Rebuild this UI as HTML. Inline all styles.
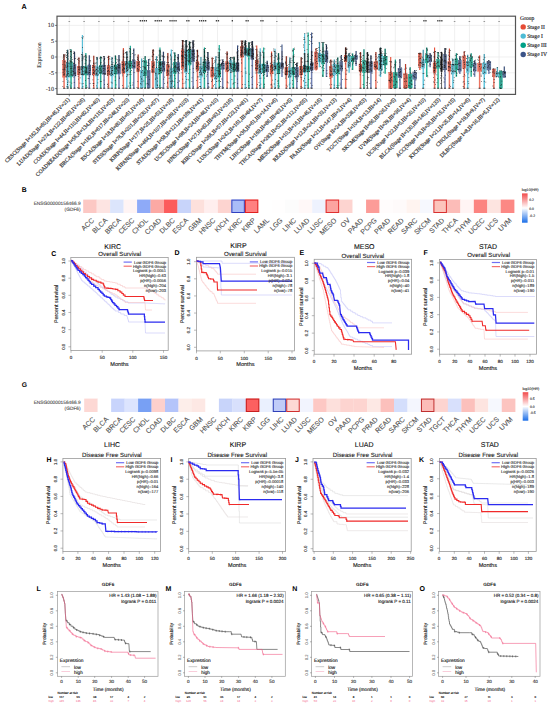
<!DOCTYPE html>
<html><head><meta charset="utf-8"><style>
html,body{margin:0;padding:0;background:#fff;width:550px;height:706px;overflow:hidden}
svg{display:block}
text{text-rendering:geometricPrecision}
</style></head><body>
<svg width="550" height="706" viewBox="0 0 550 706">
<rect x="0" y="0" width="550" height="706" fill="#fff"/>
<text x="21.6" y="8.8" font-size="7.2" text-anchor="start" fill="#000" font-family="'Liberation Sans', sans-serif" font-weight="bold">A</text>
<path d="M57 25.4H515.5M57 41.2H515.5M57 57H515.5M57 72.8H515.5M57 88.6H515.5M69.3 16.2V94.4M84.12 16.2V94.4M98.94 16.2V94.4M113.76 16.2V94.4M128.58 16.2V94.4M143.4 16.2V94.4M158.22 16.2V94.4M173.04 16.2V94.4M187.86 16.2V94.4M202.68 16.2V94.4M217.5 16.2V94.4M232.32 16.2V94.4M247.14 16.2V94.4M261.96 16.2V94.4M276.78 16.2V94.4M291.6 16.2V94.4M306.42 16.2V94.4M321.24 16.2V94.4M336.06 16.2V94.4M350.88 16.2V94.4M365.7 16.2V94.4M380.52 16.2V94.4M395.34 16.2V94.4M410.16 16.2V94.4M424.98 16.2V94.4M439.8 16.2V94.4M454.62 16.2V94.4M469.44 16.2V94.4M484.26 16.2V94.4M499.08 16.2V94.4" stroke="#e6e6e6" stroke-width="0.6" fill="none"/>
<line x1="64.09" y1="77.1" x2="64.09" y2="88.3" stroke="#EC7462" stroke-width="1.5"/>
<line x1="64.09" y1="54.2" x2="64.09" y2="60.7" stroke="#E64B35" stroke-width="1.1"/>
<rect x="62.61" y="60.7" width="2.95" height="16.4" fill="#E64B35" stroke="#E64B35" stroke-width="0.4" fill-opacity="0.78"/>
<line x1="67.56" y1="77.1" x2="67.56" y2="88.3" stroke="#62C6DE" stroke-width="1.5"/>
<line x1="67.56" y1="49.8" x2="67.56" y2="62.9" stroke="#4DBBD5" stroke-width="1.1"/>
<rect x="66.09" y="62.9" width="2.95" height="14.2" fill="#4DBBD5" stroke="#4DBBD5" stroke-width="0.4" fill-opacity="0.78"/>
<line x1="71.04" y1="77" x2="71.04" y2="88.3" stroke="#26B096" stroke-width="1.5"/>
<line x1="71.04" y1="49.3" x2="71.04" y2="61.8" stroke="#00A087" stroke-width="1.1"/>
<rect x="69.56" y="61.8" width="2.95" height="15.2" fill="#00A087" stroke="#00A087" stroke-width="0.4" fill-opacity="0.78"/>
<line x1="74.51" y1="76" x2="74.51" y2="88.3" stroke="#7080B2" stroke-width="1.5"/>
<line x1="74.51" y1="51.5" x2="74.51" y2="64.5" stroke="#3C5488" stroke-width="1.1"/>
<rect x="73.04" y="64.5" width="2.95" height="11.5" fill="#3C5488" stroke="#3C5488" stroke-width="0.4" fill-opacity="0.78"/>
<line x1="78.91" y1="74.9" x2="78.91" y2="88.3" stroke="#EC7462" stroke-width="1.5"/>
<line x1="78.91" y1="57.4" x2="78.91" y2="66.2" stroke="#E64B35" stroke-width="1.1"/>
<rect x="77.43" y="66.2" width="2.95" height="8.7" fill="#E64B35" stroke="#E64B35" stroke-width="0.4" fill-opacity="0.78"/>
<line x1="82.38" y1="74.9" x2="82.38" y2="88.3" stroke="#62C6DE" stroke-width="1.5"/>
<line x1="82.38" y1="35.1" x2="82.38" y2="66.2" stroke="#4DBBD5" stroke-width="1.1"/>
<rect x="80.91" y="66.2" width="2.95" height="8.7" fill="#4DBBD5" stroke="#4DBBD5" stroke-width="0.4" fill-opacity="0.78"/>
<line x1="85.86" y1="74.9" x2="85.86" y2="88.3" stroke="#26B096" stroke-width="1.5"/>
<line x1="85.86" y1="53.1" x2="85.86" y2="66.7" stroke="#00A087" stroke-width="1.1"/>
<rect x="84.38" y="66.7" width="2.95" height="8.2" fill="#00A087" stroke="#00A087" stroke-width="0.4" fill-opacity="0.78"/>
<line x1="89.33" y1="75" x2="89.33" y2="88.3" stroke="#7080B2" stroke-width="1.5"/>
<line x1="89.33" y1="55.3" x2="89.33" y2="65" stroke="#3C5488" stroke-width="1.1"/>
<rect x="87.86" y="65" width="2.95" height="10" fill="#3C5488" stroke="#3C5488" stroke-width="0.4" fill-opacity="0.78"/>
<line x1="93.73" y1="74.9" x2="93.73" y2="88.3" stroke="#EC7462" stroke-width="1.5"/>
<line x1="93.73" y1="55.8" x2="93.73" y2="65.6" stroke="#E64B35" stroke-width="1.1"/>
<rect x="92.25" y="65.6" width="2.95" height="9.3" fill="#E64B35" stroke="#E64B35" stroke-width="0.4" fill-opacity="0.78"/>
<line x1="97.2" y1="76" x2="97.2" y2="88.3" stroke="#62C6DE" stroke-width="1.5"/>
<line x1="97.2" y1="56.9" x2="97.2" y2="66.7" stroke="#4DBBD5" stroke-width="1.1"/>
<rect x="95.73" y="66.7" width="2.95" height="9.3" fill="#4DBBD5" stroke="#4DBBD5" stroke-width="0.4" fill-opacity="0.78"/>
<line x1="100.68" y1="73.8" x2="100.68" y2="88.3" stroke="#26B096" stroke-width="1.5"/>
<line x1="100.68" y1="56.4" x2="100.68" y2="65.6" stroke="#00A087" stroke-width="1.1"/>
<rect x="99.2" y="65.6" width="2.95" height="8.2" fill="#00A087" stroke="#00A087" stroke-width="0.4" fill-opacity="0.78"/>
<line x1="104.15" y1="74.4" x2="104.15" y2="88.3" stroke="#7080B2" stroke-width="1.5"/>
<line x1="104.15" y1="56.4" x2="104.15" y2="65" stroke="#3C5488" stroke-width="1.1"/>
<rect x="102.68" y="65" width="2.95" height="9.4" fill="#3C5488" stroke="#3C5488" stroke-width="0.4" fill-opacity="0.78"/>
<line x1="108.55" y1="74.9" x2="108.55" y2="88.3" stroke="#EC7462" stroke-width="1.5"/>
<line x1="108.55" y1="55.8" x2="108.55" y2="65.6" stroke="#E64B35" stroke-width="1.1"/>
<rect x="107.07" y="65.6" width="2.95" height="9.3" fill="#E64B35" stroke="#E64B35" stroke-width="0.4" fill-opacity="0.78"/>
<line x1="112.02" y1="76" x2="112.02" y2="88.3" stroke="#62C6DE" stroke-width="1.5"/>
<line x1="112.02" y1="57" x2="112.02" y2="66.2" stroke="#4DBBD5" stroke-width="1.1"/>
<rect x="110.55" y="66.2" width="2.95" height="9.8" fill="#4DBBD5" stroke="#4DBBD5" stroke-width="0.4" fill-opacity="0.78"/>
<line x1="115.5" y1="74" x2="115.5" y2="88.3" stroke="#26B096" stroke-width="1.5"/>
<line x1="115.5" y1="55.6" x2="115.5" y2="65" stroke="#00A087" stroke-width="1.1"/>
<rect x="114.02" y="65" width="2.95" height="9" fill="#00A087" stroke="#00A087" stroke-width="0.4" fill-opacity="0.78"/>
<line x1="118.97" y1="74" x2="118.97" y2="88.3" stroke="#7080B2" stroke-width="1.5"/>
<line x1="118.97" y1="55" x2="118.97" y2="64" stroke="#3C5488" stroke-width="1.1"/>
<rect x="117.5" y="64" width="2.95" height="10" fill="#3C5488" stroke="#3C5488" stroke-width="0.4" fill-opacity="0.78"/>
<line x1="123.37" y1="73.6" x2="123.37" y2="88.3" stroke="#EC7462" stroke-width="1.5"/>
<line x1="123.37" y1="48" x2="123.37" y2="61.6" stroke="#E64B35" stroke-width="1.1"/>
<rect x="121.89" y="61.6" width="2.95" height="12" fill="#E64B35" stroke="#E64B35" stroke-width="0.4" fill-opacity="0.78"/>
<line x1="126.84" y1="72.5" x2="126.84" y2="88.3" stroke="#62C6DE" stroke-width="1.5"/>
<line x1="126.84" y1="51.3" x2="126.84" y2="61.6" stroke="#4DBBD5" stroke-width="1.1"/>
<rect x="125.37" y="61.6" width="2.95" height="10.9" fill="#4DBBD5" stroke="#4DBBD5" stroke-width="0.4" fill-opacity="0.78"/>
<line x1="130.32" y1="68.2" x2="130.32" y2="88.3" stroke="#26B096" stroke-width="1.5"/>
<line x1="130.32" y1="45.8" x2="130.32" y2="61" stroke="#00A087" stroke-width="1.1"/>
<rect x="128.84" y="61" width="2.95" height="7.2" fill="#00A087" stroke="#00A087" stroke-width="0.4" fill-opacity="0.78"/>
<line x1="133.79" y1="68.2" x2="133.79" y2="88.3" stroke="#7080B2" stroke-width="1.5"/>
<line x1="133.79" y1="48.5" x2="133.79" y2="60.5" stroke="#3C5488" stroke-width="1.1"/>
<rect x="132.32" y="60.5" width="2.95" height="7.7" fill="#3C5488" stroke="#3C5488" stroke-width="0.4" fill-opacity="0.78"/>
<line x1="138.19" y1="71.4" x2="138.19" y2="88.3" stroke="#EC7462" stroke-width="1.5"/>
<line x1="138.19" y1="54.5" x2="138.19" y2="61.6" stroke="#E64B35" stroke-width="1.1"/>
<rect x="136.71" y="61.6" width="2.95" height="9.8" fill="#E64B35" stroke="#E64B35" stroke-width="0.4" fill-opacity="0.78"/>
<line x1="141.66" y1="87.8" x2="141.66" y2="88.3" stroke="#62C6DE" stroke-width="1.5"/>
<line x1="141.66" y1="58.4" x2="141.66" y2="70.3" stroke="#4DBBD5" stroke-width="1.1"/>
<rect x="140.19" y="70.3" width="2.95" height="17.5" fill="#4DBBD5" stroke="#4DBBD5" stroke-width="0.4" fill-opacity="0.78"/>
<line x1="145.14" y1="75.8" x2="145.14" y2="88.3" stroke="#26B096" stroke-width="1.5"/>
<line x1="145.14" y1="56.2" x2="145.14" y2="60.5" stroke="#00A087" stroke-width="1.1"/>
<rect x="143.66" y="60.5" width="2.95" height="15.3" fill="#00A087" stroke="#00A087" stroke-width="0.4" fill-opacity="0.78"/>
<line x1="148.61" y1="87.8" x2="148.61" y2="88.3" stroke="#7080B2" stroke-width="1.5"/>
<line x1="148.61" y1="58.9" x2="148.61" y2="70.3" stroke="#3C5488" stroke-width="1.1"/>
<rect x="147.14" y="70.3" width="2.95" height="17.5" fill="#3C5488" stroke="#3C5488" stroke-width="0.4" fill-opacity="0.78"/>
<line x1="153.01" y1="72.5" x2="153.01" y2="88.3" stroke="#EC7462" stroke-width="1.5"/>
<line x1="153.01" y1="49.6" x2="153.01" y2="61.6" stroke="#E64B35" stroke-width="1.1"/>
<rect x="151.53" y="61.6" width="2.95" height="10.9" fill="#E64B35" stroke="#E64B35" stroke-width="0.4" fill-opacity="0.78"/>
<line x1="156.48" y1="87.8" x2="156.48" y2="88.3" stroke="#62C6DE" stroke-width="1.5"/>
<line x1="156.48" y1="56.2" x2="156.48" y2="68.2" stroke="#4DBBD5" stroke-width="1.1"/>
<rect x="155.01" y="68.2" width="2.95" height="19.6" fill="#4DBBD5" stroke="#4DBBD5" stroke-width="0.4" fill-opacity="0.78"/>
<line x1="159.96" y1="73.6" x2="159.96" y2="88.3" stroke="#26B096" stroke-width="1.5"/>
<line x1="159.96" y1="47.4" x2="159.96" y2="61.6" stroke="#00A087" stroke-width="1.1"/>
<rect x="158.48" y="61.6" width="2.95" height="12" fill="#00A087" stroke="#00A087" stroke-width="0.4" fill-opacity="0.78"/>
<line x1="163.43" y1="71.4" x2="163.43" y2="88.3" stroke="#7080B2" stroke-width="1.5"/>
<line x1="163.43" y1="51.8" x2="163.43" y2="61.6" stroke="#3C5488" stroke-width="1.1"/>
<rect x="161.96" y="61.6" width="2.95" height="9.8" fill="#3C5488" stroke="#3C5488" stroke-width="0.4" fill-opacity="0.78"/>
<line x1="167.83" y1="75.8" x2="167.83" y2="88.3" stroke="#EC7462" stroke-width="1.5"/>
<line x1="167.83" y1="52.9" x2="167.83" y2="64.9" stroke="#E64B35" stroke-width="1.1"/>
<rect x="166.35" y="64.9" width="2.95" height="10.9" fill="#E64B35" stroke="#E64B35" stroke-width="0.4" fill-opacity="0.78"/>
<line x1="171.3" y1="87.8" x2="171.3" y2="88.3" stroke="#62C6DE" stroke-width="1.5"/>
<line x1="171.3" y1="49.6" x2="171.3" y2="68.2" stroke="#4DBBD5" stroke-width="1.1"/>
<rect x="169.83" y="68.2" width="2.95" height="19.6" fill="#4DBBD5" stroke="#4DBBD5" stroke-width="0.4" fill-opacity="0.78"/>
<line x1="174.78" y1="73.6" x2="174.78" y2="88.3" stroke="#26B096" stroke-width="1.5"/>
<line x1="174.78" y1="52.4" x2="174.78" y2="62.7" stroke="#00A087" stroke-width="1.1"/>
<rect x="173.3" y="62.7" width="2.95" height="10.9" fill="#00A087" stroke="#00A087" stroke-width="0.4" fill-opacity="0.78"/>
<line x1="178.25" y1="71.4" x2="178.25" y2="88.3" stroke="#7080B2" stroke-width="1.5"/>
<line x1="178.25" y1="54" x2="178.25" y2="62.7" stroke="#3C5488" stroke-width="1.1"/>
<rect x="176.78" y="62.7" width="2.95" height="8.7" fill="#3C5488" stroke="#3C5488" stroke-width="0.4" fill-opacity="0.78"/>
<line x1="182.65" y1="68.3" x2="182.65" y2="88.3" stroke="#EC7462" stroke-width="1.5"/>
<line x1="182.65" y1="40" x2="182.65" y2="49.8" stroke="#E64B35" stroke-width="1.1"/>
<rect x="181.17" y="49.8" width="2.95" height="18.5" fill="#E64B35" stroke="#E64B35" stroke-width="0.4" fill-opacity="0.78"/>
<line x1="186.12" y1="72.7" x2="186.12" y2="88.3" stroke="#62C6DE" stroke-width="1.5"/>
<line x1="186.12" y1="40" x2="186.12" y2="49.8" stroke="#4DBBD5" stroke-width="1.1"/>
<rect x="184.65" y="49.8" width="2.95" height="22.9" fill="#4DBBD5" stroke="#4DBBD5" stroke-width="0.4" fill-opacity="0.78"/>
<line x1="189.6" y1="65" x2="189.6" y2="88.3" stroke="#26B096" stroke-width="1.5"/>
<line x1="189.6" y1="41.6" x2="189.6" y2="49.8" stroke="#00A087" stroke-width="1.1"/>
<rect x="188.12" y="49.8" width="2.95" height="15.2" fill="#00A087" stroke="#00A087" stroke-width="0.4" fill-opacity="0.78"/>
<line x1="193.07" y1="61.8" x2="193.07" y2="88.3" stroke="#7080B2" stroke-width="1.5"/>
<line x1="193.07" y1="40.5" x2="193.07" y2="49.8" stroke="#3C5488" stroke-width="1.1"/>
<rect x="191.6" y="49.8" width="2.95" height="12" fill="#3C5488" stroke="#3C5488" stroke-width="0.4" fill-opacity="0.78"/>
<line x1="197.47" y1="70.5" x2="197.47" y2="88.3" stroke="#EC7462" stroke-width="1.5"/>
<line x1="197.47" y1="49.8" x2="197.47" y2="61.8" stroke="#E64B35" stroke-width="1.1"/>
<rect x="195.99" y="61.8" width="2.95" height="8.7" fill="#E64B35" stroke="#E64B35" stroke-width="0.4" fill-opacity="0.78"/>
<line x1="200.94" y1="77.1" x2="200.94" y2="88.3" stroke="#62C6DE" stroke-width="1.5"/>
<line x1="200.94" y1="56.9" x2="200.94" y2="66.2" stroke="#4DBBD5" stroke-width="1.1"/>
<rect x="199.47" y="66.2" width="2.95" height="10.9" fill="#4DBBD5" stroke="#4DBBD5" stroke-width="0.4" fill-opacity="0.78"/>
<line x1="204.42" y1="72.7" x2="204.42" y2="88.3" stroke="#26B096" stroke-width="1.5"/>
<line x1="204.42" y1="47.6" x2="204.42" y2="61.8" stroke="#00A087" stroke-width="1.1"/>
<rect x="202.94" y="61.8" width="2.95" height="10.9" fill="#00A087" stroke="#00A087" stroke-width="0.4" fill-opacity="0.78"/>
<line x1="207.89" y1="70.5" x2="207.89" y2="88.3" stroke="#7080B2" stroke-width="1.5"/>
<line x1="207.89" y1="52" x2="207.89" y2="61.8" stroke="#3C5488" stroke-width="1.1"/>
<rect x="206.42" y="61.8" width="2.95" height="8.7" fill="#3C5488" stroke="#3C5488" stroke-width="0.4" fill-opacity="0.78"/>
<line x1="212.29" y1="77.1" x2="212.29" y2="88.3" stroke="#EC7462" stroke-width="1.5"/>
<line x1="212.29" y1="57.4" x2="212.29" y2="67.3" stroke="#E64B35" stroke-width="1.1"/>
<rect x="210.81" y="67.3" width="2.95" height="9.8" fill="#E64B35" stroke="#E64B35" stroke-width="0.4" fill-opacity="0.78"/>
<line x1="215.76" y1="79.2" x2="215.76" y2="88.3" stroke="#62C6DE" stroke-width="1.5"/>
<line x1="215.76" y1="56.3" x2="215.76" y2="67.3" stroke="#4DBBD5" stroke-width="1.1"/>
<rect x="214.29" y="67.3" width="2.95" height="11.9" fill="#4DBBD5" stroke="#4DBBD5" stroke-width="0.4" fill-opacity="0.78"/>
<line x1="219.24" y1="77.1" x2="219.24" y2="88.3" stroke="#26B096" stroke-width="1.5"/>
<line x1="219.24" y1="44.9" x2="219.24" y2="64" stroke="#00A087" stroke-width="1.1"/>
<rect x="217.76" y="64" width="2.95" height="13.1" fill="#00A087" stroke="#00A087" stroke-width="0.4" fill-opacity="0.78"/>
<line x1="222.71" y1="69.4" x2="222.71" y2="88.3" stroke="#7080B2" stroke-width="1.5"/>
<line x1="222.71" y1="59.6" x2="222.71" y2="62.9" stroke="#3C5488" stroke-width="1.1"/>
<rect x="221.24" y="62.9" width="2.95" height="6.5" fill="#3C5488" stroke="#3C5488" stroke-width="0.4" fill-opacity="0.78"/>
<line x1="227.11" y1="71.6" x2="227.11" y2="88.3" stroke="#EC7462" stroke-width="1.5"/>
<line x1="227.11" y1="51.4" x2="227.11" y2="61.8" stroke="#E64B35" stroke-width="1.1"/>
<rect x="225.63" y="61.8" width="2.95" height="9.8" fill="#E64B35" stroke="#E64B35" stroke-width="0.4" fill-opacity="0.78"/>
<line x1="230.58" y1="70.5" x2="230.58" y2="88.3" stroke="#62C6DE" stroke-width="1.5"/>
<line x1="230.58" y1="56.9" x2="230.58" y2="60.7" stroke="#4DBBD5" stroke-width="1.1"/>
<rect x="229.11" y="60.7" width="2.95" height="9.8" fill="#4DBBD5" stroke="#4DBBD5" stroke-width="0.4" fill-opacity="0.78"/>
<line x1="234.06" y1="71.6" x2="234.06" y2="88.3" stroke="#26B096" stroke-width="1.5"/>
<line x1="234.06" y1="56.9" x2="234.06" y2="62.9" stroke="#00A087" stroke-width="1.1"/>
<rect x="232.58" y="62.9" width="2.95" height="8.7" fill="#00A087" stroke="#00A087" stroke-width="0.4" fill-opacity="0.78"/>
<line x1="237.53" y1="71.6" x2="237.53" y2="88.3" stroke="#7080B2" stroke-width="1.5"/>
<line x1="237.53" y1="45.4" x2="237.53" y2="62.9" stroke="#3C5488" stroke-width="1.1"/>
<rect x="236.06" y="62.9" width="2.95" height="8.7" fill="#3C5488" stroke="#3C5488" stroke-width="0.4" fill-opacity="0.78"/>
<line x1="241.93" y1="57.4" x2="241.93" y2="88.3" stroke="#EC7462" stroke-width="1.5"/>
<line x1="241.93" y1="40.5" x2="241.93" y2="46.5" stroke="#E64B35" stroke-width="1.1"/>
<rect x="240.45" y="46.5" width="2.95" height="10.9" fill="#E64B35" stroke="#E64B35" stroke-width="0.4" fill-opacity="0.78"/>
<line x1="245.4" y1="55.3" x2="245.4" y2="88.3" stroke="#62C6DE" stroke-width="1.5"/>
<line x1="245.4" y1="40.5" x2="245.4" y2="47.6" stroke="#4DBBD5" stroke-width="1.1"/>
<rect x="243.93" y="47.6" width="2.95" height="7.7" fill="#4DBBD5" stroke="#4DBBD5" stroke-width="0.4" fill-opacity="0.78"/>
<line x1="248.88" y1="56.3" x2="248.88" y2="88.3" stroke="#26B096" stroke-width="1.5"/>
<line x1="248.88" y1="42.2" x2="248.88" y2="48.7" stroke="#00A087" stroke-width="1.1"/>
<rect x="247.4" y="48.7" width="2.95" height="7.6" fill="#00A087" stroke="#00A087" stroke-width="0.4" fill-opacity="0.78"/>
<line x1="252.35" y1="59.6" x2="252.35" y2="88.3" stroke="#7080B2" stroke-width="1.5"/>
<line x1="252.35" y1="41.1" x2="252.35" y2="48.7" stroke="#3C5488" stroke-width="1.1"/>
<rect x="250.88" y="48.7" width="2.95" height="10.9" fill="#3C5488" stroke="#3C5488" stroke-width="0.4" fill-opacity="0.78"/>
<line x1="256.75" y1="70.5" x2="256.75" y2="88.3" stroke="#EC7462" stroke-width="1.5"/>
<line x1="256.75" y1="45.4" x2="256.75" y2="60.7" stroke="#E64B35" stroke-width="1.1"/>
<rect x="255.27" y="60.7" width="2.95" height="9.8" fill="#E64B35" stroke="#E64B35" stroke-width="0.4" fill-opacity="0.78"/>
<line x1="260.22" y1="73.8" x2="260.22" y2="88.3" stroke="#62C6DE" stroke-width="1.5"/>
<line x1="260.22" y1="48.2" x2="260.22" y2="64" stroke="#4DBBD5" stroke-width="1.1"/>
<rect x="258.75" y="64" width="2.95" height="9.8" fill="#4DBBD5" stroke="#4DBBD5" stroke-width="0.4" fill-opacity="0.78"/>
<line x1="263.7" y1="72.7" x2="263.7" y2="88.3" stroke="#26B096" stroke-width="1.5"/>
<line x1="263.7" y1="47.6" x2="263.7" y2="64" stroke="#00A087" stroke-width="1.1"/>
<rect x="262.22" y="64" width="2.95" height="8.7" fill="#00A087" stroke="#00A087" stroke-width="0.4" fill-opacity="0.78"/>
<line x1="267.17" y1="71.6" x2="267.17" y2="77" stroke="#7080B2" stroke-width="1.5"/>
<line x1="267.17" y1="60.7" x2="267.17" y2="65" stroke="#3C5488" stroke-width="1.1"/>
<rect x="265.7" y="65" width="2.95" height="6.6" fill="#3C5488" stroke="#3C5488" stroke-width="0.4" fill-opacity="0.78"/>
<line x1="271.57" y1="73.8" x2="271.57" y2="88.3" stroke="#EC7462" stroke-width="1.5"/>
<line x1="271.57" y1="51.4" x2="271.57" y2="65" stroke="#E64B35" stroke-width="1.1"/>
<rect x="270.09" y="65" width="2.95" height="8.8" fill="#E64B35" stroke="#E64B35" stroke-width="0.4" fill-opacity="0.78"/>
<line x1="275.04" y1="70.5" x2="275.04" y2="88.3" stroke="#62C6DE" stroke-width="1.5"/>
<line x1="275.04" y1="48.7" x2="275.04" y2="62.9" stroke="#4DBBD5" stroke-width="1.1"/>
<rect x="273.57" y="62.9" width="2.95" height="7.6" fill="#4DBBD5" stroke="#4DBBD5" stroke-width="0.4" fill-opacity="0.78"/>
<line x1="278.52" y1="73.8" x2="278.52" y2="88.3" stroke="#26B096" stroke-width="1.5"/>
<line x1="278.52" y1="53.1" x2="278.52" y2="62.9" stroke="#00A087" stroke-width="1.1"/>
<rect x="277.04" y="62.9" width="2.95" height="10.9" fill="#00A087" stroke="#00A087" stroke-width="0.4" fill-opacity="0.78"/>
<line x1="281.99" y1="68.3" x2="281.99" y2="77" stroke="#7080B2" stroke-width="1.5"/>
<line x1="281.99" y1="44.4" x2="281.99" y2="62.9" stroke="#3C5488" stroke-width="1.1"/>
<rect x="280.52" y="62.9" width="2.95" height="5.4" fill="#3C5488" stroke="#3C5488" stroke-width="0.4" fill-opacity="0.78"/>
<line x1="286.39" y1="74.9" x2="286.39" y2="88.3" stroke="#EC7462" stroke-width="1.5"/>
<line x1="286.39" y1="56.3" x2="286.39" y2="67.3" stroke="#E64B35" stroke-width="1.1"/>
<rect x="284.91" y="67.3" width="2.95" height="7.6" fill="#E64B35" stroke="#E64B35" stroke-width="0.4" fill-opacity="0.78"/>
<line x1="289.86" y1="77.1" x2="289.86" y2="88.3" stroke="#62C6DE" stroke-width="1.5"/>
<line x1="289.86" y1="57.4" x2="289.86" y2="68.3" stroke="#4DBBD5" stroke-width="1.1"/>
<rect x="288.39" y="68.3" width="2.95" height="8.8" fill="#4DBBD5" stroke="#4DBBD5" stroke-width="0.4" fill-opacity="0.78"/>
<line x1="293.34" y1="74.9" x2="293.34" y2="88.3" stroke="#26B096" stroke-width="1.5"/>
<line x1="293.34" y1="48.2" x2="293.34" y2="67.3" stroke="#00A087" stroke-width="1.1"/>
<rect x="291.86" y="67.3" width="2.95" height="7.6" fill="#00A087" stroke="#00A087" stroke-width="0.4" fill-opacity="0.78"/>
<line x1="296.81" y1="77.1" x2="296.81" y2="88.3" stroke="#7080B2" stroke-width="1.5"/>
<line x1="296.81" y1="62.9" x2="296.81" y2="67.3" stroke="#3C5488" stroke-width="1.1"/>
<rect x="295.34" y="67.3" width="2.95" height="9.8" fill="#3C5488" stroke="#3C5488" stroke-width="0.4" fill-opacity="0.78"/>
<line x1="301.21" y1="74.9" x2="301.21" y2="88.3" stroke="#EC7462" stroke-width="1.5"/>
<line x1="301.21" y1="57.4" x2="301.21" y2="66.2" stroke="#E64B35" stroke-width="1.1"/>
<rect x="299.73" y="66.2" width="2.95" height="8.7" fill="#E64B35" stroke="#E64B35" stroke-width="0.4" fill-opacity="0.78"/>
<line x1="304.68" y1="72.7" x2="304.68" y2="88.3" stroke="#62C6DE" stroke-width="1.5"/>
<line x1="304.68" y1="33.4" x2="304.68" y2="65" stroke="#4DBBD5" stroke-width="1.1"/>
<rect x="303.21" y="65" width="2.95" height="7.7" fill="#4DBBD5" stroke="#4DBBD5" stroke-width="0.4" fill-opacity="0.78"/>
<line x1="308.16" y1="71.6" x2="308.16" y2="88.3" stroke="#26B096" stroke-width="1.5"/>
<line x1="308.16" y1="32.4" x2="308.16" y2="66.2" stroke="#00A087" stroke-width="1.1"/>
<rect x="306.68" y="66.2" width="2.95" height="5.4" fill="#00A087" stroke="#00A087" stroke-width="0.4" fill-opacity="0.78"/>
<line x1="311.63" y1="70.5" x2="311.63" y2="88.3" stroke="#7080B2" stroke-width="1.5"/>
<line x1="311.63" y1="32.4" x2="311.63" y2="62.9" stroke="#3C5488" stroke-width="1.1"/>
<rect x="310.16" y="62.9" width="2.95" height="7.6" fill="#3C5488" stroke="#3C5488" stroke-width="0.4" fill-opacity="0.78"/>
<line x1="316.03" y1="69.4" x2="316.03" y2="70.5" stroke="#EC7462" stroke-width="1.5"/>
<line x1="316.03" y1="48.2" x2="316.03" y2="52" stroke="#E64B35" stroke-width="1.1"/>
<rect x="314.55" y="52" width="2.95" height="17.4" fill="#E64B35" stroke="#E64B35" stroke-width="0.4" fill-opacity="0.78"/>
<line x1="319.5" y1="61.8" x2="319.5" y2="67.3" stroke="#62C6DE" stroke-width="1.5"/>
<line x1="319.5" y1="42.2" x2="319.5" y2="53.1" stroke="#4DBBD5" stroke-width="1.1"/>
<rect x="318.03" y="53.1" width="2.95" height="8.7" fill="#4DBBD5" stroke="#4DBBD5" stroke-width="0.4" fill-opacity="0.78"/>
<line x1="322.98" y1="64" x2="322.98" y2="77" stroke="#26B096" stroke-width="1.5"/>
<line x1="322.98" y1="42.2" x2="322.98" y2="54.2" stroke="#00A087" stroke-width="1.1"/>
<rect x="321.5" y="54.2" width="2.95" height="9.8" fill="#00A087" stroke="#00A087" stroke-width="0.4" fill-opacity="0.78"/>
<line x1="326.45" y1="61.8" x2="326.45" y2="77" stroke="#7080B2" stroke-width="1.5"/>
<line x1="326.45" y1="44.4" x2="326.45" y2="50.9" stroke="#3C5488" stroke-width="1.1"/>
<rect x="324.98" y="50.9" width="2.95" height="10.9" fill="#3C5488" stroke="#3C5488" stroke-width="0.4" fill-opacity="0.78"/>
<line x1="330.85" y1="77.1" x2="330.85" y2="88.3" stroke="#EC7462" stroke-width="1.5"/>
<line x1="330.85" y1="59.6" x2="330.85" y2="66.2" stroke="#E64B35" stroke-width="1.1"/>
<rect x="329.37" y="66.2" width="2.95" height="10.9" fill="#E64B35" stroke="#E64B35" stroke-width="0.4" fill-opacity="0.78"/>
<line x1="334.32" y1="74.9" x2="334.32" y2="88.3" stroke="#62C6DE" stroke-width="1.5"/>
<line x1="334.32" y1="59.6" x2="334.32" y2="64" stroke="#4DBBD5" stroke-width="1.1"/>
<rect x="332.85" y="64" width="2.95" height="10.9" fill="#4DBBD5" stroke="#4DBBD5" stroke-width="0.4" fill-opacity="0.78"/>
<line x1="337.8" y1="73.8" x2="337.8" y2="88.3" stroke="#26B096" stroke-width="1.5"/>
<line x1="337.8" y1="57.4" x2="337.8" y2="65" stroke="#00A087" stroke-width="1.1"/>
<rect x="336.32" y="65" width="2.95" height="8.8" fill="#00A087" stroke="#00A087" stroke-width="0.4" fill-opacity="0.78"/>
<line x1="341.27" y1="70.5" x2="341.27" y2="88.3" stroke="#7080B2" stroke-width="1.5"/>
<line x1="341.27" y1="55.3" x2="341.27" y2="61.8" stroke="#3C5488" stroke-width="1.1"/>
<rect x="339.8" y="61.8" width="2.95" height="8.7" fill="#3C5488" stroke="#3C5488" stroke-width="0.4" fill-opacity="0.78"/>
<line x1="345.67" y1="61.8" x2="345.67" y2="88.3" stroke="#EC7462" stroke-width="1.5"/>
<line x1="345.67" y1="47.6" x2="345.67" y2="55.3" stroke="#E64B35" stroke-width="1.1"/>
<rect x="344.19" y="55.3" width="2.95" height="6.5" fill="#E64B35" stroke="#E64B35" stroke-width="0.4" fill-opacity="0.78"/>
<line x1="349.14" y1="67.3" x2="349.14" y2="72.7" stroke="#62C6DE" stroke-width="1.5"/>
<line x1="349.14" y1="53.1" x2="349.14" y2="55.3" stroke="#4DBBD5" stroke-width="1.1"/>
<rect x="347.67" y="55.3" width="2.95" height="12" fill="#4DBBD5" stroke="#4DBBD5" stroke-width="0.4" fill-opacity="0.78"/>
<line x1="352.62" y1="61.8" x2="352.62" y2="70" stroke="#26B096" stroke-width="1.5"/>
<line x1="352.62" y1="53.6" x2="352.62" y2="56.3" stroke="#00A087" stroke-width="1.1"/>
<rect x="351.14" y="56.3" width="2.95" height="5.5" fill="#00A087" stroke="#00A087" stroke-width="0.4" fill-opacity="0.78"/>
<line x1="356.09" y1="59.6" x2="356.09" y2="66" stroke="#7080B2" stroke-width="1.5"/>
<line x1="356.09" y1="50.9" x2="356.09" y2="55.3" stroke="#3C5488" stroke-width="1.1"/>
<rect x="354.62" y="55.3" width="2.95" height="4.3" fill="#3C5488" stroke="#3C5488" stroke-width="0.4" fill-opacity="0.78"/>
<line x1="360.49" y1="71.6" x2="360.49" y2="88.3" stroke="#EC7462" stroke-width="1.5"/>
<line x1="360.49" y1="52" x2="360.49" y2="64" stroke="#E64B35" stroke-width="1.1"/>
<rect x="359.01" y="64" width="2.95" height="7.6" fill="#E64B35" stroke="#E64B35" stroke-width="0.4" fill-opacity="0.78"/>
<line x1="363.96" y1="72.7" x2="363.96" y2="88.3" stroke="#26B096" stroke-width="1.5"/>
<line x1="363.96" y1="49.3" x2="363.96" y2="60.7" stroke="#00A087" stroke-width="1.1"/>
<rect x="362.49" y="60.7" width="2.95" height="12" fill="#00A087" stroke="#00A087" stroke-width="0.4" fill-opacity="0.78"/>
<line x1="367.44" y1="52" x2="367.44" y2="88.3" stroke="#555" stroke-width="0.9"/>
<rect x="366.44" y="60.7" width="2" height="12" fill="#1a1a1a" stroke="none" stroke-width="1" opacity="0.8"/>
<line x1="370.91" y1="72.7" x2="370.91" y2="88.3" stroke="#7080B2" stroke-width="1.5"/>
<line x1="370.91" y1="55.3" x2="370.91" y2="61.8" stroke="#3C5488" stroke-width="1.1"/>
<rect x="369.44" y="61.8" width="2.95" height="10.9" fill="#3C5488" stroke="#3C5488" stroke-width="0.4" fill-opacity="0.78"/>
<line x1="375.89" y1="69.4" x2="375.89" y2="88.3" stroke="#EC7462" stroke-width="1.5"/>
<line x1="375.89" y1="52" x2="375.89" y2="61.8" stroke="#E64B35" stroke-width="1.1"/>
<rect x="373.92" y="61.8" width="3.94" height="7.6" fill="#E64B35" stroke="#E64B35" stroke-width="0.4" fill-opacity="0.78"/>
<line x1="380.52" y1="70.5" x2="380.52" y2="77" stroke="#62C6DE" stroke-width="1.5"/>
<line x1="380.52" y1="47.6" x2="380.52" y2="54.2" stroke="#4DBBD5" stroke-width="1.1"/>
<rect x="378.55" y="54.2" width="3.94" height="16.3" fill="#4DBBD5" stroke="#4DBBD5" stroke-width="0.4" fill-opacity="0.78"/>
<line x1="385.15" y1="65" x2="385.15" y2="73.8" stroke="#26B096" stroke-width="1.5"/>
<line x1="385.15" y1="48.7" x2="385.15" y2="56.3" stroke="#00A087" stroke-width="1.1"/>
<rect x="383.18" y="56.3" width="3.94" height="8.7" fill="#00A087" stroke="#00A087" stroke-width="0.4" fill-opacity="0.78"/>
<line x1="390.71" y1="88.3" x2="390.71" y2="88.3" stroke="#EC7462" stroke-width="1.5"/>
<line x1="390.71" y1="56.9" x2="390.71" y2="72.7" stroke="#E64B35" stroke-width="1.1"/>
<rect x="388.74" y="72.7" width="3.94" height="15.6" fill="#E64B35" stroke="#E64B35" stroke-width="0.4" fill-opacity="0.78"/>
<line x1="395.34" y1="88" x2="395.34" y2="88.3" stroke="#26B096" stroke-width="1.5"/>
<line x1="395.34" y1="59.6" x2="395.34" y2="72.7" stroke="#00A087" stroke-width="1.1"/>
<rect x="393.37" y="72.7" width="3.94" height="15.3" fill="#00A087" stroke="#00A087" stroke-width="0.4" fill-opacity="0.78"/>
<line x1="399.97" y1="77.6" x2="399.97" y2="88.3" stroke="#7080B2" stroke-width="1.5"/>
<line x1="399.97" y1="59" x2="399.97" y2="68.3" stroke="#3C5488" stroke-width="1.1"/>
<rect x="398" y="68.3" width="3.94" height="9.3" fill="#3C5488" stroke="#3C5488" stroke-width="0.4" fill-opacity="0.78"/>
<line x1="405.53" y1="88" x2="405.53" y2="88.3" stroke="#EC7462" stroke-width="1.5"/>
<line x1="405.53" y1="64" x2="405.53" y2="73.8" stroke="#E64B35" stroke-width="1.1"/>
<rect x="403.56" y="73.8" width="3.94" height="14.2" fill="#E64B35" stroke="#E64B35" stroke-width="0.4" fill-opacity="0.78"/>
<line x1="410.16" y1="88" x2="410.16" y2="88.3" stroke="#26B096" stroke-width="1.5"/>
<line x1="410.16" y1="67.3" x2="410.16" y2="74.3" stroke="#00A087" stroke-width="1.1"/>
<rect x="408.19" y="74.3" width="3.94" height="13.7" fill="#00A087" stroke="#00A087" stroke-width="0.4" fill-opacity="0.78"/>
<line x1="414.79" y1="79.2" x2="414.79" y2="88.3" stroke="#7080B2" stroke-width="1.5"/>
<line x1="414.79" y1="70" x2="414.79" y2="72.7" stroke="#3C5488" stroke-width="1.1"/>
<rect x="412.82" y="72.7" width="3.94" height="6.5" fill="#3C5488" stroke="#3C5488" stroke-width="0.4" fill-opacity="0.78"/>
<line x1="419.77" y1="66.2" x2="419.77" y2="70" stroke="#EC7462" stroke-width="1.5"/>
<line x1="419.77" y1="53.1" x2="419.77" y2="53.6" stroke="#E64B35" stroke-width="1.1"/>
<rect x="418.29" y="53.6" width="2.95" height="12.6" fill="#E64B35" stroke="#E64B35" stroke-width="0.4" fill-opacity="0.78"/>
<line x1="423.24" y1="68.3" x2="423.24" y2="88.3" stroke="#62C6DE" stroke-width="1.5"/>
<line x1="423.24" y1="49.8" x2="423.24" y2="59.6" stroke="#4DBBD5" stroke-width="1.1"/>
<rect x="421.77" y="59.6" width="2.95" height="8.7" fill="#4DBBD5" stroke="#4DBBD5" stroke-width="0.4" fill-opacity="0.78"/>
<line x1="426.72" y1="62.9" x2="426.72" y2="77" stroke="#26B096" stroke-width="1.5"/>
<line x1="426.72" y1="47.6" x2="426.72" y2="55.3" stroke="#00A087" stroke-width="1.1"/>
<rect x="425.24" y="55.3" width="2.95" height="7.6" fill="#00A087" stroke="#00A087" stroke-width="0.4" fill-opacity="0.78"/>
<line x1="430.19" y1="61.8" x2="430.19" y2="67.3" stroke="#7080B2" stroke-width="1.5"/>
<line x1="430.19" y1="53.1" x2="430.19" y2="55.3" stroke="#3C5488" stroke-width="1.1"/>
<rect x="428.72" y="55.3" width="2.95" height="6.5" fill="#3C5488" stroke="#3C5488" stroke-width="0.4" fill-opacity="0.78"/>
<line x1="434.59" y1="72.7" x2="434.59" y2="88.3" stroke="#EC7462" stroke-width="1.5"/>
<line x1="434.59" y1="47.6" x2="434.59" y2="62.9" stroke="#E64B35" stroke-width="1.1"/>
<rect x="433.11" y="62.9" width="2.95" height="9.8" fill="#E64B35" stroke="#E64B35" stroke-width="0.4" fill-opacity="0.78"/>
<line x1="438.06" y1="68.3" x2="438.06" y2="88.3" stroke="#26B096" stroke-width="1.5"/>
<line x1="438.06" y1="52" x2="438.06" y2="59.6" stroke="#00A087" stroke-width="1.1"/>
<rect x="436.59" y="59.6" width="2.95" height="8.7" fill="#00A087" stroke="#00A087" stroke-width="0.4" fill-opacity="0.78"/>
<line x1="441.54" y1="52" x2="441.54" y2="88.3" stroke="#555" stroke-width="0.9"/>
<rect x="440.54" y="58" width="2" height="14" fill="#1a1a1a" stroke="none" stroke-width="1" opacity="0.8"/>
<line x1="445.01" y1="69.9" x2="445.01" y2="88.3" stroke="#7080B2" stroke-width="1.5"/>
<line x1="445.01" y1="48.5" x2="445.01" y2="54.7" stroke="#3C5488" stroke-width="1.1"/>
<rect x="443.54" y="54.7" width="2.95" height="15.2" fill="#3C5488" stroke="#3C5488" stroke-width="0.4" fill-opacity="0.78"/>
<line x1="449.41" y1="71.2" x2="449.41" y2="88.3" stroke="#EC7462" stroke-width="1.5"/>
<line x1="449.41" y1="48.5" x2="449.41" y2="61.6" stroke="#E64B35" stroke-width="1.1"/>
<rect x="447.93" y="61.6" width="2.95" height="9.6" fill="#E64B35" stroke="#E64B35" stroke-width="0.4" fill-opacity="0.78"/>
<line x1="452.88" y1="74" x2="452.88" y2="88.3" stroke="#62C6DE" stroke-width="1.5"/>
<line x1="452.88" y1="58.8" x2="452.88" y2="64.3" stroke="#4DBBD5" stroke-width="1.1"/>
<rect x="451.41" y="64.3" width="2.95" height="9.7" fill="#4DBBD5" stroke="#4DBBD5" stroke-width="0.4" fill-opacity="0.78"/>
<line x1="456.36" y1="69.9" x2="456.36" y2="76.8" stroke="#26B096" stroke-width="1.5"/>
<line x1="456.36" y1="53.3" x2="456.36" y2="58.8" stroke="#00A087" stroke-width="1.1"/>
<rect x="454.88" y="58.8" width="2.95" height="11.1" fill="#00A087" stroke="#00A087" stroke-width="0.4" fill-opacity="0.78"/>
<line x1="459.83" y1="71.2" x2="459.83" y2="74" stroke="#7080B2" stroke-width="1.5"/>
<line x1="459.83" y1="56" x2="459.83" y2="60.2" stroke="#3C5488" stroke-width="1.1"/>
<rect x="458.36" y="60.2" width="2.95" height="11" fill="#3C5488" stroke="#3C5488" stroke-width="0.4" fill-opacity="0.78"/>
<line x1="464.23" y1="68.5" x2="464.23" y2="88.3" stroke="#EC7462" stroke-width="1.5"/>
<line x1="464.23" y1="51.2" x2="464.23" y2="56" stroke="#E64B35" stroke-width="1.1"/>
<rect x="462.75" y="56" width="2.95" height="12.5" fill="#E64B35" stroke="#E64B35" stroke-width="0.4" fill-opacity="0.78"/>
<line x1="467.7" y1="72.6" x2="467.7" y2="88.3" stroke="#62C6DE" stroke-width="1.5"/>
<line x1="467.7" y1="54.7" x2="467.7" y2="61.6" stroke="#4DBBD5" stroke-width="1.1"/>
<rect x="466.23" y="61.6" width="2.95" height="11" fill="#4DBBD5" stroke="#4DBBD5" stroke-width="0.4" fill-opacity="0.78"/>
<line x1="471.18" y1="67.1" x2="471.18" y2="76.8" stroke="#26B096" stroke-width="1.5"/>
<line x1="471.18" y1="53.3" x2="471.18" y2="57.4" stroke="#00A087" stroke-width="1.1"/>
<rect x="469.7" y="57.4" width="2.95" height="9.7" fill="#00A087" stroke="#00A087" stroke-width="0.4" fill-opacity="0.78"/>
<line x1="474.65" y1="71.2" x2="474.65" y2="76.8" stroke="#7080B2" stroke-width="1.5"/>
<line x1="474.65" y1="60.2" x2="474.65" y2="63" stroke="#3C5488" stroke-width="1.1"/>
<rect x="473.18" y="63" width="2.95" height="8.2" fill="#3C5488" stroke="#3C5488" stroke-width="0.4" fill-opacity="0.78"/>
<line x1="479.63" y1="71.2" x2="479.63" y2="88.3" stroke="#EC7462" stroke-width="1.5"/>
<line x1="479.63" y1="55.4" x2="479.63" y2="63.7" stroke="#E64B35" stroke-width="1.1"/>
<rect x="477.66" y="63.7" width="3.94" height="7.5" fill="#E64B35" stroke="#E64B35" stroke-width="0.4" fill-opacity="0.78"/>
<line x1="484.26" y1="74" x2="484.26" y2="88.3" stroke="#62C6DE" stroke-width="1.5"/>
<line x1="484.26" y1="54" x2="484.26" y2="63" stroke="#4DBBD5" stroke-width="1.1"/>
<rect x="482.29" y="63" width="3.94" height="11" fill="#4DBBD5" stroke="#4DBBD5" stroke-width="0.4" fill-opacity="0.78"/>
<line x1="488.89" y1="69.9" x2="488.89" y2="74" stroke="#7080B2" stroke-width="1.5"/>
<line x1="488.89" y1="60.2" x2="488.89" y2="61.6" stroke="#3C5488" stroke-width="1.1"/>
<rect x="486.92" y="61.6" width="3.94" height="8.3" fill="#3C5488" stroke="#3C5488" stroke-width="0.4" fill-opacity="0.78"/>
<line x1="493.87" y1="76.8" x2="493.87" y2="88.3" stroke="#EC7462" stroke-width="1.5"/>
<line x1="493.87" y1="68.5" x2="493.87" y2="69.2" stroke="#E64B35" stroke-width="1.1"/>
<rect x="492.39" y="69.2" width="2.95" height="7.6" fill="#E64B35" stroke="#E64B35" stroke-width="0.4" fill-opacity="0.78"/>
<line x1="497.34" y1="76.8" x2="497.34" y2="77" stroke="#62C6DE" stroke-width="1.5"/>
<line x1="497.34" y1="67.1" x2="497.34" y2="72.6" stroke="#4DBBD5" stroke-width="1.1"/>
<rect x="495.87" y="72.6" width="2.95" height="4.2" fill="#4DBBD5" stroke="#4DBBD5" stroke-width="0.4" fill-opacity="0.78"/>
<line x1="500.82" y1="88.5" x2="500.82" y2="88.3" stroke="#26B096" stroke-width="1.5"/>
<line x1="500.82" y1="70.6" x2="500.82" y2="71.2" stroke="#00A087" stroke-width="1.1"/>
<rect x="499.34" y="71.2" width="2.95" height="17.3" fill="#00A087" stroke="#00A087" stroke-width="0.4" fill-opacity="0.78"/>
<line x1="504.29" y1="77.5" x2="504.29" y2="77.5" stroke="#7080B2" stroke-width="1.5"/>
<line x1="504.29" y1="66.4" x2="504.29" y2="71.2" stroke="#3C5488" stroke-width="1.1"/>
<rect x="502.82" y="71.2" width="2.95" height="6.3" fill="#3C5488" stroke="#3C5488" stroke-width="0.4" fill-opacity="0.78"/>
<rect x="63.34" y="54.2" width="1.5" height="21.26" fill="#111" opacity="0.4"/>
<rect x="66.81" y="50.9" width="1.5" height="24.78" fill="#111" opacity="0.6"/>
<rect x="70.29" y="49.8" width="1.5" height="25.68" fill="#111" opacity="0.4"/>
<rect x="73.76" y="52.5" width="1.5" height="22.35" fill="#111" opacity="0.3"/>
<rect x="78.16" y="57.4" width="1.5" height="16.63" fill="#111" opacity="0.3"/>
<rect x="81.63" y="54.2" width="1.5" height="19.83" fill="#111" opacity="0.55"/>
<rect x="85.11" y="54.7" width="1.5" height="19.38" fill="#111" opacity="0.4"/>
<rect x="88.58" y="55.3" width="1.5" height="18.7" fill="#111" opacity="0.2"/>
<rect x="92.98" y="55.8" width="1.5" height="18.17" fill="#111" opacity="0.3"/>
<rect x="96.45" y="56.9" width="1.5" height="18.17" fill="#111" opacity="0.3"/>
<rect x="99.93" y="56.4" width="1.5" height="16.58" fill="#111" opacity="0.3"/>
<rect x="103.4" y="56.4" width="1.5" height="17.06" fill="#111" opacity="0.3"/>
<rect x="107.8" y="55.8" width="1.5" height="18.17" fill="#111" opacity="0.3"/>
<rect x="111.27" y="57" width="1.5" height="18.02" fill="#111" opacity="0.3"/>
<rect x="114.75" y="55.6" width="1.5" height="17.5" fill="#111" opacity="0.3"/>
<rect x="118.22" y="55" width="1.5" height="18" fill="#111" opacity="0.3"/>
<rect x="122.62" y="49.6" width="1.5" height="22.8" fill="#111" opacity="0.4"/>
<rect x="126.09" y="51.3" width="1.5" height="20.11" fill="#111" opacity="0.55"/>
<rect x="129.57" y="49" width="1.5" height="18.48" fill="#111" opacity="0.4"/>
<rect x="133.04" y="48.5" width="1.5" height="18.93" fill="#111" opacity="0.2"/>
<rect x="137.44" y="54.5" width="1.5" height="15.92" fill="#111" opacity="0.3"/>
<rect x="140.91" y="58.4" width="1.5" height="27.65" fill="#111" opacity="0.15"/>
<rect x="144.39" y="56.2" width="1.5" height="18.07" fill="#111" opacity="0.3"/>
<rect x="147.86" y="58.9" width="1.5" height="27.15" fill="#111" opacity="0.15"/>
<rect x="152.26" y="49.6" width="1.5" height="21.81" fill="#111" opacity="0.4"/>
<rect x="155.73" y="56.2" width="1.5" height="29.64" fill="#111" opacity="0.2"/>
<rect x="159.21" y="49.6" width="1.5" height="22.8" fill="#111" opacity="0.55"/>
<rect x="162.68" y="51.8" width="1.5" height="18.62" fill="#111" opacity="0.3"/>
<rect x="167.08" y="52.9" width="1.5" height="21.81" fill="#111" opacity="0.3"/>
<rect x="170.55" y="56.2" width="1.5" height="29.64" fill="#111" opacity="0.4"/>
<rect x="174.03" y="52.4" width="1.5" height="20.11" fill="#111" opacity="0.4"/>
<rect x="177.5" y="54" width="1.5" height="16.53" fill="#111" opacity="0.3"/>
<rect x="181.9" y="40" width="1.5" height="26.45" fill="#111" opacity="0.6"/>
<rect x="185.37" y="40" width="1.5" height="30.41" fill="#111" opacity="0.8"/>
<rect x="188.85" y="41.6" width="1.5" height="21.88" fill="#111" opacity="0.55"/>
<rect x="192.32" y="40.5" width="1.5" height="20.1" fill="#111" opacity="0.55"/>
<rect x="196.72" y="49.8" width="1.5" height="19.83" fill="#111" opacity="0.45"/>
<rect x="200.19" y="56.9" width="1.5" height="19.11" fill="#111" opacity="0.2"/>
<rect x="203.67" y="49.8" width="1.5" height="21.81" fill="#111" opacity="0.55"/>
<rect x="207.14" y="52" width="1.5" height="17.63" fill="#111" opacity="0.45"/>
<rect x="211.54" y="57.4" width="1.5" height="18.72" fill="#111" opacity="0.3"/>
<rect x="215.01" y="56.3" width="1.5" height="21.71" fill="#111" opacity="0.2"/>
<rect x="218.49" y="52" width="1.5" height="23.79" fill="#111" opacity="0.55"/>
<rect x="221.96" y="59.6" width="1.5" height="9.15" fill="#111" opacity="0.2"/>
<rect x="226.36" y="51.4" width="1.5" height="19.22" fill="#111" opacity="0.4"/>
<rect x="229.83" y="56.9" width="1.5" height="12.62" fill="#111" opacity="0.3"/>
<rect x="233.31" y="56.9" width="1.5" height="13.83" fill="#111" opacity="0.55"/>
<rect x="236.78" y="50.9" width="1.5" height="19.83" fill="#111" opacity="0.6"/>
<rect x="241.18" y="40.5" width="1.5" height="15.81" fill="#111" opacity="0.6"/>
<rect x="244.65" y="40.5" width="1.5" height="14.03" fill="#111" opacity="0.8"/>
<rect x="248.13" y="42.2" width="1.5" height="13.34" fill="#111" opacity="0.55"/>
<rect x="251.6" y="41.1" width="1.5" height="17.41" fill="#111" opacity="0.6"/>
<rect x="256" y="48.7" width="1.5" height="20.82" fill="#111" opacity="0.45"/>
<rect x="259.47" y="52" width="1.5" height="20.82" fill="#111" opacity="0.45"/>
<rect x="262.95" y="52" width="1.5" height="19.83" fill="#111" opacity="0.45"/>
<rect x="266.42" y="60.7" width="1.5" height="10.24" fill="#111" opacity="0.2"/>
<rect x="270.82" y="53" width="1.5" height="19.92" fill="#111" opacity="0.35"/>
<rect x="274.29" y="50.9" width="1.5" height="18.84" fill="#111" opacity="0.4"/>
<rect x="277.77" y="53.1" width="1.5" height="19.61" fill="#111" opacity="0.4"/>
<rect x="281.24" y="50.9" width="1.5" height="16.86" fill="#111" opacity="0.3"/>
<rect x="285.64" y="56.3" width="1.5" height="17.84" fill="#111" opacity="0.4"/>
<rect x="289.11" y="57.4" width="1.5" height="18.82" fill="#111" opacity="0.3"/>
<rect x="292.59" y="55.3" width="1.5" height="18.84" fill="#111" opacity="0.4"/>
<rect x="296.06" y="62.9" width="1.5" height="13.22" fill="#111" opacity="0.3"/>
<rect x="300.46" y="57.4" width="1.5" height="16.63" fill="#111" opacity="0.4"/>
<rect x="303.93" y="53" width="1.5" height="18.93" fill="#111" opacity="0.7"/>
<rect x="307.41" y="54.2" width="1.5" height="16.86" fill="#111" opacity="0.45"/>
<rect x="310.88" y="50.9" width="1.5" height="18.84" fill="#111" opacity="0.55"/>
<rect x="315.28" y="48.2" width="1.5" height="19.46" fill="#111" opacity="0.2"/>
<rect x="318.75" y="42.2" width="1.5" height="18.73" fill="#111" opacity="0.2"/>
<rect x="322.23" y="42.2" width="1.5" height="20.82" fill="#111" opacity="0.45"/>
<rect x="325.7" y="44.4" width="1.5" height="16.31" fill="#111" opacity="0.3"/>
<rect x="330.1" y="59.6" width="1.5" height="16.41" fill="#111" opacity="0.3"/>
<rect x="333.57" y="59.6" width="1.5" height="14.21" fill="#111" opacity="0.2"/>
<rect x="337.05" y="57.4" width="1.5" height="15.52" fill="#111" opacity="0.3"/>
<rect x="340.52" y="55.3" width="1.5" height="14.33" fill="#111" opacity="0.2"/>
<rect x="344.92" y="47.6" width="1.5" height="13.55" fill="#111" opacity="0.7"/>
<rect x="348.39" y="53.1" width="1.5" height="13" fill="#111" opacity="0.2"/>
<rect x="351.87" y="53.6" width="1.5" height="7.65" fill="#111" opacity="0.2"/>
<rect x="355.34" y="50.9" width="1.5" height="8.27" fill="#111" opacity="0.15"/>
<rect x="359.74" y="52" width="1.5" height="18.84" fill="#111" opacity="0.4"/>
<rect x="363.21" y="49.3" width="1.5" height="22.2" fill="#111" opacity="0.2"/>
<rect x="366.69" y="52" width="1.5" height="19.5" fill="#111" opacity="0.8"/>
<rect x="370.16" y="55.3" width="1.5" height="16.31" fill="#111" opacity="0.3"/>
<rect x="375.14" y="52" width="1.5" height="16.64" fill="#111" opacity="0.3"/>
<rect x="379.77" y="47.6" width="1.5" height="21.27" fill="#111" opacity="0.85"/>
<rect x="384.4" y="48.7" width="1.5" height="15.43" fill="#111" opacity="0.3"/>
<rect x="389.96" y="60.7" width="1.5" height="26.04" fill="#111" opacity="0.3"/>
<rect x="394.59" y="60.7" width="1.5" height="25.77" fill="#111" opacity="0.3"/>
<rect x="399.22" y="59" width="1.5" height="17.67" fill="#111" opacity="0.2"/>
<rect x="404.78" y="64" width="1.5" height="22.58" fill="#111" opacity="0.2"/>
<rect x="409.41" y="67.3" width="1.5" height="19.33" fill="#111" opacity="0.2"/>
<rect x="414.04" y="70" width="1.5" height="8.55" fill="#111" opacity="0.15"/>
<rect x="419.02" y="53.1" width="1.5" height="11.84" fill="#111" opacity="0.2"/>
<rect x="422.49" y="49.8" width="1.5" height="17.63" fill="#111" opacity="0.2"/>
<rect x="425.97" y="47.6" width="1.5" height="14.54" fill="#111" opacity="0.2"/>
<rect x="429.44" y="53.1" width="1.5" height="8.05" fill="#111" opacity="0.15"/>
<rect x="433.84" y="50.9" width="1.5" height="20.82" fill="#111" opacity="0.45"/>
<rect x="437.31" y="52" width="1.5" height="15.43" fill="#111" opacity="0.2"/>
<rect x="440.79" y="52" width="1.5" height="18.6" fill="#111" opacity="0.8"/>
<rect x="444.26" y="48.5" width="1.5" height="19.88" fill="#111" opacity="0.45"/>
<rect x="448.66" y="49.6" width="1.5" height="20.64" fill="#111" opacity="0.25"/>
<rect x="452.13" y="58.8" width="1.5" height="14.23" fill="#111" opacity="0.2"/>
<rect x="455.61" y="53.3" width="1.5" height="15.49" fill="#111" opacity="0.2"/>
<rect x="459.08" y="56" width="1.5" height="14.1" fill="#111" opacity="0.15"/>
<rect x="463.48" y="51.2" width="1.5" height="16.05" fill="#111" opacity="0.2"/>
<rect x="466.95" y="54.7" width="1.5" height="16.8" fill="#111" opacity="0.2"/>
<rect x="470.43" y="53.3" width="1.5" height="12.83" fill="#111" opacity="0.15"/>
<rect x="473.9" y="60.2" width="1.5" height="10.18" fill="#111" opacity="0.15"/>
<rect x="478.88" y="55.4" width="1.5" height="15.05" fill="#111" opacity="0.15"/>
<rect x="483.51" y="54" width="1.5" height="18.9" fill="#111" opacity="0.15"/>
<rect x="488.14" y="60.2" width="1.5" height="8.87" fill="#111" opacity="0.15"/>
<rect x="493.12" y="68.5" width="1.5" height="7.54" fill="#111" opacity="0.15"/>
<rect x="496.59" y="67.1" width="1.5" height="9.28" fill="#111" opacity="0.15"/>
<rect x="500.07" y="70.6" width="1.5" height="16.17" fill="#111" opacity="0.15"/>
<rect x="503.54" y="66.4" width="1.5" height="10.47" fill="#111" opacity="0.15"/>
<path d="M64.8 69.5h.8v.8h-.8zM63.9 68.6h.8v.8h-.8zM64.0 68.7h.8v.8h-.8zM63.2 54.4h.8v.8h-.8zM64.2 73.6h.8v.8h-.8zM64.9 76.4h.8v.8h-.8zM62.8 57.8h.8v.8h-.8zM62.5 69.0h.8v.8h-.8zM62.4 64.3h.8v.8h-.8zM64.6 67.5h.8v.8h-.8zM63.7 70.8h.8v.8h-.8zM63.1 56.8h.8v.8h-.8zM64.6 87.9h.8v.8h-.8zM63.0 55.8h.8v.8h-.8zM64.4 61.5h.8v.8h-.8zM63.4 74.2h.8v.8h-.8zM62.4 86.2h.8v.8h-.8zM63.6 75.2h.8v.8h-.8zM62.6 81.2h.8v.8h-.8zM63.1 58.9h.8v.8h-.8zM64.9 65.8h.8v.8h-.8zM63.0 54.6h.8v.8h-.8zM64.5 61.3h.8v.8h-.8zM63.5 69.5h.8v.8h-.8zM62.7 72.3h.8v.8h-.8zM63.5 54.6h.8v.8h-.8zM64.9 64.7h.8v.8h-.8zM64.7 55.8h.8v.8h-.8zM64.6 66.8h.8v.8h-.8zM65.0 54.5h.8v.8h-.8zM64.4 64.5h.8v.8h-.8zM63.1 87.7h2v1.1h-2zM66.0 66.7h.8v.8h-.8zM66.5 70.8h.8v.8h-.8zM67.0 54.3h.8v.8h-.8zM67.4 82.1h.8v.8h-.8zM66.2 78.7h.8v.8h-.8zM66.5 85.9h.8v.8h-.8zM68.3 73.0h.8v.8h-.8zM68.2 76.0h.8v.8h-.8zM66.1 54.9h.8v.8h-.8zM66.5 76.2h.8v.8h-.8zM68.0 52.8h.8v.8h-.8zM66.3 66.7h.8v.8h-.8zM66.4 50.3h.8v.8h-.8zM67.5 74.6h.8v.8h-.8zM66.4 75.5h.8v.8h-.8zM67.0 66.3h.8v.8h-.8zM66.8 65.0h.8v.8h-.8zM66.8 64.4h.8v.8h-.8zM67.6 87.7h.8v.8h-.8zM66.2 57.1h.8v.8h-.8zM68.3 62.8h.8v.8h-.8zM65.9 62.0h.8v.8h-.8zM67.8 55.7h.8v.8h-.8zM66.0 76.7h.8v.8h-.8zM68.2 73.0h.8v.8h-.8zM67.9 58.6h.8v.8h-.8zM67.7 80.6h.8v.8h-.8zM66.9 86.5h.8v.8h-.8zM67.4 60.7h.8v.8h-.8zM67.4 54.4h.8v.8h-.8zM67.5 50.5h.8v.8h-.8zM67.8 86.6h.8v.8h-.8zM67.4 72.9h.8v.8h-.8zM66.1 74.4h.8v.8h-.8zM67.4 49.8h.8v.8h-.8zM67.7 65.8h.8v.8h-.8zM68.3 71.2h.8v.8h-.8zM66.6 62.7h.8v.8h-.8zM66.3 52.1h.8v.8h-.8zM67.0 84.1h.8v.8h-.8zM67.6 80.4h.8v.8h-.8zM66.6 87.7h2v1.1h-2zM71.5 67.9h.8v.8h-.8zM70.3 86.5h.8v.8h-.8zM69.7 66.2h.8v.8h-.8zM71.6 74.1h.8v.8h-.8zM70.0 60.8h.8v.8h-.8zM70.0 68.2h.8v.8h-.8zM71.0 67.7h.8v.8h-.8zM71.5 66.2h.8v.8h-.8zM69.5 81.7h.8v.8h-.8zM69.4 74.7h.8v.8h-.8zM70.1 56.0h.8v.8h-.8zM69.7 49.1h.8v.8h-.8zM71.5 61.8h.8v.8h-.8zM69.4 63.5h.8v.8h-.8zM71.0 54.5h.8v.8h-.8zM71.9 59.0h.8v.8h-.8zM70.6 51.4h.8v.8h-.8zM70.6 61.6h.8v.8h-.8zM70.0 51.1h.8v.8h-.8zM70.7 72.0h.8v.8h-.8zM70.4 58.4h.8v.8h-.8zM69.5 60.2h.8v.8h-.8zM69.7 84.8h.8v.8h-.8zM71.7 70.9h.8v.8h-.8zM71.6 70.0h.8v.8h-.8zM70.5 60.7h.8v.8h-.8zM71.2 51.5h.8v.8h-.8zM71.2 56.9h.8v.8h-.8zM71.9 75.1h.8v.8h-.8zM71.4 82.7h.8v.8h-.8zM71.6 75.2h.8v.8h-.8zM70.0 87.7h2v1.1h-2zM74.0 65.1h.8v.8h-.8zM74.1 72.9h.8v.8h-.8zM73.0 73.4h.8v.8h-.8zM73.7 53.3h.8v.8h-.8zM73.2 52.9h.8v.8h-.8zM75.0 72.4h.8v.8h-.8zM74.1 63.4h.8v.8h-.8zM73.4 76.7h.8v.8h-.8zM74.7 67.4h.8v.8h-.8zM75.0 57.9h.8v.8h-.8zM73.8 67.7h.8v.8h-.8zM73.3 62.8h.8v.8h-.8zM74.2 87.5h.8v.8h-.8zM74.2 66.4h.8v.8h-.8zM72.9 71.1h.8v.8h-.8zM73.8 81.9h.8v.8h-.8zM74.1 58.4h.8v.8h-.8zM74.2 52.0h.8v.8h-.8zM75.2 75.1h.8v.8h-.8zM73.1 69.5h.8v.8h-.8zM75.2 73.5h.8v.8h-.8zM73.3 67.7h.8v.8h-.8zM73.1 63.1h.8v.8h-.8zM73.3 51.4h.8v.8h-.8zM73.6 72.0h.8v.8h-.8zM73.1 71.2h.8v.8h-.8zM73.5 87.7h2v1.1h-2zM68.5 20.9h1.6v.55h-1.6zM78.5 58.1h.8v.8h-.8zM78.6 67.5h.8v.8h-.8zM78.3 69.1h.8v.8h-.8zM77.7 67.2h.8v.8h-.8zM78.6 62.6h.8v.8h-.8zM79.5 82.7h.8v.8h-.8zM79.3 72.2h.8v.8h-.8zM78.0 78.7h.8v.8h-.8zM79.8 77.4h.8v.8h-.8zM77.8 76.3h.8v.8h-.8zM77.4 59.3h.8v.8h-.8zM79.3 60.7h.8v.8h-.8zM79.0 69.3h.8v.8h-.8zM79.0 67.5h.8v.8h-.8zM77.5 87.5h.8v.8h-.8zM78.5 72.4h.8v.8h-.8zM77.4 58.7h.8v.8h-.8zM78.6 66.1h.8v.8h-.8zM77.6 70.7h.8v.8h-.8zM79.4 67.6h.8v.8h-.8zM77.4 86.9h.8v.8h-.8zM78.4 74.1h.8v.8h-.8zM78.4 59.9h.8v.8h-.8zM78.8 69.5h.8v.8h-.8zM79.4 71.9h.8v.8h-.8zM79.1 69.7h.8v.8h-.8zM77.9 87.7h2v1.1h-2zM81.1 67.5h.8v.8h-.8zM83.0 65.9h.8v.8h-.8zM82.9 56.6h.8v.8h-.8zM82.2 47.3h.8v.8h-.8zM82.8 74.3h.8v.8h-.8zM82.6 73.7h.8v.8h-.8zM81.7 60.0h.8v.8h-.8zM82.5 86.3h.8v.8h-.8zM81.7 58.5h.8v.8h-.8zM81.6 36.9h.8v.8h-.8zM81.6 65.9h.8v.8h-.8zM81.3 54.1h.8v.8h-.8zM81.6 83.4h.8v.8h-.8zM82.1 52.4h.8v.8h-.8zM82.4 74.5h.8v.8h-.8zM83.3 58.4h.8v.8h-.8zM82.6 71.2h.8v.8h-.8zM80.8 69.3h.8v.8h-.8zM80.9 69.1h.8v.8h-.8zM82.1 73.7h.8v.8h-.8zM82.2 74.2h.8v.8h-.8zM82.8 83.0h.8v.8h-.8zM82.7 71.0h.8v.8h-.8zM81.1 73.9h.8v.8h-.8zM82.0 67.3h.8v.8h-.8zM83.2 36.5h.8v.8h-.8zM82.2 70.4h.8v.8h-.8zM82.4 68.3h.8v.8h-.8zM82.6 68.3h.8v.8h-.8zM81.3 65.9h.8v.8h-.8zM82.7 67.2h.8v.8h-.8zM82.6 73.6h.8v.8h-.8zM83.2 74.4h.8v.8h-.8zM81.8 73.7h.8v.8h-.8zM81.3 74.3h.8v.8h-.8zM82.6 74.0h.8v.8h-.8zM82.8 74.3h.8v.8h-.8zM82.3 38.3h.8v.8h-.8zM80.8 67.6h.8v.8h-.8zM81.4 87.7h2v1.1h-2zM85.3 67.3h.8v.8h-.8zM84.8 58.9h.8v.8h-.8zM86.2 69.7h.8v.8h-.8zM86.7 74.5h.8v.8h-.8zM84.4 55.9h.8v.8h-.8zM85.8 85.0h.8v.8h-.8zM85.9 68.5h.8v.8h-.8zM85.8 71.2h.8v.8h-.8zM84.8 55.3h.8v.8h-.8zM86.5 86.8h.8v.8h-.8zM84.8 66.8h.8v.8h-.8zM84.4 71.4h.8v.8h-.8zM84.4 66.9h.8v.8h-.8zM85.8 60.2h.8v.8h-.8zM84.7 70.2h.8v.8h-.8zM86.4 72.4h.8v.8h-.8zM86.3 67.3h.8v.8h-.8zM84.7 63.2h.8v.8h-.8zM86.3 68.4h.8v.8h-.8zM86.8 71.7h.8v.8h-.8zM86.1 70.8h.8v.8h-.8zM85.1 80.2h.8v.8h-.8zM84.3 73.5h.8v.8h-.8zM85.4 70.9h.8v.8h-.8zM86.2 56.8h.8v.8h-.8zM85.9 68.0h.8v.8h-.8zM86.1 68.8h.8v.8h-.8zM84.5 56.5h.8v.8h-.8zM85.1 72.3h.8v.8h-.8zM85.6 72.1h.8v.8h-.8zM86.6 87.1h.8v.8h-.8zM84.9 87.7h2v1.1h-2zM88.4 72.6h.8v.8h-.8zM90.1 68.6h.8v.8h-.8zM88.6 77.9h.8v.8h-.8zM88.7 68.2h.8v.8h-.8zM89.1 66.5h.8v.8h-.8zM89.8 60.1h.8v.8h-.8zM89.6 66.4h.8v.8h-.8zM87.7 78.3h.8v.8h-.8zM89.1 70.0h.8v.8h-.8zM89.7 83.3h.8v.8h-.8zM89.7 70.1h.8v.8h-.8zM89.6 65.4h.8v.8h-.8zM89.3 75.7h.8v.8h-.8zM89.3 72.1h.8v.8h-.8zM89.6 66.8h.8v.8h-.8zM88.7 72.2h.8v.8h-.8zM89.4 74.3h.8v.8h-.8zM89.5 70.0h.8v.8h-.8zM88.7 63.8h.8v.8h-.8zM89.9 61.4h.8v.8h-.8zM88.3 87.7h2v1.1h-2zM83.3 20.9h1.6v.55h-1.6zM94.4 63.6h.8v.8h-.8zM93.4 83.1h.8v.8h-.8zM93.1 63.3h.8v.8h-.8zM94.0 66.6h.8v.8h-.8zM92.4 79.5h.8v.8h-.8zM92.8 69.2h.8v.8h-.8zM92.8 75.3h.8v.8h-.8zM94.1 71.2h.8v.8h-.8zM93.2 65.8h.8v.8h-.8zM92.1 73.7h.8v.8h-.8zM92.6 66.9h.8v.8h-.8zM93.6 71.9h.8v.8h-.8zM92.7 66.9h.8v.8h-.8zM92.8 72.2h.8v.8h-.8zM93.3 72.8h.8v.8h-.8zM94.4 73.5h.8v.8h-.8zM94.5 70.3h.8v.8h-.8zM92.1 67.3h.8v.8h-.8zM93.0 85.2h.8v.8h-.8zM92.7 70.0h.8v.8h-.8zM92.6 83.3h.8v.8h-.8zM93.0 69.6h.8v.8h-.8zM93.6 62.4h.8v.8h-.8zM92.9 66.7h.8v.8h-.8zM93.4 73.3h.8v.8h-.8zM92.7 65.1h.8v.8h-.8zM92.7 87.7h2v1.1h-2zM97.5 67.7h.8v.8h-.8zM97.7 73.9h.8v.8h-.8zM96.2 57.3h.8v.8h-.8zM96.7 57.5h.8v.8h-.8zM97.0 75.2h.8v.8h-.8zM97.6 79.3h.8v.8h-.8zM95.7 74.8h.8v.8h-.8zM96.9 58.5h.8v.8h-.8zM97.7 67.8h.8v.8h-.8zM95.7 69.2h.8v.8h-.8zM97.4 70.6h.8v.8h-.8zM95.8 72.7h.8v.8h-.8zM98.0 70.6h.8v.8h-.8zM95.5 62.9h.8v.8h-.8zM96.1 72.9h.8v.8h-.8zM95.5 70.6h.8v.8h-.8zM96.0 85.4h.8v.8h-.8zM96.5 59.3h.8v.8h-.8zM96.4 69.1h.8v.8h-.8zM96.2 72.5h.8v.8h-.8zM96.3 73.1h.8v.8h-.8zM97.4 82.5h.8v.8h-.8zM95.7 74.0h.8v.8h-.8zM97.3 67.2h.8v.8h-.8zM96.5 58.3h.8v.8h-.8zM95.7 62.3h.8v.8h-.8zM96.2 87.7h2v1.1h-2zM99.3 66.5h.8v.8h-.8zM101.4 65.8h.8v.8h-.8zM100.7 69.4h.8v.8h-.8zM100.0 63.6h.8v.8h-.8zM99.0 68.6h.8v.8h-.8zM101.6 70.9h.8v.8h-.8zM100.6 62.1h.8v.8h-.8zM99.9 67.9h.8v.8h-.8zM100.0 57.0h.8v.8h-.8zM101.1 71.7h.8v.8h-.8zM101.0 57.5h.8v.8h-.8zM99.9 81.3h.8v.8h-.8zM100.8 66.4h.8v.8h-.8zM100.9 80.9h.8v.8h-.8zM101.5 57.8h.8v.8h-.8zM99.2 57.8h.8v.8h-.8zM100.8 69.9h.8v.8h-.8zM99.9 72.8h.8v.8h-.8zM101.5 66.2h.8v.8h-.8zM100.4 72.6h.8v.8h-.8zM99.7 69.8h.8v.8h-.8zM101.1 87.8h.8v.8h-.8zM101.1 57.1h.8v.8h-.8zM99.6 72.6h.8v.8h-.8zM99.4 72.0h.8v.8h-.8zM99.0 65.8h.8v.8h-.8zM99.7 87.7h2v1.1h-2zM104.9 73.9h.8v.8h-.8zM104.2 58.6h.8v.8h-.8zM104.0 59.3h.8v.8h-.8zM103.0 56.1h.8v.8h-.8zM103.5 65.9h.8v.8h-.8zM103.8 66.2h.8v.8h-.8zM103.3 69.9h.8v.8h-.8zM104.2 56.3h.8v.8h-.8zM104.0 73.6h.8v.8h-.8zM104.1 68.5h.8v.8h-.8zM104.4 62.5h.8v.8h-.8zM104.7 73.9h.8v.8h-.8zM103.6 79.7h.8v.8h-.8zM103.8 73.1h.8v.8h-.8zM104.8 68.7h.8v.8h-.8zM104.4 65.1h.8v.8h-.8zM104.0 84.2h.8v.8h-.8zM104.0 58.6h.8v.8h-.8zM103.6 65.8h.8v.8h-.8zM102.6 68.3h.8v.8h-.8zM103.1 60.5h.8v.8h-.8zM103.1 68.3h.8v.8h-.8zM105.0 73.2h.8v.8h-.8zM103.5 63.5h.8v.8h-.8zM104.4 57.9h.8v.8h-.8zM102.7 73.1h.8v.8h-.8zM103.2 87.7h2v1.1h-2zM98.1 20.9h1.6v.55h-1.6zM108.2 56.6h.8v.8h-.8zM107.5 74.5h.8v.8h-.8zM107.0 68.2h.8v.8h-.8zM107.9 85.4h.8v.8h-.8zM106.9 70.6h.8v.8h-.8zM107.6 73.6h.8v.8h-.8zM109.4 73.9h.8v.8h-.8zM107.6 67.1h.8v.8h-.8zM107.3 86.5h.8v.8h-.8zM108.1 58.9h.8v.8h-.8zM109.5 73.4h.8v.8h-.8zM107.3 71.1h.8v.8h-.8zM107.1 75.2h.8v.8h-.8zM109.2 58.5h.8v.8h-.8zM107.2 84.1h.8v.8h-.8zM108.0 64.6h.8v.8h-.8zM107.6 67.3h.8v.8h-.8zM107.3 57.3h.8v.8h-.8zM108.9 71.4h.8v.8h-.8zM109.2 71.4h.8v.8h-.8zM107.6 67.3h.8v.8h-.8zM107.6 83.4h.8v.8h-.8zM109.4 56.3h.8v.8h-.8zM108.2 70.1h.8v.8h-.8zM107.6 70.8h.8v.8h-.8zM107.1 72.7h.8v.8h-.8zM107.5 87.7h2v1.1h-2zM110.9 73.2h.8v.8h-.8zM110.8 71.2h.8v.8h-.8zM110.4 87.7h.8v.8h-.8zM111.3 73.2h.8v.8h-.8zM110.8 81.7h.8v.8h-.8zM111.2 72.1h.8v.8h-.8zM111.7 63.8h.8v.8h-.8zM112.1 74.1h.8v.8h-.8zM110.8 75.1h.8v.8h-.8zM111.9 58.1h.8v.8h-.8zM112.3 70.1h.8v.8h-.8zM110.9 63.9h.8v.8h-.8zM111.8 68.0h.8v.8h-.8zM111.9 66.1h.8v.8h-.8zM112.6 61.9h.8v.8h-.8zM110.3 67.3h.8v.8h-.8zM111.5 70.1h.8v.8h-.8zM110.5 73.6h.8v.8h-.8zM111.7 82.6h.8v.8h-.8zM110.7 58.8h.8v.8h-.8zM111.1 66.2h.8v.8h-.8zM111.0 61.4h.8v.8h-.8zM112.5 66.7h.8v.8h-.8zM110.7 68.3h.8v.8h-.8zM112.4 64.2h.8v.8h-.8zM111.3 69.8h.8v.8h-.8zM111.0 87.7h2v1.1h-2zM113.9 73.3h.8v.8h-.8zM116.4 71.5h.8v.8h-.8zM115.7 68.7h.8v.8h-.8zM116.1 66.8h.8v.8h-.8zM114.6 68.1h.8v.8h-.8zM113.9 65.3h.8v.8h-.8zM115.7 84.5h.8v.8h-.8zM115.2 66.9h.8v.8h-.8zM116.2 68.8h.8v.8h-.8zM116.4 67.6h.8v.8h-.8zM114.8 55.6h.8v.8h-.8zM114.7 55.8h.8v.8h-.8zM115.3 63.3h.8v.8h-.8zM114.8 80.2h.8v.8h-.8zM115.8 58.8h.8v.8h-.8zM114.3 67.7h.8v.8h-.8zM114.3 66.1h.8v.8h-.8zM114.6 68.8h.8v.8h-.8zM115.6 73.5h.8v.8h-.8zM114.8 76.5h.8v.8h-.8zM114.7 70.8h.8v.8h-.8zM114.3 64.8h.8v.8h-.8zM116.2 68.1h.8v.8h-.8zM114.7 57.7h.8v.8h-.8zM114.7 73.0h.8v.8h-.8zM116.2 62.0h.8v.8h-.8zM114.5 87.7h2v1.1h-2zM118.3 66.8h.8v.8h-.8zM118.1 72.4h.8v.8h-.8zM117.4 59.3h.8v.8h-.8zM117.4 66.0h.8v.8h-.8zM117.3 69.6h.8v.8h-.8zM118.7 67.8h.8v.8h-.8zM117.9 70.7h.8v.8h-.8zM117.6 60.6h.8v.8h-.8zM119.1 66.4h.8v.8h-.8zM119.5 67.5h.8v.8h-.8zM118.2 66.5h.8v.8h-.8zM117.3 64.0h.8v.8h-.8zM119.4 59.7h.8v.8h-.8zM119.0 77.9h.8v.8h-.8zM119.1 76.7h.8v.8h-.8zM119.6 63.2h.8v.8h-.8zM117.5 69.9h.8v.8h-.8zM117.4 67.5h.8v.8h-.8zM118.6 66.9h.8v.8h-.8zM118.3 65.2h.8v.8h-.8zM119.0 65.3h.8v.8h-.8zM118.2 64.5h.8v.8h-.8zM118.8 65.1h.8v.8h-.8zM119.1 59.6h.8v.8h-.8zM118.2 67.5h.8v.8h-.8zM117.4 67.6h.8v.8h-.8zM118.0 87.7h2v1.1h-2zM113.0 20.9h1.6v.55h-1.6zM122.9 68.2h.8v.8h-.8zM121.7 64.2h.8v.8h-.8zM123.1 71.9h.8v.8h-.8zM122.1 69.2h.8v.8h-.8zM124.2 68.6h.8v.8h-.8zM124.1 68.1h.8v.8h-.8zM123.3 56.1h.8v.8h-.8zM122.4 66.2h.8v.8h-.8zM122.7 59.6h.8v.8h-.8zM122.0 73.8h.8v.8h-.8zM122.6 64.9h.8v.8h-.8zM122.1 75.4h.8v.8h-.8zM122.3 69.4h.8v.8h-.8zM122.7 67.7h.8v.8h-.8zM123.4 67.1h.8v.8h-.8zM123.1 68.7h.8v.8h-.8zM122.5 60.8h.8v.8h-.8zM122.5 71.8h.8v.8h-.8zM123.5 57.1h.8v.8h-.8zM122.1 85.3h.8v.8h-.8zM123.1 54.3h.8v.8h-.8zM123.6 64.6h.8v.8h-.8zM122.3 64.0h.8v.8h-.8zM123.0 63.3h.8v.8h-.8zM121.8 62.0h.8v.8h-.8zM121.9 69.7h.8v.8h-.8zM122.9 70.5h.8v.8h-.8zM124.0 71.6h.8v.8h-.8zM123.0 64.2h.8v.8h-.8zM123.5 52.9h.8v.8h-.8zM122.5 69.8h.8v.8h-.8zM122.4 87.7h2v1.1h-2zM127.4 69.5h.8v.8h-.8zM126.2 56.7h.8v.8h-.8zM127.3 57.3h.8v.8h-.8zM126.1 52.2h.8v.8h-.8zM125.6 53.3h.8v.8h-.8zM127.6 67.6h.8v.8h-.8zM126.9 74.2h.8v.8h-.8zM126.2 68.1h.8v.8h-.8zM125.2 87.7h.8v.8h-.8zM125.2 52.1h.8v.8h-.8zM127.8 69.2h.8v.8h-.8zM125.2 64.8h.8v.8h-.8zM126.1 66.5h.8v.8h-.8zM127.3 69.9h.8v.8h-.8zM126.8 65.5h.8v.8h-.8zM126.1 61.0h.8v.8h-.8zM127.2 56.5h.8v.8h-.8zM125.4 63.1h.8v.8h-.8zM126.4 76.1h.8v.8h-.8zM125.2 64.7h.8v.8h-.8zM126.8 62.8h.8v.8h-.8zM126.4 63.7h.8v.8h-.8zM125.2 64.0h.8v.8h-.8zM125.9 70.9h.8v.8h-.8zM126.4 63.2h.8v.8h-.8zM127.4 75.3h.8v.8h-.8zM127.3 65.7h.8v.8h-.8zM126.6 61.8h.8v.8h-.8zM125.8 57.3h.8v.8h-.8zM127.8 85.8h.8v.8h-.8zM127.0 70.3h.8v.8h-.8zM125.6 61.5h.8v.8h-.8zM126.1 62.0h.8v.8h-.8zM126.5 54.1h.8v.8h-.8zM127.7 63.5h.8v.8h-.8zM127.3 66.9h.8v.8h-.8zM126.2 58.5h.8v.8h-.8zM127.2 59.4h.8v.8h-.8zM127.6 73.7h.8v.8h-.8zM125.8 87.7h2v1.1h-2zM129.3 65.7h.8v.8h-.8zM130.1 68.3h.8v.8h-.8zM129.6 63.4h.8v.8h-.8zM129.6 57.7h.8v.8h-.8zM129.3 50.8h.8v.8h-.8zM128.8 74.3h.8v.8h-.8zM129.2 65.9h.8v.8h-.8zM130.4 53.7h.8v.8h-.8zM129.0 61.4h.8v.8h-.8zM128.6 63.7h.8v.8h-.8zM129.4 63.5h.8v.8h-.8zM129.1 67.5h.8v.8h-.8zM130.6 74.2h.8v.8h-.8zM129.7 67.7h.8v.8h-.8zM129.7 72.2h.8v.8h-.8zM129.3 48.1h.8v.8h-.8zM129.4 59.8h.8v.8h-.8zM131.2 63.2h.8v.8h-.8zM129.6 65.2h.8v.8h-.8zM130.2 48.6h.8v.8h-.8zM130.3 85.0h.8v.8h-.8zM128.9 64.7h.8v.8h-.8zM129.8 55.9h.8v.8h-.8zM129.6 51.8h.8v.8h-.8zM130.1 64.9h.8v.8h-.8zM130.3 60.8h.8v.8h-.8zM130.2 64.9h.8v.8h-.8zM129.8 70.9h.8v.8h-.8zM129.4 82.6h.8v.8h-.8zM129.7 60.4h.8v.8h-.8zM131.2 70.3h.8v.8h-.8zM129.3 87.7h2v1.1h-2zM134.3 61.9h.8v.8h-.8zM134.3 59.4h.8v.8h-.8zM134.7 54.2h.8v.8h-.8zM134.0 66.8h.8v.8h-.8zM133.3 66.3h.8v.8h-.8zM132.6 66.8h.8v.8h-.8zM132.3 65.1h.8v.8h-.8zM133.4 66.2h.8v.8h-.8zM134.3 66.3h.8v.8h-.8zM134.5 54.7h.8v.8h-.8zM133.0 49.9h.8v.8h-.8zM133.0 60.4h.8v.8h-.8zM132.4 84.6h.8v.8h-.8zM134.3 63.1h.8v.8h-.8zM132.3 58.9h.8v.8h-.8zM133.7 72.0h.8v.8h-.8zM132.6 82.4h.8v.8h-.8zM132.1 53.3h.8v.8h-.8zM133.7 62.5h.8v.8h-.8zM133.9 64.7h.8v.8h-.8zM132.8 87.7h2v1.1h-2zM127.8 20.9h1.6v.55h-1.6zM138.3 62.5h.8v.8h-.8zM136.8 62.5h.8v.8h-.8zM137.4 81.3h.8v.8h-.8zM138.3 70.9h.8v.8h-.8zM137.3 56.7h.8v.8h-.8zM138.1 62.6h.8v.8h-.8zM137.5 69.2h.8v.8h-.8zM139.0 66.2h.8v.8h-.8zM137.1 68.1h.8v.8h-.8zM138.8 64.0h.8v.8h-.8zM138.3 69.6h.8v.8h-.8zM137.5 70.4h.8v.8h-.8zM137.7 58.4h.8v.8h-.8zM137.2 65.3h.8v.8h-.8zM137.2 70.6h.8v.8h-.8zM137.1 58.9h.8v.8h-.8zM138.8 62.5h.8v.8h-.8zM137.4 65.3h.8v.8h-.8zM138.0 60.1h.8v.8h-.8zM138.8 62.2h.8v.8h-.8zM137.5 64.8h.8v.8h-.8zM137.4 58.9h.8v.8h-.8zM136.5 87.0h.8v.8h-.8zM137.4 57.4h.8v.8h-.8zM138.2 64.3h.8v.8h-.8zM139.1 61.0h.8v.8h-.8zM137.2 87.7h2v1.1h-2zM142.1 87.6h.8v.8h-.8zM142.6 66.3h.8v.8h-.8zM141.0 78.0h.8v.8h-.8zM142.6 60.6h.8v.8h-.8zM140.3 76.4h.8v.8h-.8zM140.2 82.9h.8v.8h-.8zM141.6 81.3h.8v.8h-.8zM142.1 61.0h.8v.8h-.8zM140.3 67.2h.8v.8h-.8zM142.2 70.2h.8v.8h-.8zM140.0 87.8h.8v.8h-.8zM141.4 79.3h.8v.8h-.8zM140.7 83.7h.8v.8h-.8zM141.4 72.1h.8v.8h-.8zM141.3 71.4h.8v.8h-.8zM140.7 87.7h2v1.1h-2zM144.1 72.0h.8v.8h-.8zM144.0 60.9h.8v.8h-.8zM144.6 68.6h.8v.8h-.8zM145.7 76.7h.8v.8h-.8zM144.8 74.9h.8v.8h-.8zM145.7 69.5h.8v.8h-.8zM143.4 80.6h.8v.8h-.8zM145.4 72.6h.8v.8h-.8zM144.8 56.5h.8v.8h-.8zM144.2 61.8h.8v.8h-.8zM145.7 83.4h.8v.8h-.8zM143.6 66.5h.8v.8h-.8zM145.9 61.8h.8v.8h-.8zM145.1 67.6h.8v.8h-.8zM144.9 87.2h.8v.8h-.8zM144.5 73.9h.8v.8h-.8zM144.1 71.4h.8v.8h-.8zM144.7 66.7h.8v.8h-.8zM144.6 66.7h.8v.8h-.8zM143.6 72.9h.8v.8h-.8zM144.5 68.5h.8v.8h-.8zM144.4 61.6h.8v.8h-.8zM144.0 67.5h.8v.8h-.8zM143.4 57.9h.8v.8h-.8zM143.4 74.9h.8v.8h-.8zM144.4 74.8h.8v.8h-.8zM144.1 87.7h2v1.1h-2zM147.7 76.4h.8v.8h-.8zM147.7 65.2h.8v.8h-.8zM148.9 78.9h.8v.8h-.8zM147.6 71.5h.8v.8h-.8zM148.0 83.8h.8v.8h-.8zM147.6 87.6h.8v.8h-.8zM149.5 59.5h.8v.8h-.8zM147.7 62.2h.8v.8h-.8zM148.6 67.5h.8v.8h-.8zM147.0 83.3h.8v.8h-.8zM149.3 64.8h.8v.8h-.8zM149.4 58.8h.8v.8h-.8zM146.9 65.1h.8v.8h-.8zM148.7 63.3h.8v.8h-.8zM147.1 87.9h.8v.8h-.8zM147.6 87.7h2v1.1h-2zM139.7 20.1h1.3v1.3h-1.3zM141.7 20.1h1.3v1.3h-1.3zM143.7 20.1h1.3v1.3h-1.3zM145.7 20.1h1.3v1.3h-1.3zM153.3 54.5h.8v.8h-.8zM152.4 66.1h.8v.8h-.8zM153.2 64.7h.8v.8h-.8zM153.5 62.5h.8v.8h-.8zM151.6 55.8h.8v.8h-.8zM153.8 64.6h.8v.8h-.8zM151.8 71.3h.8v.8h-.8zM153.5 67.0h.8v.8h-.8zM152.5 70.7h.8v.8h-.8zM152.3 65.9h.8v.8h-.8zM152.6 60.3h.8v.8h-.8zM153.3 53.9h.8v.8h-.8zM151.7 69.3h.8v.8h-.8zM152.2 63.4h.8v.8h-.8zM152.9 65.0h.8v.8h-.8zM152.8 65.4h.8v.8h-.8zM152.8 53.5h.8v.8h-.8zM152.2 71.9h.8v.8h-.8zM152.0 52.0h.8v.8h-.8zM152.0 56.1h.8v.8h-.8zM152.3 70.2h.8v.8h-.8zM152.9 54.4h.8v.8h-.8zM153.7 71.8h.8v.8h-.8zM151.9 66.5h.8v.8h-.8zM152.1 50.4h.8v.8h-.8zM153.1 49.6h.8v.8h-.8zM152.2 67.2h.8v.8h-.8zM153.3 71.6h.8v.8h-.8zM153.4 50.4h.8v.8h-.8zM152.7 63.4h.8v.8h-.8zM153.3 50.6h.8v.8h-.8zM152.0 87.7h2v1.1h-2zM157.2 85.4h.8v.8h-.8zM157.3 60.2h.8v.8h-.8zM157.0 59.3h.8v.8h-.8zM155.4 59.0h.8v.8h-.8zM155.4 78.3h.8v.8h-.8zM155.1 72.8h.8v.8h-.8zM155.5 73.1h.8v.8h-.8zM157.1 77.8h.8v.8h-.8zM157.0 84.6h.8v.8h-.8zM156.7 62.3h.8v.8h-.8zM157.2 80.7h.8v.8h-.8zM154.9 58.9h.8v.8h-.8zM156.8 87.6h.8v.8h-.8zM155.7 76.7h.8v.8h-.8zM156.1 67.1h.8v.8h-.8zM155.4 74.6h.8v.8h-.8zM157.3 87.5h.8v.8h-.8zM157.2 56.7h.8v.8h-.8zM155.1 78.9h.8v.8h-.8zM157.1 87.6h.8v.8h-.8zM155.5 87.7h2v1.1h-2zM158.4 69.2h.8v.8h-.8zM160.8 68.1h.8v.8h-.8zM160.3 59.1h.8v.8h-.8zM159.6 62.1h.8v.8h-.8zM159.2 67.5h.8v.8h-.8zM160.1 63.6h.8v.8h-.8zM158.4 67.0h.8v.8h-.8zM160.8 67.9h.8v.8h-.8zM159.0 62.8h.8v.8h-.8zM160.7 69.6h.8v.8h-.8zM160.7 87.2h.8v.8h-.8zM158.3 86.9h.8v.8h-.8zM160.1 68.3h.8v.8h-.8zM160.7 55.7h.8v.8h-.8zM160.8 67.4h.8v.8h-.8zM160.5 62.5h.8v.8h-.8zM158.3 73.6h.8v.8h-.8zM159.6 56.8h.8v.8h-.8zM160.4 70.3h.8v.8h-.8zM160.3 62.0h.8v.8h-.8zM159.3 85.5h.8v.8h-.8zM158.3 65.4h.8v.8h-.8zM159.8 50.7h.8v.8h-.8zM160.0 65.2h.8v.8h-.8zM160.6 64.0h.8v.8h-.8zM158.9 63.0h.8v.8h-.8zM159.1 70.6h.8v.8h-.8zM158.9 69.1h.8v.8h-.8zM160.6 64.3h.8v.8h-.8zM159.0 64.0h.8v.8h-.8zM160.0 69.9h.8v.8h-.8zM158.4 54.7h.8v.8h-.8zM158.8 50.5h.8v.8h-.8zM159.2 73.1h.8v.8h-.8zM160.9 72.1h.8v.8h-.8zM160.3 62.8h.8v.8h-.8zM160.3 51.8h.8v.8h-.8zM159.8 64.6h.8v.8h-.8zM160.4 53.8h.8v.8h-.8zM159.0 87.7h2v1.1h-2zM162.7 66.1h.8v.8h-.8zM162.1 70.2h.8v.8h-.8zM164.3 69.8h.8v.8h-.8zM164.2 76.8h.8v.8h-.8zM164.2 68.2h.8v.8h-.8zM163.5 62.5h.8v.8h-.8zM164.2 83.3h.8v.8h-.8zM162.0 64.8h.8v.8h-.8zM161.9 70.4h.8v.8h-.8zM161.8 64.6h.8v.8h-.8zM162.0 63.0h.8v.8h-.8zM163.2 66.5h.8v.8h-.8zM164.2 56.6h.8v.8h-.8zM161.9 63.4h.8v.8h-.8zM164.2 68.7h.8v.8h-.8zM162.6 62.8h.8v.8h-.8zM163.8 64.1h.8v.8h-.8zM163.3 78.8h.8v.8h-.8zM162.2 56.0h.8v.8h-.8zM161.8 87.5h.8v.8h-.8zM161.8 55.3h.8v.8h-.8zM163.7 62.9h.8v.8h-.8zM162.3 61.4h.8v.8h-.8zM163.4 56.3h.8v.8h-.8zM161.7 63.0h.8v.8h-.8zM162.4 61.6h.8v.8h-.8zM162.4 87.7h2v1.1h-2zM154.6 20.1h1.3v1.3h-1.3zM156.6 20.1h1.3v1.3h-1.3zM158.6 20.1h1.3v1.3h-1.3zM160.6 20.1h1.3v1.3h-1.3zM167.4 56.9h.8v.8h-.8zM167.0 56.3h.8v.8h-.8zM167.2 82.7h.8v.8h-.8zM167.0 69.5h.8v.8h-.8zM168.6 78.3h.8v.8h-.8zM166.5 86.4h.8v.8h-.8zM166.9 75.2h.8v.8h-.8zM166.7 72.4h.8v.8h-.8zM168.6 66.2h.8v.8h-.8zM167.9 65.6h.8v.8h-.8zM167.4 70.6h.8v.8h-.8zM167.1 81.8h.8v.8h-.8zM166.8 69.9h.8v.8h-.8zM167.3 71.4h.8v.8h-.8zM167.4 69.9h.8v.8h-.8zM166.8 64.1h.8v.8h-.8zM168.2 65.4h.8v.8h-.8zM168.2 73.5h.8v.8h-.8zM167.4 74.3h.8v.8h-.8zM168.6 70.6h.8v.8h-.8zM166.9 69.8h.8v.8h-.8zM167.0 58.5h.8v.8h-.8zM168.3 66.8h.8v.8h-.8zM168.5 64.2h.8v.8h-.8zM168.0 62.1h.8v.8h-.8zM166.6 62.1h.8v.8h-.8zM166.8 87.7h2v1.1h-2zM170.2 54.8h.8v.8h-.8zM170.9 87.4h.8v.8h-.8zM171.2 83.3h.8v.8h-.8zM171.3 87.9h.8v.8h-.8zM169.9 80.9h.8v.8h-.8zM170.4 87.8h.8v.8h-.8zM171.6 81.4h.8v.8h-.8zM169.9 87.7h.8v.8h-.8zM171.9 50.3h.8v.8h-.8zM171.9 63.8h.8v.8h-.8zM171.3 86.3h.8v.8h-.8zM170.5 75.3h.8v.8h-.8zM171.7 71.0h.8v.8h-.8zM171.6 80.6h.8v.8h-.8zM170.4 58.8h.8v.8h-.8zM171.3 71.5h.8v.8h-.8zM170.5 66.7h.8v.8h-.8zM170.3 87.9h.8v.8h-.8zM172.1 87.7h.8v.8h-.8zM170.3 55.4h.8v.8h-.8zM169.7 77.4h.8v.8h-.8zM170.8 87.7h.8v.8h-.8zM170.1 53.8h.8v.8h-.8zM170.4 72.5h.8v.8h-.8zM170.5 68.8h.8v.8h-.8zM171.3 86.4h.8v.8h-.8zM170.2 75.8h.8v.8h-.8zM169.9 86.6h.8v.8h-.8zM171.6 81.2h.8v.8h-.8zM172.1 80.4h.8v.8h-.8zM171.0 87.5h.8v.8h-.8zM170.3 87.7h2v1.1h-2zM173.6 81.0h.8v.8h-.8zM173.4 52.6h.8v.8h-.8zM175.0 65.3h.8v.8h-.8zM175.1 55.3h.8v.8h-.8zM174.3 59.3h.8v.8h-.8zM174.3 63.5h.8v.8h-.8zM173.2 86.3h.8v.8h-.8zM174.9 65.2h.8v.8h-.8zM174.2 63.7h.8v.8h-.8zM174.1 70.4h.8v.8h-.8zM174.7 59.0h.8v.8h-.8zM173.4 70.0h.8v.8h-.8zM173.1 67.5h.8v.8h-.8zM174.3 66.6h.8v.8h-.8zM175.3 72.7h.8v.8h-.8zM173.9 68.7h.8v.8h-.8zM173.9 75.0h.8v.8h-.8zM174.4 71.7h.8v.8h-.8zM175.4 66.6h.8v.8h-.8zM174.9 70.9h.8v.8h-.8zM174.2 66.3h.8v.8h-.8zM174.7 65.7h.8v.8h-.8zM175.1 65.6h.8v.8h-.8zM175.4 67.5h.8v.8h-.8zM175.4 66.4h.8v.8h-.8zM174.1 84.7h.8v.8h-.8zM173.8 59.6h.8v.8h-.8zM174.8 61.8h.8v.8h-.8zM174.8 56.5h.8v.8h-.8zM174.5 70.7h.8v.8h-.8zM174.9 78.2h.8v.8h-.8zM173.8 87.7h2v1.1h-2zM178.6 65.9h.8v.8h-.8zM177.1 67.6h.8v.8h-.8zM177.0 70.9h.8v.8h-.8zM178.1 72.0h.8v.8h-.8zM177.6 60.9h.8v.8h-.8zM178.5 68.5h.8v.8h-.8zM177.2 58.6h.8v.8h-.8zM178.0 58.5h.8v.8h-.8zM178.6 73.3h.8v.8h-.8zM179.0 68.6h.8v.8h-.8zM177.9 67.2h.8v.8h-.8zM178.2 63.8h.8v.8h-.8zM177.3 82.2h.8v.8h-.8zM176.9 57.3h.8v.8h-.8zM177.9 57.6h.8v.8h-.8zM179.1 80.6h.8v.8h-.8zM176.7 68.9h.8v.8h-.8zM178.4 68.3h.8v.8h-.8zM177.3 56.9h.8v.8h-.8zM176.6 67.0h.8v.8h-.8zM176.9 68.0h.8v.8h-.8zM179.0 69.9h.8v.8h-.8zM176.8 63.8h.8v.8h-.8zM178.5 69.2h.8v.8h-.8zM178.4 66.6h.8v.8h-.8zM178.8 69.4h.8v.8h-.8zM177.3 87.7h2v1.1h-2zM169.4 20.1h1.3v1.3h-1.3zM171.4 20.1h1.3v1.3h-1.3zM173.4 20.1h1.3v1.3h-1.3zM175.4 20.1h1.3v1.3h-1.3zM182.8 62.4h.8v.8h-.8zM181.5 65.7h.8v.8h-.8zM182.1 55.2h.8v.8h-.8zM182.5 45.2h.8v.8h-.8zM181.5 72.4h.8v.8h-.8zM183.5 41.1h.8v.8h-.8zM182.1 57.5h.8v.8h-.8zM182.7 48.6h.8v.8h-.8zM182.8 56.0h.8v.8h-.8zM183.2 65.7h.8v.8h-.8zM181.5 56.1h.8v.8h-.8zM182.8 40.1h.8v.8h-.8zM182.4 65.0h.8v.8h-.8zM181.0 51.2h.8v.8h-.8zM182.5 67.6h.8v.8h-.8zM181.2 69.2h.8v.8h-.8zM181.4 62.3h.8v.8h-.8zM182.8 61.7h.8v.8h-.8zM181.7 58.0h.8v.8h-.8zM181.9 56.0h.8v.8h-.8zM181.6 54.8h.8v.8h-.8zM182.5 55.1h.8v.8h-.8zM183.2 51.5h.8v.8h-.8zM181.7 58.9h.8v.8h-.8zM182.6 83.0h.8v.8h-.8zM182.2 46.4h.8v.8h-.8zM182.3 56.6h.8v.8h-.8zM182.3 59.2h.8v.8h-.8zM181.5 48.3h.8v.8h-.8zM181.0 55.0h.8v.8h-.8zM181.7 45.7h.8v.8h-.8zM183.1 65.5h.8v.8h-.8zM182.9 46.4h.8v.8h-.8zM182.4 56.8h.8v.8h-.8zM183.4 87.7h.8v.8h-.8zM181.6 40.3h.8v.8h-.8zM182.3 78.8h.8v.8h-.8zM182.3 65.3h.8v.8h-.8zM183.6 69.4h.8v.8h-.8zM182.0 52.1h.8v.8h-.8zM182.4 40.7h.8v.8h-.8zM181.6 87.7h2v1.1h-2zM186.4 79.1h.8v.8h-.8zM184.9 62.7h.8v.8h-.8zM186.2 70.0h.8v.8h-.8zM185.8 59.6h.8v.8h-.8zM186.1 62.6h.8v.8h-.8zM186.1 54.4h.8v.8h-.8zM186.4 51.1h.8v.8h-.8zM185.9 71.3h.8v.8h-.8zM185.1 64.0h.8v.8h-.8zM186.4 46.7h.8v.8h-.8zM186.5 50.2h.8v.8h-.8zM184.5 54.0h.8v.8h-.8zM186.9 60.2h.8v.8h-.8zM186.6 55.3h.8v.8h-.8zM186.0 63.9h.8v.8h-.8zM185.9 73.0h.8v.8h-.8zM185.1 68.3h.8v.8h-.8zM185.7 41.4h.8v.8h-.8zM185.1 76.0h.8v.8h-.8zM184.6 82.8h.8v.8h-.8zM185.2 54.8h.8v.8h-.8zM187.0 46.5h.8v.8h-.8zM185.4 45.8h.8v.8h-.8zM184.5 44.4h.8v.8h-.8zM185.8 58.2h.8v.8h-.8zM187.0 50.0h.8v.8h-.8zM184.8 57.0h.8v.8h-.8zM184.9 70.3h.8v.8h-.8zM186.4 60.8h.8v.8h-.8zM184.9 54.9h.8v.8h-.8zM186.7 40.4h.8v.8h-.8zM185.6 53.7h.8v.8h-.8zM186.4 45.7h.8v.8h-.8zM184.5 46.7h.8v.8h-.8zM184.8 41.0h.8v.8h-.8zM186.7 50.1h.8v.8h-.8zM184.5 51.4h.8v.8h-.8zM186.8 45.5h.8v.8h-.8zM185.2 52.0h.8v.8h-.8zM184.9 52.0h.8v.8h-.8zM184.8 41.2h.8v.8h-.8zM184.8 58.0h.8v.8h-.8zM185.4 61.0h.8v.8h-.8zM186.0 50.3h.8v.8h-.8zM184.4 57.1h.8v.8h-.8zM185.4 81.5h.8v.8h-.8zM184.7 70.9h.8v.8h-.8zM185.4 65.6h.8v.8h-.8zM184.5 48.5h.8v.8h-.8zM186.4 56.1h.8v.8h-.8zM186.9 46.5h.8v.8h-.8zM186.7 58.4h.8v.8h-.8zM185.1 87.7h2v1.1h-2zM190.5 42.1h.8v.8h-.8zM188.8 48.3h.8v.8h-.8zM190.3 49.1h.8v.8h-.8zM190.5 62.9h.8v.8h-.8zM190.4 46.6h.8v.8h-.8zM189.4 55.5h.8v.8h-.8zM188.0 61.3h.8v.8h-.8zM188.7 43.5h.8v.8h-.8zM189.1 42.8h.8v.8h-.8zM188.6 87.6h.8v.8h-.8zM188.4 59.9h.8v.8h-.8zM189.3 42.8h.8v.8h-.8zM187.9 49.4h.8v.8h-.8zM188.6 54.4h.8v.8h-.8zM188.0 79.5h.8v.8h-.8zM189.1 43.1h.8v.8h-.8zM190.4 48.2h.8v.8h-.8zM188.9 54.2h.8v.8h-.8zM189.1 60.7h.8v.8h-.8zM189.9 42.4h.8v.8h-.8zM189.5 69.3h.8v.8h-.8zM189.0 49.9h.8v.8h-.8zM189.4 60.5h.8v.8h-.8zM188.0 49.1h.8v.8h-.8zM189.1 49.9h.8v.8h-.8zM189.3 46.8h.8v.8h-.8zM188.2 73.3h.8v.8h-.8zM188.5 41.4h.8v.8h-.8zM188.0 51.9h.8v.8h-.8zM189.5 51.3h.8v.8h-.8zM188.2 44.0h.8v.8h-.8zM190.2 47.2h.8v.8h-.8zM190.2 58.2h.8v.8h-.8zM188.6 49.2h.8v.8h-.8zM189.1 46.4h.8v.8h-.8zM188.6 56.6h.8v.8h-.8zM189.2 45.4h.8v.8h-.8zM189.5 51.4h.8v.8h-.8zM190.0 49.3h.8v.8h-.8zM188.6 87.7h2v1.1h-2zM192.7 54.9h.8v.8h-.8zM193.8 43.8h.8v.8h-.8zM192.6 54.2h.8v.8h-.8zM191.5 61.4h.8v.8h-.8zM193.1 50.4h.8v.8h-.8zM192.5 51.2h.8v.8h-.8zM192.5 47.2h.8v.8h-.8zM193.7 53.8h.8v.8h-.8zM193.7 49.5h.8v.8h-.8zM191.7 51.0h.8v.8h-.8zM191.5 81.3h.8v.8h-.8zM192.5 42.1h.8v.8h-.8zM193.8 40.6h.8v.8h-.8zM193.4 51.1h.8v.8h-.8zM193.1 49.8h.8v.8h-.8zM193.4 60.2h.8v.8h-.8zM192.9 49.9h.8v.8h-.8zM193.8 53.0h.8v.8h-.8zM191.5 57.1h.8v.8h-.8zM193.0 86.5h.8v.8h-.8zM193.7 58.1h.8v.8h-.8zM192.7 40.5h.8v.8h-.8zM193.9 56.0h.8v.8h-.8zM192.8 68.0h.8v.8h-.8zM193.3 51.4h.8v.8h-.8zM192.5 43.2h.8v.8h-.8zM192.6 46.9h.8v.8h-.8zM191.8 50.5h.8v.8h-.8zM193.1 44.7h.8v.8h-.8zM191.8 53.8h.8v.8h-.8zM191.7 77.4h.8v.8h-.8zM193.0 45.7h.8v.8h-.8zM193.7 45.8h.8v.8h-.8zM193.1 72.2h.8v.8h-.8zM192.3 54.3h.8v.8h-.8zM192.3 43.4h.8v.8h-.8zM193.1 47.5h.8v.8h-.8zM193.1 43.7h.8v.8h-.8zM191.6 53.2h.8v.8h-.8zM192.1 87.7h2v1.1h-2zM186.2 20.1h1.3v1.3h-1.3zM188.2 20.1h1.3v1.3h-1.3zM196.5 60.5h.8v.8h-.8zM196.1 62.4h.8v.8h-.8zM196.0 60.1h.8v.8h-.8zM196.3 68.0h.8v.8h-.8zM197.0 76.4h.8v.8h-.8zM196.9 63.9h.8v.8h-.8zM195.8 67.7h.8v.8h-.8zM196.6 59.0h.8v.8h-.8zM195.9 62.4h.8v.8h-.8zM195.8 56.6h.8v.8h-.8zM196.6 66.6h.8v.8h-.8zM196.7 65.1h.8v.8h-.8zM198.2 76.5h.8v.8h-.8zM196.1 80.3h.8v.8h-.8zM197.2 50.5h.8v.8h-.8zM196.8 62.2h.8v.8h-.8zM197.3 70.0h.8v.8h-.8zM197.8 87.1h.8v.8h-.8zM197.8 55.1h.8v.8h-.8zM197.1 51.3h.8v.8h-.8zM197.6 65.9h.8v.8h-.8zM197.8 56.2h.8v.8h-.8zM196.1 50.5h.8v.8h-.8zM198.3 62.8h.8v.8h-.8zM197.0 65.2h.8v.8h-.8zM197.8 63.8h.8v.8h-.8zM197.9 68.8h.8v.8h-.8zM196.0 66.2h.8v.8h-.8zM196.4 71.3h.8v.8h-.8zM197.5 56.5h.8v.8h-.8zM196.3 65.9h.8v.8h-.8zM197.5 63.6h.8v.8h-.8zM196.3 62.6h.8v.8h-.8zM196.5 87.7h2v1.1h-2zM199.2 72.1h.8v.8h-.8zM200.2 86.1h.8v.8h-.8zM201.8 74.8h.8v.8h-.8zM201.4 74.0h.8v.8h-.8zM199.5 79.0h.8v.8h-.8zM201.6 68.3h.8v.8h-.8zM199.6 82.0h.8v.8h-.8zM200.9 68.4h.8v.8h-.8zM200.4 63.7h.8v.8h-.8zM200.2 70.9h.8v.8h-.8zM201.1 73.3h.8v.8h-.8zM199.6 72.0h.8v.8h-.8zM200.2 70.0h.8v.8h-.8zM200.3 66.7h.8v.8h-.8zM199.3 86.1h.8v.8h-.8zM200.0 69.8h.8v.8h-.8zM201.4 72.2h.8v.8h-.8zM199.5 67.7h.8v.8h-.8zM199.8 74.1h.8v.8h-.8zM199.4 63.9h.8v.8h-.8zM199.9 87.7h2v1.1h-2zM204.7 64.8h.8v.8h-.8zM203.9 51.5h.8v.8h-.8zM204.8 66.5h.8v.8h-.8zM205.1 70.2h.8v.8h-.8zM205.2 60.8h.8v.8h-.8zM203.2 72.2h.8v.8h-.8zM203.5 48.9h.8v.8h-.8zM204.5 70.5h.8v.8h-.8zM205.0 71.2h.8v.8h-.8zM203.4 62.0h.8v.8h-.8zM205.2 66.0h.8v.8h-.8zM202.9 70.3h.8v.8h-.8zM203.6 69.4h.8v.8h-.8zM202.8 62.1h.8v.8h-.8zM203.8 67.4h.8v.8h-.8zM202.7 64.6h.8v.8h-.8zM204.0 52.0h.8v.8h-.8zM202.8 64.3h.8v.8h-.8zM203.0 64.6h.8v.8h-.8zM202.7 66.6h.8v.8h-.8zM203.9 77.9h.8v.8h-.8zM203.0 61.7h.8v.8h-.8zM204.0 55.1h.8v.8h-.8zM204.0 69.6h.8v.8h-.8zM205.1 59.1h.8v.8h-.8zM203.9 56.8h.8v.8h-.8zM204.1 67.7h.8v.8h-.8zM202.8 59.4h.8v.8h-.8zM204.3 56.0h.8v.8h-.8zM204.0 73.1h.8v.8h-.8zM203.1 71.7h.8v.8h-.8zM204.7 63.0h.8v.8h-.8zM203.5 69.4h.8v.8h-.8zM203.3 72.4h.8v.8h-.8zM204.8 59.7h.8v.8h-.8zM204.6 62.3h.8v.8h-.8zM205.2 48.1h.8v.8h-.8zM204.0 61.8h.8v.8h-.8zM205.0 62.5h.8v.8h-.8zM203.4 87.7h2v1.1h-2zM207.3 72.3h.8v.8h-.8zM206.5 67.2h.8v.8h-.8zM207.4 65.0h.8v.8h-.8zM208.7 66.6h.8v.8h-.8zM208.4 86.3h.8v.8h-.8zM207.4 63.5h.8v.8h-.8zM207.1 57.5h.8v.8h-.8zM206.2 75.7h.8v.8h-.8zM208.1 63.2h.8v.8h-.8zM206.8 52.0h.8v.8h-.8zM208.5 68.2h.8v.8h-.8zM208.7 62.3h.8v.8h-.8zM207.4 82.9h.8v.8h-.8zM207.5 59.1h.8v.8h-.8zM207.9 66.0h.8v.8h-.8zM206.6 67.0h.8v.8h-.8zM206.8 73.9h.8v.8h-.8zM208.6 87.0h.8v.8h-.8zM208.3 59.9h.8v.8h-.8zM208.1 62.0h.8v.8h-.8zM206.3 59.8h.8v.8h-.8zM207.5 67.8h.8v.8h-.8zM207.4 87.7h.8v.8h-.8zM208.0 58.1h.8v.8h-.8zM206.3 67.0h.8v.8h-.8zM208.3 83.0h.8v.8h-.8zM207.4 63.2h.8v.8h-.8zM206.5 57.0h.8v.8h-.8zM206.8 64.9h.8v.8h-.8zM207.3 63.3h.8v.8h-.8zM208.0 60.5h.8v.8h-.8zM207.8 68.9h.8v.8h-.8zM207.1 57.6h.8v.8h-.8zM206.9 87.7h2v1.1h-2zM199.0 20.1h1.3v1.3h-1.3zM201.0 20.1h1.3v1.3h-1.3zM203.0 20.1h1.3v1.3h-1.3zM205.0 20.1h1.3v1.3h-1.3zM212.3 67.6h.8v.8h-.8zM213.0 73.6h.8v.8h-.8zM212.7 63.0h.8v.8h-.8zM213.2 85.8h.8v.8h-.8zM212.2 67.0h.8v.8h-.8zM212.2 65.5h.8v.8h-.8zM212.8 66.9h.8v.8h-.8zM212.1 66.8h.8v.8h-.8zM213.2 85.3h.8v.8h-.8zM211.6 75.7h.8v.8h-.8zM211.5 70.1h.8v.8h-.8zM211.3 81.1h.8v.8h-.8zM211.4 58.0h.8v.8h-.8zM212.1 68.1h.8v.8h-.8zM211.5 74.8h.8v.8h-.8zM212.0 78.9h.8v.8h-.8zM211.4 67.0h.8v.8h-.8zM211.9 80.0h.8v.8h-.8zM212.0 69.5h.8v.8h-.8zM211.3 70.3h.8v.8h-.8zM212.4 64.6h.8v.8h-.8zM212.5 75.4h.8v.8h-.8zM212.5 68.2h.8v.8h-.8zM212.6 66.8h.8v.8h-.8zM212.2 72.5h.8v.8h-.8zM213.1 58.3h.8v.8h-.8zM211.3 87.7h2v1.1h-2zM216.6 70.1h.8v.8h-.8zM215.8 67.7h.8v.8h-.8zM214.8 69.5h.8v.8h-.8zM215.8 59.4h.8v.8h-.8zM216.4 87.8h.8v.8h-.8zM216.2 81.1h.8v.8h-.8zM214.2 73.8h.8v.8h-.8zM214.4 78.2h.8v.8h-.8zM214.0 61.7h.8v.8h-.8zM216.4 56.6h.8v.8h-.8zM215.2 61.4h.8v.8h-.8zM214.1 75.2h.8v.8h-.8zM215.8 77.9h.8v.8h-.8zM215.9 75.5h.8v.8h-.8zM215.6 76.1h.8v.8h-.8zM214.8 73.2h.8v.8h-.8zM215.0 77.5h.8v.8h-.8zM214.5 59.9h.8v.8h-.8zM216.0 78.4h.8v.8h-.8zM214.2 84.2h.8v.8h-.8zM214.8 87.7h2v1.1h-2zM219.1 64.2h.8v.8h-.8zM218.3 62.8h.8v.8h-.8zM217.9 66.5h.8v.8h-.8zM218.6 70.1h.8v.8h-.8zM218.3 76.1h.8v.8h-.8zM217.8 54.7h.8v.8h-.8zM219.8 71.6h.8v.8h-.8zM218.1 72.8h.8v.8h-.8zM219.4 60.4h.8v.8h-.8zM220.1 65.6h.8v.8h-.8zM218.9 87.0h.8v.8h-.8zM219.9 68.4h.8v.8h-.8zM217.6 67.5h.8v.8h-.8zM217.7 80.7h.8v.8h-.8zM218.7 66.3h.8v.8h-.8zM217.8 57.1h.8v.8h-.8zM218.7 64.3h.8v.8h-.8zM219.7 49.5h.8v.8h-.8zM219.6 68.8h.8v.8h-.8zM218.9 70.9h.8v.8h-.8zM219.4 62.6h.8v.8h-.8zM218.8 66.2h.8v.8h-.8zM217.7 70.8h.8v.8h-.8zM217.6 52.5h.8v.8h-.8zM219.8 75.9h.8v.8h-.8zM220.1 81.1h.8v.8h-.8zM220.0 73.1h.8v.8h-.8zM217.8 63.7h.8v.8h-.8zM219.1 74.1h.8v.8h-.8zM219.2 65.1h.8v.8h-.8zM219.1 65.4h.8v.8h-.8zM219.7 59.8h.8v.8h-.8zM217.9 67.6h.8v.8h-.8zM219.8 64.0h.8v.8h-.8zM218.8 59.9h.8v.8h-.8zM219.7 86.1h.8v.8h-.8zM218.4 48.6h.8v.8h-.8zM218.8 73.6h.8v.8h-.8zM218.7 79.9h.8v.8h-.8zM218.2 87.7h2v1.1h-2zM223.0 87.3h.8v.8h-.8zM221.7 86.5h.8v.8h-.8zM222.8 59.4h.8v.8h-.8zM221.4 78.6h.8v.8h-.8zM222.2 62.9h.8v.8h-.8zM223.2 65.2h.8v.8h-.8zM222.2 62.0h.8v.8h-.8zM223.1 62.9h.8v.8h-.8zM221.4 65.2h.8v.8h-.8zM221.3 62.9h.8v.8h-.8zM221.3 65.3h.8v.8h-.8zM223.3 61.2h.8v.8h-.8zM221.7 63.5h.8v.8h-.8zM222.7 61.1h.8v.8h-.8zM221.5 59.4h.8v.8h-.8zM223.5 68.0h.8v.8h-.8zM221.1 64.2h.8v.8h-.8zM223.5 65.2h.8v.8h-.8zM221.0 63.8h.8v.8h-.8zM223.3 67.7h.8v.8h-.8zM221.7 87.7h2v1.1h-2zM215.8 20.1h1.3v1.3h-1.3zM217.8 20.1h1.3v1.3h-1.3zM226.9 61.6h.8v.8h-.8zM227.8 67.4h.8v.8h-.8zM227.0 53.9h.8v.8h-.8zM226.1 68.8h.8v.8h-.8zM227.7 82.5h.8v.8h-.8zM226.9 70.8h.8v.8h-.8zM226.2 67.7h.8v.8h-.8zM227.0 61.8h.8v.8h-.8zM227.4 62.4h.8v.8h-.8zM226.1 68.8h.8v.8h-.8zM227.6 70.5h.8v.8h-.8zM227.0 61.2h.8v.8h-.8zM226.9 81.6h.8v.8h-.8zM226.9 65.1h.8v.8h-.8zM227.7 67.7h.8v.8h-.8zM225.5 53.3h.8v.8h-.8zM227.6 65.7h.8v.8h-.8zM227.0 66.5h.8v.8h-.8zM226.9 68.0h.8v.8h-.8zM225.7 63.7h.8v.8h-.8zM227.9 70.1h.8v.8h-.8zM226.8 67.0h.8v.8h-.8zM227.5 63.1h.8v.8h-.8zM226.1 63.6h.8v.8h-.8zM225.6 63.3h.8v.8h-.8zM227.1 63.1h.8v.8h-.8zM226.7 57.5h.8v.8h-.8zM226.6 54.1h.8v.8h-.8zM227.3 53.2h.8v.8h-.8zM227.0 71.0h.8v.8h-.8zM226.1 68.9h.8v.8h-.8zM226.1 87.7h2v1.1h-2zM230.8 64.5h.8v.8h-.8zM231.4 57.2h.8v.8h-.8zM231.5 78.9h.8v.8h-.8zM229.1 58.0h.8v.8h-.8zM230.8 66.1h.8v.8h-.8zM230.0 59.5h.8v.8h-.8zM230.5 58.8h.8v.8h-.8zM230.3 66.8h.8v.8h-.8zM230.7 66.9h.8v.8h-.8zM230.1 69.8h.8v.8h-.8zM229.8 65.3h.8v.8h-.8zM229.3 69.0h.8v.8h-.8zM230.2 57.1h.8v.8h-.8zM231.1 71.7h.8v.8h-.8zM231.3 69.9h.8v.8h-.8zM230.1 66.5h.8v.8h-.8zM230.0 63.8h.8v.8h-.8zM230.3 72.1h.8v.8h-.8zM231.0 65.7h.8v.8h-.8zM231.4 63.5h.8v.8h-.8zM230.3 63.0h.8v.8h-.8zM230.6 70.9h.8v.8h-.8zM229.3 63.1h.8v.8h-.8zM230.0 64.6h.8v.8h-.8zM230.5 57.5h.8v.8h-.8zM231.0 68.1h.8v.8h-.8zM229.6 87.7h2v1.1h-2zM233.8 71.0h.8v.8h-.8zM234.2 64.7h.8v.8h-.8zM233.0 68.4h.8v.8h-.8zM234.6 75.6h.8v.8h-.8zM233.9 66.0h.8v.8h-.8zM233.8 67.3h.8v.8h-.8zM232.6 83.6h.8v.8h-.8zM232.5 71.5h.8v.8h-.8zM232.4 58.2h.8v.8h-.8zM234.6 66.8h.8v.8h-.8zM232.4 63.9h.8v.8h-.8zM233.6 65.2h.8v.8h-.8zM234.6 82.0h.8v.8h-.8zM234.1 70.4h.8v.8h-.8zM233.6 65.7h.8v.8h-.8zM233.6 70.5h.8v.8h-.8zM234.5 66.8h.8v.8h-.8zM232.6 67.6h.8v.8h-.8zM233.7 64.1h.8v.8h-.8zM234.2 57.9h.8v.8h-.8zM235.0 69.0h.8v.8h-.8zM233.5 71.2h.8v.8h-.8zM232.6 64.0h.8v.8h-.8zM232.4 57.1h.8v.8h-.8zM232.8 67.2h.8v.8h-.8zM233.5 69.2h.8v.8h-.8zM235.0 68.4h.8v.8h-.8zM233.8 59.2h.8v.8h-.8zM234.4 61.5h.8v.8h-.8zM232.6 69.3h.8v.8h-.8zM232.8 66.9h.8v.8h-.8zM234.8 65.0h.8v.8h-.8zM234.8 69.6h.8v.8h-.8zM233.6 69.2h.8v.8h-.8zM234.1 63.6h.8v.8h-.8zM233.2 82.7h.8v.8h-.8zM233.4 65.6h.8v.8h-.8zM233.6 56.5h.8v.8h-.8zM234.3 63.8h.8v.8h-.8zM233.1 87.7h2v1.1h-2zM236.5 66.0h.8v.8h-.8zM237.6 66.2h.8v.8h-.8zM237.3 69.3h.8v.8h-.8zM236.5 66.8h.8v.8h-.8zM237.1 70.7h.8v.8h-.8zM237.5 47.7h.8v.8h-.8zM236.1 64.4h.8v.8h-.8zM238.4 70.4h.8v.8h-.8zM237.8 62.6h.8v.8h-.8zM237.8 45.8h.8v.8h-.8zM237.9 64.5h.8v.8h-.8zM237.2 49.1h.8v.8h-.8zM237.2 55.6h.8v.8h-.8zM236.3 63.1h.8v.8h-.8zM237.0 67.7h.8v.8h-.8zM237.5 54.9h.8v.8h-.8zM237.2 69.8h.8v.8h-.8zM238.0 87.7h.8v.8h-.8zM237.3 57.1h.8v.8h-.8zM237.6 63.4h.8v.8h-.8zM237.3 67.8h.8v.8h-.8zM236.4 52.5h.8v.8h-.8zM238.2 68.6h.8v.8h-.8zM237.0 65.2h.8v.8h-.8zM237.8 68.0h.8v.8h-.8zM237.7 59.2h.8v.8h-.8zM237.0 78.7h.8v.8h-.8zM238.0 50.5h.8v.8h-.8zM237.2 67.3h.8v.8h-.8zM236.5 62.6h.8v.8h-.8zM236.2 70.8h.8v.8h-.8zM237.9 87.4h.8v.8h-.8zM238.1 62.7h.8v.8h-.8zM238.3 65.1h.8v.8h-.8zM238.0 59.4h.8v.8h-.8zM236.1 66.9h.8v.8h-.8zM238.0 66.8h.8v.8h-.8zM236.2 68.3h.8v.8h-.8zM237.3 63.0h.8v.8h-.8zM236.9 68.7h.8v.8h-.8zM237.3 83.3h.8v.8h-.8zM236.5 87.7h2v1.1h-2zM231.7 20.1h1.3v1.3h-1.3zM241.0 62.6h.8v.8h-.8zM242.7 52.6h.8v.8h-.8zM242.7 40.4h.8v.8h-.8zM242.2 48.3h.8v.8h-.8zM241.7 45.2h.8v.8h-.8zM241.4 51.2h.8v.8h-.8zM240.6 52.4h.8v.8h-.8zM240.3 47.4h.8v.8h-.8zM241.3 54.1h.8v.8h-.8zM241.9 75.8h.8v.8h-.8zM241.1 55.9h.8v.8h-.8zM242.7 41.6h.8v.8h-.8zM242.1 41.2h.8v.8h-.8zM241.2 50.3h.8v.8h-.8zM240.6 50.0h.8v.8h-.8zM242.3 47.1h.8v.8h-.8zM241.3 53.9h.8v.8h-.8zM242.1 84.2h.8v.8h-.8zM242.7 45.6h.8v.8h-.8zM240.4 52.6h.8v.8h-.8zM241.9 49.7h.8v.8h-.8zM240.4 54.3h.8v.8h-.8zM242.4 51.4h.8v.8h-.8zM242.0 41.0h.8v.8h-.8zM241.3 52.8h.8v.8h-.8zM240.9 70.9h.8v.8h-.8zM241.1 56.5h.8v.8h-.8zM242.0 51.9h.8v.8h-.8zM241.1 59.5h.8v.8h-.8zM242.0 43.1h.8v.8h-.8zM240.3 40.7h.8v.8h-.8zM240.7 49.4h.8v.8h-.8zM240.3 47.3h.8v.8h-.8zM240.6 54.4h.8v.8h-.8zM240.4 54.0h.8v.8h-.8zM241.0 51.4h.8v.8h-.8zM241.6 43.1h.8v.8h-.8zM242.4 46.4h.8v.8h-.8zM240.5 55.1h.8v.8h-.8zM240.6 52.0h.8v.8h-.8zM242.7 56.3h.8v.8h-.8zM240.9 87.7h2v1.1h-2zM245.6 72.9h.8v.8h-.8zM244.1 43.5h.8v.8h-.8zM245.5 43.2h.8v.8h-.8zM244.0 49.5h.8v.8h-.8zM244.4 43.5h.8v.8h-.8zM244.4 43.8h.8v.8h-.8zM243.8 47.2h.8v.8h-.8zM246.0 54.6h.8v.8h-.8zM245.1 54.4h.8v.8h-.8zM244.8 40.8h.8v.8h-.8zM245.4 43.0h.8v.8h-.8zM244.2 52.2h.8v.8h-.8zM245.1 50.5h.8v.8h-.8zM245.6 49.1h.8v.8h-.8zM246.3 50.9h.8v.8h-.8zM245.7 45.3h.8v.8h-.8zM244.7 67.7h.8v.8h-.8zM244.9 40.3h.8v.8h-.8zM245.6 51.5h.8v.8h-.8zM245.5 71.6h.8v.8h-.8zM246.1 52.3h.8v.8h-.8zM245.0 43.6h.8v.8h-.8zM244.2 48.6h.8v.8h-.8zM243.8 43.8h.8v.8h-.8zM245.4 46.0h.8v.8h-.8zM244.2 54.5h.8v.8h-.8zM244.1 50.7h.8v.8h-.8zM244.1 48.6h.8v.8h-.8zM245.4 52.2h.8v.8h-.8zM244.8 54.5h.8v.8h-.8zM245.4 54.3h.8v.8h-.8zM245.6 53.0h.8v.8h-.8zM245.6 47.7h.8v.8h-.8zM244.0 44.4h.8v.8h-.8zM245.8 41.3h.8v.8h-.8zM243.9 44.6h.8v.8h-.8zM244.0 52.8h.8v.8h-.8zM245.9 50.4h.8v.8h-.8zM243.9 41.7h.8v.8h-.8zM245.5 46.1h.8v.8h-.8zM243.7 53.0h.8v.8h-.8zM246.2 49.7h.8v.8h-.8zM245.6 48.4h.8v.8h-.8zM243.9 42.0h.8v.8h-.8zM246.1 86.9h.8v.8h-.8zM245.6 47.9h.8v.8h-.8zM245.7 46.0h.8v.8h-.8zM244.9 54.7h.8v.8h-.8zM245.8 52.1h.8v.8h-.8zM244.4 54.4h.8v.8h-.8zM244.6 83.9h.8v.8h-.8zM245.3 51.8h.8v.8h-.8zM244.4 87.7h2v1.1h-2zM249.1 73.8h.8v.8h-.8zM248.9 42.9h.8v.8h-.8zM247.9 49.9h.8v.8h-.8zM248.6 53.9h.8v.8h-.8zM249.2 48.7h.8v.8h-.8zM249.2 47.2h.8v.8h-.8zM248.4 50.4h.8v.8h-.8zM247.7 54.6h.8v.8h-.8zM247.3 51.7h.8v.8h-.8zM248.8 52.9h.8v.8h-.8zM248.6 48.8h.8v.8h-.8zM247.7 50.6h.8v.8h-.8zM248.1 52.0h.8v.8h-.8zM247.9 53.4h.8v.8h-.8zM249.1 43.5h.8v.8h-.8zM249.1 52.8h.8v.8h-.8zM249.6 45.3h.8v.8h-.8zM248.1 81.3h.8v.8h-.8zM247.5 53.1h.8v.8h-.8zM248.9 49.0h.8v.8h-.8zM249.3 55.3h.8v.8h-.8zM248.0 50.9h.8v.8h-.8zM249.5 49.1h.8v.8h-.8zM249.8 48.4h.8v.8h-.8zM248.4 54.2h.8v.8h-.8zM248.4 58.5h.8v.8h-.8zM249.6 42.0h.8v.8h-.8zM247.4 53.5h.8v.8h-.8zM249.2 49.0h.8v.8h-.8zM248.6 85.2h.8v.8h-.8zM248.5 54.2h.8v.8h-.8zM248.7 45.9h.8v.8h-.8zM247.4 49.4h.8v.8h-.8zM249.7 50.5h.8v.8h-.8zM247.5 54.1h.8v.8h-.8zM247.7 55.3h.8v.8h-.8zM248.2 52.7h.8v.8h-.8zM249.0 49.4h.8v.8h-.8zM249.3 52.9h.8v.8h-.8zM247.9 87.7h2v1.1h-2zM251.6 52.9h.8v.8h-.8zM251.1 77.0h.8v.8h-.8zM252.0 48.5h.8v.8h-.8zM252.0 49.8h.8v.8h-.8zM252.2 50.6h.8v.8h-.8zM250.8 56.0h.8v.8h-.8zM251.1 44.1h.8v.8h-.8zM250.9 55.1h.8v.8h-.8zM251.7 65.5h.8v.8h-.8zM253.2 53.3h.8v.8h-.8zM252.1 50.2h.8v.8h-.8zM251.2 41.8h.8v.8h-.8zM250.7 42.5h.8v.8h-.8zM252.8 47.3h.8v.8h-.8zM251.4 65.3h.8v.8h-.8zM252.3 45.4h.8v.8h-.8zM251.3 50.8h.8v.8h-.8zM252.2 48.9h.8v.8h-.8zM253.2 57.9h.8v.8h-.8zM252.3 58.8h.8v.8h-.8zM251.6 52.5h.8v.8h-.8zM251.3 49.0h.8v.8h-.8zM251.9 53.2h.8v.8h-.8zM253.0 58.4h.8v.8h-.8zM251.6 57.0h.8v.8h-.8zM251.6 46.6h.8v.8h-.8zM251.1 43.4h.8v.8h-.8zM252.5 49.5h.8v.8h-.8zM252.8 53.7h.8v.8h-.8zM252.6 58.2h.8v.8h-.8zM252.5 46.3h.8v.8h-.8zM252.4 76.3h.8v.8h-.8zM253.1 54.1h.8v.8h-.8zM252.0 50.4h.8v.8h-.8zM252.3 56.1h.8v.8h-.8zM252.3 50.6h.8v.8h-.8zM251.9 55.7h.8v.8h-.8zM253.2 55.8h.8v.8h-.8zM252.3 55.0h.8v.8h-.8zM252.0 44.5h.8v.8h-.8zM251.8 84.2h.8v.8h-.8zM251.4 87.7h2v1.1h-2zM245.5 20.1h1.3v1.3h-1.3zM247.5 20.1h1.3v1.3h-1.3zM257.2 55.2h.8v.8h-.8zM255.6 71.4h.8v.8h-.8zM257.5 68.3h.8v.8h-.8zM257.4 65.1h.8v.8h-.8zM257.4 54.0h.8v.8h-.8zM257.6 71.7h.8v.8h-.8zM257.0 66.3h.8v.8h-.8zM257.4 63.3h.8v.8h-.8zM255.3 59.9h.8v.8h-.8zM257.6 56.3h.8v.8h-.8zM255.3 49.3h.8v.8h-.8zM256.5 62.8h.8v.8h-.8zM255.2 61.8h.8v.8h-.8zM255.3 57.5h.8v.8h-.8zM256.0 69.9h.8v.8h-.8zM255.1 68.2h.8v.8h-.8zM257.0 83.9h.8v.8h-.8zM257.5 65.1h.8v.8h-.8zM256.7 61.1h.8v.8h-.8zM255.5 72.8h.8v.8h-.8zM256.5 68.0h.8v.8h-.8zM255.5 45.8h.8v.8h-.8zM255.3 67.4h.8v.8h-.8zM256.1 63.4h.8v.8h-.8zM255.2 62.0h.8v.8h-.8zM256.7 59.6h.8v.8h-.8zM256.7 72.4h.8v.8h-.8zM256.6 68.6h.8v.8h-.8zM257.6 59.0h.8v.8h-.8zM255.2 64.6h.8v.8h-.8zM256.9 62.5h.8v.8h-.8zM257.4 60.4h.8v.8h-.8zM256.4 62.9h.8v.8h-.8zM255.7 87.7h2v1.1h-2zM260.4 71.2h.8v.8h-.8zM258.8 69.7h.8v.8h-.8zM259.2 64.5h.8v.8h-.8zM260.2 68.9h.8v.8h-.8zM259.4 78.3h.8v.8h-.8zM259.5 70.8h.8v.8h-.8zM259.6 65.5h.8v.8h-.8zM260.7 54.7h.8v.8h-.8zM259.2 69.3h.8v.8h-.8zM258.7 70.7h.8v.8h-.8zM259.3 66.1h.8v.8h-.8zM260.0 65.5h.8v.8h-.8zM259.2 65.9h.8v.8h-.8zM260.3 71.8h.8v.8h-.8zM259.0 75.3h.8v.8h-.8zM260.7 68.6h.8v.8h-.8zM258.5 61.4h.8v.8h-.8zM259.6 66.9h.8v.8h-.8zM258.8 67.0h.8v.8h-.8zM259.3 76.5h.8v.8h-.8zM258.8 71.9h.8v.8h-.8zM259.1 65.8h.8v.8h-.8zM260.5 83.8h.8v.8h-.8zM261.1 73.2h.8v.8h-.8zM258.6 51.4h.8v.8h-.8zM260.8 68.4h.8v.8h-.8zM259.1 85.2h.8v.8h-.8zM258.6 82.3h.8v.8h-.8zM260.6 73.0h.8v.8h-.8zM258.6 58.3h.8v.8h-.8zM260.5 77.7h.8v.8h-.8zM259.9 68.4h.8v.8h-.8zM259.5 85.5h.8v.8h-.8zM259.2 87.7h2v1.1h-2zM262.9 75.0h.8v.8h-.8zM263.0 64.0h.8v.8h-.8zM264.1 72.0h.8v.8h-.8zM262.7 64.1h.8v.8h-.8zM262.2 52.0h.8v.8h-.8zM262.3 68.6h.8v.8h-.8zM263.9 68.4h.8v.8h-.8zM262.6 72.2h.8v.8h-.8zM264.4 48.5h.8v.8h-.8zM264.1 65.1h.8v.8h-.8zM264.3 74.3h.8v.8h-.8zM264.1 77.8h.8v.8h-.8zM263.0 56.5h.8v.8h-.8zM264.0 70.7h.8v.8h-.8zM263.5 73.4h.8v.8h-.8zM262.0 50.8h.8v.8h-.8zM263.9 84.5h.8v.8h-.8zM264.1 67.4h.8v.8h-.8zM263.8 69.9h.8v.8h-.8zM263.6 71.9h.8v.8h-.8zM263.1 75.3h.8v.8h-.8zM264.0 67.9h.8v.8h-.8zM264.2 86.5h.8v.8h-.8zM263.9 83.7h.8v.8h-.8zM263.3 67.1h.8v.8h-.8zM263.0 71.4h.8v.8h-.8zM263.4 64.3h.8v.8h-.8zM263.7 71.8h.8v.8h-.8zM262.1 65.0h.8v.8h-.8zM263.3 57.2h.8v.8h-.8zM264.4 67.2h.8v.8h-.8zM264.1 65.6h.8v.8h-.8zM263.1 66.5h.8v.8h-.8zM262.7 87.7h2v1.1h-2zM265.7 69.6h.8v.8h-.8zM266.4 69.3h.8v.8h-.8zM267.1 61.8h.8v.8h-.8zM266.9 66.7h.8v.8h-.8zM265.5 62.3h.8v.8h-.8zM266.2 70.3h.8v.8h-.8zM266.1 68.7h.8v.8h-.8zM267.1 65.1h.8v.8h-.8zM267.0 75.4h.8v.8h-.8zM266.2 75.8h.8v.8h-.8zM267.9 71.0h.8v.8h-.8zM266.4 63.0h.8v.8h-.8zM266.1 66.8h.8v.8h-.8zM267.1 63.1h.8v.8h-.8zM266.0 71.2h.8v.8h-.8zM267.9 67.0h.8v.8h-.8zM265.9 69.9h.8v.8h-.8zM266.2 69.9h.8v.8h-.8zM267.2 62.9h.8v.8h-.8zM268.1 67.0h.8v.8h-.8zM260.3 20.1h1.3v1.3h-1.3zM262.3 20.1h1.3v1.3h-1.3zM272.5 67.1h.8v.8h-.8zM271.1 70.7h.8v.8h-.8zM270.6 56.3h.8v.8h-.8zM271.7 66.6h.8v.8h-.8zM271.2 65.6h.8v.8h-.8zM271.6 84.7h.8v.8h-.8zM271.2 53.8h.8v.8h-.8zM269.9 69.2h.8v.8h-.8zM270.8 65.7h.8v.8h-.8zM270.0 66.5h.8v.8h-.8zM272.5 73.0h.8v.8h-.8zM270.4 75.4h.8v.8h-.8zM270.2 73.6h.8v.8h-.8zM272.3 64.1h.8v.8h-.8zM271.8 55.3h.8v.8h-.8zM272.4 86.4h.8v.8h-.8zM271.7 61.7h.8v.8h-.8zM272.3 69.6h.8v.8h-.8zM271.0 64.8h.8v.8h-.8zM271.1 83.7h.8v.8h-.8zM270.4 84.4h.8v.8h-.8zM269.9 62.8h.8v.8h-.8zM272.1 79.7h.8v.8h-.8zM270.6 67.4h.8v.8h-.8zM272.0 70.4h.8v.8h-.8zM270.1 63.4h.8v.8h-.8zM271.9 68.1h.8v.8h-.8zM272.2 64.5h.8v.8h-.8zM270.6 87.7h2v1.1h-2zM275.5 68.1h.8v.8h-.8zM275.6 67.7h.8v.8h-.8zM273.4 50.5h.8v.8h-.8zM273.8 59.9h.8v.8h-.8zM273.8 83.6h.8v.8h-.8zM275.0 67.5h.8v.8h-.8zM273.9 69.4h.8v.8h-.8zM273.6 61.7h.8v.8h-.8zM275.7 56.1h.8v.8h-.8zM273.9 65.6h.8v.8h-.8zM275.7 52.8h.8v.8h-.8zM273.4 69.3h.8v.8h-.8zM274.2 61.8h.8v.8h-.8zM273.5 65.6h.8v.8h-.8zM275.4 55.3h.8v.8h-.8zM273.9 63.7h.8v.8h-.8zM273.4 48.6h.8v.8h-.8zM275.6 65.4h.8v.8h-.8zM275.3 74.4h.8v.8h-.8zM275.1 68.3h.8v.8h-.8zM274.4 66.1h.8v.8h-.8zM275.1 66.7h.8v.8h-.8zM275.5 66.4h.8v.8h-.8zM273.7 51.0h.8v.8h-.8zM274.3 69.7h.8v.8h-.8zM275.2 87.3h.8v.8h-.8zM274.6 68.2h.8v.8h-.8zM275.0 79.0h.8v.8h-.8zM273.8 57.2h.8v.8h-.8zM275.1 65.8h.8v.8h-.8zM274.3 51.2h.8v.8h-.8zM274.0 87.7h2v1.1h-2zM278.1 73.0h.8v.8h-.8zM278.9 73.0h.8v.8h-.8zM277.1 80.7h.8v.8h-.8zM277.9 63.4h.8v.8h-.8zM279.4 67.7h.8v.8h-.8zM277.3 64.3h.8v.8h-.8zM277.9 57.8h.8v.8h-.8zM278.6 67.0h.8v.8h-.8zM278.1 63.0h.8v.8h-.8zM278.0 68.9h.8v.8h-.8zM278.8 62.2h.8v.8h-.8zM277.1 57.7h.8v.8h-.8zM277.8 54.6h.8v.8h-.8zM279.1 65.4h.8v.8h-.8zM276.8 73.1h.8v.8h-.8zM278.3 66.0h.8v.8h-.8zM279.3 58.5h.8v.8h-.8zM278.8 66.5h.8v.8h-.8zM279.2 65.4h.8v.8h-.8zM278.2 63.3h.8v.8h-.8zM279.0 85.8h.8v.8h-.8zM277.6 57.7h.8v.8h-.8zM279.0 67.3h.8v.8h-.8zM278.9 73.2h.8v.8h-.8zM277.9 68.9h.8v.8h-.8zM277.3 85.5h.8v.8h-.8zM277.7 83.2h.8v.8h-.8zM278.6 56.8h.8v.8h-.8zM279.2 69.4h.8v.8h-.8zM277.8 80.4h.8v.8h-.8zM277.0 59.2h.8v.8h-.8zM277.5 87.7h2v1.1h-2zM282.0 64.0h.8v.8h-.8zM280.9 64.1h.8v.8h-.8zM282.6 65.6h.8v.8h-.8zM282.3 56.0h.8v.8h-.8zM282.0 64.8h.8v.8h-.8zM282.7 66.6h.8v.8h-.8zM282.7 68.5h.8v.8h-.8zM281.9 63.2h.8v.8h-.8zM281.9 63.5h.8v.8h-.8zM281.6 65.4h.8v.8h-.8zM282.2 58.4h.8v.8h-.8zM281.5 59.3h.8v.8h-.8zM280.5 46.1h.8v.8h-.8zM280.9 66.2h.8v.8h-.8zM281.6 70.4h.8v.8h-.8zM280.7 67.7h.8v.8h-.8zM281.2 65.9h.8v.8h-.8zM282.7 63.2h.8v.8h-.8zM280.9 65.6h.8v.8h-.8zM282.1 68.8h.8v.8h-.8zM281.1 65.4h.8v.8h-.8zM282.5 71.7h.8v.8h-.8zM282.9 63.8h.8v.8h-.8zM281.0 62.7h.8v.8h-.8zM281.3 65.3h.8v.8h-.8zM281.5 65.1h.8v.8h-.8zM276.0 20.9h1.6v.55h-1.6zM286.2 70.8h.8v.8h-.8zM285.9 72.5h.8v.8h-.8zM285.0 74.1h.8v.8h-.8zM285.8 70.1h.8v.8h-.8zM285.5 73.4h.8v.8h-.8zM285.0 71.5h.8v.8h-.8zM286.1 67.9h.8v.8h-.8zM287.2 65.3h.8v.8h-.8zM286.4 70.4h.8v.8h-.8zM286.0 74.1h.8v.8h-.8zM285.7 75.4h.8v.8h-.8zM286.0 65.1h.8v.8h-.8zM285.8 84.7h.8v.8h-.8zM285.0 61.6h.8v.8h-.8zM287.0 85.8h.8v.8h-.8zM284.8 72.8h.8v.8h-.8zM286.0 69.2h.8v.8h-.8zM285.8 71.1h.8v.8h-.8zM285.4 63.1h.8v.8h-.8zM285.5 68.7h.8v.8h-.8zM286.7 70.7h.8v.8h-.8zM285.4 78.0h.8v.8h-.8zM286.3 67.0h.8v.8h-.8zM286.2 71.4h.8v.8h-.8zM285.5 74.4h.8v.8h-.8zM285.3 67.7h.8v.8h-.8zM285.6 64.0h.8v.8h-.8zM285.3 76.7h.8v.8h-.8zM286.8 70.9h.8v.8h-.8zM286.3 73.8h.8v.8h-.8zM285.2 62.2h.8v.8h-.8zM285.4 87.7h2v1.1h-2zM288.2 76.2h.8v.8h-.8zM288.8 70.6h.8v.8h-.8zM288.5 64.1h.8v.8h-.8zM288.3 66.6h.8v.8h-.8zM290.5 73.2h.8v.8h-.8zM289.2 72.4h.8v.8h-.8zM289.7 75.9h.8v.8h-.8zM290.5 62.1h.8v.8h-.8zM288.9 62.5h.8v.8h-.8zM289.8 76.5h.8v.8h-.8zM289.3 72.5h.8v.8h-.8zM290.5 70.4h.8v.8h-.8zM288.8 75.2h.8v.8h-.8zM289.6 82.8h.8v.8h-.8zM289.6 76.2h.8v.8h-.8zM289.3 71.1h.8v.8h-.8zM288.8 71.8h.8v.8h-.8zM288.2 71.1h.8v.8h-.8zM290.5 58.0h.8v.8h-.8zM289.6 70.3h.8v.8h-.8zM288.9 74.3h.8v.8h-.8zM288.3 77.2h.8v.8h-.8zM288.8 84.4h.8v.8h-.8zM289.5 60.9h.8v.8h-.8zM289.9 72.7h.8v.8h-.8zM289.6 59.8h.8v.8h-.8zM288.9 87.7h2v1.1h-2zM292.9 73.5h.8v.8h-.8zM292.7 86.9h.8v.8h-.8zM293.1 74.3h.8v.8h-.8zM293.2 72.8h.8v.8h-.8zM292.3 71.9h.8v.8h-.8zM293.5 67.0h.8v.8h-.8zM294.2 61.9h.8v.8h-.8zM292.5 49.8h.8v.8h-.8zM293.9 75.9h.8v.8h-.8zM292.2 50.6h.8v.8h-.8zM291.7 60.3h.8v.8h-.8zM293.9 68.3h.8v.8h-.8zM292.7 67.0h.8v.8h-.8zM294.0 73.8h.8v.8h-.8zM294.1 47.8h.8v.8h-.8zM293.6 71.8h.8v.8h-.8zM292.3 67.8h.8v.8h-.8zM292.6 50.2h.8v.8h-.8zM292.0 80.0h.8v.8h-.8zM293.7 54.5h.8v.8h-.8zM293.8 73.2h.8v.8h-.8zM292.8 71.1h.8v.8h-.8zM292.5 73.8h.8v.8h-.8zM294.1 49.0h.8v.8h-.8zM292.0 83.7h.8v.8h-.8zM292.9 56.8h.8v.8h-.8zM293.9 68.1h.8v.8h-.8zM293.6 62.1h.8v.8h-.8zM292.4 71.1h.8v.8h-.8zM293.7 56.0h.8v.8h-.8zM291.8 69.8h.8v.8h-.8zM292.3 87.7h2v1.1h-2zM295.1 69.0h.8v.8h-.8zM297.4 70.6h.8v.8h-.8zM295.3 76.6h.8v.8h-.8zM295.7 64.1h.8v.8h-.8zM295.1 64.1h.8v.8h-.8zM297.0 73.6h.8v.8h-.8zM297.1 79.5h.8v.8h-.8zM295.8 72.0h.8v.8h-.8zM295.8 75.9h.8v.8h-.8zM296.3 75.8h.8v.8h-.8zM296.0 64.9h.8v.8h-.8zM296.1 65.4h.8v.8h-.8zM297.3 77.7h.8v.8h-.8zM296.3 65.6h.8v.8h-.8zM296.9 62.7h.8v.8h-.8zM297.1 81.3h.8v.8h-.8zM297.1 64.7h.8v.8h-.8zM296.5 68.1h.8v.8h-.8zM296.3 63.2h.8v.8h-.8zM297.4 62.6h.8v.8h-.8zM296.9 70.5h.8v.8h-.8zM295.5 69.7h.8v.8h-.8zM297.7 75.6h.8v.8h-.8zM296.9 65.6h.8v.8h-.8zM295.5 78.5h.8v.8h-.8zM296.5 62.6h.8v.8h-.8zM295.8 87.7h2v1.1h-2zM290.8 20.9h1.6v.55h-1.6zM301.1 73.8h.8v.8h-.8zM300.7 66.4h.8v.8h-.8zM301.0 69.9h.8v.8h-.8zM301.7 68.9h.8v.8h-.8zM300.0 67.4h.8v.8h-.8zM300.6 86.1h.8v.8h-.8zM301.8 69.0h.8v.8h-.8zM301.8 87.3h.8v.8h-.8zM302.0 58.0h.8v.8h-.8zM300.4 72.2h.8v.8h-.8zM300.2 71.5h.8v.8h-.8zM301.3 76.9h.8v.8h-.8zM300.2 66.2h.8v.8h-.8zM301.5 72.5h.8v.8h-.8zM300.0 76.7h.8v.8h-.8zM300.0 68.6h.8v.8h-.8zM300.9 57.0h.8v.8h-.8zM300.3 68.5h.8v.8h-.8zM301.4 74.0h.8v.8h-.8zM300.2 74.4h.8v.8h-.8zM301.5 71.3h.8v.8h-.8zM301.4 61.5h.8v.8h-.8zM301.4 74.1h.8v.8h-.8zM301.9 61.8h.8v.8h-.8zM300.7 74.1h.8v.8h-.8zM300.9 78.8h.8v.8h-.8zM301.7 70.6h.8v.8h-.8zM301.4 58.6h.8v.8h-.8zM299.8 69.3h.8v.8h-.8zM301.4 87.8h.8v.8h-.8zM300.3 66.5h.8v.8h-.8zM300.2 87.7h2v1.1h-2zM304.0 65.3h.8v.8h-.8zM303.1 67.8h.8v.8h-.8zM304.4 71.9h.8v.8h-.8zM303.9 68.1h.8v.8h-.8zM304.9 66.0h.8v.8h-.8zM305.5 82.1h.8v.8h-.8zM304.3 50.0h.8v.8h-.8zM303.2 44.6h.8v.8h-.8zM304.7 70.9h.8v.8h-.8zM303.1 71.0h.8v.8h-.8zM303.8 66.0h.8v.8h-.8zM304.8 69.3h.8v.8h-.8zM303.1 80.2h.8v.8h-.8zM303.3 65.3h.8v.8h-.8zM303.4 66.9h.8v.8h-.8zM304.2 77.9h.8v.8h-.8zM304.3 38.7h.8v.8h-.8zM305.4 68.3h.8v.8h-.8zM304.6 66.9h.8v.8h-.8zM304.6 68.4h.8v.8h-.8zM305.6 61.1h.8v.8h-.8zM304.8 84.9h.8v.8h-.8zM303.5 39.1h.8v.8h-.8zM303.0 46.8h.8v.8h-.8zM303.7 37.2h.8v.8h-.8zM305.2 75.3h.8v.8h-.8zM304.0 70.7h.8v.8h-.8zM304.9 69.9h.8v.8h-.8zM303.4 69.8h.8v.8h-.8zM303.4 70.6h.8v.8h-.8zM304.5 65.5h.8v.8h-.8zM305.6 67.4h.8v.8h-.8zM303.0 68.5h.8v.8h-.8zM304.6 65.4h.8v.8h-.8zM303.3 66.0h.8v.8h-.8zM303.7 53.6h.8v.8h-.8zM304.4 66.7h.8v.8h-.8zM303.4 65.6h.8v.8h-.8zM304.7 41.8h.8v.8h-.8zM303.1 65.4h.8v.8h-.8zM303.0 80.7h.8v.8h-.8zM303.5 69.5h.8v.8h-.8zM304.4 33.2h.8v.8h-.8zM305.6 66.1h.8v.8h-.8zM305.0 65.6h.8v.8h-.8zM305.2 69.9h.8v.8h-.8zM303.7 87.7h2v1.1h-2zM306.6 32.8h.8v.8h-.8zM307.1 60.6h.8v.8h-.8zM306.7 84.8h.8v.8h-.8zM307.3 71.4h.8v.8h-.8zM307.8 66.9h.8v.8h-.8zM307.0 71.0h.8v.8h-.8zM308.9 43.9h.8v.8h-.8zM308.4 68.5h.8v.8h-.8zM306.9 68.2h.8v.8h-.8zM307.7 53.2h.8v.8h-.8zM308.4 79.0h.8v.8h-.8zM308.1 67.7h.8v.8h-.8zM309.1 71.2h.8v.8h-.8zM307.1 56.3h.8v.8h-.8zM307.6 61.1h.8v.8h-.8zM307.1 69.3h.8v.8h-.8zM307.8 66.8h.8v.8h-.8zM307.1 60.9h.8v.8h-.8zM306.9 68.1h.8v.8h-.8zM308.2 68.4h.8v.8h-.8zM307.7 66.7h.8v.8h-.8zM308.2 66.8h.8v.8h-.8zM309.0 71.0h.8v.8h-.8zM307.8 35.0h.8v.8h-.8zM306.6 67.3h.8v.8h-.8zM307.2 54.2h.8v.8h-.8zM307.9 71.2h.8v.8h-.8zM308.9 40.3h.8v.8h-.8zM306.7 49.2h.8v.8h-.8zM307.0 65.9h.8v.8h-.8zM307.0 35.8h.8v.8h-.8zM306.9 71.0h.8v.8h-.8zM306.5 68.7h.8v.8h-.8zM307.2 87.7h2v1.1h-2zM310.8 63.0h.8v.8h-.8zM311.1 70.1h.8v.8h-.8zM310.7 65.0h.8v.8h-.8zM311.7 64.9h.8v.8h-.8zM310.0 64.2h.8v.8h-.8zM310.6 41.1h.8v.8h-.8zM311.4 61.6h.8v.8h-.8zM311.9 68.9h.8v.8h-.8zM312.1 64.7h.8v.8h-.8zM312.5 63.8h.8v.8h-.8zM311.7 63.9h.8v.8h-.8zM310.0 82.7h.8v.8h-.8zM311.7 64.1h.8v.8h-.8zM311.7 72.2h.8v.8h-.8zM312.3 32.9h.8v.8h-.8zM312.0 65.3h.8v.8h-.8zM310.1 67.3h.8v.8h-.8zM312.1 36.6h.8v.8h-.8zM311.6 51.8h.8v.8h-.8zM311.8 84.9h.8v.8h-.8zM312.6 62.6h.8v.8h-.8zM311.5 62.8h.8v.8h-.8zM310.5 78.0h.8v.8h-.8zM310.9 63.7h.8v.8h-.8zM312.2 64.5h.8v.8h-.8zM310.4 87.5h.8v.8h-.8zM311.1 37.0h.8v.8h-.8zM312.0 64.9h.8v.8h-.8zM311.9 68.6h.8v.8h-.8zM310.2 34.3h.8v.8h-.8zM310.5 61.2h.8v.8h-.8zM312.2 55.1h.8v.8h-.8zM310.1 64.1h.8v.8h-.8zM311.8 42.9h.8v.8h-.8zM310.6 67.4h.8v.8h-.8zM312.4 67.0h.8v.8h-.8zM310.0 68.5h.8v.8h-.8zM310.1 67.8h.8v.8h-.8zM310.5 59.1h.8v.8h-.8zM310.6 87.7h2v1.1h-2zM305.6 20.9h1.6v.55h-1.6zM316.9 50.3h.8v.8h-.8zM316.6 58.0h.8v.8h-.8zM315.3 67.5h.8v.8h-.8zM316.3 66.1h.8v.8h-.8zM316.9 63.1h.8v.8h-.8zM316.0 61.3h.8v.8h-.8zM315.3 49.3h.8v.8h-.8zM315.2 62.5h.8v.8h-.8zM316.3 48.0h.8v.8h-.8zM316.5 66.7h.8v.8h-.8zM314.9 53.3h.8v.8h-.8zM316.4 68.6h.8v.8h-.8zM315.8 51.8h.8v.8h-.8zM316.5 61.2h.8v.8h-.8zM316.9 48.3h.8v.8h-.8zM314.7 59.8h.8v.8h-.8zM315.0 54.8h.8v.8h-.8zM315.0 56.1h.8v.8h-.8zM316.7 52.8h.8v.8h-.8zM314.6 59.5h.8v.8h-.8zM319.9 61.5h.8v.8h-.8zM319.1 55.2h.8v.8h-.8zM319.3 58.8h.8v.8h-.8zM318.6 42.5h.8v.8h-.8zM318.9 56.9h.8v.8h-.8zM317.9 53.8h.8v.8h-.8zM320.3 58.3h.8v.8h-.8zM319.4 54.4h.8v.8h-.8zM319.9 55.2h.8v.8h-.8zM317.9 55.4h.8v.8h-.8zM319.0 60.7h.8v.8h-.8zM318.5 47.1h.8v.8h-.8zM318.6 57.1h.8v.8h-.8zM318.8 52.9h.8v.8h-.8zM319.2 56.9h.8v.8h-.8zM320.1 66.2h.8v.8h-.8zM320.0 55.3h.8v.8h-.8zM317.9 56.0h.8v.8h-.8zM320.2 49.9h.8v.8h-.8zM319.6 60.0h.8v.8h-.8zM323.4 58.1h.8v.8h-.8zM323.7 63.1h.8v.8h-.8zM322.4 59.1h.8v.8h-.8zM322.3 74.7h.8v.8h-.8zM323.0 56.9h.8v.8h-.8zM322.6 49.3h.8v.8h-.8zM322.5 41.9h.8v.8h-.8zM323.4 50.6h.8v.8h-.8zM323.8 62.9h.8v.8h-.8zM321.8 51.6h.8v.8h-.8zM322.7 55.9h.8v.8h-.8zM323.7 68.2h.8v.8h-.8zM321.3 42.3h.8v.8h-.8zM323.3 70.1h.8v.8h-.8zM321.3 67.5h.8v.8h-.8zM322.3 75.7h.8v.8h-.8zM323.7 41.9h.8v.8h-.8zM323.1 53.5h.8v.8h-.8zM322.6 55.6h.8v.8h-.8zM322.7 70.5h.8v.8h-.8zM321.9 55.2h.8v.8h-.8zM323.8 58.4h.8v.8h-.8zM323.2 56.0h.8v.8h-.8zM322.0 66.7h.8v.8h-.8zM321.5 54.4h.8v.8h-.8zM321.9 56.2h.8v.8h-.8zM322.7 47.6h.8v.8h-.8zM323.7 50.7h.8v.8h-.8zM323.2 65.1h.8v.8h-.8zM321.9 55.0h.8v.8h-.8zM321.9 55.3h.8v.8h-.8zM322.6 51.2h.8v.8h-.8zM322.8 61.1h.8v.8h-.8zM325.3 55.5h.8v.8h-.8zM325.2 61.2h.8v.8h-.8zM326.5 56.8h.8v.8h-.8zM326.0 54.8h.8v.8h-.8zM327.1 62.2h.8v.8h-.8zM325.8 60.5h.8v.8h-.8zM325.3 44.2h.8v.8h-.8zM326.1 46.1h.8v.8h-.8zM326.5 69.9h.8v.8h-.8zM327.3 53.3h.8v.8h-.8zM325.9 50.8h.8v.8h-.8zM325.9 52.7h.8v.8h-.8zM326.1 60.8h.8v.8h-.8zM326.3 56.5h.8v.8h-.8zM325.9 59.3h.8v.8h-.8zM326.6 73.0h.8v.8h-.8zM327.3 58.2h.8v.8h-.8zM325.5 44.3h.8v.8h-.8zM327.1 57.7h.8v.8h-.8zM326.2 48.3h.8v.8h-.8zM326.8 47.6h.8v.8h-.8zM326.4 55.6h.8v.8h-.8zM327.2 56.6h.8v.8h-.8zM326.6 58.5h.8v.8h-.8zM326.4 76.1h.8v.8h-.8zM325.9 55.7h.8v.8h-.8zM320.4 20.9h1.6v.55h-1.6zM331.2 61.4h.8v.8h-.8zM330.5 70.5h.8v.8h-.8zM331.3 64.7h.8v.8h-.8zM329.1 60.8h.8v.8h-.8zM330.5 66.7h.8v.8h-.8zM331.1 71.0h.8v.8h-.8zM330.1 75.3h.8v.8h-.8zM329.5 68.7h.8v.8h-.8zM329.5 67.2h.8v.8h-.8zM331.7 73.7h.8v.8h-.8zM331.7 68.4h.8v.8h-.8zM331.8 74.5h.8v.8h-.8zM331.7 60.8h.8v.8h-.8zM331.7 76.7h.8v.8h-.8zM330.4 60.7h.8v.8h-.8zM330.2 74.2h.8v.8h-.8zM330.0 75.5h.8v.8h-.8zM329.5 73.4h.8v.8h-.8zM329.4 62.1h.8v.8h-.8zM329.3 84.5h.8v.8h-.8zM331.3 83.9h.8v.8h-.8zM330.0 60.3h.8v.8h-.8zM331.6 74.6h.8v.8h-.8zM331.7 73.1h.8v.8h-.8zM329.9 70.6h.8v.8h-.8zM329.6 78.1h.8v.8h-.8zM329.8 87.7h2v1.1h-2zM333.1 74.9h.8v.8h-.8zM333.6 66.2h.8v.8h-.8zM332.8 70.9h.8v.8h-.8zM334.4 64.7h.8v.8h-.8zM332.7 69.6h.8v.8h-.8zM335.0 67.3h.8v.8h-.8zM334.9 66.8h.8v.8h-.8zM333.9 68.9h.8v.8h-.8zM333.9 65.4h.8v.8h-.8zM333.4 63.7h.8v.8h-.8zM334.5 66.4h.8v.8h-.8zM334.2 70.2h.8v.8h-.8zM334.1 63.3h.8v.8h-.8zM332.8 61.6h.8v.8h-.8zM332.7 61.5h.8v.8h-.8zM335.1 61.4h.8v.8h-.8zM335.0 68.7h.8v.8h-.8zM333.8 84.8h.8v.8h-.8zM335.0 71.6h.8v.8h-.8zM334.1 71.3h.8v.8h-.8zM333.3 87.7h2v1.1h-2zM336.8 66.5h.8v.8h-.8zM336.1 73.3h.8v.8h-.8zM338.2 66.4h.8v.8h-.8zM336.4 59.3h.8v.8h-.8zM337.8 62.7h.8v.8h-.8zM336.1 61.5h.8v.8h-.8zM336.5 63.6h.8v.8h-.8zM338.7 73.3h.8v.8h-.8zM336.5 63.4h.8v.8h-.8zM336.6 85.3h.8v.8h-.8zM338.5 85.2h.8v.8h-.8zM336.5 74.7h.8v.8h-.8zM337.0 58.3h.8v.8h-.8zM337.1 63.3h.8v.8h-.8zM338.7 70.7h.8v.8h-.8zM336.7 59.6h.8v.8h-.8zM338.0 70.0h.8v.8h-.8zM337.7 71.1h.8v.8h-.8zM337.2 69.2h.8v.8h-.8zM337.8 69.3h.8v.8h-.8zM337.8 87.5h.8v.8h-.8zM337.2 72.2h.8v.8h-.8zM336.3 87.1h.8v.8h-.8zM337.9 65.0h.8v.8h-.8zM336.9 70.1h.8v.8h-.8zM336.6 65.4h.8v.8h-.8zM336.8 87.7h2v1.1h-2zM339.8 56.4h.8v.8h-.8zM342.0 61.3h.8v.8h-.8zM339.6 82.8h.8v.8h-.8zM341.0 66.5h.8v.8h-.8zM341.2 55.1h.8v.8h-.8zM339.8 68.0h.8v.8h-.8zM342.2 68.1h.8v.8h-.8zM340.3 60.0h.8v.8h-.8zM340.9 58.4h.8v.8h-.8zM340.5 65.3h.8v.8h-.8zM342.1 59.1h.8v.8h-.8zM339.8 84.4h.8v.8h-.8zM341.6 65.7h.8v.8h-.8zM339.6 73.6h.8v.8h-.8zM340.4 87.5h.8v.8h-.8zM340.6 57.4h.8v.8h-.8zM341.9 59.4h.8v.8h-.8zM340.7 65.7h.8v.8h-.8zM342.0 79.3h.8v.8h-.8zM341.6 70.6h.8v.8h-.8zM340.3 87.7h2v1.1h-2zM335.3 20.9h1.6v.55h-1.6zM345.6 58.1h.8v.8h-.8zM345.8 58.7h.8v.8h-.8zM345.0 58.4h.8v.8h-.8zM346.4 56.6h.8v.8h-.8zM346.1 51.4h.8v.8h-.8zM345.0 53.0h.8v.8h-.8zM344.1 57.0h.8v.8h-.8zM344.9 63.5h.8v.8h-.8zM346.4 69.6h.8v.8h-.8zM345.1 55.9h.8v.8h-.8zM346.3 53.3h.8v.8h-.8zM346.6 48.6h.8v.8h-.8zM344.9 57.9h.8v.8h-.8zM346.6 56.2h.8v.8h-.8zM346.6 70.5h.8v.8h-.8zM345.5 47.5h.8v.8h-.8zM345.8 56.7h.8v.8h-.8zM344.0 57.2h.8v.8h-.8zM344.2 56.9h.8v.8h-.8zM344.2 57.5h.8v.8h-.8zM344.9 68.2h.8v.8h-.8zM344.4 60.2h.8v.8h-.8zM346.4 57.3h.8v.8h-.8zM345.5 73.8h.8v.8h-.8zM345.9 60.8h.8v.8h-.8zM344.4 60.4h.8v.8h-.8zM345.4 56.8h.8v.8h-.8zM344.6 58.4h.8v.8h-.8zM346.0 55.6h.8v.8h-.8zM345.7 58.2h.8v.8h-.8zM345.0 56.1h.8v.8h-.8zM345.2 52.8h.8v.8h-.8zM346.5 49.2h.8v.8h-.8zM344.9 53.4h.8v.8h-.8zM345.4 59.5h.8v.8h-.8zM346.0 49.3h.8v.8h-.8zM344.3 58.3h.8v.8h-.8zM344.0 60.7h.8v.8h-.8zM345.7 58.4h.8v.8h-.8zM345.9 52.5h.8v.8h-.8zM345.4 48.4h.8v.8h-.8zM345.3 54.9h.8v.8h-.8zM346.0 73.8h.8v.8h-.8zM345.4 47.5h.8v.8h-.8zM344.7 78.7h.8v.8h-.8zM346.4 79.1h.8v.8h-.8zM344.7 87.7h2v1.1h-2zM348.7 54.0h.8v.8h-.8zM349.7 58.7h.8v.8h-.8zM348.3 66.8h.8v.8h-.8zM348.2 62.2h.8v.8h-.8zM349.7 52.8h.8v.8h-.8zM349.7 65.4h.8v.8h-.8zM347.9 54.4h.8v.8h-.8zM349.4 55.6h.8v.8h-.8zM348.6 53.2h.8v.8h-.8zM349.3 62.9h.8v.8h-.8zM349.7 62.3h.8v.8h-.8zM348.1 65.8h.8v.8h-.8zM349.4 55.9h.8v.8h-.8zM348.6 65.2h.8v.8h-.8zM348.3 64.7h.8v.8h-.8zM348.2 54.9h.8v.8h-.8zM349.0 60.8h.8v.8h-.8zM349.8 54.9h.8v.8h-.8zM349.8 63.6h.8v.8h-.8zM348.0 63.8h.8v.8h-.8zM353.5 58.7h.8v.8h-.8zM352.6 63.3h.8v.8h-.8zM351.6 57.9h.8v.8h-.8zM352.1 64.5h.8v.8h-.8zM351.1 60.6h.8v.8h-.8zM351.5 53.8h.8v.8h-.8zM353.4 57.8h.8v.8h-.8zM352.9 57.7h.8v.8h-.8zM353.5 60.1h.8v.8h-.8zM353.0 61.7h.8v.8h-.8zM352.4 55.3h.8v.8h-.8zM352.4 59.6h.8v.8h-.8zM351.4 60.1h.8v.8h-.8zM353.3 59.4h.8v.8h-.8zM351.6 68.7h.8v.8h-.8zM352.1 58.8h.8v.8h-.8zM353.4 57.9h.8v.8h-.8zM353.3 60.7h.8v.8h-.8zM353.5 60.9h.8v.8h-.8zM353.4 59.1h.8v.8h-.8zM354.8 56.5h.8v.8h-.8zM355.9 62.8h.8v.8h-.8zM355.7 58.8h.8v.8h-.8zM355.3 56.8h.8v.8h-.8zM355.7 63.3h.8v.8h-.8zM354.5 57.6h.8v.8h-.8zM355.4 55.8h.8v.8h-.8zM355.5 55.9h.8v.8h-.8zM356.3 56.0h.8v.8h-.8zM355.5 58.5h.8v.8h-.8zM355.4 58.2h.8v.8h-.8zM354.8 54.9h.8v.8h-.8zM355.5 62.4h.8v.8h-.8zM354.8 55.3h.8v.8h-.8zM355.2 63.2h.8v.8h-.8zM355.6 61.1h.8v.8h-.8zM355.1 54.2h.8v.8h-.8zM355.1 60.5h.8v.8h-.8zM350.1 20.9h1.6v.55h-1.6zM360.2 67.9h.8v.8h-.8zM359.4 69.5h.8v.8h-.8zM361.1 68.7h.8v.8h-.8zM360.0 66.3h.8v.8h-.8zM361.3 67.5h.8v.8h-.8zM361.1 69.9h.8v.8h-.8zM359.1 66.3h.8v.8h-.8zM359.8 70.0h.8v.8h-.8zM359.2 69.9h.8v.8h-.8zM360.1 69.4h.8v.8h-.8zM359.7 68.1h.8v.8h-.8zM360.9 61.1h.8v.8h-.8zM359.5 53.1h.8v.8h-.8zM361.1 59.2h.8v.8h-.8zM359.0 64.1h.8v.8h-.8zM359.6 67.7h.8v.8h-.8zM358.9 70.5h.8v.8h-.8zM360.6 69.5h.8v.8h-.8zM359.9 70.9h.8v.8h-.8zM360.5 56.7h.8v.8h-.8zM360.3 72.2h.8v.8h-.8zM360.4 71.0h.8v.8h-.8zM360.2 64.7h.8v.8h-.8zM361.3 66.3h.8v.8h-.8zM360.5 65.2h.8v.8h-.8zM359.6 70.5h.8v.8h-.8zM361.4 56.6h.8v.8h-.8zM359.7 74.4h.8v.8h-.8zM360.3 67.2h.8v.8h-.8zM360.5 53.4h.8v.8h-.8zM359.5 56.5h.8v.8h-.8zM359.5 87.7h2v1.1h-2zM362.6 67.6h.8v.8h-.8zM364.1 63.9h.8v.8h-.8zM362.6 55.1h.8v.8h-.8zM364.9 61.0h.8v.8h-.8zM362.9 70.4h.8v.8h-.8zM363.3 62.0h.8v.8h-.8zM363.1 55.2h.8v.8h-.8zM364.3 63.6h.8v.8h-.8zM364.5 72.2h.8v.8h-.8zM364.4 60.3h.8v.8h-.8zM363.6 68.3h.8v.8h-.8zM362.3 67.3h.8v.8h-.8zM362.3 58.5h.8v.8h-.8zM362.8 70.4h.8v.8h-.8zM364.9 70.0h.8v.8h-.8zM362.6 75.3h.8v.8h-.8zM363.1 61.7h.8v.8h-.8zM362.7 84.1h.8v.8h-.8zM362.7 66.9h.8v.8h-.8zM363.0 62.6h.8v.8h-.8zM363.0 87.7h2v1.1h-2zM368.3 72.0h.8v.8h-.8zM367.2 65.5h.8v.8h-.8zM368.2 55.2h.8v.8h-.8zM367.2 76.6h.8v.8h-.8zM368.3 77.0h.8v.8h-.8zM366.0 68.4h.8v.8h-.8zM366.3 68.2h.8v.8h-.8zM367.2 78.5h.8v.8h-.8zM367.6 54.3h.8v.8h-.8zM366.6 58.3h.8v.8h-.8zM366.9 67.3h.8v.8h-.8zM367.7 67.1h.8v.8h-.8zM366.0 62.8h.8v.8h-.8zM368.2 62.8h.8v.8h-.8zM367.7 65.7h.8v.8h-.8zM366.3 61.3h.8v.8h-.8zM368.2 54.6h.8v.8h-.8zM367.0 63.9h.8v.8h-.8zM366.0 63.8h.8v.8h-.8zM366.7 69.3h.8v.8h-.8zM366.7 82.0h.8v.8h-.8zM366.0 63.6h.8v.8h-.8zM367.8 66.7h.8v.8h-.8zM368.1 60.7h.8v.8h-.8zM368.0 69.0h.8v.8h-.8zM367.8 62.4h.8v.8h-.8zM365.7 66.3h.8v.8h-.8zM366.3 65.6h.8v.8h-.8zM368.1 71.4h.8v.8h-.8zM366.6 64.1h.8v.8h-.8zM368.3 64.9h.8v.8h-.8zM367.2 64.7h.8v.8h-.8zM367.6 54.5h.8v.8h-.8zM368.1 62.1h.8v.8h-.8zM368.2 68.8h.8v.8h-.8zM367.8 69.4h.8v.8h-.8zM366.1 71.3h.8v.8h-.8zM367.1 72.0h.8v.8h-.8zM367.4 78.6h.8v.8h-.8zM367.7 68.8h.8v.8h-.8zM366.3 58.2h.8v.8h-.8zM367.7 58.5h.8v.8h-.8zM365.7 66.9h.8v.8h-.8zM366.4 82.4h.8v.8h-.8zM367.2 54.3h.8v.8h-.8zM368.3 59.1h.8v.8h-.8zM367.1 56.3h.8v.8h-.8zM368.1 60.7h.8v.8h-.8zM366.2 85.2h.8v.8h-.8zM366.6 53.3h.8v.8h-.8zM365.7 59.7h.8v.8h-.8zM367.6 57.8h.8v.8h-.8zM367.7 64.5h.8v.8h-.8zM367.0 62.3h.8v.8h-.8zM366.1 63.5h.8v.8h-.8zM366.8 61.5h.8v.8h-.8zM366.2 62.0h.8v.8h-.8zM366.4 87.7h2v1.1h-2zM370.0 62.2h.8v.8h-.8zM369.5 69.5h.8v.8h-.8zM371.0 62.9h.8v.8h-.8zM369.4 83.3h.8v.8h-.8zM371.5 63.2h.8v.8h-.8zM371.2 69.7h.8v.8h-.8zM370.3 57.7h.8v.8h-.8zM370.5 68.5h.8v.8h-.8zM371.4 57.7h.8v.8h-.8zM370.3 64.3h.8v.8h-.8zM369.3 71.4h.8v.8h-.8zM370.8 66.1h.8v.8h-.8zM369.5 68.7h.8v.8h-.8zM369.4 64.8h.8v.8h-.8zM371.6 73.3h.8v.8h-.8zM370.8 60.9h.8v.8h-.8zM370.6 66.3h.8v.8h-.8zM370.7 63.3h.8v.8h-.8zM371.6 61.3h.8v.8h-.8zM370.7 56.2h.8v.8h-.8zM371.2 70.8h.8v.8h-.8zM371.5 64.9h.8v.8h-.8zM371.0 62.2h.8v.8h-.8zM371.5 62.7h.8v.8h-.8zM370.6 63.5h.8v.8h-.8zM370.4 65.0h.8v.8h-.8zM369.9 87.7h2v1.1h-2zM364.9 20.9h1.6v.55h-1.6zM375.2 80.2h.8v.8h-.8zM377.0 60.7h.8v.8h-.8zM376.5 67.5h.8v.8h-.8zM376.0 58.7h.8v.8h-.8zM376.5 68.5h.8v.8h-.8zM374.4 65.5h.8v.8h-.8zM374.2 66.2h.8v.8h-.8zM375.9 66.1h.8v.8h-.8zM374.8 69.5h.8v.8h-.8zM376.6 68.3h.8v.8h-.8zM376.2 65.0h.8v.8h-.8zM375.6 56.3h.8v.8h-.8zM374.3 61.9h.8v.8h-.8zM376.8 62.5h.8v.8h-.8zM376.0 61.5h.8v.8h-.8zM375.3 58.9h.8v.8h-.8zM377.0 81.8h.8v.8h-.8zM375.2 54.3h.8v.8h-.8zM375.1 66.2h.8v.8h-.8zM374.3 64.2h.8v.8h-.8zM375.0 66.9h.8v.8h-.8zM375.9 66.1h.8v.8h-.8zM377.1 67.7h.8v.8h-.8zM377.0 57.5h.8v.8h-.8zM374.4 65.3h.8v.8h-.8zM374.7 64.2h.8v.8h-.8zM374.9 87.7h2v1.1h-2zM378.7 56.8h.8v.8h-.8zM381.2 60.9h.8v.8h-.8zM381.6 53.3h.8v.8h-.8zM381.6 64.5h.8v.8h-.8zM378.4 56.0h.8v.8h-.8zM381.5 69.2h.8v.8h-.8zM378.7 53.9h.8v.8h-.8zM380.4 72.2h.8v.8h-.8zM380.6 60.7h.8v.8h-.8zM379.8 70.5h.8v.8h-.8zM380.6 52.4h.8v.8h-.8zM379.2 54.2h.8v.8h-.8zM380.4 68.4h.8v.8h-.8zM381.0 60.0h.8v.8h-.8zM380.6 73.2h.8v.8h-.8zM381.6 57.9h.8v.8h-.8zM381.6 60.7h.8v.8h-.8zM379.1 60.2h.8v.8h-.8zM380.8 66.0h.8v.8h-.8zM379.7 53.5h.8v.8h-.8zM381.6 63.9h.8v.8h-.8zM381.3 52.9h.8v.8h-.8zM379.2 64.2h.8v.8h-.8zM381.2 52.4h.8v.8h-.8zM378.9 59.9h.8v.8h-.8zM380.3 51.9h.8v.8h-.8zM380.0 65.8h.8v.8h-.8zM381.1 69.4h.8v.8h-.8zM379.1 63.0h.8v.8h-.8zM380.7 54.7h.8v.8h-.8zM379.0 48.9h.8v.8h-.8zM381.0 58.4h.8v.8h-.8zM379.8 58.0h.8v.8h-.8zM378.8 74.7h.8v.8h-.8zM380.7 54.6h.8v.8h-.8zM379.3 48.3h.8v.8h-.8zM380.9 70.4h.8v.8h-.8zM379.5 51.5h.8v.8h-.8zM380.3 53.3h.8v.8h-.8zM381.6 51.2h.8v.8h-.8zM380.1 74.4h.8v.8h-.8zM379.8 61.7h.8v.8h-.8zM379.2 50.4h.8v.8h-.8zM380.4 66.0h.8v.8h-.8zM379.9 48.5h.8v.8h-.8zM379.6 56.6h.8v.8h-.8zM378.7 69.3h.8v.8h-.8zM381.5 55.3h.8v.8h-.8zM379.5 67.8h.8v.8h-.8zM380.6 55.4h.8v.8h-.8zM380.2 64.7h.8v.8h-.8zM380.9 64.4h.8v.8h-.8zM381.5 68.7h.8v.8h-.8zM379.6 53.3h.8v.8h-.8zM381.6 60.8h.8v.8h-.8zM381.0 47.9h.8v.8h-.8zM380.6 50.2h.8v.8h-.8zM385.8 68.3h.8v.8h-.8zM386.0 62.7h.8v.8h-.8zM385.1 57.5h.8v.8h-.8zM383.0 58.5h.8v.8h-.8zM384.4 64.6h.8v.8h-.8zM385.1 59.1h.8v.8h-.8zM384.8 57.4h.8v.8h-.8zM383.4 61.9h.8v.8h-.8zM385.6 63.8h.8v.8h-.8zM383.7 52.9h.8v.8h-.8zM385.4 59.8h.8v.8h-.8zM383.3 60.3h.8v.8h-.8zM384.4 66.7h.8v.8h-.8zM384.3 55.5h.8v.8h-.8zM384.7 63.2h.8v.8h-.8zM384.2 57.8h.8v.8h-.8zM386.1 56.5h.8v.8h-.8zM384.1 54.6h.8v.8h-.8zM383.2 64.1h.8v.8h-.8zM385.6 59.1h.8v.8h-.8zM386.4 55.9h.8v.8h-.8zM385.1 55.3h.8v.8h-.8zM383.9 60.3h.8v.8h-.8zM383.3 71.7h.8v.8h-.8zM385.7 53.2h.8v.8h-.8zM383.4 61.0h.8v.8h-.8zM379.7 20.9h1.6v.55h-1.6zM389.8 77.9h.8v.8h-.8zM388.9 80.3h.8v.8h-.8zM391.0 73.5h.8v.8h-.8zM388.5 79.9h.8v.8h-.8zM391.2 71.4h.8v.8h-.8zM391.2 79.5h.8v.8h-.8zM390.2 77.8h.8v.8h-.8zM389.8 79.4h.8v.8h-.8zM390.1 81.5h.8v.8h-.8zM389.3 80.6h.8v.8h-.8zM391.1 77.3h.8v.8h-.8zM389.7 72.3h.8v.8h-.8zM391.3 61.8h.8v.8h-.8zM391.2 87.9h.8v.8h-.8zM388.8 79.8h.8v.8h-.8zM391.4 76.4h.8v.8h-.8zM391.2 66.5h.8v.8h-.8zM389.8 82.3h.8v.8h-.8zM391.6 80.5h.8v.8h-.8zM389.9 86.4h.8v.8h-.8zM390.1 74.8h.8v.8h-.8zM389.6 74.0h.8v.8h-.8zM390.0 87.9h.8v.8h-.8zM389.7 80.0h.8v.8h-.8zM390.7 60.9h.8v.8h-.8zM389.3 60.9h.8v.8h-.8zM389.7 87.7h2v1.1h-2zM396.3 81.1h.8v.8h-.8zM394.9 65.2h.8v.8h-.8zM393.6 66.7h.8v.8h-.8zM395.5 74.1h.8v.8h-.8zM393.4 67.5h.8v.8h-.8zM395.6 72.6h.8v.8h-.8zM395.7 61.8h.8v.8h-.8zM396.5 74.5h.8v.8h-.8zM396.5 82.2h.8v.8h-.8zM394.7 65.2h.8v.8h-.8zM396.0 74.7h.8v.8h-.8zM394.9 84.0h.8v.8h-.8zM393.6 76.3h.8v.8h-.8zM394.5 65.8h.8v.8h-.8zM394.4 87.7h.8v.8h-.8zM394.0 76.6h.8v.8h-.8zM394.8 78.7h.8v.8h-.8zM395.3 63.8h.8v.8h-.8zM395.3 86.8h.8v.8h-.8zM393.9 87.7h.8v.8h-.8zM393.6 84.8h.8v.8h-.8zM393.4 85.3h.8v.8h-.8zM394.0 64.3h.8v.8h-.8zM393.9 87.9h.8v.8h-.8zM393.4 80.8h.8v.8h-.8zM394.3 87.7h.8v.8h-.8zM394.3 87.7h2v1.1h-2zM399.8 72.4h.8v.8h-.8zM399.6 74.4h.8v.8h-.8zM400.9 67.2h.8v.8h-.8zM400.1 71.1h.8v.8h-.8zM398.7 72.1h.8v.8h-.8zM400.0 68.9h.8v.8h-.8zM398.7 87.7h.8v.8h-.8zM398.2 68.7h.8v.8h-.8zM399.1 61.8h.8v.8h-.8zM398.5 74.4h.8v.8h-.8zM401.1 77.5h.8v.8h-.8zM399.6 72.0h.8v.8h-.8zM399.6 76.4h.8v.8h-.8zM400.1 76.0h.8v.8h-.8zM398.9 59.7h.8v.8h-.8zM398.7 72.7h.8v.8h-.8zM399.2 79.4h.8v.8h-.8zM400.3 70.9h.8v.8h-.8zM399.0 75.3h.8v.8h-.8zM399.2 66.4h.8v.8h-.8zM399.0 87.7h2v1.1h-2zM394.5 20.9h1.6v.55h-1.6zM404.2 87.9h.8v.8h-.8zM404.2 85.8h.8v.8h-.8zM406.3 87.7h.8v.8h-.8zM406.5 86.8h.8v.8h-.8zM405.5 73.6h.8v.8h-.8zM406.6 77.6h.8v.8h-.8zM404.2 80.9h.8v.8h-.8zM403.9 68.8h.8v.8h-.8zM403.8 87.7h.8v.8h-.8zM406.2 67.7h.8v.8h-.8zM405.9 81.3h.8v.8h-.8zM403.8 87.6h.8v.8h-.8zM406.2 75.6h.8v.8h-.8zM403.7 78.5h.8v.8h-.8zM404.3 78.5h.8v.8h-.8zM405.9 77.4h.8v.8h-.8zM405.7 80.6h.8v.8h-.8zM406.0 85.0h.8v.8h-.8zM403.6 74.2h.8v.8h-.8zM405.5 87.6h.8v.8h-.8zM404.5 87.7h2v1.1h-2zM409.6 82.9h.8v.8h-.8zM410.7 80.3h.8v.8h-.8zM409.7 77.6h.8v.8h-.8zM409.4 82.3h.8v.8h-.8zM411.3 87.7h.8v.8h-.8zM408.4 85.0h.8v.8h-.8zM411.2 79.7h.8v.8h-.8zM410.8 80.9h.8v.8h-.8zM411.5 83.8h.8v.8h-.8zM409.1 68.7h.8v.8h-.8zM411.5 84.2h.8v.8h-.8zM410.1 72.4h.8v.8h-.8zM410.8 73.0h.8v.8h-.8zM409.4 77.0h.8v.8h-.8zM410.9 87.7h.8v.8h-.8zM411.1 83.6h.8v.8h-.8zM410.1 87.8h.8v.8h-.8zM408.7 85.6h.8v.8h-.8zM409.8 85.7h.8v.8h-.8zM411.3 76.5h.8v.8h-.8zM409.2 87.7h2v1.1h-2zM414.0 71.9h.8v.8h-.8zM412.9 75.6h.8v.8h-.8zM413.9 76.2h.8v.8h-.8zM415.0 71.7h.8v.8h-.8zM414.7 73.9h.8v.8h-.8zM414.3 70.3h.8v.8h-.8zM414.2 76.7h.8v.8h-.8zM415.5 76.9h.8v.8h-.8zM414.7 72.3h.8v.8h-.8zM415.5 79.6h.8v.8h-.8zM412.7 71.5h.8v.8h-.8zM416.0 72.6h.8v.8h-.8zM414.7 85.3h.8v.8h-.8zM416.1 70.0h.8v.8h-.8zM412.7 75.1h.8v.8h-.8zM413.8 87.7h2v1.1h-2zM409.4 20.9h1.6v.55h-1.6zM418.6 64.9h.8v.8h-.8zM420.0 62.3h.8v.8h-.8zM420.3 61.9h.8v.8h-.8zM419.6 58.1h.8v.8h-.8zM418.1 53.0h.8v.8h-.8zM420.3 57.7h.8v.8h-.8zM419.5 52.8h.8v.8h-.8zM419.9 65.4h.8v.8h-.8zM418.4 67.3h.8v.8h-.8zM420.3 52.8h.8v.8h-.8zM419.6 53.1h.8v.8h-.8zM418.8 52.7h.8v.8h-.8zM419.5 54.0h.8v.8h-.8zM418.5 59.4h.8v.8h-.8zM420.7 63.3h.8v.8h-.8zM418.5 53.0h.8v.8h-.8zM418.2 64.4h.8v.8h-.8zM418.6 56.3h.8v.8h-.8zM418.9 62.4h.8v.8h-.8zM419.9 67.0h.8v.8h-.8zM421.7 65.9h.8v.8h-.8zM423.5 72.9h.8v.8h-.8zM422.9 59.4h.8v.8h-.8zM422.1 66.0h.8v.8h-.8zM423.1 63.9h.8v.8h-.8zM421.6 56.4h.8v.8h-.8zM423.5 84.1h.8v.8h-.8zM422.1 61.7h.8v.8h-.8zM422.6 73.3h.8v.8h-.8zM421.8 65.6h.8v.8h-.8zM422.5 65.8h.8v.8h-.8zM422.0 63.7h.8v.8h-.8zM422.1 57.4h.8v.8h-.8zM421.5 62.4h.8v.8h-.8zM423.1 58.7h.8v.8h-.8zM422.5 64.3h.8v.8h-.8zM423.8 64.5h.8v.8h-.8zM422.7 60.5h.8v.8h-.8zM422.9 61.9h.8v.8h-.8zM424.1 79.7h.8v.8h-.8zM422.2 87.7h2v1.1h-2zM427.3 54.8h.8v.8h-.8zM426.8 56.3h.8v.8h-.8zM427.2 50.3h.8v.8h-.8zM425.0 53.5h.8v.8h-.8zM425.6 54.0h.8v.8h-.8zM427.2 49.2h.8v.8h-.8zM425.2 53.6h.8v.8h-.8zM425.6 59.1h.8v.8h-.8zM427.4 62.2h.8v.8h-.8zM427.1 56.2h.8v.8h-.8zM427.5 55.0h.8v.8h-.8zM427.3 55.5h.8v.8h-.8zM426.5 48.0h.8v.8h-.8zM427.4 76.5h.8v.8h-.8zM426.0 54.4h.8v.8h-.8zM427.2 53.8h.8v.8h-.8zM427.0 61.3h.8v.8h-.8zM427.3 75.3h.8v.8h-.8zM426.3 57.5h.8v.8h-.8zM427.3 57.1h.8v.8h-.8zM429.8 64.1h.8v.8h-.8zM430.9 58.4h.8v.8h-.8zM430.6 59.2h.8v.8h-.8zM430.4 57.7h.8v.8h-.8zM429.1 57.1h.8v.8h-.8zM430.7 56.5h.8v.8h-.8zM428.8 53.6h.8v.8h-.8zM430.1 56.8h.8v.8h-.8zM429.3 63.4h.8v.8h-.8zM430.3 54.6h.8v.8h-.8zM428.6 60.9h.8v.8h-.8zM428.6 65.4h.8v.8h-.8zM430.9 60.1h.8v.8h-.8zM430.7 58.9h.8v.8h-.8zM430.8 54.7h.8v.8h-.8zM430.8 55.5h.8v.8h-.8zM431.0 60.6h.8v.8h-.8zM429.0 59.9h.8v.8h-.8zM423.3 20.1h1.3v1.3h-1.3zM425.3 20.1h1.3v1.3h-1.3zM434.5 63.7h.8v.8h-.8zM432.9 66.7h.8v.8h-.8zM433.8 81.9h.8v.8h-.8zM434.2 70.2h.8v.8h-.8zM433.8 62.9h.8v.8h-.8zM433.4 70.7h.8v.8h-.8zM433.4 67.8h.8v.8h-.8zM434.1 63.6h.8v.8h-.8zM434.7 65.1h.8v.8h-.8zM434.2 65.4h.8v.8h-.8zM433.8 72.0h.8v.8h-.8zM434.2 71.8h.8v.8h-.8zM435.5 67.2h.8v.8h-.8zM433.1 52.0h.8v.8h-.8zM433.1 77.0h.8v.8h-.8zM433.8 70.0h.8v.8h-.8zM434.6 61.5h.8v.8h-.8zM433.1 81.5h.8v.8h-.8zM435.0 51.1h.8v.8h-.8zM434.7 79.6h.8v.8h-.8zM434.6 68.1h.8v.8h-.8zM433.4 73.4h.8v.8h-.8zM434.1 56.6h.8v.8h-.8zM435.2 73.4h.8v.8h-.8zM434.6 64.9h.8v.8h-.8zM433.7 70.0h.8v.8h-.8zM433.5 56.4h.8v.8h-.8zM435.0 61.2h.8v.8h-.8zM433.0 66.8h.8v.8h-.8zM434.3 65.3h.8v.8h-.8zM435.0 83.9h.8v.8h-.8zM434.0 67.3h.8v.8h-.8zM432.9 60.8h.8v.8h-.8zM433.6 87.7h2v1.1h-2zM436.4 74.5h.8v.8h-.8zM438.9 55.7h.8v.8h-.8zM438.4 55.2h.8v.8h-.8zM437.2 78.2h.8v.8h-.8zM438.2 58.1h.8v.8h-.8zM438.3 52.8h.8v.8h-.8zM437.6 65.5h.8v.8h-.8zM437.9 61.4h.8v.8h-.8zM437.4 62.0h.8v.8h-.8zM437.5 61.6h.8v.8h-.8zM436.6 82.3h.8v.8h-.8zM436.3 66.2h.8v.8h-.8zM437.0 57.1h.8v.8h-.8zM437.2 61.9h.8v.8h-.8zM436.8 52.2h.8v.8h-.8zM437.9 51.9h.8v.8h-.8zM437.4 62.1h.8v.8h-.8zM438.8 66.1h.8v.8h-.8zM438.6 65.2h.8v.8h-.8zM436.4 63.3h.8v.8h-.8zM437.1 87.7h2v1.1h-2zM440.2 57.0h.8v.8h-.8zM441.2 66.3h.8v.8h-.8zM440.7 63.3h.8v.8h-.8zM440.0 57.0h.8v.8h-.8zM440.8 64.1h.8v.8h-.8zM440.1 63.9h.8v.8h-.8zM442.1 53.4h.8v.8h-.8zM440.3 60.6h.8v.8h-.8zM442.1 56.6h.8v.8h-.8zM440.8 66.5h.8v.8h-.8zM442.1 59.2h.8v.8h-.8zM440.1 64.3h.8v.8h-.8zM442.4 60.3h.8v.8h-.8zM440.0 62.6h.8v.8h-.8zM440.0 64.6h.8v.8h-.8zM441.8 55.2h.8v.8h-.8zM440.7 66.5h.8v.8h-.8zM440.3 57.5h.8v.8h-.8zM440.5 56.4h.8v.8h-.8zM441.2 64.8h.8v.8h-.8zM440.7 56.2h.8v.8h-.8zM440.5 55.9h.8v.8h-.8zM442.1 63.9h.8v.8h-.8zM441.2 80.3h.8v.8h-.8zM439.9 68.1h.8v.8h-.8zM441.3 54.7h.8v.8h-.8zM441.2 73.4h.8v.8h-.8zM441.4 75.6h.8v.8h-.8zM441.5 68.4h.8v.8h-.8zM440.7 59.5h.8v.8h-.8zM442.3 68.8h.8v.8h-.8zM441.0 58.9h.8v.8h-.8zM441.0 72.9h.8v.8h-.8zM440.4 66.6h.8v.8h-.8zM441.2 60.2h.8v.8h-.8zM440.4 69.4h.8v.8h-.8zM439.9 57.2h.8v.8h-.8zM440.8 60.5h.8v.8h-.8zM440.5 68.2h.8v.8h-.8zM440.6 75.0h.8v.8h-.8zM440.3 52.3h.8v.8h-.8zM442.0 66.9h.8v.8h-.8zM441.3 61.6h.8v.8h-.8zM440.1 77.6h.8v.8h-.8zM442.3 63.9h.8v.8h-.8zM440.4 82.9h.8v.8h-.8zM441.0 60.6h.8v.8h-.8zM441.2 51.8h.8v.8h-.8zM441.9 66.3h.8v.8h-.8zM442.2 53.7h.8v.8h-.8zM440.2 61.7h.8v.8h-.8zM441.4 54.5h.8v.8h-.8zM440.5 87.7h2v1.1h-2zM445.3 55.9h.8v.8h-.8zM444.4 53.8h.8v.8h-.8zM445.6 60.8h.8v.8h-.8zM445.4 61.8h.8v.8h-.8zM443.5 60.9h.8v.8h-.8zM444.5 78.7h.8v.8h-.8zM444.2 60.5h.8v.8h-.8zM444.2 59.8h.8v.8h-.8zM445.9 48.6h.8v.8h-.8zM444.5 48.2h.8v.8h-.8zM445.7 48.4h.8v.8h-.8zM444.1 70.8h.8v.8h-.8zM445.2 74.7h.8v.8h-.8zM444.6 48.1h.8v.8h-.8zM443.5 66.8h.8v.8h-.8zM444.9 48.3h.8v.8h-.8zM445.9 68.4h.8v.8h-.8zM444.3 52.4h.8v.8h-.8zM445.3 60.7h.8v.8h-.8zM443.7 81.6h.8v.8h-.8zM445.7 62.4h.8v.8h-.8zM445.1 60.3h.8v.8h-.8zM444.9 51.2h.8v.8h-.8zM444.4 55.7h.8v.8h-.8zM444.3 65.4h.8v.8h-.8zM445.7 68.9h.8v.8h-.8zM444.2 67.3h.8v.8h-.8zM444.7 66.4h.8v.8h-.8zM443.4 77.5h.8v.8h-.8zM443.9 64.9h.8v.8h-.8zM445.1 49.5h.8v.8h-.8zM443.8 65.1h.8v.8h-.8zM443.6 69.0h.8v.8h-.8zM444.0 87.7h2v1.1h-2zM437.2 20.1h1.3v1.3h-1.3zM439.2 20.1h1.3v1.3h-1.3zM441.2 20.1h1.3v1.3h-1.3zM449.8 70.5h.8v.8h-.8zM448.9 66.2h.8v.8h-.8zM448.0 58.8h.8v.8h-.8zM448.1 66.0h.8v.8h-.8zM450.3 67.4h.8v.8h-.8zM448.6 52.3h.8v.8h-.8zM449.3 84.8h.8v.8h-.8zM449.7 62.5h.8v.8h-.8zM448.1 67.5h.8v.8h-.8zM448.0 54.8h.8v.8h-.8zM448.7 63.6h.8v.8h-.8zM448.2 70.3h.8v.8h-.8zM448.3 66.3h.8v.8h-.8zM448.8 66.1h.8v.8h-.8zM447.9 54.8h.8v.8h-.8zM447.9 62.1h.8v.8h-.8zM450.2 86.3h.8v.8h-.8zM449.0 56.1h.8v.8h-.8zM450.0 64.3h.8v.8h-.8zM448.6 70.0h.8v.8h-.8zM449.5 67.3h.8v.8h-.8zM447.9 63.3h.8v.8h-.8zM449.9 49.9h.8v.8h-.8zM448.4 87.7h2v1.1h-2zM451.9 70.9h.8v.8h-.8zM453.8 77.0h.8v.8h-.8zM451.9 71.0h.8v.8h-.8zM453.1 82.2h.8v.8h-.8zM451.9 71.3h.8v.8h-.8zM451.3 70.3h.8v.8h-.8zM451.6 65.8h.8v.8h-.8zM452.6 64.1h.8v.8h-.8zM453.7 71.1h.8v.8h-.8zM453.5 70.3h.8v.8h-.8zM453.4 79.9h.8v.8h-.8zM451.8 68.4h.8v.8h-.8zM452.0 59.8h.8v.8h-.8zM453.3 64.1h.8v.8h-.8zM453.5 65.2h.8v.8h-.8zM451.7 58.5h.8v.8h-.8zM451.8 64.1h.8v.8h-.8zM451.3 73.4h.8v.8h-.8zM452.8 59.6h.8v.8h-.8zM453.6 71.2h.8v.8h-.8zM451.9 87.7h2v1.1h-2zM456.9 69.2h.8v.8h-.8zM454.6 63.8h.8v.8h-.8zM455.5 59.0h.8v.8h-.8zM454.8 59.2h.8v.8h-.8zM455.0 59.0h.8v.8h-.8zM454.9 55.2h.8v.8h-.8zM455.2 70.7h.8v.8h-.8zM455.8 67.7h.8v.8h-.8zM456.9 64.1h.8v.8h-.8zM456.0 75.0h.8v.8h-.8zM456.9 54.1h.8v.8h-.8zM455.5 58.7h.8v.8h-.8zM454.9 71.5h.8v.8h-.8zM456.2 72.5h.8v.8h-.8zM455.5 61.3h.8v.8h-.8zM456.5 72.9h.8v.8h-.8zM457.0 54.3h.8v.8h-.8zM454.8 70.5h.8v.8h-.8zM456.9 53.7h.8v.8h-.8zM455.4 64.1h.8v.8h-.8zM458.1 63.2h.8v.8h-.8zM459.9 69.4h.8v.8h-.8zM458.2 69.1h.8v.8h-.8zM458.2 63.8h.8v.8h-.8zM459.4 68.6h.8v.8h-.8zM460.5 56.4h.8v.8h-.8zM458.6 71.7h.8v.8h-.8zM459.1 62.9h.8v.8h-.8zM460.5 58.8h.8v.8h-.8zM459.8 59.1h.8v.8h-.8zM458.7 61.7h.8v.8h-.8zM459.9 62.7h.8v.8h-.8zM459.6 57.5h.8v.8h-.8zM459.2 58.5h.8v.8h-.8zM459.6 65.5h.8v.8h-.8zM459.4 64.9h.8v.8h-.8zM460.7 56.8h.8v.8h-.8zM459.4 58.2h.8v.8h-.8zM453.8 20.9h1.6v.55h-1.6zM463.3 59.9h.8v.8h-.8zM462.6 56.5h.8v.8h-.8zM463.3 68.3h.8v.8h-.8zM463.4 67.9h.8v.8h-.8zM464.2 61.7h.8v.8h-.8zM462.7 81.7h.8v.8h-.8zM462.8 86.1h.8v.8h-.8zM464.7 55.2h.8v.8h-.8zM464.2 74.2h.8v.8h-.8zM464.1 54.8h.8v.8h-.8zM463.5 81.2h.8v.8h-.8zM462.8 76.2h.8v.8h-.8zM464.6 75.5h.8v.8h-.8zM464.3 83.6h.8v.8h-.8zM463.5 61.9h.8v.8h-.8zM463.7 52.3h.8v.8h-.8zM464.6 51.3h.8v.8h-.8zM464.3 64.1h.8v.8h-.8zM464.1 66.7h.8v.8h-.8zM463.0 56.9h.8v.8h-.8zM463.2 87.7h2v1.1h-2zM466.3 64.4h.8v.8h-.8zM466.2 61.8h.8v.8h-.8zM466.8 62.2h.8v.8h-.8zM467.5 62.9h.8v.8h-.8zM466.6 68.7h.8v.8h-.8zM467.1 56.2h.8v.8h-.8zM468.6 62.2h.8v.8h-.8zM467.6 61.2h.8v.8h-.8zM466.6 62.3h.8v.8h-.8zM466.9 65.3h.8v.8h-.8zM467.0 69.8h.8v.8h-.8zM468.3 83.2h.8v.8h-.8zM467.5 64.9h.8v.8h-.8zM467.8 73.4h.8v.8h-.8zM466.3 58.1h.8v.8h-.8zM468.4 77.3h.8v.8h-.8zM467.4 62.5h.8v.8h-.8zM468.3 64.6h.8v.8h-.8zM467.7 81.2h.8v.8h-.8zM468.0 57.4h.8v.8h-.8zM466.7 87.7h2v1.1h-2zM471.6 57.0h.8v.8h-.8zM470.7 67.1h.8v.8h-.8zM469.6 60.0h.8v.8h-.8zM470.9 71.1h.8v.8h-.8zM471.8 56.1h.8v.8h-.8zM470.7 58.0h.8v.8h-.8zM470.4 66.6h.8v.8h-.8zM469.8 59.4h.8v.8h-.8zM470.1 55.1h.8v.8h-.8zM470.0 54.5h.8v.8h-.8zM471.7 64.5h.8v.8h-.8zM472.0 56.8h.8v.8h-.8zM470.8 58.3h.8v.8h-.8zM470.0 60.4h.8v.8h-.8zM470.8 66.5h.8v.8h-.8zM471.4 64.2h.8v.8h-.8zM470.3 56.1h.8v.8h-.8zM471.4 61.9h.8v.8h-.8zM473.2 70.0h.8v.8h-.8zM473.4 65.8h.8v.8h-.8zM472.9 65.2h.8v.8h-.8zM473.3 61.3h.8v.8h-.8zM474.4 61.0h.8v.8h-.8zM473.2 73.6h.8v.8h-.8zM475.3 63.9h.8v.8h-.8zM474.1 63.2h.8v.8h-.8zM473.0 69.0h.8v.8h-.8zM473.2 65.2h.8v.8h-.8zM475.4 69.9h.8v.8h-.8zM474.6 62.7h.8v.8h-.8zM474.6 67.0h.8v.8h-.8zM473.6 74.0h.8v.8h-.8zM473.9 68.8h.8v.8h-.8zM474.7 67.0h.8v.8h-.8zM475.1 59.8h.8v.8h-.8zM474.7 62.2h.8v.8h-.8zM468.6 20.9h1.6v.55h-1.6zM478.7 57.2h.8v.8h-.8zM480.7 76.2h.8v.8h-.8zM480.9 66.7h.8v.8h-.8zM477.5 59.3h.8v.8h-.8zM479.5 64.3h.8v.8h-.8zM480.7 75.2h.8v.8h-.8zM480.6 73.8h.8v.8h-.8zM478.0 56.4h.8v.8h-.8zM478.5 62.2h.8v.8h-.8zM477.9 60.3h.8v.8h-.8zM478.1 57.4h.8v.8h-.8zM480.6 63.6h.8v.8h-.8zM481.0 70.7h.8v.8h-.8zM481.0 81.0h.8v.8h-.8zM479.1 66.1h.8v.8h-.8zM480.4 68.5h.8v.8h-.8zM478.6 63.7h.8v.8h-.8zM478.8 87.7h.8v.8h-.8zM478.6 87.7h2v1.1h-2zM484.6 72.2h.8v.8h-.8zM483.4 68.1h.8v.8h-.8zM485.4 81.8h.8v.8h-.8zM484.0 66.4h.8v.8h-.8zM483.2 67.1h.8v.8h-.8zM484.1 71.8h.8v.8h-.8zM482.9 59.0h.8v.8h-.8zM484.3 64.6h.8v.8h-.8zM485.0 64.0h.8v.8h-.8zM483.3 73.3h.8v.8h-.8zM483.0 62.5h.8v.8h-.8zM484.0 78.3h.8v.8h-.8zM484.5 68.5h.8v.8h-.8zM484.5 57.0h.8v.8h-.8zM483.8 80.9h.8v.8h-.8zM484.2 64.6h.8v.8h-.8zM485.4 66.7h.8v.8h-.8zM484.4 66.3h.8v.8h-.8zM483.3 87.7h2v1.1h-2zM487.2 61.0h.8v.8h-.8zM487.2 62.7h.8v.8h-.8zM489.7 67.6h.8v.8h-.8zM487.4 67.1h.8v.8h-.8zM487.6 62.3h.8v.8h-.8zM488.5 60.8h.8v.8h-.8zM487.8 70.0h.8v.8h-.8zM488.3 60.0h.8v.8h-.8zM487.7 62.7h.8v.8h-.8zM487.9 65.7h.8v.8h-.8zM489.3 63.9h.8v.8h-.8zM489.7 72.0h.8v.8h-.8zM489.9 61.9h.8v.8h-.8zM489.4 61.8h.8v.8h-.8zM488.2 65.4h.8v.8h-.8zM483.5 20.9h1.6v.55h-1.6zM492.4 72.2h.8v.8h-.8zM493.3 68.7h.8v.8h-.8zM493.7 71.8h.8v.8h-.8zM493.7 79.1h.8v.8h-.8zM492.3 75.8h.8v.8h-.8zM493.6 71.6h.8v.8h-.8zM493.5 70.2h.8v.8h-.8zM493.2 68.8h.8v.8h-.8zM492.5 71.2h.8v.8h-.8zM492.5 85.6h.8v.8h-.8zM493.7 82.1h.8v.8h-.8zM492.7 68.6h.8v.8h-.8zM493.8 73.0h.8v.8h-.8zM492.7 68.3h.8v.8h-.8zM494.7 68.4h.8v.8h-.8zM492.9 87.7h2v1.1h-2zM498.2 76.6h.8v.8h-.8zM495.8 76.6h.8v.8h-.8zM496.1 71.3h.8v.8h-.8zM496.1 76.0h.8v.8h-.8zM496.5 73.7h.8v.8h-.8zM496.8 73.0h.8v.8h-.8zM496.9 66.9h.8v.8h-.8zM495.7 76.6h.8v.8h-.8zM496.0 73.0h.8v.8h-.8zM498.3 76.6h.8v.8h-.8zM496.5 72.3h.8v.8h-.8zM498.0 72.7h.8v.8h-.8zM495.7 76.3h.8v.8h-.8zM501.7 72.6h.8v.8h-.8zM500.0 88.1h.8v.8h-.8zM500.2 88.0h.8v.8h-.8zM501.3 70.5h.8v.8h-.8zM501.5 80.7h.8v.8h-.8zM500.2 76.2h.8v.8h-.8zM500.5 85.2h.8v.8h-.8zM499.6 87.3h.8v.8h-.8zM499.4 70.3h.8v.8h-.8zM501.3 70.4h.8v.8h-.8zM499.3 72.6h.8v.8h-.8zM499.5 73.7h.8v.8h-.8zM501.2 84.2h.8v.8h-.8zM499.8 76.8h.8v.8h-.8zM501.0 70.4h.8v.8h-.8zM499.8 87.7h2v1.1h-2zM504.0 72.2h.8v.8h-.8zM504.8 76.5h.8v.8h-.8zM503.6 71.4h.8v.8h-.8zM503.7 73.0h.8v.8h-.8zM502.8 71.2h.8v.8h-.8zM503.7 72.0h.8v.8h-.8zM504.1 71.7h.8v.8h-.8zM504.4 72.6h.8v.8h-.8zM504.9 72.1h.8v.8h-.8zM503.9 71.7h.8v.8h-.8zM504.9 72.7h.8v.8h-.8zM502.6 73.9h.8v.8h-.8zM505.0 76.3h.8v.8h-.8zM498.3 20.9h1.6v.55h-1.6z" fill="#111" opacity="0.8"/>
<rect x="57" y="16.2" width="458.5" height="78.2" fill="none" stroke="#555555" stroke-width="1.2"/>
<line x1="55" y1="25.4" x2="57" y2="25.4" stroke="#333" stroke-width="0.6"/>
<text x="54" y="27.4" font-size="6.2" text-anchor="end" fill="#333" font-family="'Liberation Serif', serif" stroke="#333" stroke-width="0.1">10</text>
<line x1="55" y1="41.2" x2="57" y2="41.2" stroke="#333" stroke-width="0.6"/>
<text x="54" y="43.2" font-size="6.2" text-anchor="end" fill="#333" font-family="'Liberation Serif', serif" stroke="#333" stroke-width="0.1">5</text>
<line x1="55" y1="57" x2="57" y2="57" stroke="#333" stroke-width="0.6"/>
<text x="54" y="59" font-size="6.2" text-anchor="end" fill="#333" font-family="'Liberation Serif', serif" stroke="#333" stroke-width="0.1">0</text>
<line x1="55" y1="72.8" x2="57" y2="72.8" stroke="#333" stroke-width="0.6"/>
<text x="54" y="74.8" font-size="6.2" text-anchor="end" fill="#333" font-family="'Liberation Serif', serif" stroke="#333" stroke-width="0.1">-5</text>
<line x1="55" y1="88.6" x2="57" y2="88.6" stroke="#333" stroke-width="0.6"/>
<text x="54" y="90.6" font-size="6.2" text-anchor="end" fill="#333" font-family="'Liberation Serif', serif" stroke="#333" stroke-width="0.1">-10</text>
<text x="41.2" y="55" font-size="5.7" text-anchor="middle" fill="#333" font-family="'Liberation Serif', serif" transform="rotate(-90 41.2 55)" stroke="#333" stroke-width="0.1">Expression</text>
<line x1="69.3" y1="94.4" x2="69.3" y2="96.4" stroke="#333" stroke-width="0.6"/>
<text x="70.1" y="100" font-size="5.5" text-anchor="end" fill="#383838" font-family="'Liberation Serif', serif" transform="rotate(-45 70.1 100)" stroke="#383838" stroke-width="0.2">CESC(Stage I=162,II=60,III=45,IV=21)</text>
<line x1="84.12" y1="94.4" x2="84.12" y2="96.4" stroke="#333" stroke-width="0.6"/>
<text x="84.92" y="100" font-size="5.5" text-anchor="end" fill="#383838" font-family="'Liberation Serif', serif" transform="rotate(-45 84.92 100)" stroke="#383838" stroke-width="0.2">LUAD(Stage I=274,II=122,III=83,IV=26)</text>
<line x1="98.94" y1="94.4" x2="98.94" y2="96.4" stroke="#333" stroke-width="0.6"/>
<text x="99.74" y="100" font-size="5.5" text-anchor="end" fill="#383838" font-family="'Liberation Serif', serif" transform="rotate(-45 99.74 100)" stroke="#383838" stroke-width="0.2">COAD(Stage I=44,II=110,III=82,IV=40)</text>
<line x1="113.76" y1="94.4" x2="113.76" y2="96.4" stroke="#333" stroke-width="0.6"/>
<text x="114.56" y="100" font-size="5.5" text-anchor="end" fill="#383838" font-family="'Liberation Serif', serif" transform="rotate(-45 114.56 100)" stroke="#383838" stroke-width="0.2">COADREAD(Stage I=56,II=134,III=115,IV=53)</text>
<line x1="128.58" y1="94.4" x2="128.58" y2="96.4" stroke="#333" stroke-width="0.6"/>
<text x="129.38" y="100" font-size="5.5" text-anchor="end" fill="#383838" font-family="'Liberation Serif', serif" transform="rotate(-45 129.38 100)" stroke="#383838" stroke-width="0.2">BRCA(Stage I=182,II=617,III=248,IV=20)</text>
<line x1="143.4" y1="94.4" x2="143.4" y2="96.4" stroke="#333" stroke-width="0.6"/>
<text x="144.2" y="100" font-size="5.5" text-anchor="end" fill="#383838" font-family="'Liberation Serif', serif" transform="rotate(-45 144.2 100)" stroke="#383838" stroke-width="0.2">ESCA(Stage I=18,II=80,III=61,IV=16)</text>
<line x1="158.22" y1="94.4" x2="158.22" y2="96.4" stroke="#333" stroke-width="0.6"/>
<text x="159.02" y="100" font-size="5.5" text-anchor="end" fill="#383838" font-family="'Liberation Serif', serif" transform="rotate(-45 159.02 100)" stroke="#383838" stroke-width="0.2">STES(Stage I=76,II=201,III=230,IV=57)</text>
<line x1="173.04" y1="94.4" x2="173.04" y2="96.4" stroke="#333" stroke-width="0.6"/>
<text x="173.84" y="100" font-size="5.5" text-anchor="end" fill="#383838" font-family="'Liberation Serif', serif" transform="rotate(-45 173.84 100)" stroke="#383838" stroke-width="0.2">KIRP(Stage I=177,II=25,III=53,IV=16)</text>
<line x1="187.86" y1="94.4" x2="187.86" y2="96.4" stroke="#333" stroke-width="0.6"/>
<text x="188.66" y="100" font-size="5.5" text-anchor="end" fill="#383838" font-family="'Liberation Serif', serif" transform="rotate(-45 188.66 100)" stroke="#383838" stroke-width="0.2">KIPAN(Stage I=464,II=107,III=189,IV=103)</text>
<line x1="202.68" y1="94.4" x2="202.68" y2="96.4" stroke="#333" stroke-width="0.6"/>
<text x="203.48" y="100" font-size="5.5" text-anchor="end" fill="#383838" font-family="'Liberation Serif', serif" transform="rotate(-45 203.48 100)" stroke="#383838" stroke-width="0.2">STAD(Stage I=58,II=121,III=169,IV=41)</text>
<line x1="217.5" y1="94.4" x2="217.5" y2="96.4" stroke="#333" stroke-width="0.6"/>
<text x="218.3" y="100" font-size="5.5" text-anchor="end" fill="#383838" font-family="'Liberation Serif', serif" transform="rotate(-45 218.3 100)" stroke="#383838" stroke-width="0.2">UCEC(Stage I=98,II=24,III=48,IV=10)</text>
<line x1="232.32" y1="94.4" x2="232.32" y2="96.4" stroke="#333" stroke-width="0.6"/>
<text x="233.12" y="100" font-size="5.5" text-anchor="end" fill="#383838" font-family="'Liberation Serif', serif" transform="rotate(-45 233.12 100)" stroke="#383838" stroke-width="0.2">HNSC(Stage I=27,II=82,III=93,IV=316)</text>
<line x1="247.14" y1="94.4" x2="247.14" y2="96.4" stroke="#333" stroke-width="0.6"/>
<text x="247.94" y="100" font-size="5.5" text-anchor="end" fill="#383838" font-family="'Liberation Serif', serif" transform="rotate(-45 247.94 100)" stroke="#383838" stroke-width="0.2">KIRC(Stage I=266,II=57,III=123,IV=81)</text>
<line x1="261.96" y1="94.4" x2="261.96" y2="96.4" stroke="#333" stroke-width="0.6"/>
<text x="262.76" y="100" font-size="5.5" text-anchor="end" fill="#383838" font-family="'Liberation Serif', serif" transform="rotate(-45 262.76 100)" stroke="#383838" stroke-width="0.2">LUSC(Stage I=242,II=161,III=84,IV=7)</text>
<line x1="276.78" y1="94.4" x2="276.78" y2="96.4" stroke="#333" stroke-width="0.6"/>
<text x="277.58" y="100" font-size="5.5" text-anchor="end" fill="#383838" font-family="'Liberation Serif', serif" transform="rotate(-45 277.58 100)" stroke="#383838" stroke-width="0.2">THYM(Stage I=36,II=61,III=14,IV=6)</text>
<line x1="291.6" y1="94.4" x2="291.6" y2="96.4" stroke="#333" stroke-width="0.6"/>
<text x="292.4" y="100" font-size="5.5" text-anchor="end" fill="#383838" font-family="'Liberation Serif', serif" transform="rotate(-45 292.4 100)" stroke="#383838" stroke-width="0.2">LIHC(Stage I=169,II=86,III=83,IV=5)</text>
<line x1="306.42" y1="94.4" x2="306.42" y2="96.4" stroke="#333" stroke-width="0.6"/>
<text x="307.22" y="100" font-size="5.5" text-anchor="end" fill="#383838" font-family="'Liberation Serif', serif" transform="rotate(-45 307.22 100)" stroke="#383838" stroke-width="0.2">THCA(Stage I=283,II=52,III=112,IV=55)</text>
<line x1="321.24" y1="94.4" x2="321.24" y2="96.4" stroke="#333" stroke-width="0.6"/>
<text x="322.04" y="100" font-size="5.5" text-anchor="end" fill="#383838" font-family="'Liberation Serif', serif" transform="rotate(-45 322.04 100)" stroke="#383838" stroke-width="0.2">MESO(Stage I=10,II=16,III=45,IV=16)</text>
<line x1="336.06" y1="94.4" x2="336.06" y2="96.4" stroke="#333" stroke-width="0.6"/>
<text x="336.86" y="100" font-size="5.5" text-anchor="end" fill="#383838" font-family="'Liberation Serif', serif" transform="rotate(-45 336.86 100)" stroke="#383838" stroke-width="0.2">READ(Stage I=12,II=24,III=33,IV=13)</text>
<line x1="350.88" y1="94.4" x2="350.88" y2="96.4" stroke="#333" stroke-width="0.6"/>
<text x="351.68" y="100" font-size="5.5" text-anchor="end" fill="#383838" font-family="'Liberation Serif', serif" transform="rotate(-45 351.68 100)" stroke="#383838" stroke-width="0.2">PAAD(Stage I=21,II=147,III=3,IV=4)</text>
<line x1="365.7" y1="94.4" x2="365.7" y2="96.4" stroke="#333" stroke-width="0.6"/>
<text x="366.5" y="100" font-size="5.5" text-anchor="end" fill="#383838" font-family="'Liberation Serif', serif" transform="rotate(-45 366.5 100)" stroke="#383838" stroke-width="0.2">OV(Stage II=24,III=328,IV=63)</text>
<line x1="380.52" y1="94.4" x2="380.52" y2="96.4" stroke="#333" stroke-width="0.6"/>
<text x="381.32" y="100" font-size="5.5" text-anchor="end" fill="#383838" font-family="'Liberation Serif', serif" transform="rotate(-45 381.32 100)" stroke="#383838" stroke-width="0.2">TGCT(Stage I=104,II=13,III=14)</text>
<line x1="395.34" y1="94.4" x2="395.34" y2="96.4" stroke="#333" stroke-width="0.6"/>
<text x="396.14" y="100" font-size="5.5" text-anchor="end" fill="#383838" font-family="'Liberation Serif', serif" transform="rotate(-45 396.14 100)" stroke="#383838" stroke-width="0.2">SKCM(Stage II=66,III=26,IV=5)</text>
<line x1="410.16" y1="94.4" x2="410.16" y2="96.4" stroke="#333" stroke-width="0.6"/>
<text x="410.96" y="100" font-size="5.5" text-anchor="end" fill="#383838" font-family="'Liberation Serif', serif" transform="rotate(-45 410.96 100)" stroke="#383838" stroke-width="0.2">UVM(Stage II=39,III=36,IV=4)</text>
<line x1="424.98" y1="94.4" x2="424.98" y2="96.4" stroke="#333" stroke-width="0.6"/>
<text x="425.78" y="100" font-size="5.5" text-anchor="end" fill="#383838" font-family="'Liberation Serif', serif" transform="rotate(-45 425.78 100)" stroke="#383838" stroke-width="0.2">UCS(Stage I=22,II=5,III=20,IV=10)</text>
<line x1="439.8" y1="94.4" x2="439.8" y2="96.4" stroke="#333" stroke-width="0.6"/>
<text x="440.6" y="100" font-size="5.5" text-anchor="end" fill="#383838" font-family="'Liberation Serif', serif" transform="rotate(-45 440.6 100)" stroke="#383838" stroke-width="0.2">BLCA(Stage II=130,III=140,IV=133)</text>
<line x1="454.62" y1="94.4" x2="454.62" y2="96.4" stroke="#333" stroke-width="0.6"/>
<text x="455.42" y="100" font-size="5.5" text-anchor="end" fill="#383838" font-family="'Liberation Serif', serif" transform="rotate(-45 455.42 100)" stroke="#383838" stroke-width="0.2">ACC(Stage I=9,II=36,III=15,IV=15)</text>
<line x1="469.44" y1="94.4" x2="469.44" y2="96.4" stroke="#333" stroke-width="0.6"/>
<text x="470.24" y="100" font-size="5.5" text-anchor="end" fill="#383838" font-family="'Liberation Serif', serif" transform="rotate(-45 470.24 100)" stroke="#383838" stroke-width="0.2">KICH(Stage I=21,II=25,III=14,IV=6)</text>
<line x1="484.26" y1="94.4" x2="484.26" y2="96.4" stroke="#333" stroke-width="0.6"/>
<text x="485.06" y="100" font-size="5.5" text-anchor="end" fill="#383838" font-family="'Liberation Serif', serif" transform="rotate(-45 485.06 100)" stroke="#383838" stroke-width="0.2">CHOL(Stage I=19,II=9,IV=7)</text>
<line x1="499.08" y1="94.4" x2="499.08" y2="96.4" stroke="#333" stroke-width="0.6"/>
<text x="499.88" y="100" font-size="5.5" text-anchor="end" fill="#383838" font-family="'Liberation Serif', serif" transform="rotate(-45 499.88 100)" stroke="#383838" stroke-width="0.2">DLBC(Stage I=8,II=16,III=5,IV=12)</text>
<text x="520.1" y="19.6" font-size="5.6" text-anchor="start" fill="#222" font-family="'Liberation Serif', serif" stroke="#222" stroke-width="0.15">Group</text>
<circle cx="523.2" cy="26.9" r="2.7" fill="#E64B35"/>
<text x="527.2" y="28.8" font-size="5.6" text-anchor="start" fill="#222" font-family="'Liberation Serif', serif" stroke="#222" stroke-width="0.15">Stage II</text>
<circle cx="523.2" cy="36.1" r="2.7" fill="#4DBBD5"/>
<text x="527.2" y="38" font-size="5.6" text-anchor="start" fill="#222" font-family="'Liberation Serif', serif" stroke="#222" stroke-width="0.15">Stage I</text>
<circle cx="523.2" cy="45.3" r="2.7" fill="#00A087"/>
<text x="527.2" y="47.2" font-size="5.6" text-anchor="start" fill="#222" font-family="'Liberation Serif', serif" stroke="#222" stroke-width="0.15">Stage III</text>
<circle cx="523.2" cy="54.5" r="2.7" fill="#3C5488"/>
<text x="527.2" y="56.4" font-size="5.6" text-anchor="start" fill="#222" font-family="'Liberation Serif', serif" stroke="#222" stroke-width="0.15">Stage IV</text>
<text x="21.8" y="191.6" font-size="6.8" text-anchor="start" fill="#000" font-family="'Liberation Sans', sans-serif" font-weight="bold">B</text>
<text x="80.6" y="205.3" font-size="4.8" text-anchor="end" fill="#444" font-family="'Liberation Sans', sans-serif" stroke="#444" stroke-width="0.08">ENSG00000156466.9</text>
<text x="80.6" y="210.6" font-size="4.8" text-anchor="end" fill="#444" font-family="'Liberation Sans', sans-serif" stroke="#444" stroke-width="0.08">(GDF6)</text>
<rect x="83.2" y="199.6" width="13.62" height="13.4" fill="#fcc8c4" stroke="none" stroke-width="1"/>
<rect x="96.67" y="199.6" width="13.62" height="13.4" fill="#fde4e2" stroke="none" stroke-width="1"/>
<rect x="110.14" y="199.6" width="13.62" height="13.4" fill="#dce5fc" stroke="none" stroke-width="1"/>
<rect x="123.61" y="199.6" width="13.62" height="13.4" fill="#fff4f4" stroke="none" stroke-width="1"/>
<rect x="137.08" y="199.6" width="13.62" height="13.4" fill="#8eaaf8" stroke="none" stroke-width="1"/>
<rect x="150.55" y="199.6" width="13.62" height="13.4" fill="#fca9a4" stroke="none" stroke-width="1"/>
<rect x="164.02" y="199.6" width="13.62" height="13.4" fill="#fc5c5c" stroke="none" stroke-width="1"/>
<rect x="177.49" y="199.6" width="13.62" height="13.4" fill="#c8d4fa" stroke="none" stroke-width="1"/>
<rect x="190.96" y="199.6" width="13.62" height="13.4" fill="#fde0dc" stroke="none" stroke-width="1"/>
<rect x="204.43" y="199.6" width="13.62" height="13.4" fill="#ffeeee" stroke="none" stroke-width="1"/>
<rect x="217.9" y="199.6" width="13.62" height="13.4" fill="#fdd4d0" stroke="none" stroke-width="1"/>
<rect x="231.37" y="199.6" width="13.62" height="13.4" fill="#aabcf8" stroke="none" stroke-width="1"/>
<rect x="244.84" y="199.6" width="13.62" height="13.4" fill="#ff8080" stroke="none" stroke-width="1"/>
<rect x="258.31" y="199.6" width="13.62" height="13.4" fill="#ffffff" stroke="none" stroke-width="1"/>
<rect x="271.78" y="199.6" width="13.62" height="13.4" fill="#fffefe" stroke="none" stroke-width="1"/>
<rect x="285.25" y="199.6" width="13.62" height="13.4" fill="#fcfcfc" stroke="none" stroke-width="1"/>
<rect x="298.72" y="199.6" width="13.62" height="13.4" fill="#fff8f8" stroke="none" stroke-width="1"/>
<rect x="312.19" y="199.6" width="13.62" height="13.4" fill="#eef2fe" stroke="none" stroke-width="1"/>
<rect x="325.66" y="199.6" width="13.62" height="13.4" fill="#fca4a0" stroke="none" stroke-width="1"/>
<rect x="339.13" y="199.6" width="13.62" height="13.4" fill="#fdd4d0" stroke="none" stroke-width="1"/>
<rect x="352.6" y="199.6" width="13.62" height="13.4" fill="#ffffff" stroke="none" stroke-width="1"/>
<rect x="366.07" y="199.6" width="13.62" height="13.4" fill="#fc9c98" stroke="none" stroke-width="1"/>
<rect x="379.54" y="199.6" width="13.62" height="13.4" fill="#fffcfc" stroke="none" stroke-width="1"/>
<rect x="393.01" y="199.6" width="13.62" height="13.4" fill="#fefafa" stroke="none" stroke-width="1"/>
<rect x="406.48" y="199.6" width="13.62" height="13.4" fill="#fff4f0" stroke="none" stroke-width="1"/>
<rect x="419.95" y="199.6" width="13.62" height="13.4" fill="#f6f8fe" stroke="none" stroke-width="1"/>
<rect x="433.42" y="199.6" width="13.62" height="13.4" fill="#fcc4bc" stroke="none" stroke-width="1"/>
<rect x="446.89" y="199.6" width="13.62" height="13.4" fill="#fcbcb8" stroke="none" stroke-width="1"/>
<rect x="460.36" y="199.6" width="13.62" height="13.4" fill="#fff4f4" stroke="none" stroke-width="1"/>
<rect x="473.83" y="199.6" width="13.62" height="13.4" fill="#fc8480" stroke="none" stroke-width="1"/>
<rect x="487.3" y="199.6" width="13.62" height="13.4" fill="#fde4e0" stroke="none" stroke-width="1"/>
<rect x="500.77" y="199.6" width="13.62" height="13.4" fill="#fc8884" stroke="none" stroke-width="1"/>
<rect x="231.87" y="200.1" width="12.47" height="12.4" fill="none" stroke="#3040c0" stroke-width="1"/>
<rect x="245.34" y="200.1" width="12.47" height="12.4" fill="none" stroke="#e02020" stroke-width="1"/>
<rect x="326.16" y="200.1" width="12.47" height="12.4" fill="none" stroke="#e03030" stroke-width="1"/>
<rect x="433.92" y="200.1" width="12.47" height="12.4" fill="none" stroke="#d83030" stroke-width="1"/>
<text x="94.53" y="220.8" font-size="7" text-anchor="end" fill="#505050" font-family="'Liberation Sans', sans-serif" transform="rotate(-45 94.53 220.8)" stroke="#505050" stroke-width="0.1">ACC</text>
<text x="108" y="220.8" font-size="7" text-anchor="end" fill="#505050" font-family="'Liberation Sans', sans-serif" transform="rotate(-45 108 220.8)" stroke="#505050" stroke-width="0.1">BLCA</text>
<text x="121.47" y="220.8" font-size="7" text-anchor="end" fill="#505050" font-family="'Liberation Sans', sans-serif" transform="rotate(-45 121.47 220.8)" stroke="#505050" stroke-width="0.1">BRCA</text>
<text x="134.95" y="220.8" font-size="7" text-anchor="end" fill="#505050" font-family="'Liberation Sans', sans-serif" transform="rotate(-45 134.95 220.8)" stroke="#505050" stroke-width="0.1">CESC</text>
<text x="148.42" y="220.8" font-size="7" text-anchor="end" fill="#505050" font-family="'Liberation Sans', sans-serif" transform="rotate(-45 148.42 220.8)" stroke="#505050" stroke-width="0.1">CHOL</text>
<text x="161.89" y="220.8" font-size="7" text-anchor="end" fill="#505050" font-family="'Liberation Sans', sans-serif" transform="rotate(-45 161.89 220.8)" stroke="#505050" stroke-width="0.1">COAD</text>
<text x="175.36" y="220.8" font-size="7" text-anchor="end" fill="#505050" font-family="'Liberation Sans', sans-serif" transform="rotate(-45 175.36 220.8)" stroke="#505050" stroke-width="0.1">DLBC</text>
<text x="188.83" y="220.8" font-size="7" text-anchor="end" fill="#505050" font-family="'Liberation Sans', sans-serif" transform="rotate(-45 188.83 220.8)" stroke="#505050" stroke-width="0.1">ESCA</text>
<text x="202.3" y="220.8" font-size="7" text-anchor="end" fill="#505050" font-family="'Liberation Sans', sans-serif" transform="rotate(-45 202.3 220.8)" stroke="#505050" stroke-width="0.1">GBM</text>
<text x="215.77" y="220.8" font-size="7" text-anchor="end" fill="#505050" font-family="'Liberation Sans', sans-serif" transform="rotate(-45 215.77 220.8)" stroke="#505050" stroke-width="0.1">HNSC</text>
<text x="229.24" y="220.8" font-size="7" text-anchor="end" fill="#505050" font-family="'Liberation Sans', sans-serif" transform="rotate(-45 229.24 220.8)" stroke="#505050" stroke-width="0.1">KICH</text>
<text x="242.71" y="220.8" font-size="7" text-anchor="end" fill="#505050" font-family="'Liberation Sans', sans-serif" transform="rotate(-45 242.71 220.8)" stroke="#505050" stroke-width="0.1">KIRC</text>
<text x="256.18" y="220.8" font-size="7" text-anchor="end" fill="#505050" font-family="'Liberation Sans', sans-serif" transform="rotate(-45 256.18 220.8)" stroke="#505050" stroke-width="0.1">KIRP</text>
<text x="269.65" y="220.8" font-size="7" text-anchor="end" fill="#505050" font-family="'Liberation Sans', sans-serif" transform="rotate(-45 269.65 220.8)" stroke="#505050" stroke-width="0.1">LAML</text>
<text x="283.12" y="220.8" font-size="7" text-anchor="end" fill="#505050" font-family="'Liberation Sans', sans-serif" transform="rotate(-45 283.12 220.8)" stroke="#505050" stroke-width="0.1">LGG</text>
<text x="296.59" y="220.8" font-size="7" text-anchor="end" fill="#505050" font-family="'Liberation Sans', sans-serif" transform="rotate(-45 296.59 220.8)" stroke="#505050" stroke-width="0.1">LIHC</text>
<text x="310.06" y="220.8" font-size="7" text-anchor="end" fill="#505050" font-family="'Liberation Sans', sans-serif" transform="rotate(-45 310.06 220.8)" stroke="#505050" stroke-width="0.1">LUAD</text>
<text x="323.53" y="220.8" font-size="7" text-anchor="end" fill="#505050" font-family="'Liberation Sans', sans-serif" transform="rotate(-45 323.53 220.8)" stroke="#505050" stroke-width="0.1">LUSC</text>
<text x="337" y="220.8" font-size="7" text-anchor="end" fill="#505050" font-family="'Liberation Sans', sans-serif" transform="rotate(-45 337 220.8)" stroke="#505050" stroke-width="0.1">MESO</text>
<text x="350.47" y="220.8" font-size="7" text-anchor="end" fill="#505050" font-family="'Liberation Sans', sans-serif" transform="rotate(-45 350.47 220.8)" stroke="#505050" stroke-width="0.1">OV</text>
<text x="363.94" y="220.8" font-size="7" text-anchor="end" fill="#505050" font-family="'Liberation Sans', sans-serif" transform="rotate(-45 363.94 220.8)" stroke="#505050" stroke-width="0.1">PAAD</text>
<text x="377.41" y="220.8" font-size="7" text-anchor="end" fill="#505050" font-family="'Liberation Sans', sans-serif" transform="rotate(-45 377.41 220.8)" stroke="#505050" stroke-width="0.1">PCPG</text>
<text x="390.88" y="220.8" font-size="7" text-anchor="end" fill="#505050" font-family="'Liberation Sans', sans-serif" transform="rotate(-45 390.88 220.8)" stroke="#505050" stroke-width="0.1">PRAD</text>
<text x="404.35" y="220.8" font-size="7" text-anchor="end" fill="#505050" font-family="'Liberation Sans', sans-serif" transform="rotate(-45 404.35 220.8)" stroke="#505050" stroke-width="0.1">READ</text>
<text x="417.82" y="220.8" font-size="7" text-anchor="end" fill="#505050" font-family="'Liberation Sans', sans-serif" transform="rotate(-45 417.82 220.8)" stroke="#505050" stroke-width="0.1">SARC</text>
<text x="431.29" y="220.8" font-size="7" text-anchor="end" fill="#505050" font-family="'Liberation Sans', sans-serif" transform="rotate(-45 431.29 220.8)" stroke="#505050" stroke-width="0.1">SKCM</text>
<text x="444.76" y="220.8" font-size="7" text-anchor="end" fill="#505050" font-family="'Liberation Sans', sans-serif" transform="rotate(-45 444.76 220.8)" stroke="#505050" stroke-width="0.1">STAD</text>
<text x="458.23" y="220.8" font-size="7" text-anchor="end" fill="#505050" font-family="'Liberation Sans', sans-serif" transform="rotate(-45 458.23 220.8)" stroke="#505050" stroke-width="0.1">THCA</text>
<text x="471.7" y="220.8" font-size="7" text-anchor="end" fill="#505050" font-family="'Liberation Sans', sans-serif" transform="rotate(-45 471.7 220.8)" stroke="#505050" stroke-width="0.1">THYM</text>
<text x="485.17" y="220.8" font-size="7" text-anchor="end" fill="#505050" font-family="'Liberation Sans', sans-serif" transform="rotate(-45 485.17 220.8)" stroke="#505050" stroke-width="0.1">UCEC</text>
<text x="498.64" y="220.8" font-size="7" text-anchor="end" fill="#505050" font-family="'Liberation Sans', sans-serif" transform="rotate(-45 498.64 220.8)" stroke="#505050" stroke-width="0.1">UCS</text>
<text x="512.11" y="220.8" font-size="7" text-anchor="end" fill="#505050" font-family="'Liberation Sans', sans-serif" transform="rotate(-45 512.11 220.8)" stroke="#505050" stroke-width="0.1">UVM</text>
<defs><linearGradient id="cbB" x1="0" y1="0" x2="0" y2="1"><stop offset="0" stop-color="#f24a4a"/><stop offset="0.5" stop-color="#ffffff"/><stop offset="1" stop-color="#1a6ee8"/></linearGradient></defs>
<rect x="522" y="193.4" width="5.6" height="29.3" fill="url(#cbB)" stroke="none" stroke-width="1"/>
<text x="521.7" y="191.4" font-size="3.7" text-anchor="start" fill="#333" font-family="'Liberation Sans', sans-serif" stroke="#333" stroke-width="0.12">log10(HR)</text>
<text x="529.2" y="201.4" font-size="3.4" text-anchor="start" fill="#333" font-family="'Liberation Sans', sans-serif" stroke="#333" stroke-width="0.12">0.2</text>
<text x="529.2" y="209.5" font-size="3.4" text-anchor="start" fill="#333" font-family="'Liberation Sans', sans-serif" stroke="#333" stroke-width="0.12">0.0</text>
<text x="529.2" y="217.1" font-size="3.4" text-anchor="start" fill="#333" font-family="'Liberation Sans', sans-serif" stroke="#333" stroke-width="0.12">-0.2</text>
<text x="21.8" y="387.2" font-size="6.8" text-anchor="start" fill="#000" font-family="'Liberation Sans', sans-serif" font-weight="bold">G</text>
<text x="80.6" y="404.3" font-size="4.8" text-anchor="end" fill="#444" font-family="'Liberation Sans', sans-serif" stroke="#444" stroke-width="0.08">ENSG00000156466.9</text>
<text x="80.6" y="409.6" font-size="4.8" text-anchor="end" fill="#444" font-family="'Liberation Sans', sans-serif" stroke="#444" stroke-width="0.08">(GDF6)</text>
<rect x="84.2" y="398.6" width="13.62" height="13.4" fill="#fdd8d4" stroke="none" stroke-width="1"/>
<rect x="97.67" y="398.6" width="13.62" height="13.4" fill="#ffffff" stroke="none" stroke-width="1"/>
<rect x="111.14" y="398.6" width="13.62" height="13.4" fill="#c8d4fc" stroke="none" stroke-width="1"/>
<rect x="124.61" y="398.6" width="13.62" height="13.4" fill="#dce4fe" stroke="none" stroke-width="1"/>
<rect x="138.08" y="398.6" width="13.62" height="13.4" fill="#78a0f4" stroke="none" stroke-width="1"/>
<rect x="151.55" y="398.6" width="13.62" height="13.4" fill="#fdd0cc" stroke="none" stroke-width="1"/>
<rect x="165.02" y="398.6" width="13.62" height="13.4" fill="#b4c4fa" stroke="none" stroke-width="1"/>
<rect x="178.49" y="398.6" width="13.62" height="13.4" fill="#fdeeea" stroke="none" stroke-width="1"/>
<rect x="191.96" y="398.6" width="13.62" height="13.4" fill="#fde8e4" stroke="none" stroke-width="1"/>
<rect x="205.43" y="398.6" width="13.62" height="13.4" fill="#ffffff" stroke="none" stroke-width="1"/>
<rect x="218.9" y="398.6" width="13.62" height="13.4" fill="#c8d4fa" stroke="none" stroke-width="1"/>
<rect x="232.37" y="398.6" width="13.62" height="13.4" fill="#d8e0fc" stroke="none" stroke-width="1"/>
<rect x="245.84" y="398.6" width="13.62" height="13.4" fill="#fc6060" stroke="none" stroke-width="1"/>
<rect x="259.31" y="398.6" width="13.62" height="13.4" fill="#eaf0fe" stroke="none" stroke-width="1"/>
<rect x="272.78" y="398.6" width="13.62" height="13.4" fill="#c0ccf8" stroke="none" stroke-width="1"/>
<rect x="286.25" y="398.6" width="13.62" height="13.4" fill="#fdd8d4" stroke="none" stroke-width="1"/>
<rect x="299.72" y="398.6" width="13.62" height="13.4" fill="#f2f4fe" stroke="none" stroke-width="1"/>
<rect x="313.19" y="398.6" width="13.62" height="13.4" fill="#fdc8c4" stroke="none" stroke-width="1"/>
<rect x="326.66" y="398.6" width="13.62" height="13.4" fill="#fde0dc" stroke="none" stroke-width="1"/>
<rect x="340.13" y="398.6" width="13.62" height="13.4" fill="#fdd4d0" stroke="none" stroke-width="1"/>
<rect x="353.6" y="398.6" width="13.62" height="13.4" fill="#fdd4d0" stroke="none" stroke-width="1"/>
<rect x="367.07" y="398.6" width="13.62" height="13.4" fill="#fde8e4" stroke="none" stroke-width="1"/>
<rect x="380.54" y="398.6" width="13.62" height="13.4" fill="#fcc0bc" stroke="none" stroke-width="1"/>
<rect x="394.01" y="398.6" width="13.62" height="13.4" fill="#d4defc" stroke="none" stroke-width="1"/>
<rect x="407.48" y="398.6" width="13.62" height="13.4" fill="#f4f6fe" stroke="none" stroke-width="1"/>
<rect x="420.95" y="398.6" width="13.62" height="13.4" fill="#fcbcb8" stroke="none" stroke-width="1"/>
<rect x="434.42" y="398.6" width="13.62" height="13.4" fill="#fdd4d0" stroke="none" stroke-width="1"/>
<rect x="447.89" y="398.6" width="13.62" height="13.4" fill="#d8e0fc" stroke="none" stroke-width="1"/>
<rect x="461.36" y="398.6" width="13.62" height="13.4" fill="#fcc0bc" stroke="none" stroke-width="1"/>
<rect x="474.83" y="398.6" width="13.62" height="13.4" fill="#fde4e0" stroke="none" stroke-width="1"/>
<rect x="488.3" y="398.6" width="13.62" height="13.4" fill="#f6f8fe" stroke="none" stroke-width="1"/>
<rect x="501.77" y="398.6" width="13.62" height="13.4" fill="#fcc4c0" stroke="none" stroke-width="1"/>
<rect x="246.34" y="399.1" width="12.47" height="12.4" fill="none" stroke="#c82020" stroke-width="1"/>
<rect x="273.28" y="399.1" width="12.47" height="12.4" fill="none" stroke="#3040b8" stroke-width="1"/>
<rect x="286.75" y="399.1" width="12.47" height="12.4" fill="none" stroke="#d03030" stroke-width="1"/>
<rect x="421.45" y="399.1" width="12.47" height="12.4" fill="none" stroke="#c03030" stroke-width="1"/>
<text x="95.53" y="419.8" font-size="7" text-anchor="end" fill="#505050" font-family="'Liberation Sans', sans-serif" transform="rotate(-45 95.53 419.8)" stroke="#505050" stroke-width="0.1">ACC</text>
<text x="109" y="419.8" font-size="7" text-anchor="end" fill="#505050" font-family="'Liberation Sans', sans-serif" transform="rotate(-45 109 419.8)" stroke="#505050" stroke-width="0.1">BLCA</text>
<text x="122.47" y="419.8" font-size="7" text-anchor="end" fill="#505050" font-family="'Liberation Sans', sans-serif" transform="rotate(-45 122.47 419.8)" stroke="#505050" stroke-width="0.1">BRCA</text>
<text x="135.95" y="419.8" font-size="7" text-anchor="end" fill="#505050" font-family="'Liberation Sans', sans-serif" transform="rotate(-45 135.95 419.8)" stroke="#505050" stroke-width="0.1">CESC</text>
<text x="149.42" y="419.8" font-size="7" text-anchor="end" fill="#505050" font-family="'Liberation Sans', sans-serif" transform="rotate(-45 149.42 419.8)" stroke="#505050" stroke-width="0.1">CHOL</text>
<text x="162.89" y="419.8" font-size="7" text-anchor="end" fill="#505050" font-family="'Liberation Sans', sans-serif" transform="rotate(-45 162.89 419.8)" stroke="#505050" stroke-width="0.1">COAD</text>
<text x="176.36" y="419.8" font-size="7" text-anchor="end" fill="#505050" font-family="'Liberation Sans', sans-serif" transform="rotate(-45 176.36 419.8)" stroke="#505050" stroke-width="0.1">DLBC</text>
<text x="189.83" y="419.8" font-size="7" text-anchor="end" fill="#505050" font-family="'Liberation Sans', sans-serif" transform="rotate(-45 189.83 419.8)" stroke="#505050" stroke-width="0.1">ESCA</text>
<text x="203.3" y="419.8" font-size="7" text-anchor="end" fill="#505050" font-family="'Liberation Sans', sans-serif" transform="rotate(-45 203.3 419.8)" stroke="#505050" stroke-width="0.1">GBM</text>
<text x="216.77" y="419.8" font-size="7" text-anchor="end" fill="#505050" font-family="'Liberation Sans', sans-serif" transform="rotate(-45 216.77 419.8)" stroke="#505050" stroke-width="0.1">HNSC</text>
<text x="230.24" y="419.8" font-size="7" text-anchor="end" fill="#505050" font-family="'Liberation Sans', sans-serif" transform="rotate(-45 230.24 419.8)" stroke="#505050" stroke-width="0.1">KICH</text>
<text x="243.71" y="419.8" font-size="7" text-anchor="end" fill="#505050" font-family="'Liberation Sans', sans-serif" transform="rotate(-45 243.71 419.8)" stroke="#505050" stroke-width="0.1">KIRC</text>
<text x="257.18" y="419.8" font-size="7" text-anchor="end" fill="#505050" font-family="'Liberation Sans', sans-serif" transform="rotate(-45 257.18 419.8)" stroke="#505050" stroke-width="0.1">KIRP</text>
<text x="270.65" y="419.8" font-size="7" text-anchor="end" fill="#505050" font-family="'Liberation Sans', sans-serif" transform="rotate(-45 270.65 419.8)" stroke="#505050" stroke-width="0.1">LGG</text>
<text x="284.12" y="419.8" font-size="7" text-anchor="end" fill="#505050" font-family="'Liberation Sans', sans-serif" transform="rotate(-45 284.12 419.8)" stroke="#505050" stroke-width="0.1">LIHC</text>
<text x="297.59" y="419.8" font-size="7" text-anchor="end" fill="#505050" font-family="'Liberation Sans', sans-serif" transform="rotate(-45 297.59 419.8)" stroke="#505050" stroke-width="0.1">LUAD</text>
<text x="311.06" y="419.8" font-size="7" text-anchor="end" fill="#505050" font-family="'Liberation Sans', sans-serif" transform="rotate(-45 311.06 419.8)" stroke="#505050" stroke-width="0.1">LUSC</text>
<text x="324.53" y="419.8" font-size="7" text-anchor="end" fill="#505050" font-family="'Liberation Sans', sans-serif" transform="rotate(-45 324.53 419.8)" stroke="#505050" stroke-width="0.1">MESO</text>
<text x="338" y="419.8" font-size="7" text-anchor="end" fill="#505050" font-family="'Liberation Sans', sans-serif" transform="rotate(-45 338 419.8)" stroke="#505050" stroke-width="0.1">OV</text>
<text x="351.47" y="419.8" font-size="7" text-anchor="end" fill="#505050" font-family="'Liberation Sans', sans-serif" transform="rotate(-45 351.47 419.8)" stroke="#505050" stroke-width="0.1">PAAD</text>
<text x="364.94" y="419.8" font-size="7" text-anchor="end" fill="#505050" font-family="'Liberation Sans', sans-serif" transform="rotate(-45 364.94 419.8)" stroke="#505050" stroke-width="0.1">PCPG</text>
<text x="378.41" y="419.8" font-size="7" text-anchor="end" fill="#505050" font-family="'Liberation Sans', sans-serif" transform="rotate(-45 378.41 419.8)" stroke="#505050" stroke-width="0.1">PRAD</text>
<text x="391.88" y="419.8" font-size="7" text-anchor="end" fill="#505050" font-family="'Liberation Sans', sans-serif" transform="rotate(-45 391.88 419.8)" stroke="#505050" stroke-width="0.1">READ</text>
<text x="405.35" y="419.8" font-size="7" text-anchor="end" fill="#505050" font-family="'Liberation Sans', sans-serif" transform="rotate(-45 405.35 419.8)" stroke="#505050" stroke-width="0.1">SARC</text>
<text x="418.82" y="419.8" font-size="7" text-anchor="end" fill="#505050" font-family="'Liberation Sans', sans-serif" transform="rotate(-45 418.82 419.8)" stroke="#505050" stroke-width="0.1">SKCM</text>
<text x="432.29" y="419.8" font-size="7" text-anchor="end" fill="#505050" font-family="'Liberation Sans', sans-serif" transform="rotate(-45 432.29 419.8)" stroke="#505050" stroke-width="0.1">STAD</text>
<text x="445.76" y="419.8" font-size="7" text-anchor="end" fill="#505050" font-family="'Liberation Sans', sans-serif" transform="rotate(-45 445.76 419.8)" stroke="#505050" stroke-width="0.1">TGCT</text>
<text x="459.23" y="419.8" font-size="7" text-anchor="end" fill="#505050" font-family="'Liberation Sans', sans-serif" transform="rotate(-45 459.23 419.8)" stroke="#505050" stroke-width="0.1">THCA</text>
<text x="472.7" y="419.8" font-size="7" text-anchor="end" fill="#505050" font-family="'Liberation Sans', sans-serif" transform="rotate(-45 472.7 419.8)" stroke="#505050" stroke-width="0.1">THYM</text>
<text x="486.17" y="419.8" font-size="7" text-anchor="end" fill="#505050" font-family="'Liberation Sans', sans-serif" transform="rotate(-45 486.17 419.8)" stroke="#505050" stroke-width="0.1">UCEC</text>
<text x="499.64" y="419.8" font-size="7" text-anchor="end" fill="#505050" font-family="'Liberation Sans', sans-serif" transform="rotate(-45 499.64 419.8)" stroke="#505050" stroke-width="0.1">UCS</text>
<text x="513.11" y="419.8" font-size="7" text-anchor="end" fill="#505050" font-family="'Liberation Sans', sans-serif" transform="rotate(-45 513.11 419.8)" stroke="#505050" stroke-width="0.1">UVM</text>
<defs><linearGradient id="cbG" x1="0" y1="0" x2="0" y2="1"><stop offset="0" stop-color="#f24a4a"/><stop offset="0.5" stop-color="#ffffff"/><stop offset="1" stop-color="#1a6ee8"/></linearGradient></defs>
<rect x="522.7" y="392.2" width="5.6" height="28.5" fill="url(#cbG)" stroke="none" stroke-width="1"/>
<text x="522.4" y="390.2" font-size="3.7" text-anchor="start" fill="#333" font-family="'Liberation Sans', sans-serif" stroke="#333" stroke-width="0.12">log10(HR)</text>
<text x="529.9" y="400.1" font-size="3.4" text-anchor="start" fill="#333" font-family="'Liberation Sans', sans-serif" stroke="#333" stroke-width="0.12">0.5</text>
<text x="529.9" y="407.8" font-size="3.4" text-anchor="start" fill="#333" font-family="'Liberation Sans', sans-serif" stroke="#333" stroke-width="0.12">0.0</text>
<text x="529.9" y="414.1" font-size="3.4" text-anchor="start" fill="#333" font-family="'Liberation Sans', sans-serif" stroke="#333" stroke-width="0.12">-0.5</text>
<text x="51.2" y="255.6" font-size="7" text-anchor="start" fill="#000" font-family="'Liberation Sans', sans-serif" font-weight="bold">C</text>
<text x="112.7" y="249.2" font-size="7" text-anchor="middle" fill="#111" font-family="'Liberation Sans', sans-serif" stroke="#111" stroke-width="0.12">KIRC</text>
<text x="119.7" y="255.8" font-size="6.1" text-anchor="middle" fill="#222" font-family="'Liberation Sans', sans-serif" stroke="#222" stroke-width="0.12">Overall Survival</text>
<rect x="70.8" y="257.4" width="97.4" height="93" fill="none" stroke="#9a9a9a" stroke-width="0.8"/>
<line x1="68.4" y1="346.8" x2="70.8" y2="346.8" stroke="#777" stroke-width="0.5"/>
<text x="64.7" y="346.8" font-size="4.4" text-anchor="middle" fill="#333" font-family="'Liberation Sans', sans-serif" transform="rotate(-90 64.7 346.8)" stroke="#333" stroke-width="0.15">0.0</text>
<line x1="68.4" y1="329.64" x2="70.8" y2="329.64" stroke="#777" stroke-width="0.5"/>
<text x="64.7" y="329.64" font-size="4.4" text-anchor="middle" fill="#333" font-family="'Liberation Sans', sans-serif" transform="rotate(-90 64.7 329.64)" stroke="#333" stroke-width="0.15">0.2</text>
<line x1="68.4" y1="312.48" x2="70.8" y2="312.48" stroke="#777" stroke-width="0.5"/>
<text x="64.7" y="312.48" font-size="4.4" text-anchor="middle" fill="#333" font-family="'Liberation Sans', sans-serif" transform="rotate(-90 64.7 312.48)" stroke="#333" stroke-width="0.15">0.4</text>
<line x1="68.4" y1="295.32" x2="70.8" y2="295.32" stroke="#777" stroke-width="0.5"/>
<text x="64.7" y="295.32" font-size="4.4" text-anchor="middle" fill="#333" font-family="'Liberation Sans', sans-serif" transform="rotate(-90 64.7 295.32)" stroke="#333" stroke-width="0.15">0.6</text>
<line x1="68.4" y1="278.16" x2="70.8" y2="278.16" stroke="#777" stroke-width="0.5"/>
<text x="64.7" y="278.16" font-size="4.4" text-anchor="middle" fill="#333" font-family="'Liberation Sans', sans-serif" transform="rotate(-90 64.7 278.16)" stroke="#333" stroke-width="0.15">0.8</text>
<line x1="68.4" y1="261" x2="70.8" y2="261" stroke="#777" stroke-width="0.5"/>
<text x="64.7" y="261" font-size="4.4" text-anchor="middle" fill="#333" font-family="'Liberation Sans', sans-serif" transform="rotate(-90 64.7 261)" stroke="#333" stroke-width="0.15">1.0</text>
<text x="58.4" y="303.9" font-size="5.4" text-anchor="middle" fill="#222" font-family="'Liberation Sans', sans-serif" transform="rotate(-90 58.4 303.9)" stroke="#222" stroke-width="0.12">Percent survival</text>
<line x1="71" y1="350.4" x2="71" y2="352.8" stroke="#777" stroke-width="0.5"/>
<text x="71" y="359" font-size="4.5" text-anchor="middle" fill="#333" font-family="'Liberation Sans', sans-serif" stroke="#333" stroke-width="0.15">0</text>
<line x1="102.2" y1="350.4" x2="102.2" y2="352.8" stroke="#777" stroke-width="0.5"/>
<text x="102.2" y="359" font-size="4.5" text-anchor="middle" fill="#333" font-family="'Liberation Sans', sans-serif" stroke="#333" stroke-width="0.15">50</text>
<line x1="132.8" y1="350.4" x2="132.8" y2="352.8" stroke="#777" stroke-width="0.5"/>
<text x="132.8" y="359" font-size="4.5" text-anchor="middle" fill="#333" font-family="'Liberation Sans', sans-serif" stroke="#333" stroke-width="0.15">100</text>
<line x1="163.5" y1="350.4" x2="163.5" y2="352.8" stroke="#777" stroke-width="0.5"/>
<text x="163.5" y="359" font-size="4.5" text-anchor="middle" fill="#333" font-family="'Liberation Sans', sans-serif" stroke="#333" stroke-width="0.15">150</text>
<text x="119.5" y="365.8" font-size="5.6" text-anchor="middle" fill="#222" font-family="'Liberation Sans', sans-serif" stroke="#222" stroke-width="0.12">Months</text>
<polyline points="71.2,260.7 72.96,260.7 72.96,262.02 74.72,262.02 74.72,263.35 76.45,263.35 76.45,264.68 78,264.68 78,266 79.54,266 79.54,267.3 80.82,267.3 80.82,268.6 82.25,268.6 82.25,269.9 83.25,269.9 83.25,271.2 84.79,271.2 84.79,272.5 86.34,272.5 86.34,273.8 87.58,273.8 87.58,275.1 89.04,275.1 89.04,276.4 90.08,276.4 90.08,277.7 91.6,277.7 91.6,279 93.35,279 93.35,280.43 95.01,280.43 95.01,281.86 96.94,281.86 96.94,283.29 98.73,283.29 98.73,284.71 100.2,284.71 100.2,286.14 102.08,286.14 102.08,287.57 104,287.57 104,289 105.71,289 105.71,290.33 107.9,290.33 107.9,291.67 109.65,291.67 109.65,293 111.15,293 111.15,294.33 113.33,294.33 113.33,295.67 115,295.67 115,297 117.32,297 117.32,298.2 120.29,298.2 120.29,299.4 122.51,299.4 122.51,300.6 125.01,300.6 125.01,301.8 128,301.8 128,303 145,303 147.78,303 147.78,303.12 149.78,303.12 149.78,303.25 152.29,303.25 152.29,303.38 155.36,303.38 155.36,303.5 157.78,303.5 157.78,303.62 159.84,303.62 159.84,303.75 162.85,303.75 162.85,303.88 165,303.88 165,304" fill="none" stroke="#c4c4f8" stroke-width="0.6"/>
<polyline points="71.2,260.7 71.9,260.7 71.9,262.03 72.62,262.03 72.62,263.37 73.22,263.37 73.22,264.7 74.07,264.7 74.07,266.03 74.71,266.03 74.71,267.37 75.46,267.37 75.46,268.7 76.14,268.7 76.14,270.03 76.7,270.03 76.7,271.37 77.41,271.37 77.41,272.7 78.06,272.7 78.06,274.03 78.75,274.03 78.75,275.37 79.43,275.37 79.43,276.7 80.17,276.7 80.17,278.03 80.93,278.03 80.93,279.37 81.6,279.37 81.6,280.7 82.9,280.7 82.9,282.01 84.73,282.01 84.73,283.32 86.09,283.32 86.09,284.63 87.6,284.63 87.6,285.94 89.36,285.94 89.36,287.26 90.72,287.26 90.72,288.57 92.17,288.57 92.17,289.88 93.77,289.88 93.77,291.19 95.3,291.19 95.3,292.5 96.79,292.5 96.79,293.82 97.93,293.82 97.93,295.14 99.72,295.14 99.72,296.46 100.73,296.46 100.73,297.79 102.44,297.79 102.44,299.11 103.89,299.11 103.89,300.43 104.95,300.43 104.95,301.75 106.68,301.75 106.68,303.07 107.91,303.07 107.91,304.39 109.4,304.39 109.4,305.71 110.57,305.71 110.57,307.04 111.99,307.04 111.99,308.36 113.46,308.36 113.46,309.68 115,309.68 115,311 118.41,311 118.41,312.5 120.73,312.5 120.73,314 124.23,314 124.23,315.5 127,315.5 127,317 127.56,317 127.56,318.67 128.07,318.67 128.07,320.33 128.5,320.33 128.5,322 145,322 145.5,333 165,333" fill="none" stroke="#c4c4f8" stroke-width="0.6"/>
<polyline points="71.2,260.7 73.04,260.7 73.04,262.13 74.98,262.13 74.98,263.57 77,263.57 77,265 79.27,265 79.27,266.5 81.69,266.5 81.69,268 83.49,268 83.49,269.5 86,269.5 86,271 88.76,271 88.76,272.43 91.37,272.43 91.37,273.86 93.99,273.86 93.99,275.29 95.93,275.29 95.93,276.71 99.2,276.71 99.2,278.14 101.11,278.14 101.11,279.57 104,279.57 104,281 106.62,281 106.62,281.5 109.59,281.5 109.59,282 112.59,282 112.59,282.5 115,282.5 115,283 117.38,283 117.38,284.25 120.32,284.25 120.32,285.5 122.53,285.5 122.53,286.75 125,286.75 125,288 145,288 147.52,288 147.52,289.33 150.19,289.33 150.19,290.67 153,290.67 153,292 154.81,292 154.81,293.42 156.75,293.42 156.75,294.83 158.79,294.83 158.79,296.25 161.11,296.25 161.11,297.67 163.3,297.67 163.3,299.08 165,299.08 165,300.5" fill="none" stroke="#f8c4c4" stroke-width="0.6"/>
<polyline points="71.2,260.7 72.19,260.7 72.19,262.11 73.25,262.11 73.25,263.52 74.66,263.52 74.66,264.94 75.61,264.94 75.61,266.35 76.67,266.35 76.67,267.76 77.71,267.76 77.71,269.18 78.93,269.18 78.93,270.59 80,270.59 80,272 81.65,272 81.65,273.3 82.98,273.3 82.98,274.6 84.46,274.6 84.46,275.9 85.8,275.9 85.8,277.2 87.69,277.2 87.69,278.5 88.79,278.5 88.79,279.8 90.5,279.8 90.5,281.1 92.15,281.1 92.15,282.4 93.33,282.4 93.33,283.7 95,283.7 95,285 97.67,285 97.67,286.25 100.34,286.25 100.34,287.5 102.6,287.5 102.6,288.75 105.22,288.75 105.22,290 107.2,290 107.2,291.25 109.95,291.25 109.95,292.5 112.24,292.5 112.24,293.75 115,293.75 115,295 117.21,295 117.21,296.5 118.88,296.5 118.88,298 120.97,298 120.97,299.5 123.3,299.5 123.3,301 125,301 125,302.5 145,302.5 145.5,310 152,310" fill="none" stroke="#f8c4c4" stroke-width="0.6"/>
<polyline points="71.2,260.7 72.83,260.7 72.83,262.3 74.36,262.3 74.36,263.9 75.6,263.9 75.6,265.5 77.1,265.5 77.1,267.1 78.69,267.1 78.69,268.7 80.41,268.7 80.41,270.3 81.89,270.3 81.89,271.9 83.5,271.9 83.5,273.5 85.4,273.5 85.4,274.98 87.49,274.98 87.49,276.45 89.36,276.45 89.36,277.92 91.6,277.92 91.6,279.4 93.65,279.4 93.65,280.3 96.18,280.3 96.18,281.2 98,281.2 98,282.1 100.84,282.1 100.84,283 103,283 103,283.9 103.62,283.9 103.62,285.27 104.2,285.27 104.2,286.63 104.8,286.63 104.8,288 106.67,288 106.67,288.17 108.49,288.17 108.49,288.33 110.7,288.33 110.7,288.5 112.84,288.5 112.84,288.95 115.3,288.95 115.3,289.4 117.85,289.4 117.85,290.7 120,290.7 120,292 121.85,292 121.85,293.5 123.26,293.5 123.26,295 125,295 125,296.5 143.5,296.5 143.86,296.5 143.86,297.83 144.19,297.83 144.19,299.17 144.5,299.17 144.5,300.5 153,300.5" fill="none" stroke="#f02a2a" stroke-width="1.1" stroke-linejoin="miter"/>
<line x1="71.6" y1="259.8" x2="71.6" y2="261.6" stroke="#f02a2a" stroke-width="0.5"/>
<line x1="74.76" y1="263" x2="74.76" y2="264.8" stroke="#f02a2a" stroke-width="0.5"/>
<line x1="77.5" y1="266.2" x2="77.5" y2="268" stroke="#f02a2a" stroke-width="0.5"/>
<line x1="80.81" y1="269.4" x2="80.81" y2="271.2" stroke="#f02a2a" stroke-width="0.5"/>
<line x1="83.9" y1="272.6" x2="83.9" y2="274.4" stroke="#f02a2a" stroke-width="0.5"/>
<line x1="87.89" y1="275.55" x2="87.89" y2="277.35" stroke="#f02a2a" stroke-width="0.5"/>
<line x1="92" y1="278.5" x2="92" y2="280.3" stroke="#f02a2a" stroke-width="0.5"/>
<line x1="96.58" y1="280.3" x2="96.58" y2="282.1" stroke="#f02a2a" stroke-width="0.5"/>
<line x1="101.24" y1="282.1" x2="101.24" y2="283.9" stroke="#f02a2a" stroke-width="0.5"/>
<line x1="107.07" y1="287.27" x2="107.07" y2="289.07" stroke="#f02a2a" stroke-width="0.5"/>
<line x1="111.1" y1="287.6" x2="111.1" y2="289.4" stroke="#f02a2a" stroke-width="0.5"/>
<line x1="115.7" y1="288.5" x2="115.7" y2="290.3" stroke="#f02a2a" stroke-width="0.5"/>
<line x1="120.4" y1="291.1" x2="120.4" y2="292.9" stroke="#f02a2a" stroke-width="0.5"/>
<line x1="123.66" y1="294.1" x2="123.66" y2="295.9" stroke="#f02a2a" stroke-width="0.5"/>
<line x1="144.9" y1="299.6" x2="144.9" y2="301.4" stroke="#f02a2a" stroke-width="0.5"/>
<polyline points="71.2,260.7 72.23,260.7 72.23,262.07 73.19,262.07 73.19,263.44 74.19,263.44 74.19,264.81 75.05,264.81 75.05,266.19 76.12,266.19 76.12,267.56 76.96,267.56 76.96,268.93 78,268.93 78,270.3 79.59,270.3 79.59,271.77 81.33,271.77 81.33,273.25 82.89,273.25 82.89,274.73 84.4,274.73 84.4,276.2 85.53,276.2 85.53,277.57 86.96,277.57 86.96,278.93 88.05,278.93 88.05,280.3 89.23,280.3 89.23,281.67 90.22,281.67 90.22,283.03 91.6,283.03 91.6,284.4 93.76,284.4 93.76,286.07 95.71,286.07 95.71,287.73 98,287.73 98,289.4 99.35,289.4 99.35,290.76 100.55,290.76 100.55,292.12 101.96,292.12 101.96,293.48 103.18,293.48 103.18,294.84 104.4,294.84 104.4,296.2 106.36,296.2 106.36,296.8 107.92,296.8 107.92,297.4 109.8,297.4 109.8,298 110.74,298 110.74,299.5 111.66,299.5 111.66,301 112.5,301 112.5,302.5 113.93,302.5 113.93,303.9 115.04,303.9 115.04,305.3 116.53,305.3 116.53,306.7 117.84,306.7 117.84,308.1 119,308.1 119,309.5 127,309.5 127.53,309.5 127.53,311 128.07,311 128.07,312.5 128.5,312.5 128.5,314 144,314 144.38,314 144.38,316.67 144.67,316.67 144.67,319.33 145,319.33 145,322 165,322" fill="none" stroke="#2b2bf0" stroke-width="1.25" stroke-linejoin="miter"/>
<line x1="71.6" y1="259.8" x2="71.6" y2="261.6" stroke="#2b2bf0" stroke-width="0.5"/>
<line x1="73.59" y1="262.54" x2="73.59" y2="264.34" stroke="#2b2bf0" stroke-width="0.5"/>
<line x1="75.45" y1="265.29" x2="75.45" y2="267.09" stroke="#2b2bf0" stroke-width="0.5"/>
<line x1="77.36" y1="268.03" x2="77.36" y2="269.83" stroke="#2b2bf0" stroke-width="0.5"/>
<line x1="79.99" y1="270.88" x2="79.99" y2="272.67" stroke="#2b2bf0" stroke-width="0.5"/>
<line x1="83.29" y1="273.83" x2="83.29" y2="275.62" stroke="#2b2bf0" stroke-width="0.5"/>
<line x1="85.93" y1="276.67" x2="85.93" y2="278.47" stroke="#2b2bf0" stroke-width="0.5"/>
<line x1="88.45" y1="279.4" x2="88.45" y2="281.2" stroke="#2b2bf0" stroke-width="0.5"/>
<line x1="90.62" y1="282.13" x2="90.62" y2="283.93" stroke="#2b2bf0" stroke-width="0.5"/>
<line x1="94.16" y1="285.17" x2="94.16" y2="286.97" stroke="#2b2bf0" stroke-width="0.5"/>
<line x1="98.4" y1="288.5" x2="98.4" y2="290.3" stroke="#2b2bf0" stroke-width="0.5"/>
<line x1="100.95" y1="291.22" x2="100.95" y2="293.02" stroke="#2b2bf0" stroke-width="0.5"/>
<line x1="103.58" y1="293.94" x2="103.58" y2="295.74" stroke="#2b2bf0" stroke-width="0.5"/>
<line x1="106.76" y1="295.9" x2="106.76" y2="297.7" stroke="#2b2bf0" stroke-width="0.5"/>
<line x1="110.2" y1="297.1" x2="110.2" y2="298.9" stroke="#2b2bf0" stroke-width="0.5"/>
<line x1="112.06" y1="300.1" x2="112.06" y2="301.9" stroke="#2b2bf0" stroke-width="0.5"/>
<line x1="114.33" y1="303" x2="114.33" y2="304.8" stroke="#2b2bf0" stroke-width="0.5"/>
<line x1="116.93" y1="305.8" x2="116.93" y2="307.6" stroke="#2b2bf0" stroke-width="0.5"/>
<line x1="119.4" y1="308.6" x2="119.4" y2="310.4" stroke="#2b2bf0" stroke-width="0.5"/>
<line x1="145.4" y1="321.1" x2="145.4" y2="322.9" stroke="#2b2bf0" stroke-width="0.5"/>
<line x1="123.6" y1="262.1" x2="131.8" y2="262.1" stroke="#7070f4" stroke-width="1.2"/>
<line x1="123.6" y1="266.2" x2="131.8" y2="266.2" stroke="#f47070" stroke-width="1.2"/>
<text x="166" y="263.5" font-size="4.1" text-anchor="end" fill="#333" font-family="'Liberation Sans', sans-serif" stroke="#333" stroke-width="0.12">Low GDF6 Group</text>
<text x="166" y="267.6" font-size="4.1" text-anchor="end" fill="#333" font-family="'Liberation Sans', sans-serif" stroke="#333" stroke-width="0.12">High GDF6 Group</text>
<text x="166" y="272.1" font-size="4.1" text-anchor="end" fill="#333" font-family="'Liberation Sans', sans-serif" stroke="#333" stroke-width="0.12">Logrank p=0.0051</text>
<text x="166" y="277.05" font-size="4.1" text-anchor="end" fill="#333" font-family="'Liberation Sans', sans-serif" stroke="#333" stroke-width="0.12">HR(high)=0.63</text>
<text x="166" y="282" font-size="4.1" text-anchor="end" fill="#333" font-family="'Liberation Sans', sans-serif" stroke="#333" stroke-width="0.12">p(HR)=0.0056</text>
<text x="166" y="286.95" font-size="4.1" text-anchor="end" fill="#333" font-family="'Liberation Sans', sans-serif" stroke="#333" stroke-width="0.12">n(high)=204</text>
<text x="166" y="291.9" font-size="4.1" text-anchor="end" fill="#333" font-family="'Liberation Sans', sans-serif" stroke="#333" stroke-width="0.12">n(low)=203</text>
<text x="174.6" y="254.9" font-size="7" text-anchor="start" fill="#000" font-family="'Liberation Sans', sans-serif" font-weight="bold">D</text>
<text x="238.4" y="247.9" font-size="7" text-anchor="middle" fill="#111" font-family="'Liberation Sans', sans-serif" stroke="#111" stroke-width="0.12">KIRP</text>
<text x="245.3" y="256.1" font-size="6.1" text-anchor="middle" fill="#222" font-family="'Liberation Sans', sans-serif" stroke="#222" stroke-width="0.12">Overall Survival</text>
<rect x="196.4" y="257.3" width="98" height="93.6" fill="none" stroke="#9a9a9a" stroke-width="0.8"/>
<line x1="194" y1="347.3" x2="196.4" y2="347.3" stroke="#777" stroke-width="0.5"/>
<text x="190.3" y="347.3" font-size="4.4" text-anchor="middle" fill="#333" font-family="'Liberation Sans', sans-serif" transform="rotate(-90 190.3 347.3)" stroke="#333" stroke-width="0.15">0.0</text>
<line x1="194" y1="330.18" x2="196.4" y2="330.18" stroke="#777" stroke-width="0.5"/>
<text x="190.3" y="330.18" font-size="4.4" text-anchor="middle" fill="#333" font-family="'Liberation Sans', sans-serif" transform="rotate(-90 190.3 330.18)" stroke="#333" stroke-width="0.15">0.2</text>
<line x1="194" y1="313.06" x2="196.4" y2="313.06" stroke="#777" stroke-width="0.5"/>
<text x="190.3" y="313.06" font-size="4.4" text-anchor="middle" fill="#333" font-family="'Liberation Sans', sans-serif" transform="rotate(-90 190.3 313.06)" stroke="#333" stroke-width="0.15">0.4</text>
<line x1="194" y1="295.94" x2="196.4" y2="295.94" stroke="#777" stroke-width="0.5"/>
<text x="190.3" y="295.94" font-size="4.4" text-anchor="middle" fill="#333" font-family="'Liberation Sans', sans-serif" transform="rotate(-90 190.3 295.94)" stroke="#333" stroke-width="0.15">0.6</text>
<line x1="194" y1="278.82" x2="196.4" y2="278.82" stroke="#777" stroke-width="0.5"/>
<text x="190.3" y="278.82" font-size="4.4" text-anchor="middle" fill="#333" font-family="'Liberation Sans', sans-serif" transform="rotate(-90 190.3 278.82)" stroke="#333" stroke-width="0.15">0.8</text>
<line x1="194" y1="261.7" x2="196.4" y2="261.7" stroke="#777" stroke-width="0.5"/>
<text x="190.3" y="261.7" font-size="4.4" text-anchor="middle" fill="#333" font-family="'Liberation Sans', sans-serif" transform="rotate(-90 190.3 261.7)" stroke="#333" stroke-width="0.15">1.0</text>
<text x="184" y="304.1" font-size="5.4" text-anchor="middle" fill="#222" font-family="'Liberation Sans', sans-serif" transform="rotate(-90 184 304.1)" stroke="#222" stroke-width="0.12">Percent survival</text>
<line x1="196.5" y1="350.9" x2="196.5" y2="353.3" stroke="#777" stroke-width="0.5"/>
<text x="196.5" y="359.5" font-size="4.5" text-anchor="middle" fill="#333" font-family="'Liberation Sans', sans-serif" stroke="#333" stroke-width="0.15">0</text>
<line x1="220.3" y1="350.9" x2="220.3" y2="353.3" stroke="#777" stroke-width="0.5"/>
<text x="220.3" y="359.5" font-size="4.5" text-anchor="middle" fill="#333" font-family="'Liberation Sans', sans-serif" stroke="#333" stroke-width="0.15">50</text>
<line x1="244.3" y1="350.9" x2="244.3" y2="353.3" stroke="#777" stroke-width="0.5"/>
<text x="244.3" y="359.5" font-size="4.5" text-anchor="middle" fill="#333" font-family="'Liberation Sans', sans-serif" stroke="#333" stroke-width="0.15">100</text>
<line x1="268.2" y1="350.9" x2="268.2" y2="353.3" stroke="#777" stroke-width="0.5"/>
<text x="268.2" y="359.5" font-size="4.5" text-anchor="middle" fill="#333" font-family="'Liberation Sans', sans-serif" stroke="#333" stroke-width="0.15">150</text>
<line x1="292" y1="350.9" x2="292" y2="353.3" stroke="#777" stroke-width="0.5"/>
<text x="292" y="359.5" font-size="4.5" text-anchor="middle" fill="#333" font-family="'Liberation Sans', sans-serif" stroke="#333" stroke-width="0.15">200</text>
<text x="245.4" y="366.3" font-size="5.6" text-anchor="middle" fill="#222" font-family="'Liberation Sans', sans-serif" stroke="#222" stroke-width="0.12">Months</text>
<polyline points="196.7,261 220,261 222,261 222,263.3 292,263.3" fill="none" stroke="#c4c4f8" stroke-width="0.6"/>
<polyline points="196.7,261 198.29,261 198.29,262.5 199.69,262.5 199.69,264 201.58,264 201.58,265.5 203,265.5 203,267 206.11,267 206.11,267.17 208.48,267.17 208.48,267.33 211.41,267.33 211.41,267.5 214.18,267.5 214.18,267.67 216.94,267.67 216.94,267.83 219.5,267.83 219.5,268 219.91,268 219.91,274.75 220.44,274.75 220.44,281.5 220.86,281.5 220.86,288.25 221.3,288.25 221.3,295 292,295" fill="none" stroke="#c4c4f8" stroke-width="0.6"/>
<polyline points="196.7,261 200.01,261 200.01,262.5 203,262.5 203,264 205.68,264 205.68,265.5 208.6,265.5 208.6,267 211.48,267 211.48,268.5 214,268.5 214,270 215.21,270 215.21,271.4 216.41,271.4 216.41,272.8 217.5,272.8 217.5,274.2 256,274.2" fill="none" stroke="#f8c4c4" stroke-width="0.6"/>
<polyline points="196.7,261 197.09,261 197.09,262.82 197.56,262.82 197.56,264.64 198.06,264.64 198.06,266.45 198.54,266.45 198.54,268.27 198.93,268.27 198.93,270.09 199.45,270.09 199.45,271.91 199.9,271.91 199.9,273.73 200.27,273.73 200.27,275.55 200.79,275.55 200.79,277.36 201.21,277.36 201.21,279.18 201.7,279.18 201.7,281 202.68,281 202.68,282.5 203.84,282.5 203.84,284 205.04,284 205.04,285.5 206.13,285.5 206.13,287 207.26,287 207.26,288.5 208.5,288.5 208.5,290 210.08,290 210.08,291.67 212.15,291.67 212.15,293.33 214,293.33 214,295 214.56,295 214.56,296.38 215.19,296.38 215.19,297.77 215.77,297.77 215.77,299.15 216.29,299.15 216.29,300.53 216.99,300.53 216.99,301.92 217.5,301.92 217.5,303.3 256,303.3" fill="none" stroke="#f8c4c4" stroke-width="0.6"/>
<polyline points="196.7,261 198.27,261 198.27,261.7 200.4,261.7 200.4,262.4 200.82,262.4 200.82,265.73 201.24,265.73 201.24,269.07 201.7,269.07 201.7,272.4 203.69,272.4 203.69,272.6 205.8,272.6 205.8,272.8 206.4,272.8 206.4,274.27 207.22,274.27 207.22,275.75 207.8,275.75 207.8,277.23 208.5,277.23 208.5,278.7 210.44,278.7 210.44,278.95 213,278.95 213,279.2 213.52,279.2 213.52,280.6 214,280.6 214,282 217.2,282 217.2,282.4 217.5,290 257,290" fill="none" stroke="#f02a2a" stroke-width="1.1" stroke-linejoin="miter"/>
<line x1="197.1" y1="260.1" x2="197.1" y2="261.9" stroke="#f02a2a" stroke-width="0.5"/>
<line x1="202.1" y1="271.5" x2="202.1" y2="273.3" stroke="#f02a2a" stroke-width="0.5"/>
<line x1="206.8" y1="273.38" x2="206.8" y2="275.17" stroke="#f02a2a" stroke-width="0.5"/>
<line x1="210.84" y1="278.05" x2="210.84" y2="279.85" stroke="#f02a2a" stroke-width="0.5"/>
<line x1="217.9" y1="289.1" x2="217.9" y2="290.9" stroke="#f02a2a" stroke-width="0.5"/>
<polyline points="196.7,261 198.33,261 198.33,261.45 200.4,261.45 200.4,261.9 203,261.9 203,263.7 219.5,263.7 220.4,267.8 221.3,281 292,281" fill="none" stroke="#2b2bf0" stroke-width="1.25" stroke-linejoin="miter"/>
<line x1="197.1" y1="260.1" x2="197.1" y2="261.9" stroke="#2b2bf0" stroke-width="0.5"/>
<line x1="200.8" y1="261" x2="200.8" y2="262.8" stroke="#2b2bf0" stroke-width="0.5"/>
<line x1="221.7" y1="280.1" x2="221.7" y2="281.9" stroke="#2b2bf0" stroke-width="0.5"/>
<line x1="249.8" y1="261.9" x2="258" y2="261.9" stroke="#7070f4" stroke-width="1.2"/>
<line x1="249.8" y1="266" x2="258" y2="266" stroke="#f47070" stroke-width="1.2"/>
<text x="292.2" y="263.3" font-size="4.1" text-anchor="end" fill="#333" font-family="'Liberation Sans', sans-serif" stroke="#333" stroke-width="0.12">Low GDF6 Group</text>
<text x="292.2" y="267.4" font-size="4.1" text-anchor="end" fill="#333" font-family="'Liberation Sans', sans-serif" stroke="#333" stroke-width="0.12">High GDF6 Group</text>
<text x="292.2" y="271.9" font-size="4.1" text-anchor="end" fill="#333" font-family="'Liberation Sans', sans-serif" stroke="#333" stroke-width="0.12">Logrank p=0.015</text>
<text x="292.2" y="276.85" font-size="4.1" text-anchor="end" fill="#333" font-family="'Liberation Sans', sans-serif" stroke="#333" stroke-width="0.12">HR(high)=3.1</text>
<text x="292.2" y="281.8" font-size="4.1" text-anchor="end" fill="#333" font-family="'Liberation Sans', sans-serif" stroke="#333" stroke-width="0.12">p(HR)=0.024</text>
<text x="292.2" y="286.75" font-size="4.1" text-anchor="end" fill="#333" font-family="'Liberation Sans', sans-serif" stroke="#333" stroke-width="0.12">n(high)=78</text>
<text x="292.2" y="291.7" font-size="4.1" text-anchor="end" fill="#333" font-family="'Liberation Sans', sans-serif" stroke="#333" stroke-width="0.12">n(low)=78</text>
<text x="299.4" y="255.2" font-size="7" text-anchor="start" fill="#000" font-family="'Liberation Sans', sans-serif" font-weight="bold">E</text>
<text x="364.2" y="248.8" font-size="7" text-anchor="middle" fill="#111" font-family="'Liberation Sans', sans-serif" stroke="#111" stroke-width="0.12">MESO</text>
<text x="362.8" y="257.7" font-size="6.1" text-anchor="middle" fill="#222" font-family="'Liberation Sans', sans-serif" stroke="#222" stroke-width="0.12">Overall Survival</text>
<rect x="314.2" y="259.3" width="97.4" height="94.9" fill="none" stroke="#9a9a9a" stroke-width="0.8"/>
<line x1="311.8" y1="350.6" x2="314.2" y2="350.6" stroke="#777" stroke-width="0.5"/>
<text x="308.1" y="350.6" font-size="4.4" text-anchor="middle" fill="#333" font-family="'Liberation Sans', sans-serif" transform="rotate(-90 308.1 350.6)" stroke="#333" stroke-width="0.15">0.0</text>
<line x1="311.8" y1="333.14" x2="314.2" y2="333.14" stroke="#777" stroke-width="0.5"/>
<text x="308.1" y="333.14" font-size="4.4" text-anchor="middle" fill="#333" font-family="'Liberation Sans', sans-serif" transform="rotate(-90 308.1 333.14)" stroke="#333" stroke-width="0.15">0.2</text>
<line x1="311.8" y1="315.68" x2="314.2" y2="315.68" stroke="#777" stroke-width="0.5"/>
<text x="308.1" y="315.68" font-size="4.4" text-anchor="middle" fill="#333" font-family="'Liberation Sans', sans-serif" transform="rotate(-90 308.1 315.68)" stroke="#333" stroke-width="0.15">0.4</text>
<line x1="311.8" y1="298.22" x2="314.2" y2="298.22" stroke="#777" stroke-width="0.5"/>
<text x="308.1" y="298.22" font-size="4.4" text-anchor="middle" fill="#333" font-family="'Liberation Sans', sans-serif" transform="rotate(-90 308.1 298.22)" stroke="#333" stroke-width="0.15">0.6</text>
<line x1="311.8" y1="280.76" x2="314.2" y2="280.76" stroke="#777" stroke-width="0.5"/>
<text x="308.1" y="280.76" font-size="4.4" text-anchor="middle" fill="#333" font-family="'Liberation Sans', sans-serif" transform="rotate(-90 308.1 280.76)" stroke="#333" stroke-width="0.15">0.8</text>
<line x1="311.8" y1="263.3" x2="314.2" y2="263.3" stroke="#777" stroke-width="0.5"/>
<text x="308.1" y="263.3" font-size="4.4" text-anchor="middle" fill="#333" font-family="'Liberation Sans', sans-serif" transform="rotate(-90 308.1 263.3)" stroke="#333" stroke-width="0.15">1.0</text>
<text x="303" y="306.75" font-size="5.4" text-anchor="middle" fill="#222" font-family="'Liberation Sans', sans-serif" transform="rotate(-90 303 306.75)" stroke="#222" stroke-width="0.12">Percent survival</text>
<line x1="313.9" y1="354.2" x2="313.9" y2="356.6" stroke="#777" stroke-width="0.5"/>
<text x="313.9" y="362.8" font-size="4.5" text-anchor="middle" fill="#333" font-family="'Liberation Sans', sans-serif" stroke="#333" stroke-width="0.15">0</text>
<line x1="334" y1="354.2" x2="334" y2="356.6" stroke="#777" stroke-width="0.5"/>
<text x="334" y="362.8" font-size="4.5" text-anchor="middle" fill="#333" font-family="'Liberation Sans', sans-serif" stroke="#333" stroke-width="0.15">20</text>
<line x1="354" y1="354.2" x2="354" y2="356.6" stroke="#777" stroke-width="0.5"/>
<text x="354" y="362.8" font-size="4.5" text-anchor="middle" fill="#333" font-family="'Liberation Sans', sans-serif" stroke="#333" stroke-width="0.15">40</text>
<line x1="374.2" y1="354.2" x2="374.2" y2="356.6" stroke="#777" stroke-width="0.5"/>
<text x="374.2" y="362.8" font-size="4.5" text-anchor="middle" fill="#333" font-family="'Liberation Sans', sans-serif" stroke="#333" stroke-width="0.15">60</text>
<line x1="393.8" y1="354.2" x2="393.8" y2="356.6" stroke="#777" stroke-width="0.5"/>
<text x="393.8" y="362.8" font-size="4.5" text-anchor="middle" fill="#333" font-family="'Liberation Sans', sans-serif" stroke="#333" stroke-width="0.15">80</text>
<text x="362.9" y="369.6" font-size="5.6" text-anchor="middle" fill="#222" font-family="'Liberation Sans', sans-serif" stroke="#222" stroke-width="0.12">Months</text>
<polyline points="314.5,263 319,263 319,263.5 321.28,263.5 321.28,264.88 323.39,264.88 323.39,266.25 325.8,266.25 325.8,267.62 328,267.62 328,269 329.07,269 329.07,270.46 329.96,270.46 329.96,271.93 330.79,271.93 330.79,273.39 331.84,273.39 331.84,274.85 332.73,274.85 332.73,276.31 333.59,276.31 333.59,277.77 334.46,277.77 334.46,279.24 335.5,279.24 335.5,280.7 336.16,280.7 336.16,282.03 336.8,282.03 336.8,283.36 337.52,283.36 337.52,284.69 338.16,284.69 338.16,286.01 338.74,286.01 338.74,287.34 339.33,287.34 339.33,288.67 340,288.67 340,290 340.52,290 340.52,293.87 340.86,293.87 340.86,297.73 341.4,297.73 341.4,301.6 342.36,301.6 342.36,302.97 343.59,302.97 343.59,304.33 344.69,304.33 344.69,305.7 345.62,305.7 345.62,307.07 346.86,307.07 346.86,308.43 347.9,308.43 347.9,309.8 350.64,309.8 350.64,311.23 352.71,311.23 352.71,312.65 355.2,312.65 355.2,314.07 357.7,314.07 357.7,315.5 360.1,315.5 360.1,316.66 362.78,316.66 362.78,317.82 365.93,317.82 365.93,318.98 368.09,318.98 368.09,320.14 370.8,320.14 370.8,321.3 372.5,321.3 372.5,322.9 392,322.9" fill="none" stroke="#c4c4f8" stroke-width="0.6"/>
<polyline points="314.5,263 315.13,263 315.13,264.3 315.67,264.3 315.67,265.6 316.17,265.6 316.17,266.9 316.66,266.9 316.66,268.2 317.33,268.2 317.33,269.5 317.8,269.5 317.8,270.8 318.34,270.8 318.34,272.1 318.87,272.1 318.87,273.4 319.53,273.4 319.53,274.7 320,274.7 320,276 320.67,276 320.67,277.33 321.29,277.33 321.29,278.67 322,278.67 322,280 322.59,280 322.59,281.33 323.36,281.33 323.36,282.67 323.99,282.67 323.99,284 324.63,284 324.63,285.33 325.39,285.33 325.39,286.67 326.07,286.67 326.07,288 326.57,288 326.57,289.33 327.34,289.33 327.34,290.67 328,290.67 328,292 328.62,292 328.62,293.33 329.42,293.33 329.42,294.67 330.06,294.67 330.06,296 330.62,296 330.62,297.33 331.29,297.33 331.29,298.67 331.93,298.67 331.93,300 332.76,300 332.76,301.33 333.29,301.33 333.29,302.67 334.02,302.67 334.02,304 334.66,304 334.66,305.33 335.36,305.33 335.36,306.67 336,306.67 336,308 336.56,308 336.56,309.31 337.12,309.31 337.12,310.62 337.55,310.62 337.55,311.92 338.2,311.92 338.2,313.23 338.66,313.23 338.66,314.54 339.24,314.54 339.24,315.85 339.74,315.85 339.74,317.15 340.27,317.15 340.27,318.46 340.85,318.46 340.85,319.77 341.38,319.77 341.38,321.08 341.9,321.08 341.9,322.38 342.5,322.38 342.5,323.69 343,323.69 343,325 343.8,325 343.8,326.33 344.45,326.33 344.45,327.67 345.28,327.67 345.28,329 346.1,329 346.1,330.33 346.99,330.33 346.99,331.67 347.76,331.67 347.76,333 348.46,333 348.46,334.33 349.11,334.33 349.11,335.67 350,335.67 350,337 352.71,337 352.71,338.07 354.95,338.07 354.95,339.13 357.56,339.13 357.56,340.2 360.16,340.2 360.16,341.27 362.6,341.27 362.6,342.33 364.99,342.33 364.99,343.4 367.81,343.4 367.81,344.47 369.91,344.47 369.91,345.53 372.5,345.53 372.5,346.6 392,346.6" fill="none" stroke="#c4c4f8" stroke-width="0.6"/>
<polyline points="314.5,263 316.27,263 316.27,264.67 318.36,264.67 318.36,266.33 320,266.33 320,268 320.55,268 320.55,269.3 321.16,269.3 321.16,270.6 321.86,270.6 321.86,271.9 322.32,271.9 322.32,273.2 323.06,273.2 323.06,274.5 323.64,274.5 323.64,275.8 324.19,275.8 324.19,277.1 324.76,277.1 324.76,278.4 325.45,278.4 325.45,279.7 326,279.7 326,281 326.56,281 326.56,282.36 326.95,282.36 326.95,283.71 327.5,283.71 327.5,285.07 328.01,285.07 328.01,286.43 328.5,286.43 328.5,287.79 328.97,287.79 328.97,289.14 329.45,289.14 329.45,290.5 330.01,290.5 330.01,291.86 330.55,291.86 330.55,293.21 330.94,293.21 330.94,294.57 331.46,294.57 331.46,295.93 332.05,295.93 332.05,297.29 332.54,297.29 332.54,298.64 333,298.64 333,300 333.79,300 333.79,301.33 334.39,301.33 334.39,302.67 335.3,302.67 335.3,304 336.11,304 336.11,305.33 336.86,305.33 336.86,306.67 337.55,306.67 337.55,308 338.15,308 338.15,309.33 339.08,309.33 339.08,310.67 339.69,310.67 339.69,312 340.53,312 340.53,313.33 341.35,313.33 341.35,314.67 342,314.67 342,316 343.86,316 343.86,317.31 345.3,317.31 345.3,318.62 347.12,318.62 347.12,319.93 349.2,319.93 349.2,321.24 350.54,321.24 350.54,322.56 352.52,322.56 352.52,323.87 354.17,323.87 354.17,325.18 355.78,325.18 355.78,326.49 357.7,326.49 357.7,327.8 384,327.8" fill="none" stroke="#f8c4c4" stroke-width="0.6"/>
<polyline points="314.5,263 314.95,263 314.95,264.38 315.32,264.38 315.32,265.75 315.76,265.75 315.76,267.12 316.23,267.12 316.23,268.5 316.63,268.5 316.63,269.88 317.07,269.88 317.07,271.25 317.57,271.25 317.57,272.62 318,272.62 318,274 318.49,274 318.49,275.45 318.96,275.45 318.96,276.91 319.31,276.91 319.31,278.36 319.81,278.36 319.81,279.82 320.25,279.82 320.25,281.27 320.74,281.27 320.74,282.73 321.18,282.73 321.18,284.18 321.7,284.18 321.7,285.64 322.07,285.64 322.07,287.09 322.48,287.09 322.48,288.55 323,288.55 323,290 323.47,290 323.47,292.22 323.84,292.22 323.84,294.44 324.35,294.44 324.35,296.67 324.78,296.67 324.78,298.89 325.28,298.89 325.28,301.11 325.67,301.11 325.67,303.33 326.13,303.33 326.13,305.56 326.52,305.56 326.52,307.78 327,307.78 327,310 327.46,310 327.46,312.1 327.87,312.1 327.87,314.2 328.38,314.2 328.38,316.3 328.8,316.3 328.8,318.4 329.2,318.4 329.2,320.5 329.66,320.5 329.66,322.6 330.13,322.6 330.13,324.7 330.63,324.7 330.63,326.8 331.01,326.8 331.01,328.9 331.5,328.9 331.5,331 332.55,331 332.55,332.32 333.53,332.32 333.53,333.64 334.35,333.64 334.35,334.96 335.51,334.96 335.51,336.28 336.33,336.28 336.33,337.6 337.33,337.6 337.33,338.92 338.46,338.92 338.46,340.24 339.34,340.24 339.34,341.56 340.52,341.56 340.52,342.88 341.4,342.88 341.4,344.2 344,344.2 344,344.68 346.5,344.68 346.5,345.16 349.49,345.16 349.49,345.64 351.51,345.64 351.51,346.12 354.5,346.12 354.5,346.6 357.36,346.6 357.36,346.68 359.5,346.68 359.5,346.76 362.26,346.76 362.26,346.85 365.59,346.85 365.59,346.93 368.05,346.93 368.05,347.01 370.37,347.01 370.37,347.09 372.96,347.09 372.96,347.17 376.33,347.17 376.33,347.25 378.77,347.25 378.77,347.34 381.58,347.34 381.58,347.42 384,347.42 384,347.5" fill="none" stroke="#f8c4c4" stroke-width="0.6"/>
<polyline points="314.5,263 315.33,263 315.33,264.67 316.4,264.67 316.4,266.33 317.3,266.33 317.3,268 317.82,268 317.82,269.46 318.34,269.46 318.34,270.92 318.89,270.92 318.89,272.38 319.48,272.38 319.48,273.84 320,273.84 320,275.3 320.64,275.3 320.64,276.88 321.33,276.88 321.33,278.45 321.95,278.45 321.95,280.03 322.7,280.03 322.7,281.6 323.21,281.6 323.21,283.12 323.65,283.12 323.65,284.63 324.14,284.63 324.14,286.15 324.56,286.15 324.56,287.67 325.08,287.67 325.08,289.18 325.5,289.18 325.5,290.7 325.95,290.7 325.95,292.37 326.41,292.37 326.41,294.03 326.86,294.03 326.86,295.7 327.33,295.7 327.33,297.37 327.74,297.37 327.74,299.03 328.2,299.03 328.2,300.7 328.57,300.7 328.57,304.2 328.99,304.2 328.99,307.7 329.44,307.7 329.44,311.2 329.9,311.2 329.9,314.7 330.7,314.7 330.7,316.14 331.86,316.14 331.86,317.57 332.67,317.57 332.67,319.01 333.67,319.01 333.67,320.45 334.39,320.45 334.39,321.89 335.44,321.89 335.44,323.32 336.48,323.32 336.48,324.76 337.3,324.76 337.3,326.2 338.72,326.2 338.72,327.83 340,327.83 340,329.47 341.4,329.47 341.4,331.1 341.88,331.1 341.88,332.74 342.3,332.74 342.3,334.38 342.79,334.38 342.79,336.02 343.27,336.02 343.27,337.66 343.8,337.66 343.8,339.3 345.53,339.3 345.53,339.46 347.34,339.46 347.34,339.62 349.41,339.62 349.41,339.78 350.81,339.78 350.81,339.94 352.8,339.94 352.8,340.1 353.6,341.7 395.4,341.7 396.2,349.9" fill="none" stroke="#f02a2a" stroke-width="1.1" stroke-linejoin="miter"/>
<line x1="314.9" y1="262.1" x2="314.9" y2="263.9" stroke="#f02a2a" stroke-width="0.5"/>
<line x1="316.8" y1="265.43" x2="316.8" y2="267.23" stroke="#f02a2a" stroke-width="0.5"/>
<line x1="332.26" y1="316.68" x2="332.26" y2="318.47" stroke="#f02a2a" stroke-width="0.5"/>
<line x1="334.79" y1="320.99" x2="334.79" y2="322.79" stroke="#f02a2a" stroke-width="0.5"/>
<line x1="336.88" y1="323.86" x2="336.88" y2="325.66" stroke="#f02a2a" stroke-width="0.5"/>
<line x1="339.12" y1="326.93" x2="339.12" y2="328.73" stroke="#f02a2a" stroke-width="0.5"/>
<line x1="344.2" y1="338.4" x2="344.2" y2="340.2" stroke="#f02a2a" stroke-width="0.5"/>
<line x1="347.74" y1="338.72" x2="347.74" y2="340.52" stroke="#f02a2a" stroke-width="0.5"/>
<line x1="351.21" y1="339.04" x2="351.21" y2="340.84" stroke="#f02a2a" stroke-width="0.5"/>
<polyline points="314.5,263 317.3,263 317.3,265.3 318.13,265.3 318.13,267.1 319.1,267.1 319.1,268.9 320,273 322.7,273 322.7,274 323.6,277.5 326.4,277.5 326.4,279 326.8,279 326.8,280.8 327.22,280.8 327.22,282.6 327.7,282.6 327.7,284.4 330,284.4 330,285.3 330.31,285.3 330.31,287.1 330.64,287.1 330.64,288.9 331,288.9 331,290.7 331.65,290.7 331.65,292.07 332.21,292.07 332.21,293.45 333.03,293.45 333.03,294.82 333.6,294.82 333.6,296.2 334.5,300.3 337.3,300.3 337.3,300.7 337.88,300.7 337.88,302.15 338.58,302.15 338.58,303.6 339.13,303.6 339.13,305.05 339.7,305.05 339.7,306.5 340.5,314.7 341.38,314.7 341.38,316.33 342.16,316.33 342.16,317.97 343,317.97 343,319.6 343.93,319.6 343.93,320.92 344.55,320.92 344.55,322.24 345.5,322.24 345.5,323.56 346.23,323.56 346.23,324.88 347.1,324.88 347.1,326.2 356.1,326.2 356.63,326.2 356.63,327.5 357.13,327.5 357.13,328.8 357.55,328.8 357.55,330.1 358.06,330.1 358.06,331.4 358.6,331.4 358.6,332.7 369.2,332.7 369.77,332.7 369.77,334.18 370.47,334.18 370.47,335.66 371.1,335.66 371.1,337.14 371.82,337.14 371.82,338.62 372.5,338.62 372.5,340.1 408.5,340.1 408.5,349.9" fill="none" stroke="#2b2bf0" stroke-width="1.25" stroke-linejoin="miter"/>
<line x1="314.9" y1="262.1" x2="314.9" y2="263.9" stroke="#2b2bf0" stroke-width="0.5"/>
<line x1="318.53" y1="266.2" x2="318.53" y2="268" stroke="#2b2bf0" stroke-width="0.5"/>
<line x1="324" y1="276.6" x2="324" y2="278.4" stroke="#2b2bf0" stroke-width="0.5"/>
<line x1="332.61" y1="292.55" x2="332.61" y2="294.35" stroke="#2b2bf0" stroke-width="0.5"/>
<line x1="340.9" y1="313.8" x2="340.9" y2="315.6" stroke="#2b2bf0" stroke-width="0.5"/>
<line x1="343.4" y1="318.7" x2="343.4" y2="320.5" stroke="#2b2bf0" stroke-width="0.5"/>
<line x1="346.63" y1="323.98" x2="346.63" y2="325.78" stroke="#2b2bf0" stroke-width="0.5"/>
<line x1="359" y1="331.8" x2="359" y2="333.6" stroke="#2b2bf0" stroke-width="0.5"/>
<line x1="367" y1="262.5" x2="375.2" y2="262.5" stroke="#7070f4" stroke-width="1.2"/>
<line x1="367" y1="266.6" x2="375.2" y2="266.6" stroke="#f47070" stroke-width="1.2"/>
<text x="409.4" y="263.9" font-size="4.1" text-anchor="end" fill="#333" font-family="'Liberation Sans', sans-serif" stroke="#333" stroke-width="0.12">Low GDF6 Group</text>
<text x="409.4" y="268" font-size="4.1" text-anchor="end" fill="#333" font-family="'Liberation Sans', sans-serif" stroke="#333" stroke-width="0.12">High GDF6 Group</text>
<text x="409.4" y="272.5" font-size="4.1" text-anchor="end" fill="#333" font-family="'Liberation Sans', sans-serif" stroke="#333" stroke-width="0.12">Logrank p=0.039</text>
<text x="409.4" y="277.45" font-size="4.1" text-anchor="end" fill="#333" font-family="'Liberation Sans', sans-serif" stroke="#333" stroke-width="0.12">HR(high)=1.8</text>
<text x="409.4" y="282.4" font-size="4.1" text-anchor="end" fill="#333" font-family="'Liberation Sans', sans-serif" stroke="#333" stroke-width="0.12">p(HR)=0.04</text>
<text x="409.4" y="287.35" font-size="4.1" text-anchor="end" fill="#333" font-family="'Liberation Sans', sans-serif" stroke="#333" stroke-width="0.12">n(high)=40</text>
<text x="409.4" y="292.3" font-size="4.1" text-anchor="end" fill="#333" font-family="'Liberation Sans', sans-serif" stroke="#333" stroke-width="0.12">n(low)=41</text>
<text x="423.4" y="255.2" font-size="7" text-anchor="start" fill="#000" font-family="'Liberation Sans', sans-serif" font-weight="bold">F</text>
<text x="488" y="248.8" font-size="7" text-anchor="middle" fill="#111" font-family="'Liberation Sans', sans-serif" stroke="#111" stroke-width="0.12">STAD</text>
<text x="488.7" y="257.3" font-size="6.1" text-anchor="middle" fill="#222" font-family="'Liberation Sans', sans-serif" stroke="#222" stroke-width="0.12">Overall Survival</text>
<rect x="439.5" y="259.5" width="96.9" height="94.7" fill="none" stroke="#9a9a9a" stroke-width="0.8"/>
<line x1="437.1" y1="349.2" x2="439.5" y2="349.2" stroke="#777" stroke-width="0.5"/>
<text x="433.4" y="349.2" font-size="4.4" text-anchor="middle" fill="#333" font-family="'Liberation Sans', sans-serif" transform="rotate(-90 433.4 349.2)" stroke="#333" stroke-width="0.15">0.0</text>
<line x1="437.1" y1="331.94" x2="439.5" y2="331.94" stroke="#777" stroke-width="0.5"/>
<text x="433.4" y="331.94" font-size="4.4" text-anchor="middle" fill="#333" font-family="'Liberation Sans', sans-serif" transform="rotate(-90 433.4 331.94)" stroke="#333" stroke-width="0.15">0.2</text>
<line x1="437.1" y1="314.68" x2="439.5" y2="314.68" stroke="#777" stroke-width="0.5"/>
<text x="433.4" y="314.68" font-size="4.4" text-anchor="middle" fill="#333" font-family="'Liberation Sans', sans-serif" transform="rotate(-90 433.4 314.68)" stroke="#333" stroke-width="0.15">0.4</text>
<line x1="437.1" y1="297.42" x2="439.5" y2="297.42" stroke="#777" stroke-width="0.5"/>
<text x="433.4" y="297.42" font-size="4.4" text-anchor="middle" fill="#333" font-family="'Liberation Sans', sans-serif" transform="rotate(-90 433.4 297.42)" stroke="#333" stroke-width="0.15">0.6</text>
<line x1="437.1" y1="280.16" x2="439.5" y2="280.16" stroke="#777" stroke-width="0.5"/>
<text x="433.4" y="280.16" font-size="4.4" text-anchor="middle" fill="#333" font-family="'Liberation Sans', sans-serif" transform="rotate(-90 433.4 280.16)" stroke="#333" stroke-width="0.15">0.8</text>
<line x1="437.1" y1="262.9" x2="439.5" y2="262.9" stroke="#777" stroke-width="0.5"/>
<text x="433.4" y="262.9" font-size="4.4" text-anchor="middle" fill="#333" font-family="'Liberation Sans', sans-serif" transform="rotate(-90 433.4 262.9)" stroke="#333" stroke-width="0.15">1.0</text>
<text x="427.1" y="306.85" font-size="5.4" text-anchor="middle" fill="#222" font-family="'Liberation Sans', sans-serif" transform="rotate(-90 427.1 306.85)" stroke="#222" stroke-width="0.12">Percent survival</text>
<line x1="439.6" y1="354.2" x2="439.6" y2="356.6" stroke="#777" stroke-width="0.5"/>
<text x="439.6" y="362.8" font-size="4.5" text-anchor="middle" fill="#333" font-family="'Liberation Sans', sans-serif" stroke="#333" stroke-width="0.15">0</text>
<line x1="454.8" y1="354.2" x2="454.8" y2="356.6" stroke="#777" stroke-width="0.5"/>
<text x="454.8" y="362.8" font-size="4.5" text-anchor="middle" fill="#333" font-family="'Liberation Sans', sans-serif" stroke="#333" stroke-width="0.15">20</text>
<line x1="469.8" y1="354.2" x2="469.8" y2="356.6" stroke="#777" stroke-width="0.5"/>
<text x="469.8" y="362.8" font-size="4.5" text-anchor="middle" fill="#333" font-family="'Liberation Sans', sans-serif" stroke="#333" stroke-width="0.15">40</text>
<line x1="485" y1="354.2" x2="485" y2="356.6" stroke="#777" stroke-width="0.5"/>
<text x="485" y="362.8" font-size="4.5" text-anchor="middle" fill="#333" font-family="'Liberation Sans', sans-serif" stroke="#333" stroke-width="0.15">60</text>
<line x1="500.2" y1="354.2" x2="500.2" y2="356.6" stroke="#777" stroke-width="0.5"/>
<text x="500.2" y="362.8" font-size="4.5" text-anchor="middle" fill="#333" font-family="'Liberation Sans', sans-serif" stroke="#333" stroke-width="0.15">80</text>
<line x1="515" y1="354.2" x2="515" y2="356.6" stroke="#777" stroke-width="0.5"/>
<text x="515" y="362.8" font-size="4.5" text-anchor="middle" fill="#333" font-family="'Liberation Sans', sans-serif" stroke="#333" stroke-width="0.15">100</text>
<line x1="530" y1="354.2" x2="530" y2="356.6" stroke="#777" stroke-width="0.5"/>
<text x="530" y="362.8" font-size="4.5" text-anchor="middle" fill="#333" font-family="'Liberation Sans', sans-serif" stroke="#333" stroke-width="0.15">120</text>
<text x="487.95" y="369.6" font-size="5.6" text-anchor="middle" fill="#222" font-family="'Liberation Sans', sans-serif" stroke="#222" stroke-width="0.12">Months</text>
<polyline points="440.1,262.4 441.21,262.4 441.21,263.8 442,263.8 442,265.2 442.96,265.2 442.96,266.6 443.98,266.6 443.98,268 444.89,268 444.89,269.4 446,269.4 446,270.8 446.9,270.8 446.9,272.2 447.88,272.2 447.88,273.65 448.64,273.65 448.64,275.1 449.58,275.1 449.58,276.55 450.61,276.55 450.61,278 451.6,278 451.6,279.45 452.4,279.45 452.4,280.9 453.68,280.9 453.68,282.3 454.83,282.3 454.83,283.7 456.26,283.7 456.26,285.1 457.13,285.1 457.13,286.5 458.38,286.5 458.38,287.9 459.87,287.9 459.87,289.3 461,289.3 461,290.7 463.5,290.7 463.5,291.43 465.78,291.43 465.78,292.17 468.7,292.17 468.7,292.9 471.46,292.9 471.46,293.17 474.55,293.17 474.55,293.45 476.89,293.45 476.89,293.73 479.6,293.73 479.6,294 482.13,294 482.13,294.42 484.58,294.42 484.58,294.83 487.21,294.83 487.21,295.25 490.52,295.25 490.52,295.67 492.84,295.67 492.84,296.08 495.5,296.08 495.5,296.5 534.9,296.5" fill="none" stroke="#c4c4f8" stroke-width="0.6"/>
<polyline points="440.1,262.4 440.66,262.4 440.66,263.8 441.02,263.8 441.02,265.2 441.54,265.2 441.54,266.6 442,266.6 442,268 442.55,268 442.55,269.4 442.99,269.4 442.99,270.8 443.51,270.8 443.51,272.2 444.03,272.2 444.03,273.6 444.51,273.6 444.51,275 444.96,275 444.96,276.4 445.45,276.4 445.45,277.8 446.08,277.8 446.08,279.2 446.46,279.2 446.46,280.6 447,280.6 447,282 448.08,282 448.08,283.3 449.13,283.3 449.13,284.6 450.25,284.6 450.25,285.9 451.19,285.9 451.19,287.2 452.4,287.2 452.4,288.5 453.34,288.5 453.34,289.89 454.27,289.89 454.27,291.28 455.39,291.28 455.39,292.67 456.49,292.67 456.49,294.06 457.38,294.06 457.38,295.45 458.45,295.45 458.45,296.85 459.25,296.85 459.25,298.24 460.18,298.24 460.18,299.63 461.33,299.63 461.33,301.02 462.31,301.02 462.31,302.41 463.3,302.41 463.3,303.8 466.08,303.8 466.08,304.9 468.65,304.9 468.65,306 471.58,306 471.58,307.1 474.2,307.1 474.2,308.2 477.69,308.2 477.69,308.8 481.14,308.8 481.14,309.4 484,309.4 484,310 485.2,310 485.2,311.33 486.54,311.33 486.54,312.67 487.96,312.67 487.96,314 489.01,314 489.01,315.33 490.24,315.33 490.24,316.67 491.59,316.67 491.59,318 492.79,318 492.79,319.33 494.33,319.33 494.33,320.67 495.5,320.67 495.5,322 496,336.5 534.3,336.5" fill="none" stroke="#c4c4f8" stroke-width="0.6"/>
<polyline points="440.1,262.4 440.75,262.4 440.75,263.76 441.25,263.76 441.25,265.12 441.8,265.12 441.8,266.48 442.39,266.48 442.39,267.84 443,267.84 443,269.2 443.57,269.2 443.57,270.56 444.22,270.56 444.22,271.92 444.83,271.92 444.83,273.28 445.36,273.28 445.36,274.64 446,274.64 446,276 446.62,276 446.62,277.39 447.47,277.39 447.47,278.78 448.04,278.78 448.04,280.17 448.78,280.17 448.78,281.56 449.51,281.56 449.51,282.94 450.24,282.94 450.24,284.33 450.89,284.33 450.89,285.72 451.67,285.72 451.67,287.11 452.4,287.11 452.4,288.5 453.34,288.5 453.34,289.89 454.46,289.89 454.46,291.28 455.39,291.28 455.39,292.67 456.48,292.67 456.48,294.06 457.4,294.06 457.4,295.45 458.42,295.45 458.42,296.85 459.36,296.85 459.36,298.24 460.31,298.24 460.31,299.63 461.41,299.63 461.41,301.02 462.36,301.02 462.36,302.41 463.3,302.41 463.3,303.8 466.4,303.8 466.4,304.9 468.94,304.9 468.94,306 471.64,306 471.64,307.1 474.2,307.1 474.2,308.2 477.24,308.2 477.24,308.57 481.04,308.57 481.04,308.93 484,308.93 484,309.3 486.77,309.3 486.77,310.07 489.43,310.07 489.43,310.85 492.25,310.85 492.25,311.62 495.5,311.62 495.5,312.4 527.9,312.4" fill="none" stroke="#f8c4c4" stroke-width="0.6"/>
<polyline points="440.1,262.4 440.55,262.4 440.55,263.97 441.05,263.97 441.05,265.54 441.61,265.54 441.61,267.12 442.05,267.12 442.05,268.69 442.51,268.69 442.51,270.26 443.11,270.26 443.11,271.83 443.57,271.83 443.57,273.41 443.99,273.41 443.99,274.98 444.48,274.98 444.48,276.55 444.99,276.55 444.99,278.12 445.52,278.12 445.52,279.69 446.09,279.69 446.09,281.27 446.59,281.27 446.59,282.84 447.04,282.84 447.04,284.41 447.48,284.41 447.48,285.98 448,285.98 448,287.56 448.49,287.56 448.49,289.13 449,289.13 449,290.7 449.64,290.7 449.64,292.05 450.25,292.05 450.25,293.39 451.05,293.39 451.05,294.74 451.77,294.74 451.77,296.08 452.43,296.08 452.43,297.43 452.98,297.43 452.98,298.78 453.74,298.78 453.74,300.12 454.35,300.12 454.35,301.47 455.13,301.47 455.13,302.82 455.76,302.82 455.76,304.16 456.54,304.16 456.54,305.51 457.18,305.51 457.18,306.85 457.8,306.85 457.8,308.2 459.01,308.2 459.01,309.56 460.45,309.56 460.45,310.93 462.06,310.93 462.06,312.29 463.23,312.29 463.23,313.65 464.59,313.65 464.59,315.01 465.95,315.01 465.95,316.38 467.45,316.38 467.45,317.74 468.7,317.74 468.7,319.1 469.72,319.1 469.72,320.41 470.51,320.41 470.51,321.73 471.53,321.73 471.53,323.04 472.33,323.04 472.33,324.36 473.09,324.36 473.09,325.67 474.18,325.67 474.18,326.99 475,326.99 475,328.3 477.93,328.3 477.93,328.87 480.6,328.87 480.6,329.43 484,329.43 484,330 484.5,339.1 527.9,339.1" fill="none" stroke="#f8c4c4" stroke-width="0.6"/>
<polyline points="440.1,262.4 440.91,262.4 440.91,263.76 441.43,263.76 441.43,265.12 442.25,265.12 442.25,266.49 442.95,266.49 442.95,267.85 443.74,267.85 443.74,269.21 444.35,269.21 444.35,270.57 445.03,270.57 445.03,271.94 445.8,271.94 445.8,273.3 446.21,273.3 446.21,275.04 446.64,275.04 446.64,276.78 447.13,276.78 447.13,278.52 447.54,278.52 447.54,280.26 448,280.26 448,282 448.53,282 448.53,283.33 448.94,283.33 448.94,284.67 449.44,284.67 449.44,286 449.92,286 449.92,287.33 450.52,287.33 450.52,288.67 450.98,288.67 450.98,290 451.47,290 451.47,291.33 451.93,291.33 451.93,292.67 452.4,292.67 452.4,294 453.15,294 453.15,295.4 453.86,295.4 453.86,296.8 454.79,296.8 454.79,298.2 455.48,298.2 455.48,299.6 456.15,299.6 456.15,301 456.95,301 456.95,302.4 457.8,302.4 457.8,303.8 458.57,303.8 458.57,305.32 459.62,305.32 459.62,306.84 460.55,306.84 460.55,308.36 461.24,308.36 461.24,309.88 462.2,309.88 462.2,311.4 464.56,311.4 464.56,312.87 466.42,312.87 466.42,314.33 468.7,314.33 468.7,315.8 470,315.8 470,317.5 471,317.5 471,319.4 471.9,319.4 471.9,321.3 482.1,321.3 482.7,325.7 485.3,325.7 485.9,330.2 529.2,330.2" fill="none" stroke="#f02a2a" stroke-width="1.1" stroke-linejoin="miter"/>
<line x1="440.5" y1="261.5" x2="440.5" y2="263.3" stroke="#f02a2a" stroke-width="0.5"/>
<line x1="454.26" y1="295.9" x2="454.26" y2="297.7" stroke="#f02a2a" stroke-width="0.5"/>
<line x1="457.35" y1="301.5" x2="457.35" y2="303.3" stroke="#f02a2a" stroke-width="0.5"/>
<line x1="460.02" y1="305.94" x2="460.02" y2="307.74" stroke="#f02a2a" stroke-width="0.5"/>
<line x1="462.6" y1="310.5" x2="462.6" y2="312.3" stroke="#f02a2a" stroke-width="0.5"/>
<line x1="466.82" y1="313.43" x2="466.82" y2="315.23" stroke="#f02a2a" stroke-width="0.5"/>
<line x1="470.4" y1="316.6" x2="470.4" y2="318.4" stroke="#f02a2a" stroke-width="0.5"/>
<line x1="472.3" y1="320.4" x2="472.3" y2="322.2" stroke="#f02a2a" stroke-width="0.5"/>
<line x1="486.3" y1="329.3" x2="486.3" y2="331.1" stroke="#f02a2a" stroke-width="0.5"/>
<polyline points="440.1,262.4 441.12,262.4 441.12,263.7 441.97,263.7 441.97,265 442.94,265 442.94,266.3 443.75,266.3 443.75,267.6 444.7,267.6 444.7,268.9 445.08,268.9 445.08,270.42 445.58,270.42 445.58,271.94 446.03,271.94 446.03,273.46 446.42,273.46 446.42,274.98 446.9,274.98 446.9,276.5 447.7,276.5 447.7,277.88 448.5,277.88 448.5,279.25 449.26,279.25 449.26,280.62 450.2,280.62 450.2,282 451.01,282 451.01,283.52 451.89,283.52 451.89,285.04 452.77,285.04 452.77,286.56 453.69,286.56 453.69,288.08 454.5,288.08 454.5,289.6 455.57,289.6 455.57,290.98 456.86,290.98 456.86,292.35 457.9,292.35 457.9,293.73 458.9,293.73 458.9,295.1 460.14,295.1 460.14,296.53 461.16,296.53 461.16,297.97 462.2,297.97 462.2,299.4 464.48,299.4 464.48,300.13 466.56,300.13 466.56,300.87 468.7,300.87 468.7,301.6 475.1,301.5 475.7,304.1 484,304.1 484.6,308.5 492.9,308.5 493.5,314.9 495.5,314.9 495.5,315.5 496.1,323.2 534.3,323.2" fill="none" stroke="#2b2bf0" stroke-width="1.25" stroke-linejoin="miter"/>
<line x1="440.5" y1="261.5" x2="440.5" y2="263.3" stroke="#2b2bf0" stroke-width="0.5"/>
<line x1="442.37" y1="264.1" x2="442.37" y2="265.9" stroke="#2b2bf0" stroke-width="0.5"/>
<line x1="444.15" y1="266.7" x2="444.15" y2="268.5" stroke="#2b2bf0" stroke-width="0.5"/>
<line x1="449.66" y1="279.73" x2="449.66" y2="281.52" stroke="#2b2bf0" stroke-width="0.5"/>
<line x1="451.41" y1="282.62" x2="451.41" y2="284.42" stroke="#2b2bf0" stroke-width="0.5"/>
<line x1="453.17" y1="285.66" x2="453.17" y2="287.46" stroke="#2b2bf0" stroke-width="0.5"/>
<line x1="454.9" y1="288.7" x2="454.9" y2="290.5" stroke="#2b2bf0" stroke-width="0.5"/>
<line x1="457.26" y1="291.45" x2="457.26" y2="293.25" stroke="#2b2bf0" stroke-width="0.5"/>
<line x1="459.3" y1="294.2" x2="459.3" y2="296" stroke="#2b2bf0" stroke-width="0.5"/>
<line x1="461.56" y1="297.07" x2="461.56" y2="298.87" stroke="#2b2bf0" stroke-width="0.5"/>
<line x1="464.88" y1="299.23" x2="464.88" y2="301.03" stroke="#2b2bf0" stroke-width="0.5"/>
<line x1="476.1" y1="303.2" x2="476.1" y2="305" stroke="#2b2bf0" stroke-width="0.5"/>
<line x1="493.9" y1="314" x2="493.9" y2="315.8" stroke="#2b2bf0" stroke-width="0.5"/>
<line x1="491.8" y1="262.5" x2="500" y2="262.5" stroke="#7070f4" stroke-width="1.2"/>
<line x1="491.8" y1="266.6" x2="500" y2="266.6" stroke="#f47070" stroke-width="1.2"/>
<text x="534.2" y="263.9" font-size="4.1" text-anchor="end" fill="#333" font-family="'Liberation Sans', sans-serif" stroke="#333" stroke-width="0.12">Low GDF6 Group</text>
<text x="534.2" y="268" font-size="4.1" text-anchor="end" fill="#333" font-family="'Liberation Sans', sans-serif" stroke="#333" stroke-width="0.12">High GDF6 Group</text>
<text x="534.2" y="272.5" font-size="4.1" text-anchor="end" fill="#333" font-family="'Liberation Sans', sans-serif" stroke="#333" stroke-width="0.12">Logrank p=0.01</text>
<text x="534.2" y="277.45" font-size="4.1" text-anchor="end" fill="#333" font-family="'Liberation Sans', sans-serif" stroke="#333" stroke-width="0.12">HR(high)=1.5</text>
<text x="534.2" y="282.4" font-size="4.1" text-anchor="end" fill="#333" font-family="'Liberation Sans', sans-serif" stroke="#333" stroke-width="0.12">p(HR)=0.011</text>
<text x="534.2" y="287.35" font-size="4.1" text-anchor="end" fill="#333" font-family="'Liberation Sans', sans-serif" stroke="#333" stroke-width="0.12">n(high)=189</text>
<text x="534.2" y="292.3" font-size="4.1" text-anchor="end" fill="#333" font-family="'Liberation Sans', sans-serif" stroke="#333" stroke-width="0.12">n(low)=190</text>
<text x="46.5" y="462" font-size="7" text-anchor="start" fill="#000" font-family="'Liberation Sans', sans-serif" font-weight="bold">H</text>
<text x="112.1" y="447.1" font-size="7" text-anchor="middle" fill="#111" font-family="'Liberation Sans', sans-serif" stroke="#111" stroke-width="0.12">LIHC</text>
<text x="111.9" y="456.9" font-size="6.1" text-anchor="middle" fill="#222" font-family="'Liberation Sans', sans-serif" stroke="#222" stroke-width="0.12">Disease Free Survival</text>
<rect x="62.9" y="458.5" width="97.7" height="92.9" fill="none" stroke="#9a9a9a" stroke-width="0.8"/>
<line x1="60.5" y1="548.2" x2="62.9" y2="548.2" stroke="#777" stroke-width="0.5"/>
<text x="56.8" y="548.2" font-size="4.4" text-anchor="middle" fill="#333" font-family="'Liberation Sans', sans-serif" transform="rotate(-90 56.8 548.2)" stroke="#333" stroke-width="0.15">0.0</text>
<line x1="60.5" y1="530.94" x2="62.9" y2="530.94" stroke="#777" stroke-width="0.5"/>
<text x="56.8" y="530.94" font-size="4.4" text-anchor="middle" fill="#333" font-family="'Liberation Sans', sans-serif" transform="rotate(-90 56.8 530.94)" stroke="#333" stroke-width="0.15">0.2</text>
<line x1="60.5" y1="513.68" x2="62.9" y2="513.68" stroke="#777" stroke-width="0.5"/>
<text x="56.8" y="513.68" font-size="4.4" text-anchor="middle" fill="#333" font-family="'Liberation Sans', sans-serif" transform="rotate(-90 56.8 513.68)" stroke="#333" stroke-width="0.15">0.4</text>
<line x1="60.5" y1="496.42" x2="62.9" y2="496.42" stroke="#777" stroke-width="0.5"/>
<text x="56.8" y="496.42" font-size="4.4" text-anchor="middle" fill="#333" font-family="'Liberation Sans', sans-serif" transform="rotate(-90 56.8 496.42)" stroke="#333" stroke-width="0.15">0.6</text>
<line x1="60.5" y1="479.16" x2="62.9" y2="479.16" stroke="#777" stroke-width="0.5"/>
<text x="56.8" y="479.16" font-size="4.4" text-anchor="middle" fill="#333" font-family="'Liberation Sans', sans-serif" transform="rotate(-90 56.8 479.16)" stroke="#333" stroke-width="0.15">0.8</text>
<line x1="60.5" y1="461.9" x2="62.9" y2="461.9" stroke="#777" stroke-width="0.5"/>
<text x="56.8" y="461.9" font-size="4.4" text-anchor="middle" fill="#333" font-family="'Liberation Sans', sans-serif" transform="rotate(-90 56.8 461.9)" stroke="#333" stroke-width="0.15">1.0</text>
<text x="50.5" y="504.95" font-size="5.4" text-anchor="middle" fill="#222" font-family="'Liberation Sans', sans-serif" transform="rotate(-90 50.5 504.95)" stroke="#222" stroke-width="0.12">Percent survival</text>
<line x1="62.9" y1="551.4" x2="62.9" y2="553.8" stroke="#777" stroke-width="0.5"/>
<text x="62.9" y="560" font-size="4.5" text-anchor="middle" fill="#333" font-family="'Liberation Sans', sans-serif" stroke="#333" stroke-width="0.15">0</text>
<line x1="77.9" y1="551.4" x2="77.9" y2="553.8" stroke="#777" stroke-width="0.5"/>
<text x="77.9" y="560" font-size="4.5" text-anchor="middle" fill="#333" font-family="'Liberation Sans', sans-serif" stroke="#333" stroke-width="0.15">20</text>
<line x1="93.2" y1="551.4" x2="93.2" y2="553.8" stroke="#777" stroke-width="0.5"/>
<text x="93.2" y="560" font-size="4.5" text-anchor="middle" fill="#333" font-family="'Liberation Sans', sans-serif" stroke="#333" stroke-width="0.15">40</text>
<line x1="108.6" y1="551.4" x2="108.6" y2="553.8" stroke="#777" stroke-width="0.5"/>
<text x="108.6" y="560" font-size="4.5" text-anchor="middle" fill="#333" font-family="'Liberation Sans', sans-serif" stroke="#333" stroke-width="0.15">60</text>
<line x1="124" y1="551.4" x2="124" y2="553.8" stroke="#777" stroke-width="0.5"/>
<text x="124" y="560" font-size="4.5" text-anchor="middle" fill="#333" font-family="'Liberation Sans', sans-serif" stroke="#333" stroke-width="0.15">80</text>
<line x1="139.3" y1="551.4" x2="139.3" y2="553.8" stroke="#777" stroke-width="0.5"/>
<text x="139.3" y="560" font-size="4.5" text-anchor="middle" fill="#333" font-family="'Liberation Sans', sans-serif" stroke="#333" stroke-width="0.15">100</text>
<line x1="154.7" y1="551.4" x2="154.7" y2="553.8" stroke="#777" stroke-width="0.5"/>
<text x="154.7" y="560" font-size="4.5" text-anchor="middle" fill="#333" font-family="'Liberation Sans', sans-serif" stroke="#333" stroke-width="0.15">120</text>
<text x="111.75" y="566.8" font-size="5.6" text-anchor="middle" fill="#222" font-family="'Liberation Sans', sans-serif" stroke="#222" stroke-width="0.12">Months</text>
<polyline points="64,462 64.5,462 64.5,463.38 64.9,463.38 64.9,464.77 65.4,464.77 65.4,466.15 65.87,466.15 65.87,467.54 66.31,467.54 66.31,468.92 66.74,468.92 66.74,470.31 67.17,470.31 67.17,471.69 67.64,471.69 67.64,473.08 68.13,473.08 68.13,474.46 68.63,474.46 68.63,475.85 69.11,475.85 69.11,477.23 69.57,477.23 69.57,478.62 70,478.62 70,480 70.72,480 70.72,481.31 71.64,481.31 71.64,482.62 72.26,482.62 72.26,483.92 73.13,483.92 73.13,485.23 73.75,485.23 73.75,486.54 74.67,486.54 74.67,487.85 75.42,487.85 75.42,489.15 76.26,489.15 76.26,490.46 77.01,490.46 77.01,491.77 77.74,491.77 77.74,493.08 78.54,493.08 78.54,494.38 79.29,494.38 79.29,495.69 80,495.69 80,497 82.21,497 82.21,498.43 84.1,498.43 84.1,499.86 86.44,499.86 86.44,501.29 88.83,501.29 88.83,502.71 90.55,502.71 90.55,504.14 93.16,504.14 93.16,505.57 95,505.57 95,507 96.69,507 96.69,508.33 98.28,508.33 98.28,509.67 99.75,509.67 99.75,511 101.61,511 101.61,512.33 103.17,512.33 103.17,513.67 105,513.67 105,515 107.61,515 107.61,515.83 110.3,515.83 110.3,516.67 112.81,516.67 112.81,517.5 115.09,517.5 115.09,518.33 117.41,518.33 117.41,519.17 120,519.17 120,520 157,520" fill="none" stroke="#dcdcdc" stroke-width="0.6"/>
<polyline points="64,462 64.41,462 64.41,464.54 64.95,464.54 64.95,467.08 65.39,467.08 65.39,469.62 65.88,469.62 65.88,472.15 66.29,472.15 66.29,474.69 66.82,474.69 66.82,477.23 67.19,477.23 67.19,479.77 67.67,479.77 67.67,482.31 68.12,482.31 68.12,484.85 68.63,484.85 68.63,487.38 69.13,487.38 69.13,489.92 69.49,489.92 69.49,492.46 70,492.46 70,495 70.8,495 70.8,496.31 71.6,496.31 71.6,497.62 72.24,497.62 72.24,498.92 72.98,498.92 72.98,500.23 73.86,500.23 73.86,501.54 74.69,501.54 74.69,502.85 75.47,502.85 75.47,504.15 76.21,504.15 76.21,505.46 76.9,505.46 76.9,506.77 77.68,506.77 77.68,508.08 78.47,508.08 78.47,509.38 79.32,509.38 79.32,510.69 80,510.69 80,512 82.02,512 82.02,513.43 84.14,513.43 84.14,514.86 86.5,514.86 86.5,516.29 88.87,516.29 88.87,517.71 90.51,517.71 90.51,519.14 92.56,519.14 92.56,520.57 95,520.57 95,522 95.8,522 95.8,523.36 96.84,523.36 96.84,524.73 97.76,524.73 97.76,526.09 98.55,526.09 98.55,527.45 99.46,527.45 99.46,528.82 100.48,528.82 100.48,530.18 101.4,530.18 101.4,531.55 102.32,531.55 102.32,532.91 103.24,532.91 103.24,534.27 103.97,534.27 103.97,535.64 105,535.64 105,537 107.59,537 107.59,537.1 110.46,537.1 110.46,537.2 113.16,537.2 113.16,537.3 115.26,537.3 115.26,537.4 118.27,537.4 118.27,537.5 120.71,537.5 120.71,537.6 123.53,537.6 123.53,537.7 125.59,537.7 125.59,537.8 128.55,537.8 128.55,537.9 131.27,537.9 131.27,538 133.58,538 133.58,538.1 135.89,538.1 135.89,538.2 138.56,538.2 138.56,538.3 141.13,538.3 141.13,538.4 143.68,538.4 143.68,538.5 146.33,538.5 146.33,538.6 149.29,538.6 149.29,538.7 151.49,538.7 151.49,538.8 154.6,538.8 154.6,538.9 157,538.9 157,539" fill="none" stroke="#dcdcdc" stroke-width="0.6"/>
<polyline points="64,462 64.74,462 64.74,463.31 65.44,463.31 65.44,464.62 66.13,464.62 66.13,465.94 66.79,465.94 66.79,467.25 67.52,467.25 67.52,468.56 68.22,468.56 68.22,469.88 68.84,469.88 68.84,471.19 69.6,471.19 69.6,472.5 70.11,472.5 70.11,473.81 70.79,473.81 70.79,475.12 71.47,475.12 71.47,476.44 72.19,476.44 72.19,477.75 72.91,477.75 72.91,479.06 73.62,479.06 73.62,480.38 74.35,480.38 74.35,481.69 75,481.69 75,483 76.79,483 76.79,484.5 78.13,484.5 78.13,486 79.95,486 79.95,487.5 81.69,487.5 81.69,489 83.27,489 83.27,490.5 85,490.5 85,492 87.21,492 87.21,492.67 90.07,492.67 90.07,493.33 92.41,493.33 92.41,494 95.14,494 95.14,494.67 97.5,494.67 97.5,495.33 100,495.33 100,496 102.85,496 102.85,496.5 105.33,496.5 105.33,497 107.18,497 107.18,497.5 110.19,497.5 110.19,498 112.67,498 112.67,498.5 114.85,498.5 114.85,499 117.21,499 117.21,499.5 120,499.5 120,500 122.48,500 122.48,500.5 124.89,500.5 124.89,501 127.68,501 127.68,501.5 130.31,501.5 130.31,502 132.41,502 132.41,502.5 134.84,502.5 134.84,503 137.5,503 137.5,503.5 140.15,503.5 140.15,504 142.72,504 142.72,504.5 145,504.5 145,505" fill="none" stroke="#e2dcdc" stroke-width="0.6"/>
<polyline points="64,462 64.47,462 64.47,464.15 64.89,464.15 64.89,466.31 65.36,466.31 65.36,468.46 65.89,468.46 65.89,470.62 66.31,470.62 66.31,472.77 66.71,472.77 66.71,474.92 67.22,474.92 67.22,477.08 67.66,477.08 67.66,479.23 68.18,479.23 68.18,481.38 68.56,481.38 68.56,483.54 69.05,483.54 69.05,485.69 69.48,485.69 69.48,487.85 70,487.85 70,490 70.9,490 70.9,491.36 71.95,491.36 71.95,492.73 72.74,492.73 72.74,494.09 73.61,494.09 73.61,495.45 74.66,495.45 74.66,496.82 75.34,496.82 75.34,498.18 76.32,498.18 76.32,499.55 77.36,499.55 77.36,500.91 78.05,500.91 78.05,502.27 79.16,502.27 79.16,503.64 80,503.64 80,505 82.4,505 82.4,506.17 84.64,506.17 84.64,507.33 87.31,507.33 87.31,508.5 89.97,508.5 89.97,509.67 92.41,509.67 92.41,510.83 95,510.83 95,512 97.18,512 97.18,513.33 99.04,513.33 99.04,514.67 101.32,514.67 101.32,516 103.97,516 103.97,517.33 105.8,517.33 105.8,518.67 108,518.67 108,520 109.78,520 109.78,521.4 111.38,521.4 111.38,522.8 113.28,522.8 113.28,524.2 115.45,524.2 115.45,525.6 117,525.6 117,527 145,527" fill="none" stroke="#e2dcdc" stroke-width="0.6"/>
<polyline points="63.7,462 64.81,462 64.81,463.5 65.8,463.5 65.8,465 66.24,465 66.24,467.06 66.62,467.06 66.62,469.12 67.11,469.12 67.11,471.18 67.6,471.18 67.6,473.24 68,473.24 68,475.3 68.49,475.3 68.49,476.64 69.01,476.64 69.01,477.98 69.56,477.98 69.56,479.32 70.02,479.32 70.02,480.66 70.5,480.66 70.5,482 71.37,482 71.37,483.54 72.06,483.54 72.06,485.08 72.9,485.08 72.9,486.62 73.93,486.62 73.93,488.16 74.7,488.16 74.7,489.7 75.41,489.7 75.41,491.03 76.24,491.03 76.24,492.36 76.96,492.36 76.96,493.69 77.71,493.69 77.71,495.01 78.32,495.01 78.32,496.34 79.18,496.34 79.18,497.67 79.8,497.67 79.8,499 82.12,499 82.12,499.25 84.1,499.25 84.1,499.5 86,499.5 86,501.4 87.5,501.4 87.5,503.3 89.26,503.3 89.26,504.2 91.6,504.2 91.6,505.1 93.4,505.1 93.4,506 95.5,506 95.5,507.2 97.7,507.2 97.7,508.4 100.15,508.4 100.15,509.2 102,509.2 102,510 104.22,510 104.22,510.13 105.7,510.13 105.7,510.27 107.8,510.27 107.8,510.4 108.4,513 116,513 116.42,513 116.42,516.17 116.84,516.17 116.84,519.33 117.3,519.33 117.3,522.5 147,522.5" fill="none" stroke="#f02a2a" stroke-width="1.1" stroke-linejoin="miter"/>
<line x1="64.1" y1="461.1" x2="64.1" y2="462.9" stroke="#f02a2a" stroke-width="0.5"/>
<line x1="70.9" y1="481.1" x2="70.9" y2="482.9" stroke="#f02a2a" stroke-width="0.5"/>
<line x1="73.3" y1="485.72" x2="73.3" y2="487.52" stroke="#f02a2a" stroke-width="0.5"/>
<line x1="78.72" y1="495.44" x2="78.72" y2="497.24" stroke="#f02a2a" stroke-width="0.5"/>
<line x1="82.52" y1="498.35" x2="82.52" y2="500.15" stroke="#f02a2a" stroke-width="0.5"/>
<line x1="86.4" y1="500.5" x2="86.4" y2="502.3" stroke="#f02a2a" stroke-width="0.5"/>
<line x1="89.66" y1="503.3" x2="89.66" y2="505.1" stroke="#f02a2a" stroke-width="0.5"/>
<line x1="93.8" y1="505.1" x2="93.8" y2="506.9" stroke="#f02a2a" stroke-width="0.5"/>
<line x1="98.1" y1="507.5" x2="98.1" y2="509.3" stroke="#f02a2a" stroke-width="0.5"/>
<line x1="102.4" y1="509.1" x2="102.4" y2="510.9" stroke="#f02a2a" stroke-width="0.5"/>
<line x1="106.1" y1="509.37" x2="106.1" y2="511.17" stroke="#f02a2a" stroke-width="0.5"/>
<line x1="117.7" y1="521.6" x2="117.7" y2="523.4" stroke="#f02a2a" stroke-width="0.5"/>
<polyline points="63.7,462 64.12,462 64.12,463.62 64.52,463.62 64.52,465.25 65,465.25 65,466.88 65.4,466.88 65.4,468.5 65.78,468.5 65.78,470.33 66.22,470.33 66.22,472.17 66.69,472.17 66.69,474 67.08,474 67.08,475.83 67.55,475.83 67.55,477.67 68,477.67 68,479.5 68.56,479.5 68.56,481.04 69.06,481.04 69.06,482.58 69.45,482.58 69.45,484.12 69.93,484.12 69.93,485.66 70.5,485.66 70.5,487.2 70.97,487.2 70.97,488.9 71.41,488.9 71.41,490.6 71.79,490.6 71.79,492.3 72.2,492.3 72.2,494 72.87,494 72.87,495.5 73.64,495.5 73.64,497 74.54,497 74.54,498.5 75.2,498.5 75.2,500 75.99,500 75.99,501.4 76.5,501.4 76.5,502.8 77.3,502.8 77.3,504.2 78.45,504.2 78.45,505.65 79.82,505.65 79.82,507.1 81.04,507.1 81.04,508.55 82.4,508.55 82.4,510 83.77,510 83.77,511.5 84.9,511.5 84.9,513 86.33,513 86.33,514.5 87.5,514.5 87.5,516 89.26,516 89.26,517.13 91.44,517.13 91.44,518.27 93.4,518.27 93.4,519.4 95.46,519.4 95.46,520.95 97,520.95 97,522.5 99.65,522.5 99.65,523.15 102,523.15 102,523.8 105.3,523.8 105.3,525 105.9,531.4 107.39,531.4 107.39,531.42 109.11,531.42 109.11,531.44 111.08,531.44 111.08,531.46 112.65,531.46 112.65,531.48 114.35,531.48 114.35,531.5 116.11,531.5 116.11,531.52 117.87,531.52 117.87,531.54 119.76,531.54 119.76,531.56 121.1,531.56 121.1,531.58 122.97,531.58 122.97,531.6 124.52,531.6 124.52,531.62 126.36,531.62 126.36,531.64 128.16,531.64 128.16,531.66 129.56,531.66 129.56,531.68 131.44,531.68 131.44,531.7 133.26,531.7 133.26,531.72 134.61,531.72 134.61,531.74 136.7,531.74 136.7,531.76 138.22,531.76 138.22,531.78 139.97,531.78 139.97,531.8 141.73,531.8 141.73,531.82 143.52,531.82 143.52,531.84 144.85,531.84 144.85,531.86 146.78,531.86 146.78,531.88 148.25,531.88 148.25,531.9 150.13,531.9 150.13,531.92 151.81,531.92 151.81,531.94 153.35,531.94 153.35,531.96 155.19,531.96 155.19,531.98 157,531.98 157,532" fill="none" stroke="#2b2bf0" stroke-width="1.25" stroke-linejoin="miter"/>
<line x1="74.04" y1="496.1" x2="74.04" y2="497.9" stroke="#2b2bf0" stroke-width="0.5"/>
<line x1="78.85" y1="504.75" x2="78.85" y2="506.55" stroke="#2b2bf0" stroke-width="0.5"/>
<line x1="81.44" y1="507.65" x2="81.44" y2="509.45" stroke="#2b2bf0" stroke-width="0.5"/>
<line x1="84.17" y1="510.6" x2="84.17" y2="512.4" stroke="#2b2bf0" stroke-width="0.5"/>
<line x1="86.73" y1="513.6" x2="86.73" y2="515.4" stroke="#2b2bf0" stroke-width="0.5"/>
<line x1="89.66" y1="516.23" x2="89.66" y2="518.03" stroke="#2b2bf0" stroke-width="0.5"/>
<line x1="93.8" y1="518.5" x2="93.8" y2="520.3" stroke="#2b2bf0" stroke-width="0.5"/>
<line x1="97.4" y1="521.6" x2="97.4" y2="523.4" stroke="#2b2bf0" stroke-width="0.5"/>
<line x1="102.4" y1="522.9" x2="102.4" y2="524.7" stroke="#2b2bf0" stroke-width="0.5"/>
<line x1="107.79" y1="530.52" x2="107.79" y2="532.32" stroke="#2b2bf0" stroke-width="0.5"/>
<line x1="111.48" y1="530.56" x2="111.48" y2="532.36" stroke="#2b2bf0" stroke-width="0.5"/>
<line x1="114.75" y1="530.6" x2="114.75" y2="532.4" stroke="#2b2bf0" stroke-width="0.5"/>
<line x1="118.27" y1="530.64" x2="118.27" y2="532.44" stroke="#2b2bf0" stroke-width="0.5"/>
<line x1="121.5" y1="530.68" x2="121.5" y2="532.48" stroke="#2b2bf0" stroke-width="0.5"/>
<line x1="124.92" y1="530.72" x2="124.92" y2="532.52" stroke="#2b2bf0" stroke-width="0.5"/>
<line x1="128.56" y1="530.76" x2="128.56" y2="532.56" stroke="#2b2bf0" stroke-width="0.5"/>
<line x1="131.84" y1="530.8" x2="131.84" y2="532.6" stroke="#2b2bf0" stroke-width="0.5"/>
<line x1="135.01" y1="530.84" x2="135.01" y2="532.64" stroke="#2b2bf0" stroke-width="0.5"/>
<line x1="138.62" y1="530.88" x2="138.62" y2="532.68" stroke="#2b2bf0" stroke-width="0.5"/>
<line x1="142.13" y1="530.92" x2="142.13" y2="532.72" stroke="#2b2bf0" stroke-width="0.5"/>
<line x1="145.25" y1="530.96" x2="145.25" y2="532.76" stroke="#2b2bf0" stroke-width="0.5"/>
<line x1="148.65" y1="531" x2="148.65" y2="532.8" stroke="#2b2bf0" stroke-width="0.5"/>
<line x1="152.21" y1="531.04" x2="152.21" y2="532.84" stroke="#2b2bf0" stroke-width="0.5"/>
<line x1="155.59" y1="531.08" x2="155.59" y2="532.88" stroke="#2b2bf0" stroke-width="0.5"/>
<line x1="116" y1="462.7" x2="124.2" y2="462.7" stroke="#7070f4" stroke-width="1.2"/>
<line x1="116" y1="466.8" x2="124.2" y2="466.8" stroke="#f47070" stroke-width="1.2"/>
<text x="158.4" y="464.1" font-size="4.1" text-anchor="end" fill="#333" font-family="'Liberation Sans', sans-serif" stroke="#333" stroke-width="0.12">Low GDF6 Group</text>
<text x="158.4" y="468.2" font-size="4.1" text-anchor="end" fill="#333" font-family="'Liberation Sans', sans-serif" stroke="#333" stroke-width="0.12">High GDF6 Group</text>
<text x="158.4" y="472.7" font-size="4.1" text-anchor="end" fill="#333" font-family="'Liberation Sans', sans-serif" stroke="#333" stroke-width="0.12">Logrank p=0.0098</text>
<text x="158.4" y="477.65" font-size="4.1" text-anchor="end" fill="#333" font-family="'Liberation Sans', sans-serif" stroke="#333" stroke-width="0.12">HR(high)=0.66</text>
<text x="158.4" y="482.6" font-size="4.1" text-anchor="end" fill="#333" font-family="'Liberation Sans', sans-serif" stroke="#333" stroke-width="0.12">p(HR)=0.01</text>
<text x="158.4" y="487.55" font-size="4.1" text-anchor="end" fill="#333" font-family="'Liberation Sans', sans-serif" stroke="#333" stroke-width="0.12">n(high)=164</text>
<text x="158.4" y="492.5" font-size="4.1" text-anchor="end" fill="#333" font-family="'Liberation Sans', sans-serif" stroke="#333" stroke-width="0.12">n(low)=177</text>
<text x="170.6" y="462" font-size="7" text-anchor="start" fill="#000" font-family="'Liberation Sans', sans-serif" font-weight="bold">I</text>
<text x="237.9" y="447.3" font-size="7" text-anchor="middle" fill="#111" font-family="'Liberation Sans', sans-serif" stroke="#111" stroke-width="0.12">KIRP</text>
<text x="237.2" y="456.9" font-size="6.1" text-anchor="middle" fill="#222" font-family="'Liberation Sans', sans-serif" stroke="#222" stroke-width="0.12">Disease Free Survival</text>
<rect x="188.7" y="458.5" width="96.9" height="92.9" fill="none" stroke="#9a9a9a" stroke-width="0.8"/>
<line x1="186.3" y1="548.7" x2="188.7" y2="548.7" stroke="#777" stroke-width="0.5"/>
<text x="182.6" y="548.7" font-size="4.4" text-anchor="middle" fill="#333" font-family="'Liberation Sans', sans-serif" transform="rotate(-90 182.6 548.7)" stroke="#333" stroke-width="0.15">0.0</text>
<line x1="186.3" y1="531.34" x2="188.7" y2="531.34" stroke="#777" stroke-width="0.5"/>
<text x="182.6" y="531.34" font-size="4.4" text-anchor="middle" fill="#333" font-family="'Liberation Sans', sans-serif" transform="rotate(-90 182.6 531.34)" stroke="#333" stroke-width="0.15">0.2</text>
<line x1="186.3" y1="513.98" x2="188.7" y2="513.98" stroke="#777" stroke-width="0.5"/>
<text x="182.6" y="513.98" font-size="4.4" text-anchor="middle" fill="#333" font-family="'Liberation Sans', sans-serif" transform="rotate(-90 182.6 513.98)" stroke="#333" stroke-width="0.15">0.4</text>
<line x1="186.3" y1="496.62" x2="188.7" y2="496.62" stroke="#777" stroke-width="0.5"/>
<text x="182.6" y="496.62" font-size="4.4" text-anchor="middle" fill="#333" font-family="'Liberation Sans', sans-serif" transform="rotate(-90 182.6 496.62)" stroke="#333" stroke-width="0.15">0.6</text>
<line x1="186.3" y1="479.26" x2="188.7" y2="479.26" stroke="#777" stroke-width="0.5"/>
<text x="182.6" y="479.26" font-size="4.4" text-anchor="middle" fill="#333" font-family="'Liberation Sans', sans-serif" transform="rotate(-90 182.6 479.26)" stroke="#333" stroke-width="0.15">0.8</text>
<line x1="186.3" y1="461.9" x2="188.7" y2="461.9" stroke="#777" stroke-width="0.5"/>
<text x="182.6" y="461.9" font-size="4.4" text-anchor="middle" fill="#333" font-family="'Liberation Sans', sans-serif" transform="rotate(-90 182.6 461.9)" stroke="#333" stroke-width="0.15">1.0</text>
<text x="176.3" y="504.95" font-size="5.4" text-anchor="middle" fill="#222" font-family="'Liberation Sans', sans-serif" transform="rotate(-90 176.3 504.95)" stroke="#222" stroke-width="0.12">Percent survival</text>
<line x1="188.6" y1="551.4" x2="188.6" y2="553.8" stroke="#777" stroke-width="0.5"/>
<text x="188.6" y="560" font-size="4.5" text-anchor="middle" fill="#333" font-family="'Liberation Sans', sans-serif" stroke="#333" stroke-width="0.15">0</text>
<line x1="212.3" y1="551.4" x2="212.3" y2="553.8" stroke="#777" stroke-width="0.5"/>
<text x="212.3" y="560" font-size="4.5" text-anchor="middle" fill="#333" font-family="'Liberation Sans', sans-serif" stroke="#333" stroke-width="0.15">50</text>
<line x1="235.6" y1="551.4" x2="235.6" y2="553.8" stroke="#777" stroke-width="0.5"/>
<text x="235.6" y="560" font-size="4.5" text-anchor="middle" fill="#333" font-family="'Liberation Sans', sans-serif" stroke="#333" stroke-width="0.15">100</text>
<line x1="259.1" y1="551.4" x2="259.1" y2="553.8" stroke="#777" stroke-width="0.5"/>
<text x="259.1" y="560" font-size="4.5" text-anchor="middle" fill="#333" font-family="'Liberation Sans', sans-serif" stroke="#333" stroke-width="0.15">150</text>
<line x1="282.5" y1="551.4" x2="282.5" y2="553.8" stroke="#777" stroke-width="0.5"/>
<text x="282.5" y="560" font-size="4.5" text-anchor="middle" fill="#333" font-family="'Liberation Sans', sans-serif" stroke="#333" stroke-width="0.15">200</text>
<text x="237.15" y="566.8" font-size="5.6" text-anchor="middle" fill="#222" font-family="'Liberation Sans', sans-serif" stroke="#222" stroke-width="0.12">Months</text>
<polyline points="188.4,462 191.26,462 191.26,462.5 194.33,462.5 194.33,463 197.47,463 197.47,463.5 200,463.5 200,464 202.88,464 202.88,464.5 206,464.5 206,465 238,465 238.34,465 238.34,472 238.69,472 238.69,479 239,479 239,486 248,486" fill="none" stroke="#dcdcdc" stroke-width="0.6"/>
<polyline points="188.4,462 189.64,462 189.64,463.33 190.75,463.33 190.75,464.67 191.86,464.67 191.86,466 192.73,466 192.73,467.33 193.79,467.33 193.79,468.67 195,468.67 195,470 197.68,470 197.68,471.55 199.45,471.55 199.45,473.1 202.09,473.1 202.09,474.65 204.5,474.65 204.5,476.2 237.8,476.2 238.23,476.2 238.23,487.9 238.6,487.9 238.6,499.6 238.99,499.6 238.99,511.3 239.4,511.3 239.4,523 281,523" fill="none" stroke="#dcdcdc" stroke-width="0.6"/>
<polyline points="188.4,462 189.62,462 189.62,463.43 190.51,463.43 190.51,464.86 191.67,464.86 191.67,466.29 192.85,466.29 192.85,467.71 193.71,467.71 193.71,469.14 194.87,469.14 194.87,470.57 196,470.57 196,472 198.25,472 198.25,473.5 200.54,473.5 200.54,475 202.55,475 202.55,476.5 205,476.5 205,478 208.09,478 208.09,479.2 210.85,479.2 210.85,480.4 214.4,480.4 214.4,481.6 216.63,481.6 216.63,482.02 219.37,482.02 219.37,482.44 221.76,482.44 221.76,482.87 224.93,482.87 224.93,483.29 226.94,483.29 226.94,483.71 229.5,483.71 229.5,484.13 232.43,484.13 232.43,484.56 234.94,484.56 234.94,484.98 237.3,484.98 237.3,485.4 239.78,485.4 239.78,485.55 242.91,485.55 242.91,485.7 245.43,485.7 245.43,485.85 248,485.85 248,486" fill="none" stroke="#e2dcdc" stroke-width="0.6"/>
<polyline points="188.4,462 188.84,462 188.84,463.76 189.33,463.76 189.33,465.51 189.73,465.51 189.73,467.27 190.19,467.27 190.19,469.02 190.73,469.02 190.73,470.78 191.12,470.78 191.12,472.53 191.64,472.53 191.64,474.29 192,474.29 192,476.04 192.5,476.04 192.5,477.8 193.48,477.8 193.48,479.2 194.55,479.2 194.55,480.6 195.88,480.6 195.88,482 196.92,482 196.92,483.4 197.84,483.4 197.84,484.8 198.95,484.8 198.95,486.2 200.2,486.2 200.2,487.6 203.16,487.6 203.16,489.2 205.6,489.2 205.6,490.8 208.6,490.8 208.6,492.4 211,492.4 211,494 211.95,494 211.95,495.5 213.23,495.5 213.23,497 214.17,497 214.17,498.5 215.47,498.5 215.47,500 216.54,500 216.54,501.5 217.6,501.5 217.6,503 218.61,503 218.61,504.4 219.48,504.4 219.48,505.8 220.67,505.8 220.67,507.2 221.41,507.2 221.41,508.6 222.37,508.6 222.37,510 223.53,510 223.53,511.4 224.34,511.4 224.34,512.8 225.31,512.8 225.31,514.2 226.41,514.2 226.41,515.6 227.4,515.6 227.4,517 248,517" fill="none" stroke="#e2dcdc" stroke-width="0.6"/>
<polyline points="188.4,462 189.05,462 189.05,463.42 189.71,463.42 189.71,464.84 190.3,464.84 190.3,466.26 190.8,466.26 190.8,467.68 191.5,467.68 191.5,469.1 192.06,469.1 192.06,470.47 192.62,470.47 192.62,471.83 193.04,471.83 193.04,473.2 193.67,473.2 193.67,474.57 194.13,474.57 194.13,475.93 194.7,475.93 194.7,477.3 195.99,477.3 195.99,478.8 197.24,478.8 197.24,480.3 198.93,480.3 198.93,481.8 200.2,481.8 200.2,483.3 202.36,483.3 202.36,484.65 204.5,484.65 204.5,486 206.55,486 206.55,486.9 208.15,486.9 208.15,487.8 210,487.8 210,488.7 210.74,488.7 210.74,490.07 211.58,490.07 211.58,491.45 212.42,491.45 212.42,492.82 213.3,492.82 213.3,494.2 215.27,494.2 215.27,494.3 216.63,494.3 216.63,494.4 218.31,494.4 218.31,494.5 220.18,494.5 220.18,494.6 222,494.6 222,494.7 222.5,498 224.1,498 224.1,498.17 226.13,498.17 226.13,498.33 228,498.33 228,498.5 228.38,498.5 228.38,500.5 228.75,500.5 228.75,502.5 229.1,502.5 229.1,504.5 249,504.5" fill="none" stroke="#f02a2a" stroke-width="1.1" stroke-linejoin="miter"/>
<line x1="195.1" y1="476.4" x2="195.1" y2="478.2" stroke="#f02a2a" stroke-width="0.5"/>
<line x1="197.64" y1="479.4" x2="197.64" y2="481.2" stroke="#f02a2a" stroke-width="0.5"/>
<line x1="200.6" y1="482.4" x2="200.6" y2="484.2" stroke="#f02a2a" stroke-width="0.5"/>
<line x1="204.9" y1="485.1" x2="204.9" y2="486.9" stroke="#f02a2a" stroke-width="0.5"/>
<line x1="208.55" y1="486.9" x2="208.55" y2="488.7" stroke="#f02a2a" stroke-width="0.5"/>
<line x1="211.98" y1="490.55" x2="211.98" y2="492.35" stroke="#f02a2a" stroke-width="0.5"/>
<line x1="213.7" y1="493.3" x2="213.7" y2="495.1" stroke="#f02a2a" stroke-width="0.5"/>
<line x1="217.03" y1="493.5" x2="217.03" y2="495.3" stroke="#f02a2a" stroke-width="0.5"/>
<line x1="220.58" y1="493.7" x2="220.58" y2="495.5" stroke="#f02a2a" stroke-width="0.5"/>
<line x1="224.5" y1="497.27" x2="224.5" y2="499.07" stroke="#f02a2a" stroke-width="0.5"/>
<line x1="229.5" y1="503.6" x2="229.5" y2="505.4" stroke="#f02a2a" stroke-width="0.5"/>
<polyline points="188.4,462 190.25,462 190.25,463.1 192.5,463.1 192.5,464.2 194.46,464.2 194.46,465 196.9,465 196.9,465.8 198.55,465.8 198.55,467.15 200.2,467.15 200.2,468.5 202.47,468.5 202.47,468.8 204.5,468.8 204.5,469.1 206.2,469.1 206.2,470.7 237.8,470.7 238.16,470.7 238.16,474.9 238.54,474.9 238.54,479.1 238.9,479.1 238.9,483.3 239.4,499.6 282,499.6" fill="none" stroke="#2b2bf0" stroke-width="1.25" stroke-linejoin="miter"/>
<line x1="188.8" y1="461.1" x2="188.8" y2="462.9" stroke="#2b2bf0" stroke-width="0.5"/>
<line x1="192.9" y1="463.3" x2="192.9" y2="465.1" stroke="#2b2bf0" stroke-width="0.5"/>
<line x1="197.3" y1="464.9" x2="197.3" y2="466.7" stroke="#2b2bf0" stroke-width="0.5"/>
<line x1="200.6" y1="467.6" x2="200.6" y2="469.4" stroke="#2b2bf0" stroke-width="0.5"/>
<line x1="204.9" y1="468.2" x2="204.9" y2="470" stroke="#2b2bf0" stroke-width="0.5"/>
<line x1="239.8" y1="498.7" x2="239.8" y2="500.5" stroke="#2b2bf0" stroke-width="0.5"/>
<line x1="241" y1="462.7" x2="249.2" y2="462.7" stroke="#7070f4" stroke-width="1.2"/>
<line x1="241" y1="466.8" x2="249.2" y2="466.8" stroke="#f47070" stroke-width="1.2"/>
<text x="283.4" y="464.1" font-size="4.1" text-anchor="end" fill="#333" font-family="'Liberation Sans', sans-serif" stroke="#333" stroke-width="0.12">Low GDF6 Group</text>
<text x="283.4" y="468.2" font-size="4.1" text-anchor="end" fill="#333" font-family="'Liberation Sans', sans-serif" stroke="#333" stroke-width="0.12">High GDF6 Group</text>
<text x="283.4" y="472.7" font-size="4.1" text-anchor="end" fill="#333" font-family="'Liberation Sans', sans-serif" stroke="#333" stroke-width="0.12">Logrank p=5.5e-05</text>
<text x="283.4" y="477.65" font-size="4.1" text-anchor="end" fill="#333" font-family="'Liberation Sans', sans-serif" stroke="#333" stroke-width="0.12">HR(high)=3.8</text>
<text x="283.4" y="482.6" font-size="4.1" text-anchor="end" fill="#333" font-family="'Liberation Sans', sans-serif" stroke="#333" stroke-width="0.12">p(HR)=0.00018</text>
<text x="283.4" y="487.55" font-size="4.1" text-anchor="end" fill="#333" font-family="'Liberation Sans', sans-serif" stroke="#333" stroke-width="0.12">n(high)=140</text>
<text x="283.4" y="492.5" font-size="4.1" text-anchor="end" fill="#333" font-family="'Liberation Sans', sans-serif" stroke="#333" stroke-width="0.12">n(low)=118</text>
<text x="295" y="461.8" font-size="7" text-anchor="start" fill="#000" font-family="'Liberation Sans', sans-serif" font-weight="bold">J</text>
<text x="364.2" y="447.1" font-size="7" text-anchor="middle" fill="#111" font-family="'Liberation Sans', sans-serif" stroke="#111" stroke-width="0.12">LUAD</text>
<text x="362.6" y="456.9" font-size="6.1" text-anchor="middle" fill="#222" font-family="'Liberation Sans', sans-serif" stroke="#222" stroke-width="0.12">Disease Free Survival</text>
<rect x="313" y="458.5" width="98.2" height="92.9" fill="none" stroke="#9a9a9a" stroke-width="0.8"/>
<line x1="310.6" y1="548.7" x2="313" y2="548.7" stroke="#777" stroke-width="0.5"/>
<text x="306.9" y="548.7" font-size="4.4" text-anchor="middle" fill="#333" font-family="'Liberation Sans', sans-serif" transform="rotate(-90 306.9 548.7)" stroke="#333" stroke-width="0.15">0.0</text>
<line x1="310.6" y1="531.34" x2="313" y2="531.34" stroke="#777" stroke-width="0.5"/>
<text x="306.9" y="531.34" font-size="4.4" text-anchor="middle" fill="#333" font-family="'Liberation Sans', sans-serif" transform="rotate(-90 306.9 531.34)" stroke="#333" stroke-width="0.15">0.2</text>
<line x1="310.6" y1="513.98" x2="313" y2="513.98" stroke="#777" stroke-width="0.5"/>
<text x="306.9" y="513.98" font-size="4.4" text-anchor="middle" fill="#333" font-family="'Liberation Sans', sans-serif" transform="rotate(-90 306.9 513.98)" stroke="#333" stroke-width="0.15">0.4</text>
<line x1="310.6" y1="496.62" x2="313" y2="496.62" stroke="#777" stroke-width="0.5"/>
<text x="306.9" y="496.62" font-size="4.4" text-anchor="middle" fill="#333" font-family="'Liberation Sans', sans-serif" transform="rotate(-90 306.9 496.62)" stroke="#333" stroke-width="0.15">0.6</text>
<line x1="310.6" y1="479.26" x2="313" y2="479.26" stroke="#777" stroke-width="0.5"/>
<text x="306.9" y="479.26" font-size="4.4" text-anchor="middle" fill="#333" font-family="'Liberation Sans', sans-serif" transform="rotate(-90 306.9 479.26)" stroke="#333" stroke-width="0.15">0.8</text>
<line x1="310.6" y1="461.9" x2="313" y2="461.9" stroke="#777" stroke-width="0.5"/>
<text x="306.9" y="461.9" font-size="4.4" text-anchor="middle" fill="#333" font-family="'Liberation Sans', sans-serif" transform="rotate(-90 306.9 461.9)" stroke="#333" stroke-width="0.15">1.0</text>
<text x="300.6" y="504.95" font-size="5.4" text-anchor="middle" fill="#222" font-family="'Liberation Sans', sans-serif" transform="rotate(-90 300.6 504.95)" stroke="#222" stroke-width="0.12">Percent survival</text>
<line x1="314.1" y1="551.4" x2="314.1" y2="553.8" stroke="#777" stroke-width="0.5"/>
<text x="314.1" y="560" font-size="4.5" text-anchor="middle" fill="#333" font-family="'Liberation Sans', sans-serif" stroke="#333" stroke-width="0.15">0</text>
<line x1="333.3" y1="551.4" x2="333.3" y2="553.8" stroke="#777" stroke-width="0.5"/>
<text x="333.3" y="560" font-size="4.5" text-anchor="middle" fill="#333" font-family="'Liberation Sans', sans-serif" stroke="#333" stroke-width="0.15">50</text>
<line x1="352.6" y1="551.4" x2="352.6" y2="553.8" stroke="#777" stroke-width="0.5"/>
<text x="352.6" y="560" font-size="4.5" text-anchor="middle" fill="#333" font-family="'Liberation Sans', sans-serif" stroke="#333" stroke-width="0.15">100</text>
<line x1="372" y1="551.4" x2="372" y2="553.8" stroke="#777" stroke-width="0.5"/>
<text x="372" y="560" font-size="4.5" text-anchor="middle" fill="#333" font-family="'Liberation Sans', sans-serif" stroke="#333" stroke-width="0.15">150</text>
<line x1="391.2" y1="551.4" x2="391.2" y2="553.8" stroke="#777" stroke-width="0.5"/>
<text x="391.2" y="560" font-size="4.5" text-anchor="middle" fill="#333" font-family="'Liberation Sans', sans-serif" stroke="#333" stroke-width="0.15">200</text>
<line x1="410.6" y1="551.4" x2="410.6" y2="553.8" stroke="#777" stroke-width="0.5"/>
<text x="410.6" y="560" font-size="4.5" text-anchor="middle" fill="#333" font-family="'Liberation Sans', sans-serif" stroke="#333" stroke-width="0.15">250</text>
<text x="362.1" y="566.8" font-size="5.6" text-anchor="middle" fill="#222" font-family="'Liberation Sans', sans-serif" stroke="#222" stroke-width="0.12">Months</text>
<polyline points="314.4,462.2 315.41,462.2 315.41,463.65 316.1,463.65 316.1,465.1 317.04,465.1 317.04,466.55 318,466.55 318,468 318.46,468 318.46,470 318.92,470 318.92,472 319.43,472 319.43,474 319.84,474 319.84,476 320.31,476 320.31,478 320.73,478 320.73,480 321.2,480 321.2,482 322.68,482 322.68,483.36 324.06,483.36 324.06,484.72 325.2,484.72 325.2,486.08 326.48,486.08 326.48,487.44 328,487.44 328,488.8 330.1,488.8 330.1,490.33 332.44,490.33 332.44,491.87 334.8,491.87 334.8,493.4 337.74,493.4 337.74,494.13 339.88,494.13 339.88,494.87 342.7,494.87 342.7,495.6 408,495.6" fill="none" stroke="#dcdcdc" stroke-width="0.6"/>
<polyline points="314.4,462.2 314.88,462.2 314.88,464.18 315.35,464.18 315.35,466.17 315.86,466.17 315.86,468.15 316.21,468.15 316.21,470.13 316.77,470.13 316.77,472.12 317.18,472.12 317.18,474.1 317.61,474.1 317.61,476.08 318.15,476.08 318.15,478.07 318.65,478.07 318.65,480.05 319.08,480.05 319.08,482.03 319.47,482.03 319.47,484.02 320,484.02 320,486 320.68,486 320.68,487.4 321.18,487.4 321.18,488.8 321.82,488.8 321.82,490.2 322.44,490.2 322.44,491.6 322.96,491.6 322.96,493 323.58,493 323.58,494.4 324.17,494.4 324.17,495.8 324.73,495.8 324.73,497.2 325.32,497.2 325.32,498.6 326,498.6 326,500 327.07,500 327.07,501.33 327.97,501.33 327.97,502.67 329.11,502.67 329.11,504 329.87,504 329.87,505.33 330.94,505.33 330.94,506.67 332,506.67 332,508 333.24,508 333.24,509.31 334.93,509.31 334.93,510.63 336.23,510.63 336.23,511.94 337.65,511.94 337.65,513.26 338.86,513.26 338.86,514.57 340.07,514.57 340.07,515.89 341.6,515.89 341.6,517.2 408,517.2" fill="none" stroke="#dcdcdc" stroke-width="0.6"/>
<polyline points="314.4,462.2 314.85,462.2 314.85,463.78 315.28,463.78 315.28,465.36 315.71,465.36 315.71,466.94 316.25,466.94 316.25,468.52 316.67,468.52 316.67,470.1 317.11,470.1 317.11,471.68 317.62,471.68 317.62,473.26 318.14,473.26 318.14,474.84 318.6,474.84 318.6,476.42 319,476.42 319,478 319.44,478 319.44,479.33 319.84,479.33 319.84,480.67 320.37,480.67 320.37,482 320.73,482 320.73,483.33 321.23,483.33 321.23,484.67 321.61,484.67 321.61,486 322.18,486 322.18,487.33 322.56,487.33 322.56,488.67 323,488.67 323,490 323.76,490 323.76,491.33 324.5,491.33 324.5,492.67 325.35,492.67 325.35,494 326.22,494 326.22,495.33 326.87,495.33 326.87,496.67 327.6,496.67 327.6,498 328.45,498 328.45,499.33 329.32,499.33 329.32,500.67 330,500.67 330,502 331.29,502 331.29,503.33 332.72,503.33 332.72,504.67 334.17,504.67 334.17,506 335.26,506 335.26,507.33 336.79,507.33 336.79,508.67 338,508.67 338,510 340.69,510 340.69,511.33 343.04,511.33 343.04,512.67 346,512.67 346,514 408,514" fill="none" stroke="#e2dcdc" stroke-width="0.6"/>
<polyline points="314.4,462.2 314.79,462.2 314.79,465.05 315.36,465.05 315.36,467.9 315.75,467.9 315.75,470.75 316.19,470.75 316.19,473.6 316.71,473.6 316.71,476.45 317.11,476.45 317.11,479.3 317.55,479.3 317.55,482.15 318,482.15 318,485 318.43,485 318.43,486.36 318.95,486.36 318.95,487.72 319.34,487.72 319.34,489.07 319.83,489.07 319.83,490.43 320.33,490.43 320.33,491.79 320.76,491.79 320.76,493.15 321.16,493.15 321.16,494.51 321.63,494.51 321.63,495.87 322.15,495.87 322.15,497.23 322.61,497.23 322.61,498.58 322.99,498.58 322.99,499.94 323.5,499.94 323.5,501.3 324.22,501.3 324.22,502.69 324.68,502.69 324.68,504.08 325.3,504.08 325.3,505.47 325.91,505.47 325.91,506.86 326.6,506.86 326.6,508.24 327.26,508.24 327.26,509.63 327.92,509.63 327.92,511.02 328.41,511.02 328.41,512.41 329.1,512.41 329.1,513.8 329.89,513.8 329.89,515.12 330.51,515.12 330.51,516.43 331.37,516.43 331.37,517.75 332.04,517.75 332.04,519.07 332.82,519.07 332.82,520.38 333.6,520.38 333.6,521.7 337,521.7 337,524 339.63,524 339.63,524.37 343.27,524.37 343.27,524.73 346.1,524.73 346.1,525.1 346.43,525.1 346.43,526.97 346.86,526.97 346.86,528.83 347.2,528.83 347.2,530.7 408,530.7" fill="none" stroke="#e2dcdc" stroke-width="0.6"/>
<polyline points="314.4,462.2 314.75,462.2 314.75,463.53 315.14,463.53 315.14,464.87 315.5,464.87 315.5,466.2 315.98,466.2 315.98,468.46 316.42,468.46 316.42,470.72 316.93,470.72 316.93,472.98 317.4,472.98 317.4,475.24 317.8,475.24 317.8,477.5 318.24,477.5 318.24,480.15 318.71,480.15 318.71,482.8 319.25,482.8 319.25,485.45 319.62,485.45 319.62,488.1 320.12,488.1 320.12,490.75 320.6,490.75 320.6,493.4 321.54,493.4 321.54,494.9 322.67,494.9 322.67,496.4 323.5,496.4 323.5,497.9 324.26,497.9 324.26,499.32 325.24,499.32 325.24,500.75 326.12,500.75 326.12,502.18 326.9,502.18 326.9,503.6 327.73,503.6 327.73,504.96 328.34,504.96 328.34,506.32 329.34,506.32 329.34,507.68 329.98,507.68 329.98,509.04 330.8,509.04 330.8,510.4 332.27,510.4 332.27,512.1 333.53,512.1 333.53,513.8 334.8,513.8 334.8,515.5 338.2,515.5 338.2,516 339.3,516 339.3,517.7 345.5,517.7 346.09,517.7 346.09,519.4 346.7,519.4 346.7,521.1 408,521.1" fill="none" stroke="#f02a2a" stroke-width="1.1" stroke-linejoin="miter"/>
<line x1="321" y1="492.5" x2="321" y2="494.3" stroke="#f02a2a" stroke-width="0.5"/>
<line x1="323.07" y1="495.5" x2="323.07" y2="497.3" stroke="#f02a2a" stroke-width="0.5"/>
<line x1="325.64" y1="499.85" x2="325.64" y2="501.65" stroke="#f02a2a" stroke-width="0.5"/>
<line x1="328.74" y1="505.42" x2="328.74" y2="507.22" stroke="#f02a2a" stroke-width="0.5"/>
<line x1="331.2" y1="509.5" x2="331.2" y2="511.3" stroke="#f02a2a" stroke-width="0.5"/>
<line x1="333.93" y1="512.9" x2="333.93" y2="514.7" stroke="#f02a2a" stroke-width="0.5"/>
<line x1="338.6" y1="515.1" x2="338.6" y2="516.9" stroke="#f02a2a" stroke-width="0.5"/>
<line x1="347.1" y1="520.2" x2="347.1" y2="522" stroke="#f02a2a" stroke-width="0.5"/>
<polyline points="314.4,462.2 316.1,462.2 316.1,462.8 316.57,462.8 316.57,464.77 316.97,464.77 316.97,466.75 317.35,466.75 317.35,468.73 317.8,468.73 317.8,470.7 318.29,470.7 318.29,472.06 318.72,472.06 318.72,473.42 319.21,473.42 319.21,474.78 319.66,474.78 319.66,476.14 320.1,476.14 320.1,477.5 320.5,477.5 320.5,479.77 320.8,479.77 320.8,482.03 321.2,482.03 321.2,484.3 322.35,484.3 322.35,486 323.5,486 323.5,487.7 323.81,487.7 323.81,489.97 324.27,489.97 324.27,492.23 324.6,492.23 324.6,494.5 326.9,494.5 326.9,496.8 327.82,496.8 327.82,498.75 328.6,498.75 328.6,500.7 332,500.7 332.81,500.7 332.81,502.03 333.37,502.03 333.37,503.37 334.2,503.37 334.2,504.7 339.9,504.7 340.46,504.7 340.46,506.4 341,506.4 341,508.1 406,508.1" fill="none" stroke="#2b2bf0" stroke-width="1.25" stroke-linejoin="miter"/>
<line x1="314.8" y1="461.3" x2="314.8" y2="463.1" stroke="#2b2bf0" stroke-width="0.5"/>
<line x1="322.75" y1="485.1" x2="322.75" y2="486.9" stroke="#2b2bf0" stroke-width="0.5"/>
<line x1="327.3" y1="495.9" x2="327.3" y2="497.7" stroke="#2b2bf0" stroke-width="0.5"/>
<line x1="332.4" y1="499.8" x2="332.4" y2="501.6" stroke="#2b2bf0" stroke-width="0.5"/>
<line x1="334.6" y1="503.8" x2="334.6" y2="505.6" stroke="#2b2bf0" stroke-width="0.5"/>
<line x1="366.6" y1="462.7" x2="374.8" y2="462.7" stroke="#7070f4" stroke-width="1.2"/>
<line x1="366.6" y1="466.8" x2="374.8" y2="466.8" stroke="#f47070" stroke-width="1.2"/>
<text x="409" y="464.1" font-size="4.1" text-anchor="end" fill="#333" font-family="'Liberation Sans', sans-serif" stroke="#333" stroke-width="0.12">Low GDF6 Group</text>
<text x="409" y="468.2" font-size="4.1" text-anchor="end" fill="#333" font-family="'Liberation Sans', sans-serif" stroke="#333" stroke-width="0.12">High GDF6 Group</text>
<text x="409" y="472.7" font-size="4.1" text-anchor="end" fill="#333" font-family="'Liberation Sans', sans-serif" stroke="#333" stroke-width="0.12">Logrank p=0.032</text>
<text x="409" y="477.65" font-size="4.1" text-anchor="end" fill="#333" font-family="'Liberation Sans', sans-serif" stroke="#333" stroke-width="0.12">HR(high)=1.4</text>
<text x="409" y="482.6" font-size="4.1" text-anchor="end" fill="#333" font-family="'Liberation Sans', sans-serif" stroke="#333" stroke-width="0.12">p(HR)=0.033</text>
<text x="409" y="487.55" font-size="4.1" text-anchor="end" fill="#333" font-family="'Liberation Sans', sans-serif" stroke="#333" stroke-width="0.12">n(high)=228</text>
<text x="409" y="492.5" font-size="4.1" text-anchor="end" fill="#333" font-family="'Liberation Sans', sans-serif" stroke="#333" stroke-width="0.12">n(low)=206</text>
<text x="419" y="462" font-size="7" text-anchor="start" fill="#000" font-family="'Liberation Sans', sans-serif" font-weight="bold">K</text>
<text x="489.8" y="447" font-size="7" text-anchor="middle" fill="#111" font-family="'Liberation Sans', sans-serif" stroke="#111" stroke-width="0.12">STAD</text>
<text x="488.3" y="456.8" font-size="6.1" text-anchor="middle" fill="#222" font-family="'Liberation Sans', sans-serif" stroke="#222" stroke-width="0.12">Disease Free Survival</text>
<rect x="439.5" y="458.5" width="96.7" height="92.9" fill="none" stroke="#9a9a9a" stroke-width="0.8"/>
<line x1="437.1" y1="548.3" x2="439.5" y2="548.3" stroke="#777" stroke-width="0.5"/>
<text x="433.4" y="548.3" font-size="4.4" text-anchor="middle" fill="#333" font-family="'Liberation Sans', sans-serif" transform="rotate(-90 433.4 548.3)" stroke="#333" stroke-width="0.15">0.0</text>
<line x1="437.1" y1="530.92" x2="439.5" y2="530.92" stroke="#777" stroke-width="0.5"/>
<text x="433.4" y="530.92" font-size="4.4" text-anchor="middle" fill="#333" font-family="'Liberation Sans', sans-serif" transform="rotate(-90 433.4 530.92)" stroke="#333" stroke-width="0.15">0.2</text>
<line x1="437.1" y1="513.54" x2="439.5" y2="513.54" stroke="#777" stroke-width="0.5"/>
<text x="433.4" y="513.54" font-size="4.4" text-anchor="middle" fill="#333" font-family="'Liberation Sans', sans-serif" transform="rotate(-90 433.4 513.54)" stroke="#333" stroke-width="0.15">0.4</text>
<line x1="437.1" y1="496.16" x2="439.5" y2="496.16" stroke="#777" stroke-width="0.5"/>
<text x="433.4" y="496.16" font-size="4.4" text-anchor="middle" fill="#333" font-family="'Liberation Sans', sans-serif" transform="rotate(-90 433.4 496.16)" stroke="#333" stroke-width="0.15">0.6</text>
<line x1="437.1" y1="478.78" x2="439.5" y2="478.78" stroke="#777" stroke-width="0.5"/>
<text x="433.4" y="478.78" font-size="4.4" text-anchor="middle" fill="#333" font-family="'Liberation Sans', sans-serif" transform="rotate(-90 433.4 478.78)" stroke="#333" stroke-width="0.15">0.8</text>
<line x1="437.1" y1="461.4" x2="439.5" y2="461.4" stroke="#777" stroke-width="0.5"/>
<text x="433.4" y="461.4" font-size="4.4" text-anchor="middle" fill="#333" font-family="'Liberation Sans', sans-serif" transform="rotate(-90 433.4 461.4)" stroke="#333" stroke-width="0.15">1.0</text>
<text x="427.1" y="504.95" font-size="5.4" text-anchor="middle" fill="#222" font-family="'Liberation Sans', sans-serif" transform="rotate(-90 427.1 504.95)" stroke="#222" stroke-width="0.12">Percent survival</text>
<line x1="439" y1="551.4" x2="439" y2="553.8" stroke="#777" stroke-width="0.5"/>
<text x="439" y="560" font-size="4.5" text-anchor="middle" fill="#333" font-family="'Liberation Sans', sans-serif" stroke="#333" stroke-width="0.15">0</text>
<line x1="454.3" y1="551.4" x2="454.3" y2="553.8" stroke="#777" stroke-width="0.5"/>
<text x="454.3" y="560" font-size="4.5" text-anchor="middle" fill="#333" font-family="'Liberation Sans', sans-serif" stroke="#333" stroke-width="0.15">20</text>
<line x1="469" y1="551.4" x2="469" y2="553.8" stroke="#777" stroke-width="0.5"/>
<text x="469" y="560" font-size="4.5" text-anchor="middle" fill="#333" font-family="'Liberation Sans', sans-serif" stroke="#333" stroke-width="0.15">40</text>
<line x1="484.5" y1="551.4" x2="484.5" y2="553.8" stroke="#777" stroke-width="0.5"/>
<text x="484.5" y="560" font-size="4.5" text-anchor="middle" fill="#333" font-family="'Liberation Sans', sans-serif" stroke="#333" stroke-width="0.15">60</text>
<line x1="499.2" y1="551.4" x2="499.2" y2="553.8" stroke="#777" stroke-width="0.5"/>
<text x="499.2" y="560" font-size="4.5" text-anchor="middle" fill="#333" font-family="'Liberation Sans', sans-serif" stroke="#333" stroke-width="0.15">80</text>
<line x1="513.9" y1="551.4" x2="513.9" y2="553.8" stroke="#777" stroke-width="0.5"/>
<text x="513.9" y="560" font-size="4.5" text-anchor="middle" fill="#333" font-family="'Liberation Sans', sans-serif" stroke="#333" stroke-width="0.15">100</text>
<line x1="528.4" y1="551.4" x2="528.4" y2="553.8" stroke="#777" stroke-width="0.5"/>
<text x="528.4" y="560" font-size="4.5" text-anchor="middle" fill="#333" font-family="'Liberation Sans', sans-serif" stroke="#333" stroke-width="0.15">120</text>
<text x="487.85" y="566.8" font-size="5.6" text-anchor="middle" fill="#222" font-family="'Liberation Sans', sans-serif" stroke="#222" stroke-width="0.12">Months</text>
<polyline points="439.7,462 441.33,462 441.33,463.42 442.79,463.42 442.79,464.84 444.47,464.84 444.47,466.26 446.49,466.26 446.49,467.68 447.9,467.68 447.9,469.1 449.3,469.1 449.3,470.55 450.33,470.55 450.33,472 451.83,472 451.83,473.45 453.02,473.45 453.02,474.9 454.19,474.9 454.19,476.35 455.5,476.35 455.5,477.8 458.16,477.8 458.16,478.07 460.39,478.07 460.39,478.33 462.98,478.33 462.98,478.6 465.33,478.6 465.33,478.87 468.37,478.87 468.37,479.13 470.8,479.13 470.8,479.4 471.55,479.4 471.55,480.7 472.32,480.7 472.32,482 473,482 473,483.3 475.5,483.3 475.5,483.37 477.95,483.37 477.95,483.43 480.35,483.43 480.35,483.5 483.18,483.5 483.18,483.57 485.4,483.57 485.4,483.63 488.07,483.63 488.07,483.7 490.69,483.7 490.69,483.77 492.96,483.77 492.96,483.83 495.64,483.83 495.64,483.9 497.67,483.9 497.67,483.97 500.32,483.97 500.32,484.03 503.26,484.03 503.26,484.1 505.24,484.1 505.24,484.17 507.67,484.17 507.67,484.23 510.14,484.23 510.14,484.3 513.2,484.3 513.2,484.37 515.2,484.37 515.2,484.43 517.97,484.43 517.97,484.5 520.45,484.5 520.45,484.57 523.23,484.57 523.23,484.63 525.48,484.63 525.48,484.7 528.02,484.7 528.02,484.77 530.14,484.77 530.14,484.83 533,484.83 533,484.9" fill="none" stroke="#dcdcdc" stroke-width="0.6"/>
<polyline points="439.7,462 440.4,462 440.4,463.38 441.03,463.38 441.03,464.77 441.64,464.77 441.64,466.15 442.32,466.15 442.32,467.54 442.91,467.54 442.91,468.92 443.57,468.92 443.57,470.31 444.24,470.31 444.24,471.69 444.83,471.69 444.83,473.08 445.35,473.08 445.35,474.46 446.16,474.46 446.16,475.85 446.82,475.85 446.82,477.23 447.3,477.23 447.3,478.62 448,478.62 448,480 448.67,480 448.67,481.4 449.51,481.4 449.51,482.8 450.22,482.8 450.22,484.2 451.06,484.2 451.06,485.6 451.76,485.6 451.76,487 452.56,487 452.56,488.4 453.4,488.4 453.4,489.8 455.72,489.8 455.72,490.62 458.79,490.62 458.79,491.45 461.41,491.45 461.41,492.28 464.3,492.28 464.3,493.1 467.01,493.1 467.01,493.83 469.28,493.83 469.28,494.57 471.9,494.57 471.9,495.3 472.3,495.3 472.3,497.04 472.84,497.04 472.84,498.78 473.27,498.78 473.27,500.52 473.68,500.52 473.68,502.26 474.1,502.26 474.1,504 476.59,504 476.59,504.2 479.46,504.2 479.46,504.4 482.22,504.4 482.22,504.6 484.91,504.6 484.91,504.8 487.7,504.8 487.7,505 488.3,518 533,518" fill="none" stroke="#dcdcdc" stroke-width="0.6"/>
<polyline points="439.7,462 440.47,462 440.47,463.43 441.49,463.43 441.49,464.86 442.47,464.86 442.47,466.29 443.35,466.29 443.35,467.71 444.3,467.71 444.3,469.14 445.15,469.14 445.15,470.57 446,470.57 446,472 446.61,472 446.61,473.37 447.2,473.37 447.2,474.74 447.78,474.74 447.78,476.11 448.33,476.11 448.33,477.48 448.83,477.48 448.83,478.85 449.44,478.85 449.44,480.22 450.01,480.22 450.01,481.58 450.62,481.58 450.62,482.95 451.16,482.95 451.16,484.32 451.68,484.32 451.68,485.69 452.21,485.69 452.21,487.06 452.8,487.06 452.8,488.43 453.4,488.43 453.4,489.8 455.92,489.8 455.92,490.62 459,490.62 459,491.45 461.8,491.45 461.8,492.28 464.3,492.28 464.3,493.1 466.6,493.1 466.6,493.83 469.39,493.83 469.39,494.57 471.9,494.57 471.9,495.3 473.95,495.3 473.95,496.84 475.55,496.84 475.55,498.38 477.25,498.38 477.25,499.92 479.4,499.92 479.4,501.46 481.2,501.46 481.2,503 528,503" fill="none" stroke="#e2dcdc" stroke-width="0.6"/>
<polyline points="439.7,462 440.16,462 440.16,463.69 440.62,463.69 440.62,465.38 441.12,465.38 441.12,467.08 441.57,467.08 441.57,468.77 442.07,468.77 442.07,470.46 442.6,470.46 442.6,472.15 443.03,472.15 443.03,473.85 443.51,473.85 443.51,475.54 444.07,475.54 444.07,477.23 444.61,477.23 444.61,478.92 445.08,478.92 445.08,480.62 445.49,480.62 445.49,482.31 446,482.31 446,484 446.56,484 446.56,485.4 446.92,485.4 446.92,486.8 447.43,486.8 447.43,488.2 447.9,488.2 447.9,489.6 448.4,489.6 448.4,491 448.98,491 448.98,492.4 449.49,492.4 449.49,493.8 449.94,493.8 449.94,495.2 450.48,495.2 450.48,496.6 450.93,496.6 450.93,498 451.49,498 451.49,499.4 451.94,499.4 451.94,500.8 452.42,500.8 452.42,502.2 452.86,502.2 452.86,503.6 453.4,503.6 453.4,505 455.53,505 455.53,506.44 457.72,506.44 457.72,507.88 460.15,507.88 460.15,509.32 461.94,509.32 461.94,510.76 464.3,510.76 464.3,512.2 466.85,512.2 466.85,512.28 469.99,512.28 469.99,512.37 472.1,512.37 472.1,512.45 475.2,512.45 475.2,512.53 477.65,512.53 477.65,512.62 480.6,512.62 480.6,512.7 480.98,512.7 480.98,515.97 481.34,515.97 481.34,519.23 481.7,519.23 481.7,522.5 528,522.5" fill="none" stroke="#e2dcdc" stroke-width="0.6"/>
<polyline points="439.7,462 441.9,462 441.9,464.2 442.38,464.2 442.38,465.67 443.02,465.67 443.02,467.14 443.51,467.14 443.51,468.61 444.04,468.61 444.04,470.09 444.67,470.09 444.67,471.56 445.2,471.56 445.2,473.03 445.7,473.03 445.7,474.5 446.22,474.5 446.22,475.97 446.83,475.97 446.83,477.43 447.29,477.43 447.29,478.9 447.9,478.9 447.9,480.37 448.38,480.37 448.38,481.83 449,481.83 449,483.3 449.49,483.3 449.49,484.7 450,484.7 450,486.1 450.43,486.1 450.43,487.5 450.82,487.5 450.82,488.9 451.36,488.9 451.36,490.3 451.82,490.3 451.82,491.7 452.3,491.7 452.3,493.1 452.96,493.1 452.96,494.6 453.58,494.6 453.58,496.1 454.28,496.1 454.28,497.6 455,497.6 455,499.1 456.87,499.1 456.87,500.45 458.8,500.45 458.8,501.8 460.4,501.8 460.4,501.97 462.56,501.97 462.56,502.13 464.3,502.13 464.3,502.3 465.4,502.3 465.4,504.5 481.2,504.5 481.7,511.6 528,511.6" fill="none" stroke="#f02a2a" stroke-width="1.1" stroke-linejoin="miter"/>
<line x1="440.1" y1="461.1" x2="440.1" y2="462.9" stroke="#f02a2a" stroke-width="0.5"/>
<line x1="457.27" y1="499.55" x2="457.27" y2="501.35" stroke="#f02a2a" stroke-width="0.5"/>
<line x1="460.8" y1="501.07" x2="460.8" y2="502.87" stroke="#f02a2a" stroke-width="0.5"/>
<line x1="464.7" y1="501.4" x2="464.7" y2="503.2" stroke="#f02a2a" stroke-width="0.5"/>
<line x1="482.1" y1="510.7" x2="482.1" y2="512.5" stroke="#f02a2a" stroke-width="0.5"/>
<polyline points="439.7,462 442.5,462 442.5,463.6 443.33,463.6 443.33,465.07 444.24,465.07 444.24,466.53 445.09,466.53 445.09,468 446.05,468 446.05,469.47 447.12,469.47 447.12,470.93 447.9,470.93 447.9,472.4 448.58,472.4 448.58,473.79 449.26,473.79 449.26,475.18 450.03,475.18 450.03,476.57 450.89,476.57 450.89,477.96 451.42,477.96 451.42,479.34 452.2,479.34 452.2,480.73 452.89,480.73 452.89,482.12 453.72,482.12 453.72,483.51 454.4,483.51 454.4,484.9 464.8,484.9 465.34,484.9 465.34,486.25 465.9,486.25 465.9,487.6 471.4,487.6 471.75,487.6 471.75,489.25 472.24,489.25 472.24,490.9 472.58,490.9 472.58,492.55 473,492.55 473,494.2 473.39,494.2 473.39,495.63 473.73,495.63 473.73,497.07 474.1,497.07 474.1,498.5 487.7,498.5 488.3,504.5 533,504.5" fill="none" stroke="#2b2bf0" stroke-width="1.25" stroke-linejoin="miter"/>
<line x1="440.1" y1="461.1" x2="440.1" y2="462.9" stroke="#2b2bf0" stroke-width="0.5"/>
<line x1="443.73" y1="464.17" x2="443.73" y2="465.97" stroke="#2b2bf0" stroke-width="0.5"/>
<line x1="445.49" y1="467.1" x2="445.49" y2="468.9" stroke="#2b2bf0" stroke-width="0.5"/>
<line x1="450.43" y1="475.67" x2="450.43" y2="477.47" stroke="#2b2bf0" stroke-width="0.5"/>
<line x1="454.8" y1="484" x2="454.8" y2="485.8" stroke="#2b2bf0" stroke-width="0.5"/>
<line x1="474.5" y1="497.6" x2="474.5" y2="499.4" stroke="#2b2bf0" stroke-width="0.5"/>
<line x1="491.6" y1="462.7" x2="499.8" y2="462.7" stroke="#7070f4" stroke-width="1.2"/>
<line x1="491.6" y1="466.8" x2="499.8" y2="466.8" stroke="#f47070" stroke-width="1.2"/>
<text x="534" y="464.1" font-size="4.1" text-anchor="end" fill="#333" font-family="'Liberation Sans', sans-serif" stroke="#333" stroke-width="0.12">Low GDF6 Group</text>
<text x="534" y="468.2" font-size="4.1" text-anchor="end" fill="#333" font-family="'Liberation Sans', sans-serif" stroke="#333" stroke-width="0.12">High GDF6 Group</text>
<text x="534" y="472.7" font-size="4.1" text-anchor="end" fill="#333" font-family="'Liberation Sans', sans-serif" stroke="#333" stroke-width="0.12">Logrank p=0.0026</text>
<text x="534" y="477.65" font-size="4.1" text-anchor="end" fill="#333" font-family="'Liberation Sans', sans-serif" stroke="#333" stroke-width="0.12">HR(high)=1.8</text>
<text x="534" y="482.6" font-size="4.1" text-anchor="end" fill="#333" font-family="'Liberation Sans', sans-serif" stroke="#333" stroke-width="0.12">p(HR)=0.003</text>
<text x="534" y="487.55" font-size="4.1" text-anchor="end" fill="#333" font-family="'Liberation Sans', sans-serif" stroke="#333" stroke-width="0.12">n(high)=189</text>
<text x="534" y="492.5" font-size="4.1" text-anchor="end" fill="#333" font-family="'Liberation Sans', sans-serif" stroke="#333" stroke-width="0.12">n(low)=190</text>
<text x="36.4" y="590.5" font-size="7" text-anchor="start" fill="#000" font-family="'Liberation Sans', sans-serif" font-weight="bold">L</text>
<text x="108" y="585.6" font-size="4.7" text-anchor="middle" fill="#111" font-family="'Liberation Sans', sans-serif" font-weight="bold">GDF6</text>
<rect x="57.4" y="591.4" width="100.6" height="84.9" fill="none" stroke="#999999" stroke-width="0.7"/>
<line x1="55.8" y1="672.8" x2="57.4" y2="672.8" stroke="#666" stroke-width="0.5"/>
<text x="53.4" y="672.8" font-size="4.2" text-anchor="middle" fill="#444" font-family="'Liberation Sans', sans-serif" transform="rotate(-90 53.4 672.8)">0.0</text>
<line x1="55.8" y1="657.3" x2="57.4" y2="657.3" stroke="#666" stroke-width="0.5"/>
<text x="53.4" y="657.3" font-size="4.2" text-anchor="middle" fill="#444" font-family="'Liberation Sans', sans-serif" transform="rotate(-90 53.4 657.3)">0.2</text>
<line x1="55.8" y1="641.8" x2="57.4" y2="641.8" stroke="#666" stroke-width="0.5"/>
<text x="53.4" y="641.8" font-size="4.2" text-anchor="middle" fill="#444" font-family="'Liberation Sans', sans-serif" transform="rotate(-90 53.4 641.8)">0.4</text>
<line x1="55.8" y1="626.3" x2="57.4" y2="626.3" stroke="#666" stroke-width="0.5"/>
<text x="53.4" y="626.3" font-size="4.2" text-anchor="middle" fill="#444" font-family="'Liberation Sans', sans-serif" transform="rotate(-90 53.4 626.3)">0.6</text>
<line x1="55.8" y1="610.8" x2="57.4" y2="610.8" stroke="#666" stroke-width="0.5"/>
<text x="53.4" y="610.8" font-size="4.2" text-anchor="middle" fill="#444" font-family="'Liberation Sans', sans-serif" transform="rotate(-90 53.4 610.8)">0.8</text>
<line x1="55.8" y1="595.3" x2="57.4" y2="595.3" stroke="#666" stroke-width="0.5"/>
<text x="53.4" y="595.3" font-size="4.2" text-anchor="middle" fill="#444" font-family="'Liberation Sans', sans-serif" transform="rotate(-90 53.4 595.3)">1.0</text>
<text x="45.8" y="633.85" font-size="4.7" text-anchor="middle" fill="#222" font-family="'Liberation Sans', sans-serif" transform="rotate(-90 45.8 633.85)" stroke="#222" stroke-width="0.12">Probability</text>
<line x1="61.6" y1="676.3" x2="61.6" y2="677.9" stroke="#666" stroke-width="0.5"/>
<text x="61.6" y="682.9" font-size="4.6" text-anchor="middle" fill="#333" font-family="'Liberation Sans', sans-serif" stroke="#333" stroke-width="0.12">0</text>
<line x1="78.2" y1="676.3" x2="78.2" y2="677.9" stroke="#666" stroke-width="0.5"/>
<text x="78.2" y="682.9" font-size="4.6" text-anchor="middle" fill="#333" font-family="'Liberation Sans', sans-serif" stroke="#333" stroke-width="0.12">10</text>
<line x1="94.7" y1="676.3" x2="94.7" y2="677.9" stroke="#666" stroke-width="0.5"/>
<text x="94.7" y="682.9" font-size="4.6" text-anchor="middle" fill="#333" font-family="'Liberation Sans', sans-serif" stroke="#333" stroke-width="0.12">20</text>
<line x1="111.6" y1="676.3" x2="111.6" y2="677.9" stroke="#666" stroke-width="0.5"/>
<text x="111.6" y="682.9" font-size="4.6" text-anchor="middle" fill="#333" font-family="'Liberation Sans', sans-serif" stroke="#333" stroke-width="0.12">30</text>
<line x1="128.2" y1="676.3" x2="128.2" y2="677.9" stroke="#666" stroke-width="0.5"/>
<text x="128.2" y="682.9" font-size="4.6" text-anchor="middle" fill="#333" font-family="'Liberation Sans', sans-serif" stroke="#333" stroke-width="0.12">40</text>
<line x1="144.6" y1="676.3" x2="144.6" y2="677.9" stroke="#666" stroke-width="0.5"/>
<text x="144.6" y="682.9" font-size="4.6" text-anchor="middle" fill="#333" font-family="'Liberation Sans', sans-serif" stroke="#333" stroke-width="0.12">50</text>
<text x="108.2" y="690.5" font-size="4.8" text-anchor="middle" fill="#111" font-family="'Liberation Sans', sans-serif" stroke="#111" stroke-width="0.12">Time (months)</text>
<polyline points="61.5,594.4 62.13,594.4 62.13,595.9 62.74,595.9 62.74,597.4 63.4,597.4 63.4,598.9 63.73,598.9 63.73,600.4 64.19,600.4 64.19,601.9 64.47,601.9 64.47,603.4 64.9,603.4 64.9,604.9 65.4,613.8 65.9,620.7 67.4,620.7 67.4,622.7 69.15,622.7 69.15,624.45 70.9,624.45 70.9,626.2 73.08,626.2 73.08,627.7 74.8,627.7 74.8,629.2 76.26,629.2 76.26,630.03 78.16,630.03 78.16,630.87 79.8,630.87 79.8,631.7 81.35,631.7 81.35,632.05 82.59,632.05 82.59,632.4 84.25,632.4 84.25,632.75 85.8,632.75 85.8,633.1 87.53,633.1 87.53,633.27 89.04,633.27 89.04,633.43 90.7,633.43 90.7,633.6 92.57,633.6 92.57,633.85 94.02,633.85 94.02,634.1 95.81,634.1 95.81,634.35 97.7,634.35 97.7,634.6 99.18,634.6 99.18,635.3 101.05,635.3 101.05,636 102.94,636 102.94,636.7 104.4,636.7 104.4,637.4 114.2,637.4 114.7,639.6 116.29,639.6 116.29,639.7 117.93,639.7 117.93,639.8 119.3,639.8 119.3,639.9 121.01,639.9 121.01,640 122.26,640 122.26,640.1 124,640.1 124,640.2 124.52,640.2 124.52,641.8 125.1,641.8 125.1,643.4 127.1,643.4 127.1,643.7 128.9,643.7 128.9,644 129.4,651.6 150.7,651.6" fill="none" stroke="#3a3a3a" stroke-width="0.6"/>
<line x1="66.4" y1="619.7" x2="66.4" y2="621.7" stroke="#3a3a3a" stroke-width="0.55"/>
<line x1="69.65" y1="623.45" x2="69.65" y2="625.45" stroke="#3a3a3a" stroke-width="0.55"/>
<line x1="73.58" y1="626.7" x2="73.58" y2="628.7" stroke="#3a3a3a" stroke-width="0.55"/>
<line x1="76.76" y1="629.03" x2="76.76" y2="631.03" stroke="#3a3a3a" stroke-width="0.55"/>
<line x1="80.3" y1="630.7" x2="80.3" y2="632.7" stroke="#3a3a3a" stroke-width="0.55"/>
<line x1="83.09" y1="631.4" x2="83.09" y2="633.4" stroke="#3a3a3a" stroke-width="0.55"/>
<line x1="86.3" y1="632.1" x2="86.3" y2="634.1" stroke="#3a3a3a" stroke-width="0.55"/>
<line x1="89.54" y1="632.43" x2="89.54" y2="634.43" stroke="#3a3a3a" stroke-width="0.55"/>
<line x1="93.07" y1="632.85" x2="93.07" y2="634.85" stroke="#3a3a3a" stroke-width="0.55"/>
<line x1="96.31" y1="633.35" x2="96.31" y2="635.35" stroke="#3a3a3a" stroke-width="0.55"/>
<line x1="99.68" y1="634.3" x2="99.68" y2="636.3" stroke="#3a3a3a" stroke-width="0.55"/>
<line x1="103.44" y1="635.7" x2="103.44" y2="637.7" stroke="#3a3a3a" stroke-width="0.55"/>
<line x1="115.2" y1="638.6" x2="115.2" y2="640.6" stroke="#3a3a3a" stroke-width="0.55"/>
<line x1="118.43" y1="638.8" x2="118.43" y2="640.8" stroke="#3a3a3a" stroke-width="0.55"/>
<line x1="121.51" y1="639" x2="121.51" y2="641" stroke="#3a3a3a" stroke-width="0.55"/>
<line x1="125.6" y1="642.4" x2="125.6" y2="644.4" stroke="#3a3a3a" stroke-width="0.55"/>
<line x1="129.9" y1="650.6" x2="129.9" y2="652.6" stroke="#3a3a3a" stroke-width="0.55"/>
<polyline points="61.5,594.4 62.18,594.4 62.18,595.9 62.75,595.9 62.75,597.4 63.4,597.4 63.4,598.9 63.73,598.9 63.73,600.4 64.12,600.4 64.12,601.9 64.49,601.9 64.49,603.4 64.9,603.4 64.9,604.9 65.4,613.8 65.9,620.7 66.4,627.7 67.57,627.7 67.57,629.2 68.9,629.2 68.9,630.7 70.54,630.7 70.54,632.4 71.9,632.4 71.9,634.1 73.67,634.1 73.67,635.35 75.8,635.35 75.8,636.6 78.03,636.6 78.03,637.1 79.8,637.1 79.8,637.6 82.03,637.6 82.03,639.1 83.8,639.1 83.8,640.6 85.49,640.6 85.49,641.6 87.7,641.6 87.7,642.6 89.15,642.6 89.15,644.05 90.7,644.05 90.7,645.5 92.36,645.5 92.36,646.33 93.8,646.33 93.8,647.17 95.7,647.17 95.7,648 97.3,648 97.3,648.33 99.17,648.33 99.17,648.67 100.6,648.67 100.6,649 102.28,649 102.28,650.05 104.4,650.05 104.4,651.1 105.96,651.1 105.96,651.32 107.27,651.32 107.27,651.54 109,651.54 109,651.76 110.66,651.76 110.66,651.98 112,651.98 112,652.2 127.3,652.2 128.03,652.2 128.03,653.55 128.9,653.55 128.9,654.9 130.18,654.9 130.18,655.02 131.71,655.02 131.71,655.15 133.42,655.15 133.42,655.27 134.9,655.27 134.9,655.4 135.4,658.2 155.6,658.2" fill="none" stroke="#f26088" stroke-width="0.6"/>
<line x1="66.9" y1="626.7" x2="66.9" y2="628.7" stroke="#f26088" stroke-width="0.55"/>
<line x1="69.4" y1="629.7" x2="69.4" y2="631.7" stroke="#f26088" stroke-width="0.55"/>
<line x1="72.4" y1="633.1" x2="72.4" y2="635.1" stroke="#f26088" stroke-width="0.55"/>
<line x1="76.3" y1="635.6" x2="76.3" y2="637.6" stroke="#f26088" stroke-width="0.55"/>
<line x1="80.3" y1="636.6" x2="80.3" y2="638.6" stroke="#f26088" stroke-width="0.55"/>
<line x1="84.3" y1="639.6" x2="84.3" y2="641.6" stroke="#f26088" stroke-width="0.55"/>
<line x1="88.2" y1="641.6" x2="88.2" y2="643.6" stroke="#f26088" stroke-width="0.55"/>
<line x1="91.2" y1="644.5" x2="91.2" y2="646.5" stroke="#f26088" stroke-width="0.55"/>
<line x1="94.3" y1="646.17" x2="94.3" y2="648.17" stroke="#f26088" stroke-width="0.55"/>
<line x1="97.8" y1="647.33" x2="97.8" y2="649.33" stroke="#f26088" stroke-width="0.55"/>
<line x1="101.1" y1="648" x2="101.1" y2="650" stroke="#f26088" stroke-width="0.55"/>
<line x1="104.9" y1="650.1" x2="104.9" y2="652.1" stroke="#f26088" stroke-width="0.55"/>
<line x1="107.77" y1="650.54" x2="107.77" y2="652.54" stroke="#f26088" stroke-width="0.55"/>
<line x1="111.16" y1="650.98" x2="111.16" y2="652.98" stroke="#f26088" stroke-width="0.55"/>
<line x1="128.53" y1="652.55" x2="128.53" y2="654.55" stroke="#f26088" stroke-width="0.55"/>
<line x1="130.68" y1="654.02" x2="130.68" y2="656.02" stroke="#f26088" stroke-width="0.55"/>
<line x1="133.92" y1="654.27" x2="133.92" y2="656.27" stroke="#f26088" stroke-width="0.55"/>
<text x="156.5" y="597.4" font-size="4.5" text-anchor="end" fill="#111" font-family="'Liberation Sans', sans-serif" stroke="#111" stroke-width="0.12">HR = 1.43 (1.08 − 1.89)</text>
<text x="156.3" y="603.1" font-size="4.5" text-anchor="end" fill="#111" font-family="'Liberation Sans', sans-serif" stroke="#111" stroke-width="0.12">logrank P = 0.011</text>
<text x="59.8" y="661.9" font-size="4.8" text-anchor="start" fill="#111" font-family="'Liberation Sans', sans-serif" stroke="#111" stroke-width="0.12">Expression</text>
<line x1="61.4" y1="666.7" x2="70" y2="666.7" stroke="#bbbbbb" stroke-width="0.8"/>
<line x1="61.4" y1="671.5" x2="70" y2="671.5" stroke="#f8c0d0" stroke-width="0.8"/>
<text x="74" y="668.8" font-size="4.6" text-anchor="start" fill="#111" font-family="'Liberation Sans', sans-serif" stroke="#111" stroke-width="0.12">low</text>
<text x="74" y="673.6" font-size="4.6" text-anchor="start" fill="#111" font-family="'Liberation Sans', sans-serif" stroke="#111" stroke-width="0.12">high</text>
<text x="57.6" y="694.3" font-size="3.1" text-anchor="start" fill="#111" font-family="'Liberation Sans', sans-serif" stroke="#111" stroke-width="0.12">Number at risk</text>
<text x="48.4" y="698.3" font-size="2.9" text-anchor="start" fill="#111" font-family="'Liberation Sans', sans-serif" stroke="#111" stroke-width="0.12">low</text>
<text x="48.4" y="701.9" font-size="2.9" text-anchor="start" fill="#f26088" font-family="'Liberation Sans', sans-serif">high</text>
<text x="61.6" y="698.3" font-size="2.9" text-anchor="middle" fill="#111" font-family="'Liberation Sans', sans-serif" stroke="#111" stroke-width="0.12">117</text>
<text x="61.6" y="701.9" font-size="2.9" text-anchor="middle" fill="#f26088" font-family="'Liberation Sans', sans-serif">345</text>
<text x="78.2" y="698.3" font-size="2.9" text-anchor="middle" fill="#111" font-family="'Liberation Sans', sans-serif" stroke="#111" stroke-width="0.12">55</text>
<text x="78.2" y="701.9" font-size="2.9" text-anchor="middle" fill="#f26088" font-family="'Liberation Sans', sans-serif">146</text>
<text x="94.7" y="698.3" font-size="2.9" text-anchor="middle" fill="#111" font-family="'Liberation Sans', sans-serif" stroke="#111" stroke-width="0.12">38</text>
<text x="94.7" y="701.9" font-size="2.9" text-anchor="middle" fill="#f26088" font-family="'Liberation Sans', sans-serif">86</text>
<text x="111.6" y="698.3" font-size="2.9" text-anchor="middle" fill="#111" font-family="'Liberation Sans', sans-serif" stroke="#111" stroke-width="0.12">17</text>
<text x="111.6" y="701.9" font-size="2.9" text-anchor="middle" fill="#f26088" font-family="'Liberation Sans', sans-serif">33</text>
<text x="128.2" y="698.3" font-size="2.9" text-anchor="middle" fill="#111" font-family="'Liberation Sans', sans-serif" stroke="#111" stroke-width="0.12">4</text>
<text x="128.2" y="701.9" font-size="2.9" text-anchor="middle" fill="#f26088" font-family="'Liberation Sans', sans-serif">7</text>
<text x="144.6" y="698.3" font-size="2.9" text-anchor="middle" fill="#111" font-family="'Liberation Sans', sans-serif" stroke="#111" stroke-width="0.12">2</text>
<text x="144.6" y="701.9" font-size="2.9" text-anchor="middle" fill="#f26088" font-family="'Liberation Sans', sans-serif">4</text>
<text x="165.4" y="591.4" font-size="7" text-anchor="start" fill="#000" font-family="'Liberation Sans', sans-serif" font-weight="bold">M</text>
<text x="235.25" y="585.6" font-size="4.7" text-anchor="middle" fill="#111" font-family="'Liberation Sans', sans-serif" font-weight="bold">GDF6</text>
<rect x="184.6" y="591.4" width="100.7" height="84.9" fill="none" stroke="#999999" stroke-width="0.7"/>
<line x1="183" y1="672.8" x2="184.6" y2="672.8" stroke="#666" stroke-width="0.5"/>
<text x="180.6" y="672.8" font-size="4.2" text-anchor="middle" fill="#444" font-family="'Liberation Sans', sans-serif" transform="rotate(-90 180.6 672.8)">0.0</text>
<line x1="183" y1="657.3" x2="184.6" y2="657.3" stroke="#666" stroke-width="0.5"/>
<text x="180.6" y="657.3" font-size="4.2" text-anchor="middle" fill="#444" font-family="'Liberation Sans', sans-serif" transform="rotate(-90 180.6 657.3)">0.2</text>
<line x1="183" y1="641.8" x2="184.6" y2="641.8" stroke="#666" stroke-width="0.5"/>
<text x="180.6" y="641.8" font-size="4.2" text-anchor="middle" fill="#444" font-family="'Liberation Sans', sans-serif" transform="rotate(-90 180.6 641.8)">0.4</text>
<line x1="183" y1="626.3" x2="184.6" y2="626.3" stroke="#666" stroke-width="0.5"/>
<text x="180.6" y="626.3" font-size="4.2" text-anchor="middle" fill="#444" font-family="'Liberation Sans', sans-serif" transform="rotate(-90 180.6 626.3)">0.6</text>
<line x1="183" y1="610.8" x2="184.6" y2="610.8" stroke="#666" stroke-width="0.5"/>
<text x="180.6" y="610.8" font-size="4.2" text-anchor="middle" fill="#444" font-family="'Liberation Sans', sans-serif" transform="rotate(-90 180.6 610.8)">0.8</text>
<line x1="183" y1="595.3" x2="184.6" y2="595.3" stroke="#666" stroke-width="0.5"/>
<text x="180.6" y="595.3" font-size="4.2" text-anchor="middle" fill="#444" font-family="'Liberation Sans', sans-serif" transform="rotate(-90 180.6 595.3)">1.0</text>
<text x="173" y="633.85" font-size="4.7" text-anchor="middle" fill="#222" font-family="'Liberation Sans', sans-serif" transform="rotate(-90 173 633.85)" stroke="#222" stroke-width="0.12">Probability</text>
<line x1="188.4" y1="676.3" x2="188.4" y2="677.9" stroke="#666" stroke-width="0.5"/>
<text x="188.4" y="682.9" font-size="4.6" text-anchor="middle" fill="#333" font-family="'Liberation Sans', sans-serif" stroke="#333" stroke-width="0.12">0</text>
<line x1="205" y1="676.3" x2="205" y2="677.9" stroke="#666" stroke-width="0.5"/>
<text x="205" y="682.9" font-size="4.6" text-anchor="middle" fill="#333" font-family="'Liberation Sans', sans-serif" stroke="#333" stroke-width="0.12">10</text>
<line x1="221.7" y1="676.3" x2="221.7" y2="677.9" stroke="#666" stroke-width="0.5"/>
<text x="221.7" y="682.9" font-size="4.6" text-anchor="middle" fill="#333" font-family="'Liberation Sans', sans-serif" stroke="#333" stroke-width="0.12">20</text>
<line x1="238.6" y1="676.3" x2="238.6" y2="677.9" stroke="#666" stroke-width="0.5"/>
<text x="238.6" y="682.9" font-size="4.6" text-anchor="middle" fill="#333" font-family="'Liberation Sans', sans-serif" stroke="#333" stroke-width="0.12">30</text>
<line x1="255.3" y1="676.3" x2="255.3" y2="677.9" stroke="#666" stroke-width="0.5"/>
<text x="255.3" y="682.9" font-size="4.6" text-anchor="middle" fill="#333" font-family="'Liberation Sans', sans-serif" stroke="#333" stroke-width="0.12">40</text>
<line x1="271.9" y1="676.3" x2="271.9" y2="677.9" stroke="#666" stroke-width="0.5"/>
<text x="271.9" y="682.9" font-size="4.6" text-anchor="middle" fill="#333" font-family="'Liberation Sans', sans-serif" stroke="#333" stroke-width="0.12">50</text>
<text x="235.45" y="690.5" font-size="4.8" text-anchor="middle" fill="#111" font-family="'Liberation Sans', sans-serif" stroke="#111" stroke-width="0.12">Time (months)</text>
<polyline points="188.5,594.4 189.53,594.4 189.53,596.15 190.9,596.15 190.9,597.9 191.19,597.9 191.19,599.9 191.57,599.9 191.57,601.9 191.9,601.9 191.9,603.9 192.4,613.8 192.9,621.7 194.4,621.7 194.4,623.7 196.37,623.7 196.37,624.95 197.9,624.95 197.9,626.2 199.49,626.2 199.49,626.7 201.12,626.7 201.12,627.2 202.8,627.2 202.8,627.7 204.36,627.7 204.36,627.95 205.62,627.95 205.62,628.2 207.34,628.2 207.34,628.45 208.8,628.45 208.8,628.7 210.36,628.7 210.36,629.2 212.31,629.2 212.31,629.7 214.21,629.7 214.21,630.2 215.7,630.2 215.7,630.7 217,630.7 217,630.87 218.72,630.87 218.72,631.03 220.25,631.03 220.25,631.2 221.54,631.2 221.54,631.37 223.1,631.37 223.1,631.53 224.7,631.53 224.7,631.7 229.6,631.7 231.3,631.7 231.3,634.2 241.1,634.2 241.6,636.9 243.48,636.9 243.48,636.98 245.11,636.98 245.11,637.07 246.31,637.07 246.31,637.15 248.23,637.15 248.23,637.23 249.99,637.23 249.99,637.32 251.4,637.32 251.4,637.4 251.91,637.4 251.91,639.35 252.5,639.35 252.5,641.3 254.52,641.3 254.52,641.55 256.4,641.55 256.4,641.8 256.9,649.4 277.6,649.4" fill="none" stroke="#3a3a3a" stroke-width="0.6"/>
<line x1="189" y1="593.4" x2="189" y2="595.4" stroke="#3a3a3a" stroke-width="0.55"/>
<line x1="193.4" y1="620.7" x2="193.4" y2="622.7" stroke="#3a3a3a" stroke-width="0.55"/>
<line x1="196.87" y1="623.95" x2="196.87" y2="625.95" stroke="#3a3a3a" stroke-width="0.55"/>
<line x1="199.99" y1="625.7" x2="199.99" y2="627.7" stroke="#3a3a3a" stroke-width="0.55"/>
<line x1="203.3" y1="626.7" x2="203.3" y2="628.7" stroke="#3a3a3a" stroke-width="0.55"/>
<line x1="206.12" y1="627.2" x2="206.12" y2="629.2" stroke="#3a3a3a" stroke-width="0.55"/>
<line x1="209.3" y1="627.7" x2="209.3" y2="629.7" stroke="#3a3a3a" stroke-width="0.55"/>
<line x1="212.81" y1="628.7" x2="212.81" y2="630.7" stroke="#3a3a3a" stroke-width="0.55"/>
<line x1="216.2" y1="629.7" x2="216.2" y2="631.7" stroke="#3a3a3a" stroke-width="0.55"/>
<line x1="219.22" y1="630.03" x2="219.22" y2="632.03" stroke="#3a3a3a" stroke-width="0.55"/>
<line x1="222.04" y1="630.37" x2="222.04" y2="632.37" stroke="#3a3a3a" stroke-width="0.55"/>
<line x1="225.2" y1="630.7" x2="225.2" y2="632.7" stroke="#3a3a3a" stroke-width="0.55"/>
<line x1="231.8" y1="633.2" x2="231.8" y2="635.2" stroke="#3a3a3a" stroke-width="0.55"/>
<line x1="243.98" y1="635.98" x2="243.98" y2="637.98" stroke="#3a3a3a" stroke-width="0.55"/>
<line x1="246.81" y1="636.15" x2="246.81" y2="638.15" stroke="#3a3a3a" stroke-width="0.55"/>
<line x1="250.49" y1="636.32" x2="250.49" y2="638.32" stroke="#3a3a3a" stroke-width="0.55"/>
<line x1="255.02" y1="640.55" x2="255.02" y2="642.55" stroke="#3a3a3a" stroke-width="0.55"/>
<polyline points="188.5,594.4 189.54,594.4 189.54,596.15 190.9,596.15 190.9,597.9 191.22,597.9 191.22,599.9 191.58,599.9 191.58,601.9 191.9,601.9 191.9,603.9 192.4,613.8 192.9,631.7 193.41,631.7 193.41,633.15 193.9,633.15 193.9,634.6 195.34,634.6 195.34,636.27 196.4,636.27 196.4,637.93 197.9,637.93 197.9,639.6 199.46,639.6 199.46,641.07 201.35,641.07 201.35,642.53 202.8,642.53 202.8,644 204.51,644 204.51,644.83 206.11,644.83 206.11,645.67 207.8,645.67 207.8,646.5 209.33,646.5 209.33,646.7 211.19,646.7 211.19,646.9 212.58,646.9 212.58,647.1 213.89,647.1 213.89,647.3 215.7,647.3 215.7,647.5 237.8,647.8 238.9,647.8 238.9,649.4 261.8,649.4 262.2,649.4 262.2,651.07 262.51,651.07 262.51,652.73 262.9,652.73 262.9,654.4 282.5,654.4" fill="none" stroke="#f26088" stroke-width="0.6"/>
<line x1="189" y1="593.4" x2="189" y2="595.4" stroke="#f26088" stroke-width="0.55"/>
<line x1="194.4" y1="633.6" x2="194.4" y2="635.6" stroke="#f26088" stroke-width="0.55"/>
<line x1="196.9" y1="636.93" x2="196.9" y2="638.93" stroke="#f26088" stroke-width="0.55"/>
<line x1="199.96" y1="640.07" x2="199.96" y2="642.07" stroke="#f26088" stroke-width="0.55"/>
<line x1="203.3" y1="643" x2="203.3" y2="645" stroke="#f26088" stroke-width="0.55"/>
<line x1="206.61" y1="644.67" x2="206.61" y2="646.67" stroke="#f26088" stroke-width="0.55"/>
<line x1="209.83" y1="645.7" x2="209.83" y2="647.7" stroke="#f26088" stroke-width="0.55"/>
<line x1="213.08" y1="646.1" x2="213.08" y2="648.1" stroke="#f26088" stroke-width="0.55"/>
<line x1="238.3" y1="646.8" x2="238.3" y2="648.8" stroke="#f26088" stroke-width="0.55"/>
<line x1="263.4" y1="653.4" x2="263.4" y2="655.4" stroke="#f26088" stroke-width="0.55"/>
<text x="283.8" y="597.4" font-size="4.5" text-anchor="end" fill="#111" font-family="'Liberation Sans', sans-serif" stroke="#111" stroke-width="0.12">HR = 1.66 (1.19 − 2.32)</text>
<text x="283.6" y="603.1" font-size="4.5" text-anchor="end" fill="#111" font-family="'Liberation Sans', sans-serif" stroke="#111" stroke-width="0.12">logrank P = 0.0024</text>
<text x="187" y="661.9" font-size="4.8" text-anchor="start" fill="#111" font-family="'Liberation Sans', sans-serif" stroke="#111" stroke-width="0.12">Expression</text>
<line x1="188.6" y1="666.7" x2="197.2" y2="666.7" stroke="#bbbbbb" stroke-width="0.8"/>
<line x1="188.6" y1="671.5" x2="197.2" y2="671.5" stroke="#f8c0d0" stroke-width="0.8"/>
<text x="201.2" y="668.8" font-size="4.6" text-anchor="start" fill="#111" font-family="'Liberation Sans', sans-serif" stroke="#111" stroke-width="0.12">low</text>
<text x="201.2" y="673.6" font-size="4.6" text-anchor="start" fill="#111" font-family="'Liberation Sans', sans-serif" stroke="#111" stroke-width="0.12">high</text>
<text x="184.8" y="694.3" font-size="3.1" text-anchor="start" fill="#111" font-family="'Liberation Sans', sans-serif" stroke="#111" stroke-width="0.12">Number at risk</text>
<text x="175.6" y="698.3" font-size="2.9" text-anchor="start" fill="#111" font-family="'Liberation Sans', sans-serif" stroke="#111" stroke-width="0.12">low</text>
<text x="175.6" y="701.9" font-size="2.9" text-anchor="start" fill="#f26088" font-family="'Liberation Sans', sans-serif">high</text>
<text x="188.4" y="698.3" font-size="2.9" text-anchor="middle" fill="#111" font-family="'Liberation Sans', sans-serif" stroke="#111" stroke-width="0.12">95</text>
<text x="188.4" y="701.9" font-size="2.9" text-anchor="middle" fill="#f26088" font-family="'Liberation Sans', sans-serif">120</text>
<text x="205" y="698.3" font-size="2.9" text-anchor="middle" fill="#111" font-family="'Liberation Sans', sans-serif" stroke="#111" stroke-width="0.12">51</text>
<text x="205" y="701.9" font-size="2.9" text-anchor="middle" fill="#f26088" font-family="'Liberation Sans', sans-serif">56</text>
<text x="221.7" y="698.3" font-size="2.9" text-anchor="middle" fill="#111" font-family="'Liberation Sans', sans-serif" stroke="#111" stroke-width="0.12">35</text>
<text x="221.7" y="701.9" font-size="2.9" text-anchor="middle" fill="#f26088" font-family="'Liberation Sans', sans-serif">34</text>
<text x="238.6" y="698.3" font-size="2.9" text-anchor="middle" fill="#111" font-family="'Liberation Sans', sans-serif" stroke="#111" stroke-width="0.12">17</text>
<text x="238.6" y="701.9" font-size="2.9" text-anchor="middle" fill="#f26088" font-family="'Liberation Sans', sans-serif">14</text>
<text x="255.3" y="698.3" font-size="2.9" text-anchor="middle" fill="#111" font-family="'Liberation Sans', sans-serif" stroke="#111" stroke-width="0.12">4</text>
<text x="255.3" y="701.9" font-size="2.9" text-anchor="middle" fill="#f26088" font-family="'Liberation Sans', sans-serif">3</text>
<text x="271.9" y="698.3" font-size="2.9" text-anchor="middle" fill="#111" font-family="'Liberation Sans', sans-serif" stroke="#111" stroke-width="0.12">2</text>
<text x="271.9" y="701.9" font-size="2.9" text-anchor="middle" fill="#f26088" font-family="'Liberation Sans', sans-serif">3</text>
<text x="292.2" y="591.4" font-size="7" text-anchor="start" fill="#000" font-family="'Liberation Sans', sans-serif" font-weight="bold">N</text>
<text x="362.3" y="585.6" font-size="4.7" text-anchor="middle" fill="#111" font-family="'Liberation Sans', sans-serif" font-weight="bold">GDF6</text>
<rect x="311.6" y="591.4" width="100.8" height="84.9" fill="none" stroke="#999999" stroke-width="0.7"/>
<line x1="310" y1="672.8" x2="311.6" y2="672.8" stroke="#666" stroke-width="0.5"/>
<text x="307.6" y="672.8" font-size="4.2" text-anchor="middle" fill="#444" font-family="'Liberation Sans', sans-serif" transform="rotate(-90 307.6 672.8)">0.0</text>
<line x1="310" y1="657.3" x2="311.6" y2="657.3" stroke="#666" stroke-width="0.5"/>
<text x="307.6" y="657.3" font-size="4.2" text-anchor="middle" fill="#444" font-family="'Liberation Sans', sans-serif" transform="rotate(-90 307.6 657.3)">0.2</text>
<line x1="310" y1="641.8" x2="311.6" y2="641.8" stroke="#666" stroke-width="0.5"/>
<text x="307.6" y="641.8" font-size="4.2" text-anchor="middle" fill="#444" font-family="'Liberation Sans', sans-serif" transform="rotate(-90 307.6 641.8)">0.4</text>
<line x1="310" y1="626.3" x2="311.6" y2="626.3" stroke="#666" stroke-width="0.5"/>
<text x="307.6" y="626.3" font-size="4.2" text-anchor="middle" fill="#444" font-family="'Liberation Sans', sans-serif" transform="rotate(-90 307.6 626.3)">0.6</text>
<line x1="310" y1="610.8" x2="311.6" y2="610.8" stroke="#666" stroke-width="0.5"/>
<text x="307.6" y="610.8" font-size="4.2" text-anchor="middle" fill="#444" font-family="'Liberation Sans', sans-serif" transform="rotate(-90 307.6 610.8)">0.8</text>
<line x1="310" y1="595.3" x2="311.6" y2="595.3" stroke="#666" stroke-width="0.5"/>
<text x="307.6" y="595.3" font-size="4.2" text-anchor="middle" fill="#444" font-family="'Liberation Sans', sans-serif" transform="rotate(-90 307.6 595.3)">1.0</text>
<text x="300" y="633.85" font-size="4.7" text-anchor="middle" fill="#222" font-family="'Liberation Sans', sans-serif" transform="rotate(-90 300 633.85)" stroke="#222" stroke-width="0.12">Probability</text>
<line x1="315.4" y1="676.3" x2="315.4" y2="677.9" stroke="#666" stroke-width="0.5"/>
<text x="315.4" y="682.9" font-size="4.6" text-anchor="middle" fill="#333" font-family="'Liberation Sans', sans-serif" stroke="#333" stroke-width="0.12">0</text>
<line x1="334.5" y1="676.3" x2="334.5" y2="677.9" stroke="#666" stroke-width="0.5"/>
<text x="334.5" y="682.9" font-size="4.6" text-anchor="middle" fill="#333" font-family="'Liberation Sans', sans-serif" stroke="#333" stroke-width="0.12">10</text>
<line x1="353.6" y1="676.3" x2="353.6" y2="677.9" stroke="#666" stroke-width="0.5"/>
<text x="353.6" y="682.9" font-size="4.6" text-anchor="middle" fill="#333" font-family="'Liberation Sans', sans-serif" stroke="#333" stroke-width="0.12">20</text>
<line x1="371.9" y1="676.3" x2="371.9" y2="677.9" stroke="#666" stroke-width="0.5"/>
<text x="371.9" y="682.9" font-size="4.6" text-anchor="middle" fill="#333" font-family="'Liberation Sans', sans-serif" stroke="#333" stroke-width="0.12">30</text>
<line x1="391" y1="676.3" x2="391" y2="677.9" stroke="#666" stroke-width="0.5"/>
<text x="391" y="682.9" font-size="4.6" text-anchor="middle" fill="#333" font-family="'Liberation Sans', sans-serif" stroke="#333" stroke-width="0.12">40</text>
<line x1="409.6" y1="676.3" x2="409.6" y2="677.9" stroke="#666" stroke-width="0.5"/>
<text x="409.6" y="682.9" font-size="4.6" text-anchor="middle" fill="#333" font-family="'Liberation Sans', sans-serif" stroke="#333" stroke-width="0.12">50</text>
<text x="362.5" y="690.5" font-size="4.8" text-anchor="middle" fill="#111" font-family="'Liberation Sans', sans-serif" stroke="#111" stroke-width="0.12">Time (months)</text>
<polyline points="316.4,594.4 316.89,594.4 316.89,595.9 317.36,595.9 317.36,597.4 317.89,597.4 317.89,598.9 318.37,598.9 318.37,600.4 318.9,600.4 318.9,601.9 319.4,602.9 319.9,615.8 320.19,615.8 320.19,621.4 320.58,621.4 320.58,627 320.9,627 320.9,632.6 322.4,632.6 322.4,634.6 324.9,634.6 324.9,635.6 325.49,635.6 325.49,636.93 326.29,636.93 326.29,638.27 326.9,638.27 326.9,639.6 327.31,639.6 327.31,640.95 327.89,640.95 327.89,642.3 328.37,642.3 328.37,643.65 328.8,643.65 328.8,645 330.47,645 330.47,645.17 332.24,645.17 332.24,645.33 333.8,645.33 333.8,645.5 334.8,645.5 334.8,647.5 339.8,647.5 340.8,647.5 340.8,649.5 348.7,649.5 349.7,649.5 349.7,651.5 409.5,651.5" fill="none" stroke="#3a3a3a" stroke-width="0.6"/>
<line x1="321.4" y1="631.6" x2="321.4" y2="633.6" stroke="#3a3a3a" stroke-width="0.55"/>
<line x1="325.99" y1="635.93" x2="325.99" y2="637.93" stroke="#3a3a3a" stroke-width="0.55"/>
<line x1="330.97" y1="644.17" x2="330.97" y2="646.17" stroke="#3a3a3a" stroke-width="0.55"/>
<line x1="334.3" y1="644.5" x2="334.3" y2="646.5" stroke="#3a3a3a" stroke-width="0.55"/>
<line x1="340.3" y1="646.5" x2="340.3" y2="648.5" stroke="#3a3a3a" stroke-width="0.55"/>
<line x1="349.2" y1="648.5" x2="349.2" y2="650.5" stroke="#3a3a3a" stroke-width="0.55"/>
<polyline points="316.4,594.4 316.71,594.4 316.71,597.23 317.09,597.23 317.09,600.07 317.4,600.07 317.4,602.9 319.4,602.9 319.9,615.8 320.39,615.8 320.39,617.27 320.86,617.27 320.86,618.75 321.47,618.75 321.47,620.23 321.9,620.23 321.9,621.7 322.87,621.7 322.87,623.37 323.86,623.37 323.86,625.03 324.9,625.03 324.9,626.7 325.82,626.7 325.82,628.37 326.53,628.37 326.53,630.03 327.4,630.03 327.4,631.7 335.8,631.7 336.8,631.7 336.8,633.6 347.7,633.6 348.49,633.6 348.49,635.05 349.2,635.05 349.2,636.5 385,636.5" fill="none" stroke="#f26088" stroke-width="0.6"/>
<line x1="317.9" y1="601.9" x2="317.9" y2="603.9" stroke="#f26088" stroke-width="0.55"/>
<line x1="323.37" y1="622.37" x2="323.37" y2="624.37" stroke="#f26088" stroke-width="0.55"/>
<line x1="325.4" y1="625.7" x2="325.4" y2="627.7" stroke="#f26088" stroke-width="0.55"/>
<line x1="327.9" y1="630.7" x2="327.9" y2="632.7" stroke="#f26088" stroke-width="0.55"/>
<line x1="337.3" y1="632.6" x2="337.3" y2="634.6" stroke="#f26088" stroke-width="0.55"/>
<text x="410.9" y="597.4" font-size="4.5" text-anchor="end" fill="#111" font-family="'Liberation Sans', sans-serif" stroke="#111" stroke-width="0.12">HR = 0.65 (0.38 − 1.11)</text>
<text x="410.7" y="603.1" font-size="4.5" text-anchor="end" fill="#111" font-family="'Liberation Sans', sans-serif" stroke="#111" stroke-width="0.12">logrank P = 0.11</text>
<text x="314" y="661.9" font-size="4.8" text-anchor="start" fill="#111" font-family="'Liberation Sans', sans-serif" stroke="#111" stroke-width="0.12">Expression</text>
<line x1="315.6" y1="666.7" x2="324.2" y2="666.7" stroke="#bbbbbb" stroke-width="0.8"/>
<line x1="315.6" y1="671.5" x2="324.2" y2="671.5" stroke="#f8c0d0" stroke-width="0.8"/>
<text x="328.2" y="668.8" font-size="4.6" text-anchor="start" fill="#111" font-family="'Liberation Sans', sans-serif" stroke="#111" stroke-width="0.12">low</text>
<text x="328.2" y="673.6" font-size="4.6" text-anchor="start" fill="#111" font-family="'Liberation Sans', sans-serif" stroke="#111" stroke-width="0.12">high</text>
<text x="311.8" y="694.3" font-size="3.1" text-anchor="start" fill="#111" font-family="'Liberation Sans', sans-serif" stroke="#111" stroke-width="0.12">Number at risk</text>
<text x="302.6" y="698.3" font-size="2.9" text-anchor="start" fill="#111" font-family="'Liberation Sans', sans-serif" stroke="#111" stroke-width="0.12">low</text>
<text x="302.6" y="701.9" font-size="2.9" text-anchor="start" fill="#f26088" font-family="'Liberation Sans', sans-serif">high</text>
<text x="315.4" y="698.3" font-size="2.9" text-anchor="middle" fill="#111" font-family="'Liberation Sans', sans-serif" stroke="#111" stroke-width="0.12">41</text>
<text x="315.4" y="701.9" font-size="2.9" text-anchor="middle" fill="#f26088" font-family="'Liberation Sans', sans-serif">50</text>
<text x="334.5" y="698.3" font-size="2.9" text-anchor="middle" fill="#111" font-family="'Liberation Sans', sans-serif" stroke="#111" stroke-width="0.12">14</text>
<text x="334.5" y="701.9" font-size="2.9" text-anchor="middle" fill="#f26088" font-family="'Liberation Sans', sans-serif">23</text>
<text x="353.6" y="698.3" font-size="2.9" text-anchor="middle" fill="#111" font-family="'Liberation Sans', sans-serif" stroke="#111" stroke-width="0.12">8</text>
<text x="353.6" y="701.9" font-size="2.9" text-anchor="middle" fill="#f26088" font-family="'Liberation Sans', sans-serif">10</text>
<text x="371.9" y="698.3" font-size="2.9" text-anchor="middle" fill="#111" font-family="'Liberation Sans', sans-serif" stroke="#111" stroke-width="0.12">1</text>
<text x="371.9" y="701.9" font-size="2.9" text-anchor="middle" fill="#f26088" font-family="'Liberation Sans', sans-serif">2</text>
<text x="391" y="698.3" font-size="2.9" text-anchor="middle" fill="#111" font-family="'Liberation Sans', sans-serif" stroke="#111" stroke-width="0.12">1</text>
<text x="391" y="701.9" font-size="2.9" text-anchor="middle" fill="#f26088" font-family="'Liberation Sans', sans-serif">0</text>
<text x="409.6" y="698.3" font-size="2.9" text-anchor="middle" fill="#111" font-family="'Liberation Sans', sans-serif" stroke="#111" stroke-width="0.12">0</text>
<text x="409.6" y="701.9" font-size="2.9" text-anchor="middle" fill="#f26088" font-family="'Liberation Sans', sans-serif">0</text>
<text x="419.6" y="591.1" font-size="7" text-anchor="start" fill="#000" font-family="'Liberation Sans', sans-serif" font-weight="bold">O</text>
<text x="489.6" y="585.6" font-size="4.7" text-anchor="middle" fill="#111" font-family="'Liberation Sans', sans-serif" font-weight="bold">GDF6</text>
<rect x="438.6" y="591.4" width="101.4" height="84.9" fill="none" stroke="#999999" stroke-width="0.7"/>
<line x1="437" y1="672.8" x2="438.6" y2="672.8" stroke="#666" stroke-width="0.5"/>
<text x="434.6" y="672.8" font-size="4.2" text-anchor="middle" fill="#444" font-family="'Liberation Sans', sans-serif" transform="rotate(-90 434.6 672.8)">0.0</text>
<line x1="437" y1="657.3" x2="438.6" y2="657.3" stroke="#666" stroke-width="0.5"/>
<text x="434.6" y="657.3" font-size="4.2" text-anchor="middle" fill="#444" font-family="'Liberation Sans', sans-serif" transform="rotate(-90 434.6 657.3)">0.2</text>
<line x1="437" y1="641.8" x2="438.6" y2="641.8" stroke="#666" stroke-width="0.5"/>
<text x="434.6" y="641.8" font-size="4.2" text-anchor="middle" fill="#444" font-family="'Liberation Sans', sans-serif" transform="rotate(-90 434.6 641.8)">0.4</text>
<line x1="437" y1="626.3" x2="438.6" y2="626.3" stroke="#666" stroke-width="0.5"/>
<text x="434.6" y="626.3" font-size="4.2" text-anchor="middle" fill="#444" font-family="'Liberation Sans', sans-serif" transform="rotate(-90 434.6 626.3)">0.6</text>
<line x1="437" y1="610.8" x2="438.6" y2="610.8" stroke="#666" stroke-width="0.5"/>
<text x="434.6" y="610.8" font-size="4.2" text-anchor="middle" fill="#444" font-family="'Liberation Sans', sans-serif" transform="rotate(-90 434.6 610.8)">0.8</text>
<line x1="437" y1="595.3" x2="438.6" y2="595.3" stroke="#666" stroke-width="0.5"/>
<text x="434.6" y="595.3" font-size="4.2" text-anchor="middle" fill="#444" font-family="'Liberation Sans', sans-serif" transform="rotate(-90 434.6 595.3)">1.0</text>
<text x="427" y="633.85" font-size="4.7" text-anchor="middle" fill="#222" font-family="'Liberation Sans', sans-serif" transform="rotate(-90 427 633.85)" stroke="#222" stroke-width="0.12">Probability</text>
<line x1="442.6" y1="676.3" x2="442.6" y2="677.9" stroke="#666" stroke-width="0.5"/>
<text x="442.6" y="682.9" font-size="4.6" text-anchor="middle" fill="#333" font-family="'Liberation Sans', sans-serif" stroke="#333" stroke-width="0.12">0</text>
<line x1="466" y1="676.3" x2="466" y2="677.9" stroke="#666" stroke-width="0.5"/>
<text x="466" y="682.9" font-size="4.6" text-anchor="middle" fill="#333" font-family="'Liberation Sans', sans-serif" stroke="#333" stroke-width="0.12">10</text>
<line x1="489.2" y1="676.3" x2="489.2" y2="677.9" stroke="#666" stroke-width="0.5"/>
<text x="489.2" y="682.9" font-size="4.6" text-anchor="middle" fill="#333" font-family="'Liberation Sans', sans-serif" stroke="#333" stroke-width="0.12">20</text>
<line x1="511.8" y1="676.3" x2="511.8" y2="677.9" stroke="#666" stroke-width="0.5"/>
<text x="511.8" y="682.9" font-size="4.6" text-anchor="middle" fill="#333" font-family="'Liberation Sans', sans-serif" stroke="#333" stroke-width="0.12">30</text>
<line x1="535.2" y1="676.3" x2="535.2" y2="677.9" stroke="#666" stroke-width="0.5"/>
<text x="535.2" y="682.9" font-size="4.6" text-anchor="middle" fill="#333" font-family="'Liberation Sans', sans-serif" stroke="#333" stroke-width="0.12">40</text>
<text x="489.8" y="690.5" font-size="4.8" text-anchor="middle" fill="#111" font-family="'Liberation Sans', sans-serif" stroke="#111" stroke-width="0.12">Time (months)</text>
<polyline points="442.5,595.1 443.22,595.1 443.22,597 444.1,597 444.1,598.9 444.54,598.9 444.54,600.27 444.87,600.27 444.87,601.65 445.25,601.65 445.25,603.02 445.7,603.02 445.7,604.4 446.2,604.4 446.2,606.36 446.54,606.36 446.54,608.32 447.08,608.32 447.08,610.28 447.52,610.28 447.52,612.24 447.9,612.24 447.9,614.2 448.31,614.2 448.31,616.65 448.64,616.65 448.64,619.1 449.05,619.1 449.05,621.55 449.5,621.55 449.5,624 450.14,624 450.14,625.35 450.88,625.35 450.88,626.7 451.62,626.7 451.62,628.05 452.3,628.05 452.3,629.4 454.4,629.4 454.4,631.6 456.91,631.6 456.91,632.15 458.8,632.15 458.8,632.7 469.7,632.7 471.8,632.7 471.8,634.35 474.1,634.35 474.1,636 475.05,636 475.05,637.43 476.25,637.43 476.25,638.87 477.3,638.87 477.3,640.3 478.77,640.3 478.77,641.4 480.6,641.4 480.6,642.5 481.08,642.5 481.08,643.88 481.71,643.88 481.71,645.25 482.28,645.25 482.28,646.62 482.8,646.62 482.8,648 484.71,648 484.71,648.55 487.2,648.55 487.2,649.1 487.74,649.1 487.74,650.65 488.3,650.65 488.3,652.2 495.9,652.2 497.33,652.2 497.33,654.1 498.6,654.1 498.6,656 500.24,656 500.24,656.04 501.58,656.04 501.58,656.08 503.32,656.08 503.32,656.12 504.51,656.12 504.51,656.15 506.27,656.15 506.27,656.19 507.82,656.19 507.82,656.23 509.38,656.23 509.38,656.27 510.72,656.27 510.72,656.31 512.06,656.31 512.06,656.35 513.55,656.35 513.55,656.38 515.28,656.38 515.28,656.42 516.64,656.42 516.64,656.46 518.3,656.46 518.3,656.5" fill="none" stroke="#3a3a3a" stroke-width="0.6"/>
<line x1="443.72" y1="596" x2="443.72" y2="598" stroke="#3a3a3a" stroke-width="0.55"/>
<line x1="454.9" y1="630.6" x2="454.9" y2="632.6" stroke="#3a3a3a" stroke-width="0.55"/>
<line x1="459.3" y1="631.7" x2="459.3" y2="633.7" stroke="#3a3a3a" stroke-width="0.55"/>
<line x1="472.3" y1="633.35" x2="472.3" y2="635.35" stroke="#3a3a3a" stroke-width="0.55"/>
<line x1="475.55" y1="636.43" x2="475.55" y2="638.43" stroke="#3a3a3a" stroke-width="0.55"/>
<line x1="477.8" y1="639.3" x2="477.8" y2="641.3" stroke="#3a3a3a" stroke-width="0.55"/>
<line x1="483.3" y1="647" x2="483.3" y2="649" stroke="#3a3a3a" stroke-width="0.55"/>
<line x1="488.8" y1="651.2" x2="488.8" y2="653.2" stroke="#3a3a3a" stroke-width="0.55"/>
<line x1="497.83" y1="653.1" x2="497.83" y2="655.1" stroke="#3a3a3a" stroke-width="0.55"/>
<line x1="500.74" y1="655.04" x2="500.74" y2="657.04" stroke="#3a3a3a" stroke-width="0.55"/>
<line x1="503.82" y1="655.12" x2="503.82" y2="657.12" stroke="#3a3a3a" stroke-width="0.55"/>
<line x1="506.77" y1="655.19" x2="506.77" y2="657.19" stroke="#3a3a3a" stroke-width="0.55"/>
<line x1="509.88" y1="655.27" x2="509.88" y2="657.27" stroke="#3a3a3a" stroke-width="0.55"/>
<line x1="512.56" y1="655.35" x2="512.56" y2="657.35" stroke="#3a3a3a" stroke-width="0.55"/>
<line x1="515.78" y1="655.42" x2="515.78" y2="657.42" stroke="#3a3a3a" stroke-width="0.55"/>
<polyline points="442.5,595.1 444.73,595.1 444.73,595.9 446.8,595.9 446.8,596.7 447.76,596.7 447.76,598.17 449.09,598.17 449.09,599.63 450.1,599.63 450.1,601.1 450.89,601.1 450.89,602.4 451.69,602.4 451.69,603.7 452.6,603.7 452.6,605 453.53,605 453.53,606.3 454.4,606.3 454.4,607.6 456.08,607.6 456.08,608.7 457.64,608.7 457.64,609.8 459.19,609.8 459.19,610.9 461,610.9 461,612 462.79,612 462.79,612.73 464.84,612.73 464.84,613.47 466.4,613.47 466.4,614.2 467.51,614.2 467.51,615.55 468.75,615.55 468.75,616.9 469.54,616.9 469.54,618.25 470.8,618.25 470.8,619.6 472.67,619.6 472.67,620.7 474.24,620.7 474.24,621.8 475.7,621.8 475.7,622.9 477.3,622.9 477.3,624 478.96,624 478.96,625.1 480.6,625.1 480.6,626.2 481.16,626.2 481.16,627.55 481.77,627.55 481.77,628.9 482.18,628.9 482.18,630.25 482.8,630.25 482.8,631.6 485.09,631.6 485.09,632.1 487.2,632.1 487.2,632.6 488.29,632.6 488.29,633.95 489.29,633.95 489.29,635.3 490.5,635.3 490.5,636.65 491.5,636.65 491.5,638 499.2,638 500.37,638 500.37,639.35 501.4,639.35 501.4,640.7 501.84,640.7 501.84,642.05 502.4,642.05 502.4,643.4 535.7,643.4 536.3,672.3" fill="none" stroke="#f26088" stroke-width="0.6"/>
<line x1="443" y1="594.1" x2="443" y2="596.1" stroke="#f26088" stroke-width="0.55"/>
<line x1="447.3" y1="595.7" x2="447.3" y2="597.7" stroke="#f26088" stroke-width="0.55"/>
<line x1="449.59" y1="598.63" x2="449.59" y2="600.63" stroke="#f26088" stroke-width="0.55"/>
<line x1="452.19" y1="602.7" x2="452.19" y2="604.7" stroke="#f26088" stroke-width="0.55"/>
<line x1="454.03" y1="605.3" x2="454.03" y2="607.3" stroke="#f26088" stroke-width="0.55"/>
<line x1="456.58" y1="607.7" x2="456.58" y2="609.7" stroke="#f26088" stroke-width="0.55"/>
<line x1="459.69" y1="609.9" x2="459.69" y2="611.9" stroke="#f26088" stroke-width="0.55"/>
<line x1="463.29" y1="611.73" x2="463.29" y2="613.73" stroke="#f26088" stroke-width="0.55"/>
<line x1="466.9" y1="613.2" x2="466.9" y2="615.2" stroke="#f26088" stroke-width="0.55"/>
<line x1="470.04" y1="617.25" x2="470.04" y2="619.25" stroke="#f26088" stroke-width="0.55"/>
<line x1="473.17" y1="619.7" x2="473.17" y2="621.7" stroke="#f26088" stroke-width="0.55"/>
<line x1="476.2" y1="621.9" x2="476.2" y2="623.9" stroke="#f26088" stroke-width="0.55"/>
<line x1="479.46" y1="624.1" x2="479.46" y2="626.1" stroke="#f26088" stroke-width="0.55"/>
<line x1="485.59" y1="631.1" x2="485.59" y2="633.1" stroke="#f26088" stroke-width="0.55"/>
<line x1="488.79" y1="632.95" x2="488.79" y2="634.95" stroke="#f26088" stroke-width="0.55"/>
<line x1="491" y1="635.65" x2="491" y2="637.65" stroke="#f26088" stroke-width="0.55"/>
<line x1="499.7" y1="637" x2="499.7" y2="639" stroke="#f26088" stroke-width="0.55"/>
<line x1="502.9" y1="642.4" x2="502.9" y2="644.4" stroke="#f26088" stroke-width="0.55"/>
<text x="538.5" y="597.4" font-size="4.5" text-anchor="end" fill="#111" font-family="'Liberation Sans', sans-serif" stroke="#111" stroke-width="0.12">HR = 0.52 (0.34 − 0.8)</text>
<text x="538.3" y="603.1" font-size="4.5" text-anchor="end" fill="#111" font-family="'Liberation Sans', sans-serif" stroke="#111" stroke-width="0.12">logrank P = 0.0024</text>
<text x="441" y="661.9" font-size="4.8" text-anchor="start" fill="#111" font-family="'Liberation Sans', sans-serif" stroke="#111" stroke-width="0.12">Expression</text>
<line x1="442.6" y1="666.7" x2="451.2" y2="666.7" stroke="#bbbbbb" stroke-width="0.8"/>
<line x1="442.6" y1="671.5" x2="451.2" y2="671.5" stroke="#f8c0d0" stroke-width="0.8"/>
<text x="455.2" y="668.8" font-size="4.6" text-anchor="start" fill="#111" font-family="'Liberation Sans', sans-serif" stroke="#111" stroke-width="0.12">low</text>
<text x="455.2" y="673.6" font-size="4.6" text-anchor="start" fill="#111" font-family="'Liberation Sans', sans-serif" stroke="#111" stroke-width="0.12">high</text>
<text x="438.8" y="694.3" font-size="3.1" text-anchor="start" fill="#111" font-family="'Liberation Sans', sans-serif" stroke="#111" stroke-width="0.12">Number at risk</text>
<text x="429.6" y="698.3" font-size="2.9" text-anchor="start" fill="#111" font-family="'Liberation Sans', sans-serif" stroke="#111" stroke-width="0.12">low</text>
<text x="429.6" y="701.9" font-size="2.9" text-anchor="start" fill="#f26088" font-family="'Liberation Sans', sans-serif">high</text>
<text x="442.6" y="698.3" font-size="2.9" text-anchor="middle" fill="#111" font-family="'Liberation Sans', sans-serif" stroke="#111" stroke-width="0.12">60</text>
<text x="442.6" y="701.9" font-size="2.9" text-anchor="middle" fill="#f26088" font-family="'Liberation Sans', sans-serif">19</text>
<text x="466" y="698.3" font-size="2.9" text-anchor="middle" fill="#111" font-family="'Liberation Sans', sans-serif" stroke="#111" stroke-width="0.12">27</text>
<text x="466" y="701.9" font-size="2.9" text-anchor="middle" fill="#f26088" font-family="'Liberation Sans', sans-serif">15</text>
<text x="489.2" y="698.3" font-size="2.9" text-anchor="middle" fill="#111" font-family="'Liberation Sans', sans-serif" stroke="#111" stroke-width="0.12">11</text>
<text x="489.2" y="701.9" font-size="2.9" text-anchor="middle" fill="#f26088" font-family="'Liberation Sans', sans-serif">10</text>
<text x="511.8" y="698.3" font-size="2.9" text-anchor="middle" fill="#111" font-family="'Liberation Sans', sans-serif" stroke="#111" stroke-width="0.12">3</text>
<text x="511.8" y="701.9" font-size="2.9" text-anchor="middle" fill="#f26088" font-family="'Liberation Sans', sans-serif">1</text>
<text x="535.2" y="698.3" font-size="2.9" text-anchor="middle" fill="#111" font-family="'Liberation Sans', sans-serif" stroke="#111" stroke-width="0.12">0</text>
<text x="535.2" y="701.9" font-size="2.9" text-anchor="middle" fill="#f26088" font-family="'Liberation Sans', sans-serif">1</text>
</svg></body></html>
